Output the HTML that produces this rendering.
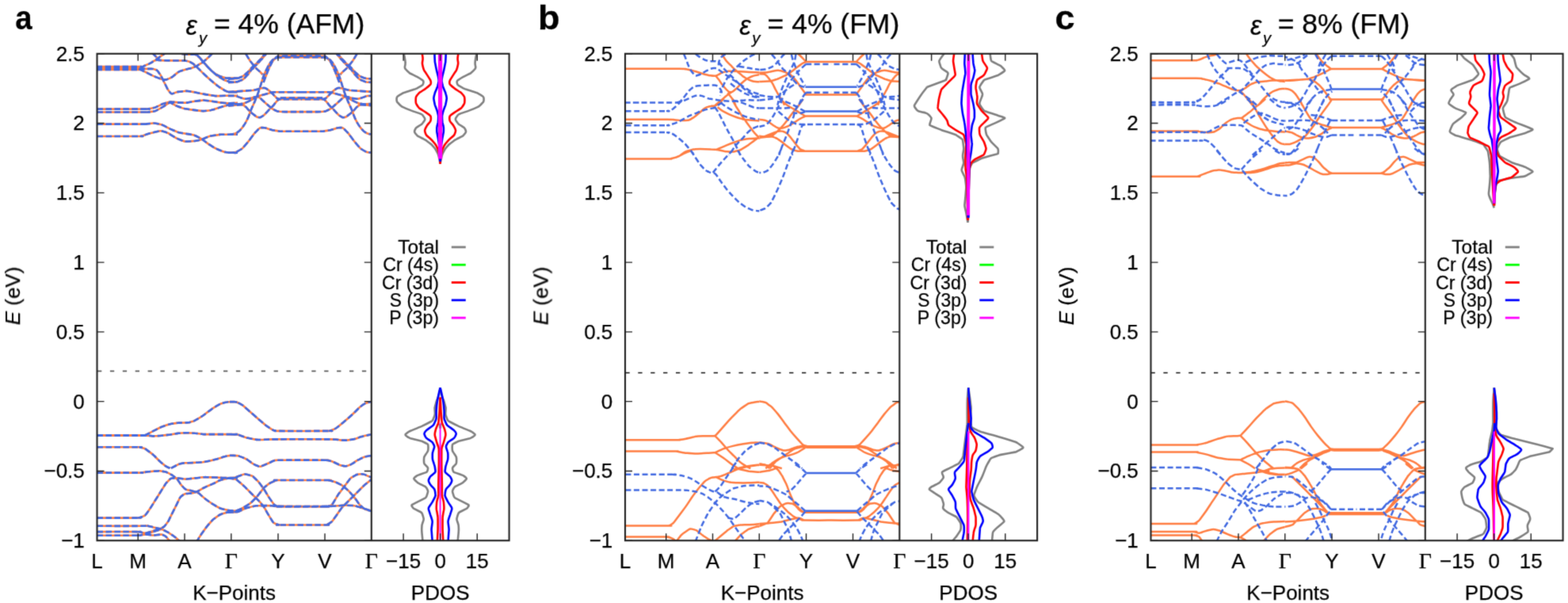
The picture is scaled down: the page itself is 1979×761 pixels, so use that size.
<!DOCTYPE html><html><head><meta charset="utf-8"><style>html,body{margin:0;padding:0;background:#fff;}svg{display:block;}#w{width:1979px;height:761px;}text{font-family:"Liberation Sans",Arial,sans-serif;stroke:#000;stroke-width:0.25px;}</style></head><body>
<div id="w"><svg width="1979" height="761" viewBox="0 0 1979 761">
<defs><filter id="bl" filterUnits="userSpaceOnUse" x="0" y="0" width="1979" height="761" color-interpolation-filters="sRGB"><feConvolveMatrix order="3" kernelMatrix="0.019 0.1 0.019 0.1 0.524 0.1 0.019 0.1 0.019" edgeMode="duplicate"/></filter></defs><rect width="100%" height="100%" fill="#fff"/><g filter="url(#bl)">
<clipPath id="clipa"><rect x="122.5" y="67.8" width="346.3" height="614.4000000000001"/></clipPath>
<g clip-path="url(#clipa)" fill="none" stroke-linecap="butt" stroke-linejoin="round"><defs><path id="pa" d="M121.8 84.1C131.3 84.1 169.4 84.1 178.9 84.1M121.8 86.0C131.3 86.0 169.4 86.0 178.9 86.0M121.8 88.0C131.3 88.0 169.4 88.0 178.9 88.0M177.0 85.8C178.1 85.2 181.6 83.4 183.5 82.5C185.3 81.7 187.0 81.0 188.1 80.6C189.1 80.1 189.3 80.0 189.9 79.7C190.5 79.4 190.8 79.2 191.6 78.7C192.4 78.2 193.9 77.2 194.7 76.7C195.5 76.3 195.8 76.1 196.4 75.9C197.0 75.8 197.2 75.8 198.3 75.8C199.4 75.8 200.5 76.0 202.8 76.1C205.1 76.2 207.3 76.3 212.0 76.4C216.7 76.4 227.6 76.5 231.2 76.5C234.7 76.6 232.5 76.6 233.1 76.6C233.7 76.7 234.2 76.7 234.8 76.8C235.5 76.9 236.4 77.1 237.0 77.2C237.7 77.3 238.1 77.4 238.7 77.7C239.2 77.9 239.7 78.1 240.3 78.4C241.0 78.8 241.9 79.3 242.5 79.7C243.2 80.1 243.6 80.4 244.1 80.8C244.7 81.2 244.6 81.1 245.7 82.1C246.7 83.0 248.6 84.7 250.6 86.7C252.7 88.7 255.2 91.4 258.0 94.0C260.8 96.6 264.4 99.9 267.2 102.3C270.0 104.7 273.3 107.2 274.8 108.4C276.4 109.6 275.9 109.2 276.4 109.6C277.0 110.0 277.2 110.1 278.1 110.7C279.0 111.3 281.1 112.6 282.1 113.2C283.0 113.8 283.2 113.9 283.7 114.2C284.2 114.4 284.6 114.6 285.1 114.8C285.7 115.1 286.4 115.4 287.0 115.6C287.5 115.8 287.9 115.9 288.5 116.0C289.1 116.1 288.4 116.1 290.4 116.1C292.3 116.2 298.4 116.3 300.0 116.3M175.2 86.7C176.7 86.7 181.7 86.8 184.4 86.9C187.1 86.9 190.1 86.8 191.6 86.9C193.1 86.9 192.9 86.9 193.4 87.0C194.0 87.1 194.4 87.2 195.0 87.4C195.5 87.5 196.3 87.8 196.8 88.0C197.3 88.3 197.7 88.4 198.1 88.8C198.6 89.2 198.8 89.4 199.4 90.1C199.9 90.9 201.1 92.5 201.6 93.3C202.2 94.1 202.4 94.4 202.7 95.0C203.1 95.6 202.9 95.2 203.7 96.7C204.5 98.3 206.2 101.7 207.4 104.2C208.6 106.6 210.3 110.0 211.1 111.6C211.9 113.1 211.7 112.7 212.1 113.3C212.5 113.8 212.7 114.2 213.3 114.9C213.8 115.6 214.7 116.8 215.3 117.3C215.9 117.9 216.2 118.2 216.7 118.3C217.3 118.4 217.7 118.3 218.4 118.1C219.2 117.9 220.4 117.2 221.2 116.9C222.0 116.6 222.4 116.4 223.1 116.3C223.7 116.1 223.4 116.1 225.0 115.9C226.7 115.7 231.3 115.1 233.0 115.0C234.7 114.8 234.3 114.9 235.0 114.9C235.7 114.9 235.4 114.8 237.0 115.0C238.5 115.2 240.7 115.5 244.2 116.1C247.7 116.8 253.7 118.1 258.0 118.9C262.3 119.7 267.5 120.5 269.8 120.8C272.1 121.2 271.1 121.0 271.8 121.1C272.5 121.1 271.5 121.2 273.8 121.1C276.1 121.1 281.2 120.8 285.6 120.7C290.0 120.7 297.6 120.7 300.0 120.7M175.2 87.1C176.7 87.8 181.3 89.8 184.4 91.3C187.5 92.7 190.8 94.6 193.6 95.9C196.4 97.1 199.4 98.2 200.9 98.8C202.5 99.4 202.2 99.3 202.8 99.5C203.4 99.7 204.0 99.8 204.7 100.0C205.5 100.1 206.6 100.4 207.3 100.5C208.1 100.6 208.6 100.7 209.2 100.6C209.8 100.6 210.1 100.5 211.1 100.1C212.0 99.8 213.9 98.9 214.8 98.5C215.7 98.1 216.0 97.9 216.5 97.6C217.1 97.3 216.9 97.5 218.2 96.5C219.4 95.5 222.9 92.6 224.2 91.6C225.5 90.6 225.3 90.8 225.9 90.5C226.5 90.2 226.2 90.3 227.7 89.8C229.2 89.3 232.9 88.2 235.0 87.6C237.1 87.0 239.2 86.6 240.4 86.2C241.6 85.9 241.7 85.9 242.3 85.7C243.0 85.5 243.4 85.3 244.2 85.0C245.0 84.7 246.2 84.1 247.0 83.8C247.7 83.4 248.2 83.2 248.8 82.9C249.3 82.6 249.5 82.5 250.5 81.9C251.4 81.4 253.5 80.1 254.5 79.5C255.4 78.9 255.6 78.7 256.1 78.3C256.6 77.9 256.4 78.1 257.7 77.1C258.9 76.0 261.6 73.7 263.5 72.0C265.4 70.2 268.1 67.4 269.0 66.4M191.8 66.4C192.7 67.4 196.5 71.2 197.7 72.4C198.9 73.6 198.6 73.2 198.9 73.5C199.2 73.9 199.3 73.9 199.7 74.2C200.0 74.5 200.7 75.0 201.0 75.2M196.4 75.6C197.4 74.9 200.6 72.6 202.8 71.0C205.0 69.5 208.5 67.2 209.7 66.4M229.5 68.1C230.5 68.2 234.4 68.5 235.8 68.7C237.1 68.8 237.1 68.8 237.8 68.8C238.4 68.8 238.7 68.8 239.8 68.7C240.8 68.7 243.0 68.6 244.0 68.6C245.1 68.5 245.3 68.6 245.9 68.7C246.4 68.8 246.9 69.0 247.4 69.2C248.0 69.5 248.7 69.9 249.3 70.3C249.8 70.6 250.2 70.8 250.6 71.2C251.1 71.6 251.0 71.5 251.9 72.6C252.9 73.6 254.4 75.4 256.2 77.5C257.9 79.5 260.7 82.8 262.6 84.8C264.5 86.9 266.5 88.8 267.6 89.9C268.7 90.9 268.6 90.8 269.1 91.2C269.6 91.6 269.8 91.7 270.7 92.3C271.7 92.9 273.7 94.2 274.7 94.8C275.7 95.4 275.8 95.5 276.4 95.8C277.1 96.0 277.1 96.1 278.3 96.5C279.5 96.8 282.5 97.7 283.7 98.1C284.9 98.4 285.0 98.4 285.6 98.5C286.3 98.6 285.2 98.6 287.6 98.6C290.0 98.7 298.0 98.6 300.0 98.6M246.0 66.4C247.3 67.8 250.9 72.0 253.4 74.7C255.8 77.5 258.5 80.5 260.8 83.0C263.1 85.5 265.1 87.5 267.2 89.4C269.2 91.4 271.8 93.5 273.0 94.6C274.3 95.6 274.1 95.4 274.6 95.8C275.1 96.2 275.0 96.1 276.3 96.9C277.5 97.7 280.8 99.6 282.0 100.4C283.3 101.1 283.2 101.0 283.8 101.3C284.4 101.5 284.6 101.6 285.7 101.9C286.7 102.2 289.0 102.9 290.1 103.2C291.2 103.4 291.4 103.5 292.1 103.5C292.7 103.6 292.7 103.6 294.0 103.6C295.4 103.5 299.0 103.3 300.0 103.2M122.6 137.6C132.8 137.6 173.2 137.6 183.7 137.6C194.2 137.6 185.0 137.6 185.7 137.5C186.3 137.4 186.2 137.5 187.7 137.2C189.1 137.0 192.8 136.3 194.2 136.0C195.7 135.7 195.5 135.7 196.2 135.5C196.8 135.3 196.8 135.3 198.0 134.7C199.2 134.1 202.4 132.5 203.6 131.9C204.9 131.3 204.8 131.3 205.4 131.1C206.1 130.9 206.1 130.8 207.3 130.5C208.5 130.1 211.5 129.3 212.7 128.9C213.9 128.6 214.0 128.6 214.6 128.6C215.3 128.5 214.8 128.4 216.6 128.6C218.3 128.7 222.3 129.3 225.1 129.4C227.9 129.6 231.9 129.6 233.6 129.7C235.4 129.7 235.0 129.7 235.6 129.6C236.3 129.6 235.8 129.7 237.6 129.3C239.3 129.0 243.3 128.2 246.1 127.7C249.0 127.3 252.9 126.9 254.7 126.7C256.4 126.5 256.0 126.5 256.6 126.5C257.3 126.5 256.9 126.5 258.6 126.7C260.4 126.9 264.0 127.3 267.2 127.7C270.3 128.2 274.5 129.0 277.7 129.4C280.8 129.9 284.4 130.0 286.2 130.2C287.9 130.3 287.5 130.3 288.2 130.3C288.8 130.3 288.2 130.4 290.2 130.3C292.1 130.2 298.4 129.8 300.0 129.7M122.6 141.5C132.8 141.5 173.2 141.5 183.7 141.5C194.2 141.5 185.0 141.5 185.7 141.5C186.4 141.4 186.3 141.5 187.7 141.3C189.1 141.1 192.8 140.7 194.2 140.5C195.6 140.3 195.5 140.2 196.1 140.0C196.8 139.8 196.4 140.1 197.9 139.2C199.5 138.4 202.9 136.5 205.4 135.0C207.9 133.4 211.4 131.0 212.9 130.1C214.5 129.2 214.0 129.6 214.6 129.6C215.2 129.6 215.3 129.5 216.3 130.1C217.4 130.6 219.7 132.1 220.8 132.6C221.8 133.2 221.9 133.3 222.5 133.6C223.1 133.8 223.2 133.9 224.4 134.3C225.6 134.8 228.6 135.8 229.8 136.3C231.0 136.7 231.1 136.7 231.7 136.8C232.3 137.0 231.5 136.9 233.7 137.2C235.8 137.6 241.3 138.4 244.8 138.9C248.3 139.4 252.7 139.8 254.7 140.0C256.6 140.2 256.0 140.1 256.6 140.1C257.3 140.1 257.2 140.1 258.6 140.0C260.1 139.8 263.8 139.3 265.2 139.2C266.6 139.0 266.5 139.0 267.1 138.8C267.8 138.7 267.3 138.8 269.1 138.3C270.8 137.8 274.8 136.5 277.7 135.6C280.5 134.7 284.5 133.5 286.3 132.9C288.0 132.4 287.5 132.6 288.2 132.4C288.8 132.3 288.2 132.3 290.2 132.1C292.1 131.9 298.4 131.2 300.0 131.0M122.6 156.6C132.4 156.6 171.0 156.7 181.1 156.6C191.1 156.6 182.4 156.6 183.1 156.6C183.7 156.6 183.4 156.6 185.1 156.4C186.7 156.2 191.3 155.7 192.9 155.5C194.5 155.4 194.2 155.5 194.9 155.5C195.5 155.5 195.6 155.5 196.8 155.7C198.1 156.0 200.9 156.6 202.1 156.9C203.3 157.2 203.4 157.2 204.0 157.4C204.7 157.6 204.1 157.3 205.9 158.2C207.6 159.1 211.7 161.2 214.6 162.6C217.5 163.9 221.5 165.6 223.3 166.4C225.0 167.1 224.5 166.8 225.1 167.0C225.8 167.2 225.3 167.2 227.1 167.5C228.8 167.8 233.0 168.4 235.6 168.9C238.2 169.3 241.3 169.8 242.8 170.1C244.4 170.4 244.1 170.4 244.8 170.6C245.4 170.8 245.4 170.7 246.6 171.3C247.9 171.9 251.0 173.5 252.2 174.1C253.5 174.8 253.4 174.8 254.0 175.1C254.5 175.5 254.3 175.3 255.6 176.2C256.9 177.2 259.4 179.2 261.9 180.9C264.4 182.7 269.0 185.4 270.7 186.5C272.5 187.5 271.9 187.1 272.5 187.4C273.0 187.7 272.6 187.6 274.3 188.2C275.9 188.9 280.7 190.8 282.4 191.4C284.0 192.0 283.6 191.8 284.3 192.0C284.9 192.1 284.5 192.1 286.2 192.2C288.0 192.4 292.5 192.7 294.7 192.8C297.0 192.9 299.1 192.8 300.0 192.8M122.6 172.0C131.5 172.0 166.6 172.0 175.8 172.0C185.0 172.0 177.1 172.0 177.8 171.9C178.4 171.7 177.9 171.9 179.7 171.4C181.5 170.8 184.8 169.5 188.3 168.5C191.8 167.5 198.4 165.9 200.8 165.4C203.2 164.9 202.1 165.2 202.8 165.2C203.4 165.2 203.5 165.2 204.7 165.5C205.9 165.9 208.9 166.8 210.1 167.2C211.3 167.6 211.3 167.6 211.9 167.9C212.5 168.2 212.2 168.0 213.7 168.9C215.1 169.8 219.3 172.4 220.8 173.3C222.3 174.2 221.9 174.0 222.5 174.3C223.1 174.6 222.9 174.5 224.3 175.1C225.8 175.7 229.7 177.3 231.1 177.8C232.6 178.4 232.4 178.3 233.0 178.4C233.7 178.5 233.4 178.5 235.0 178.5C236.6 178.5 241.2 178.2 242.8 178.1C244.5 178.1 244.2 178.1 244.8 178.0C245.5 177.9 245.6 177.9 246.8 177.7C248.0 177.5 250.9 177.0 252.1 176.7C253.2 176.5 253.3 176.4 254.0 176.2C254.6 176.0 254.4 176.2 255.8 175.5C257.3 174.9 261.2 173.2 262.7 172.6C264.1 171.9 263.9 172.1 264.6 171.9C265.2 171.7 264.7 171.8 266.5 171.5C268.4 171.2 273.8 170.3 275.7 170.1C277.5 169.8 277.0 169.9 277.7 169.9C278.3 169.8 277.5 169.8 279.7 169.8C281.9 169.8 287.4 169.8 290.8 169.8C294.2 169.8 298.5 169.8 300.0 169.8M122.6 549.4C132.4 549.4 171.0 549.4 181.1 549.4C191.1 549.3 182.4 549.3 183.0 549.2C183.6 549.0 183.1 549.3 184.8 548.5C186.6 547.6 190.7 545.4 193.6 543.9C196.5 542.4 200.5 540.4 202.3 539.5C204.1 538.6 203.5 538.9 204.1 538.7C204.7 538.4 204.6 538.5 206.0 538.0C207.4 537.5 211.3 536.2 212.7 535.7C214.1 535.2 214.0 535.3 214.6 535.2C215.3 535.0 215.2 535.0 216.6 534.8C218.0 534.6 221.7 534.1 223.1 533.9C224.6 533.7 224.5 533.7 225.1 533.7C225.8 533.6 225.3 533.6 227.1 533.6C229.0 533.5 234.4 533.5 236.3 533.4C238.1 533.3 237.6 533.3 238.2 533.2C238.9 533.1 239.1 533.0 240.1 532.7C241.1 532.4 243.2 531.7 244.2 531.4C245.2 531.0 245.5 530.9 246.1 530.6C246.7 530.3 246.1 530.7 247.8 529.7C249.6 528.6 253.4 526.4 256.6 524.2C259.9 521.9 263.9 518.5 267.2 516.3C270.4 514.0 274.2 511.8 276.0 510.8C277.7 509.7 277.1 510.1 277.7 509.9C278.3 509.6 278.2 509.6 279.6 509.2C281.0 508.8 284.8 507.9 286.2 507.6C287.7 507.2 287.5 507.3 288.2 507.2C288.8 507.1 289.2 507.1 290.2 507.1C291.2 507.1 293.1 507.1 294.1 507.1C295.0 507.1 295.3 507.1 295.9 507.1C296.4 507.2 296.6 507.2 297.2 507.3C297.9 507.4 299.5 507.7 300.0 507.7M122.6 549.8C132.7 549.8 171.6 549.7 183.1 549.8C194.6 549.9 189.8 550.2 191.6 550.3C193.3 550.4 192.9 550.4 193.6 550.4C194.2 550.4 193.8 550.4 195.6 550.3C197.3 550.2 200.9 550.1 204.1 549.8C207.3 549.5 211.4 548.9 214.6 548.5C217.8 548.0 221.4 547.4 223.1 547.1C224.9 546.8 224.5 546.9 225.1 546.8C225.8 546.7 225.4 546.8 227.1 546.7C228.9 546.6 232.5 546.2 235.6 546.2C238.8 546.3 243.0 546.5 246.1 546.8C249.3 547.0 252.9 547.6 254.7 547.8C256.4 548.0 256.0 548.0 256.6 548.0C257.3 548.1 255.1 548.1 258.6 548.1C262.1 548.1 270.8 548.1 277.7 548.1C284.6 548.1 296.3 548.1 300.0 548.1M122.6 564.2C131.3 564.2 165.5 564.2 174.5 564.2C183.5 564.3 175.8 564.3 176.5 564.4C177.1 564.5 177.6 564.6 178.4 564.8C179.2 565.0 180.4 565.4 181.2 565.6C181.9 565.9 182.4 566.1 183.0 566.4C183.6 566.7 183.2 566.3 184.7 567.4C186.2 568.5 190.5 571.8 192.0 572.9C193.5 574.0 193.0 573.7 193.5 574.1C194.0 574.6 193.7 574.2 195.0 575.5C196.3 576.8 199.3 580.0 201.5 582.0C203.6 583.9 206.5 586.2 207.8 587.3C209.1 588.3 208.8 588.1 209.4 588.4C209.9 588.7 210.0 588.8 210.9 589.3C211.8 589.7 214.0 590.6 214.6 590.9M215.9 590.9C217.2 590.2 221.8 587.7 223.4 586.9C224.9 586.1 224.5 586.3 225.2 586.0C225.8 585.8 226.3 585.7 227.1 585.4C227.8 585.2 229.0 585.0 229.7 584.8C230.5 584.6 231.0 584.5 231.7 584.4C232.4 584.4 231.5 584.4 233.7 584.3C235.9 584.2 241.1 584.1 244.8 583.9C248.5 583.8 253.8 583.3 256.0 583.2C258.2 583.0 257.3 583.0 257.9 582.9C258.6 582.8 257.7 583.1 259.9 582.6C262.1 582.1 267.0 581.1 271.1 580.0C275.2 578.9 281.3 576.9 284.2 576.1C287.2 575.2 287.7 575.3 288.8 575.1C289.9 574.9 290.2 574.9 290.8 574.9C291.5 574.8 291.3 574.8 292.8 574.8C294.3 574.9 298.8 575.1 300.0 575.1M290.0 507.1C291.0 507.1 294.6 507.0 295.9 507.1C297.2 507.1 297.2 507.2 297.8 507.3C298.5 507.5 298.6 507.5 299.7 508.0C300.7 508.4 303.0 509.6 304.0 510.1C305.0 510.7 305.1 510.8 305.7 511.1C306.2 511.5 305.5 510.8 307.3 512.3C309.0 513.9 313.0 517.4 316.3 520.2C319.5 523.1 323.8 526.8 326.8 529.4C329.8 532.0 332.9 534.7 334.5 536.0C336.0 537.3 335.5 536.8 336.0 537.2C336.6 537.6 336.4 537.6 337.7 538.4C338.9 539.2 342.2 541.4 343.5 542.1C344.8 542.9 344.6 542.8 345.3 543.0C345.9 543.2 345.9 543.2 347.2 543.4C348.5 543.5 341.9 543.8 353.1 543.9C364.2 544.0 403.6 543.9 414.1 543.9C424.6 543.8 415.5 543.8 416.1 543.7C416.7 543.5 417.0 543.5 418.0 543.1C419.0 542.7 421.2 541.8 422.2 541.4C423.2 540.9 423.4 540.8 423.9 540.5C424.5 540.1 423.8 540.7 425.6 539.3C427.3 537.9 431.3 534.8 434.5 532.0C437.8 529.3 442.0 525.7 445.0 522.8C448.1 520.0 451.3 516.6 452.8 515.1C454.4 513.5 453.8 514.1 454.3 513.7C454.8 513.3 455.1 513.1 455.9 512.5C456.7 511.9 458.3 510.7 459.2 510.2C460.0 509.6 460.3 509.5 460.9 509.2C461.5 508.9 462.0 508.7 462.7 508.5C463.5 508.2 464.7 507.9 465.5 507.7C466.2 507.4 466.7 507.3 467.4 507.2C468.0 507.1 468.3 507.1 469.3 507.0C470.4 506.9 473.2 506.8 473.9 506.8M290.0 548.1C291.4 548.1 296.8 548.3 298.5 548.4C300.3 548.5 299.8 548.5 300.5 548.6C301.1 548.8 300.9 548.7 302.4 549.2C303.8 549.7 307.7 551.2 309.1 551.7C310.6 552.2 310.4 552.1 311.0 552.3C311.7 552.5 311.1 552.4 313.0 552.8C314.8 553.2 320.3 554.3 322.2 554.6C324.1 555.0 323.5 554.9 324.2 554.9C324.8 555.0 324.8 555.0 326.2 555.0C327.5 555.1 328.9 555.1 332.0 555.0C335.2 554.9 331.2 554.5 345.2 554.4C359.2 554.3 402.1 554.2 416.1 554.4C430.1 554.6 426.1 555.2 429.3 555.4C432.4 555.6 433.8 555.6 435.2 555.6C436.5 555.7 436.5 555.6 437.2 555.6C437.8 555.6 437.7 555.6 439.1 555.4C440.6 555.2 444.3 554.6 445.7 554.4C447.1 554.2 447.0 554.2 447.6 554.0C448.3 553.9 448.1 553.9 449.6 553.5C451.0 553.0 454.8 551.6 456.3 551.1C457.7 550.6 457.6 550.7 458.2 550.5C458.8 550.3 458.9 550.3 460.1 550.0C461.3 549.8 464.2 549.1 465.4 548.9C466.6 548.6 466.7 548.6 467.4 548.5C468.0 548.5 468.3 548.4 469.3 548.3C470.4 548.3 473.2 548.1 473.9 548.1M290.0 574.7C291.4 574.8 296.8 575.0 298.5 575.1C300.3 575.2 299.8 575.2 300.5 575.3C301.1 575.4 300.9 575.3 302.4 575.9C303.8 576.4 307.7 578.0 309.2 578.6C310.6 579.2 310.4 579.1 311.0 579.4C311.5 579.8 311.4 579.6 312.6 580.5C313.9 581.4 317.3 583.9 318.6 584.8C319.9 585.6 319.7 585.5 320.3 585.8C320.9 586.1 321.1 586.2 322.1 586.7C323.1 587.1 325.3 588.1 326.3 588.4C327.3 588.8 327.5 588.8 328.1 588.8C328.7 588.8 328.4 589.0 329.9 588.4C331.5 587.8 334.8 586.4 337.3 585.3C339.8 584.2 343.1 582.5 344.7 581.8C346.2 581.1 345.9 581.3 346.5 581.1C347.2 581.0 347.0 580.9 348.5 580.9C350.0 580.8 345.4 580.7 355.7 580.7C366.0 580.6 400.8 580.6 410.2 580.7C419.6 580.7 411.5 580.7 412.2 580.8C412.8 580.9 413.1 580.9 414.1 581.1C415.1 581.4 417.2 581.9 418.1 582.1C419.1 582.4 419.4 582.5 420.0 582.7C420.7 583.0 420.6 582.9 421.9 583.5C423.1 584.1 426.2 585.7 427.5 586.3C428.7 586.9 428.7 586.9 429.3 587.1C429.9 587.3 430.5 587.4 431.2 587.6C432.0 587.8 433.1 588.0 433.9 588.1C434.6 588.3 435.2 588.3 435.8 588.3C436.5 588.3 437.0 588.2 437.8 588.0C438.5 587.8 439.7 587.4 440.5 587.1C441.3 586.9 441.8 586.7 442.4 586.4C443.0 586.2 442.8 586.3 444.1 585.5C445.4 584.7 448.7 582.5 449.9 581.7C451.2 580.9 451.1 581.0 451.6 580.7C452.2 580.4 452.4 580.3 453.4 579.8C454.4 579.2 456.7 578.1 457.7 577.6C458.7 577.1 458.9 577.1 459.5 576.8C460.2 576.6 460.5 576.5 461.5 576.3C462.4 576.1 464.4 575.7 465.4 575.5C466.4 575.3 466.7 575.3 467.4 575.2C468.0 575.1 468.3 575.1 469.3 575.0C470.4 574.9 473.2 574.8 473.9 574.7M122.6 596.6C131.5 596.6 166.6 596.6 175.8 596.6C185.0 596.6 177.1 596.5 177.8 596.5C178.5 596.5 178.0 596.5 179.8 596.3C181.5 596.1 185.0 595.6 188.3 595.2C191.6 594.9 197.3 594.5 199.5 594.4C201.7 594.2 200.8 594.3 201.5 594.3C202.1 594.3 202.4 594.4 203.4 594.5C204.4 594.7 206.4 595.0 207.4 595.2C208.3 595.4 208.7 595.4 209.3 595.7C209.9 595.9 210.1 595.9 211.1 596.4C212.2 596.9 214.4 598.0 215.4 598.6C216.4 599.1 216.6 599.2 217.2 599.5C217.7 599.9 217.9 600.0 218.8 600.7C219.6 601.4 221.4 602.8 222.2 603.5C223.1 604.1 223.2 604.3 223.7 604.8C224.1 605.3 224.2 605.4 224.9 606.4C225.6 607.4 227.2 609.9 227.9 610.9C228.6 612.0 228.7 612.0 229.1 612.5C229.5 613.0 229.8 613.4 230.5 614.0C231.1 614.7 232.2 615.8 232.9 616.4C233.6 617.0 233.9 617.3 234.4 617.6C235.0 617.9 235.0 617.9 236.3 618.2C237.6 618.5 240.2 618.9 242.2 619.4C244.2 619.9 246.9 620.8 248.2 621.2C249.5 621.6 249.4 621.7 250.0 622.0C250.5 622.3 250.0 621.8 251.6 623.1C253.1 624.4 256.7 627.7 259.3 629.7C261.8 631.7 265.3 634.0 266.8 635.1C268.4 636.2 267.9 635.8 268.5 636.2C269.1 636.6 269.0 636.5 270.2 637.2C271.4 638.0 274.7 639.8 275.9 640.5C277.2 641.2 277.1 641.1 277.7 641.4C278.3 641.6 278.2 641.6 279.6 642.0C281.0 642.4 284.8 643.3 286.2 643.6C287.7 644.0 287.5 643.9 288.2 644.0C288.8 644.1 288.2 644.1 290.2 644.2C292.1 644.4 298.4 644.7 300.0 644.8M122.6 653.6C131.1 653.6 164.4 653.6 173.2 653.6C181.9 653.6 174.5 653.5 175.2 653.4C175.8 653.3 176.1 653.2 177.1 652.9C178.1 652.6 180.2 651.8 181.2 651.4C182.2 651.0 182.4 650.8 182.9 650.5C183.4 650.1 183.1 650.6 184.2 649.1C185.4 647.6 187.6 644.5 189.6 641.5C191.6 638.5 194.0 634.5 196.2 631.0C198.4 627.5 200.8 623.7 202.8 620.5C204.8 617.3 207.2 613.4 208.3 611.7C209.4 609.9 209.0 610.6 209.4 610.0C209.8 609.5 209.9 609.4 210.8 608.5C211.6 607.7 213.6 605.6 214.5 604.8C215.4 604.0 215.5 604.0 216.1 603.7C216.6 603.5 217.0 603.5 217.9 603.4C218.9 603.3 220.8 603.4 221.8 603.4C222.8 603.4 223.1 603.4 223.8 603.5C224.5 603.5 224.4 603.5 225.8 603.6C227.2 603.8 230.9 604.3 232.3 604.5C233.7 604.6 233.6 604.6 234.3 604.6C235.0 604.6 234.3 604.7 236.3 604.5C238.3 604.3 242.6 603.8 246.1 603.4C249.6 603.0 255.1 602.5 257.3 602.3C259.5 602.1 258.6 602.2 259.3 602.1C259.9 602.1 258.2 602.1 261.3 602.2C264.3 602.3 273.1 602.5 277.7 602.7C282.3 602.9 286.6 603.2 288.8 603.3C291.0 603.4 290.1 603.3 290.8 603.3C291.5 603.3 291.3 603.4 292.8 603.3C294.3 603.2 298.8 602.8 300.0 602.7M122.6 663.8C132.0 663.8 168.9 663.9 179.1 663.8C189.3 663.8 182.6 663.6 183.7 663.6C184.8 663.5 185.0 663.5 185.7 663.6C186.3 663.7 186.3 663.6 187.6 663.9C188.9 664.2 191.2 664.8 193.6 665.4C196.0 666.0 200.4 666.9 202.1 667.3C203.9 667.7 203.4 667.7 204.0 667.9C204.7 668.1 204.9 668.2 205.9 668.7C206.9 669.2 209.2 670.3 210.2 670.8C211.2 671.3 211.4 671.4 211.9 671.8C212.5 672.1 212.6 672.1 213.6 672.8C214.7 673.5 217.2 675.2 218.2 675.9C219.2 676.6 219.3 676.6 219.8 677.0C220.3 677.4 219.8 677.0 221.4 678.3C222.9 679.6 227.8 683.8 229.1 684.9M122.6 671.1C131.1 671.1 164.4 671.0 173.2 671.1C181.9 671.1 174.5 671.1 175.2 671.2C175.8 671.3 176.1 671.3 177.1 671.5C178.1 671.8 180.1 672.3 181.1 672.5C182.1 672.7 182.4 672.8 183.1 672.8C183.7 672.8 183.5 672.9 185.0 672.5C186.5 672.1 189.7 671.2 192.3 670.4C194.8 669.6 198.0 668.5 200.1 667.8C202.2 667.0 203.8 666.4 204.9 665.9C205.9 665.4 206.0 665.3 206.6 664.9C207.1 664.6 207.3 664.4 208.0 663.6C208.7 662.8 210.1 661.0 210.7 660.1C211.4 659.3 211.5 659.1 211.9 658.5C212.2 658.0 212.0 658.5 212.9 656.8C213.8 655.0 215.6 651.3 217.2 648.1C218.8 644.9 220.9 640.8 222.5 637.6C224.1 634.3 225.9 630.6 226.8 628.8C227.7 627.1 227.5 627.7 227.9 627.2C228.3 626.7 228.7 626.3 229.3 625.9C229.9 625.4 230.8 624.7 231.4 624.3C232.0 623.9 232.5 623.6 233.1 623.4C233.7 623.1 233.8 623.1 235.0 623.0C236.2 622.8 239.0 622.7 240.2 622.6C241.4 622.5 241.5 622.5 242.2 622.3C242.8 622.2 243.3 622.1 244.1 621.9C244.9 621.7 246.1 621.3 246.8 621.0C247.6 620.8 248.1 620.6 248.7 620.4C249.3 620.1 249.2 620.2 250.5 619.5C251.7 618.8 255.0 616.9 256.2 616.2C257.5 615.5 257.4 615.6 258.0 615.3C258.6 615.0 258.0 615.2 259.8 614.4C261.5 613.6 265.8 611.9 268.5 610.6C271.2 609.4 274.3 607.7 275.9 606.9C277.4 606.2 277.1 606.4 277.7 606.1C278.3 605.9 278.2 605.9 279.6 605.5C281.0 605.2 284.8 604.2 286.2 603.9C287.7 603.5 287.5 603.6 288.2 603.5C288.8 603.4 288.2 603.4 290.2 603.3C292.1 603.2 298.4 602.8 300.0 602.7M122.6 675.7C131.1 675.7 164.4 675.7 173.2 675.7C181.9 675.6 174.5 675.6 175.2 675.6C175.8 675.5 176.0 675.5 177.2 675.4C178.4 675.2 181.2 674.8 182.4 674.6C183.6 674.5 183.7 674.5 184.4 674.5C185.0 674.5 185.2 674.5 186.4 674.6C187.6 674.8 190.4 675.2 191.6 675.4C192.8 675.5 192.9 675.5 193.6 675.5C194.2 675.5 194.1 675.6 195.6 675.4C197.0 675.3 200.7 674.7 202.1 674.6C203.5 674.5 203.4 674.5 204.0 674.6C204.6 674.7 205.0 674.9 205.7 675.1C206.3 675.4 207.2 675.8 207.8 676.2C208.4 676.5 208.8 676.8 209.3 677.2C209.7 677.5 209.5 677.2 210.6 678.5C211.7 679.8 215.0 683.8 215.9 684.9M183.1 674.3C184.8 673.8 190.1 672.2 193.6 671.1C197.1 670.0 202.3 668.3 204.1 667.8M247.4 684.9C248.5 683.1 251.8 677.6 254.0 674.3C256.2 671.1 258.4 668.0 260.6 665.1C262.8 662.3 265.8 659.0 267.2 657.5C268.5 656.0 268.1 656.5 268.6 656.0C269.0 655.6 268.8 655.7 270.1 654.8C271.3 653.9 274.8 651.4 276.0 650.5C277.3 649.7 277.1 649.8 277.7 649.5C278.3 649.2 278.6 649.1 279.6 648.7C280.6 648.4 282.7 647.7 283.7 647.4C284.7 647.1 284.9 647.0 285.6 646.9C286.2 646.7 285.1 646.8 287.5 646.6C289.9 646.4 297.9 645.9 300.0 645.7M287.4 603.4C288.6 603.3 293.0 603.0 294.6 602.9C296.1 602.7 295.9 602.7 296.5 602.6C297.2 602.4 296.8 602.6 298.4 602.0C300.1 601.4 304.9 599.5 306.5 598.9C308.2 598.3 307.8 598.5 308.4 598.4C309.0 598.4 308.9 598.3 310.3 598.6C311.8 598.9 315.6 599.9 317.0 600.3C318.4 600.7 318.2 600.7 318.8 601.0C319.3 601.3 319.2 601.1 320.3 602.2C321.4 603.2 324.3 606.1 325.4 607.2C326.4 608.3 326.3 608.2 326.7 608.7C327.2 609.2 326.8 608.8 328.0 610.3C329.1 611.8 331.4 614.8 333.4 617.8C335.4 620.9 337.9 625.3 339.9 628.4C341.9 631.4 344.2 634.4 345.3 635.9C346.4 637.4 346.1 636.9 346.6 637.3C347.1 637.7 347.5 637.9 348.1 638.1C348.7 638.4 349.5 638.7 350.2 638.9C350.8 639.1 351.3 639.3 351.9 639.4C352.5 639.5 344.0 639.5 353.8 639.5C363.5 639.6 400.5 639.6 410.2 639.5C419.9 639.5 411.5 639.5 412.2 639.4C412.8 639.3 413.3 639.2 414.1 639.0C414.9 638.7 416.1 638.4 416.8 638.1C417.6 637.9 418.0 637.7 418.5 637.3C419.0 636.9 418.6 637.7 419.8 635.8C421.0 634.0 424.5 628.0 425.6 626.1C426.8 624.2 426.3 625.0 426.7 624.4C427.1 623.9 426.5 624.6 427.8 622.8C429.2 621.1 432.3 616.9 434.5 613.9C436.8 610.9 439.9 606.7 441.2 605.0C442.5 603.3 442.1 604.0 442.5 603.5C443.0 603.1 443.1 603.0 444.1 602.4C445.1 601.8 447.5 600.4 448.6 599.8C449.6 599.2 449.7 599.2 450.4 599.0C451.0 598.8 451.3 598.7 452.3 598.6C453.3 598.5 455.2 598.3 456.2 598.3C457.2 598.3 457.5 598.3 458.1 598.4C458.8 598.5 458.7 598.4 460.0 598.9C461.3 599.4 464.0 600.6 466.1 601.4C468.2 602.3 471.5 603.6 472.6 604.1M287.4 603.4C288.8 603.6 294.2 604.2 295.9 604.5C297.6 604.7 297.2 604.7 297.8 605.0C298.3 605.2 297.6 604.5 299.4 606.0C301.2 607.5 305.1 610.8 308.4 613.9C311.6 617.0 315.9 621.4 318.9 624.4C322.0 627.5 325.2 630.7 326.7 632.2C328.2 633.7 327.6 633.2 328.1 633.7C328.5 634.1 328.7 634.3 329.4 635.2C330.0 636.0 331.5 637.8 332.1 638.6C332.8 639.5 332.9 639.7 333.3 640.2C333.7 640.8 333.5 640.4 334.4 641.9C335.2 643.4 337.0 646.7 338.6 649.4C340.2 652.1 343.0 656.5 344.1 658.2C345.3 659.9 344.9 659.2 345.4 659.7C345.9 660.1 346.3 660.3 347.0 660.6C347.8 661.0 349.1 661.5 349.9 661.8C350.7 662.1 351.1 662.2 351.8 662.3C352.4 662.5 344.0 662.5 353.8 662.5C363.5 662.6 400.5 662.6 410.2 662.5C419.9 662.5 411.5 662.4 412.1 662.3C412.7 662.1 413.1 661.9 413.9 661.5C414.7 661.0 416.3 660.1 417.0 659.6C417.8 659.1 418.1 658.9 418.6 658.4C419.1 658.0 418.8 658.5 419.9 657.0C421.0 655.4 423.5 651.9 425.3 649.4C427.1 646.9 429.6 643.3 430.7 641.8C431.8 640.3 431.5 640.7 432.0 640.2C432.4 639.7 431.8 640.3 433.3 638.8C434.8 637.2 438.3 633.8 441.1 631.0C443.9 628.2 447.5 624.6 450.3 621.8C453.1 619.0 456.5 615.5 458.1 614.0C459.6 612.5 459.0 613.1 459.5 612.6C460.0 612.2 458.9 613.1 461.1 611.3C463.2 609.6 470.7 603.6 472.6 602.1M287.4 645.7C288.8 645.6 294.1 645.1 295.9 645.0C297.6 644.8 297.2 644.8 297.8 644.6C298.5 644.5 298.7 644.4 299.7 644.0C300.7 643.6 302.9 642.7 303.9 642.3C304.9 641.8 305.1 641.7 305.7 641.4C306.3 641.1 306.0 641.3 307.5 640.4C308.9 639.5 313.1 636.9 314.6 636.0C316.0 635.1 315.7 635.3 316.2 634.8C316.7 634.4 316.6 634.6 317.7 633.5C318.8 632.5 321.7 629.5 322.7 628.5C323.8 627.4 323.7 627.5 324.1 627.0C324.6 626.5 324.1 627.2 325.4 625.5C326.7 623.8 330.8 618.5 332.1 616.8C333.5 615.1 333.0 615.8 333.4 615.3C333.9 614.8 334.1 614.7 334.9 614.0C335.7 613.3 337.5 611.9 338.4 611.2C339.2 610.6 339.4 610.4 340.0 610.1C340.6 609.7 340.6 609.7 341.8 609.2C343.0 608.6 346.1 607.3 347.3 606.8C348.5 606.3 348.5 606.4 349.2 606.2C349.8 606.1 340.5 606.1 351.1 606.0C361.7 606.0 402.2 606.0 412.8 606.0C423.4 606.0 414.1 606.1 414.8 606.2C415.5 606.3 415.5 606.2 416.7 606.6C418.0 606.9 420.9 607.7 422.1 608.1C423.3 608.5 423.4 608.5 424.0 608.7C424.6 609.0 424.8 609.1 425.8 609.5C426.8 610.0 429.1 611.2 430.1 611.7C431.1 612.2 431.3 612.3 431.8 612.7C432.4 613.1 432.4 613.0 433.4 613.9C434.5 614.7 437.2 617.0 438.2 617.9C439.3 618.8 439.3 618.8 439.7 619.2C440.2 619.7 439.8 619.2 441.1 620.7C442.4 622.2 445.7 625.8 447.7 628.4C449.7 630.9 452.0 634.4 453.1 635.9C454.2 637.4 453.9 637.0 454.3 637.5C454.8 637.9 455.0 638.1 455.8 638.8C456.6 639.5 458.4 640.9 459.2 641.6C460.1 642.2 460.3 642.3 460.9 642.6C461.5 642.9 460.8 642.8 462.7 643.3C464.7 643.9 471.0 645.6 472.6 646.1M287.4 646.8C289.2 646.7 296.3 646.3 298.5 646.2C300.7 646.1 299.8 646.1 300.5 645.9C301.1 645.7 301.1 645.8 302.3 645.2C303.5 644.6 306.7 643.0 307.9 642.4C309.2 641.8 309.1 641.8 309.7 641.6C310.4 641.4 309.8 641.5 311.6 641.0C313.5 640.5 319.0 639.1 320.9 638.7C322.8 638.3 322.2 638.4 322.9 638.3C323.5 638.3 321.6 638.2 324.8 638.2C328.1 638.2 338.1 638.1 342.6 638.2C347.0 638.3 339.7 638.8 351.8 638.9C363.8 639.0 401.4 639.1 414.8 638.9C428.3 638.7 429.2 637.9 432.5 637.7C435.8 637.5 433.9 637.6 434.5 637.6C435.2 637.6 434.7 637.6 436.5 637.7C438.4 637.7 443.8 638.0 445.7 638.1C447.5 638.2 447.0 638.2 447.6 638.3C448.3 638.5 447.8 638.3 449.6 638.8C451.3 639.3 454.3 640.3 458.2 641.5C462.0 642.7 470.2 645.3 472.6 646.1M288.0 169.8C288.5 169.8 290.0 169.7 291.0 169.6C292.0 169.5 293.1 169.3 293.8 169.2C294.5 169.2 294.6 169.1 295.0 169.0C295.3 169.0 295.6 168.9 296.1 168.7C296.5 168.6 297.0 168.4 297.4 168.2C297.9 168.0 298.1 167.9 298.5 167.7C298.9 167.5 299.1 167.3 299.6 167.1C300.0 166.8 300.5 166.4 300.9 166.1C301.4 165.8 301.6 165.6 302.0 165.3C302.4 165.0 302.6 164.7 303.1 164.2C303.5 163.8 304.0 163.1 304.4 162.7C304.9 162.2 305.1 161.9 305.5 161.4C305.9 161.0 306.1 160.6 306.6 160.0C307.0 159.4 307.5 158.6 307.9 158.0C308.4 157.4 308.6 157.0 309.0 156.4C309.3 155.9 309.4 155.7 309.9 154.8C310.4 153.8 311.2 152.4 312.0 150.8C312.8 149.2 313.5 147.5 314.4 145.2C315.3 142.9 316.5 139.4 317.6 136.8C318.7 134.2 320.0 131.7 320.9 129.6C321.8 127.5 322.3 126.5 323.1 124.4C323.9 122.3 325.0 119.6 325.9 117.0C326.8 114.4 327.7 111.7 328.6 108.8C329.5 105.9 330.5 102.4 331.4 99.6C332.3 96.8 333.1 94.7 334.2 92.2C335.3 89.7 336.8 86.8 337.8 84.8C338.8 82.8 339.9 81.2 340.5 80.1C341.1 79.1 341.2 79.0 341.5 78.6C341.9 78.1 342.2 77.7 342.6 77.3C343.0 76.8 343.6 76.2 344.1 75.8C344.5 75.4 344.9 75.1 345.3 74.8C345.7 74.5 346.1 74.3 346.6 74.1C347.1 73.8 347.9 73.5 348.4 73.2C349.0 73.0 349.4 72.9 350.0 72.7C350.5 72.6 350.1 72.6 351.8 72.5C353.5 72.5 355.1 72.3 360.0 72.3C364.9 72.3 377.5 72.3 381.0 72.3M472.8 169.8C472.3 169.8 470.8 169.7 469.8 169.6C468.8 169.5 467.7 169.3 467.0 169.2C466.3 169.2 466.2 169.1 465.8 169.0C465.5 169.0 465.2 168.9 464.7 168.7C464.3 168.6 463.8 168.4 463.3 168.2C462.9 168.0 462.6 167.9 462.3 167.7C461.9 167.5 461.7 167.3 461.2 167.1C460.8 166.8 460.3 166.4 459.8 166.1C459.4 165.8 459.1 165.6 458.8 165.3C458.4 165.0 458.2 164.7 457.7 164.2C457.3 163.8 456.8 163.1 456.3 162.7C455.9 162.2 455.6 161.9 455.3 161.4C454.9 161.0 454.7 160.6 454.2 160.0C453.8 159.4 453.3 158.6 452.8 158.0C452.4 157.4 452.2 157.0 451.8 156.4C451.5 155.9 451.4 155.7 450.9 154.8C450.4 153.8 449.5 152.4 448.8 150.8C448.0 149.2 447.3 147.5 446.4 145.2C445.5 142.9 444.3 139.4 443.2 136.8C442.1 134.2 440.8 131.7 439.9 129.6C439.0 127.5 438.5 126.5 437.7 124.4C436.9 122.3 435.8 119.6 434.9 117.0C434.0 114.4 433.1 111.7 432.2 108.8C431.3 105.9 430.3 102.4 429.4 99.6C428.5 96.8 427.7 94.7 426.6 92.2C425.5 89.7 424.0 86.8 423.0 84.8C422.0 82.8 420.9 81.2 420.3 80.1C419.7 79.1 419.6 79.0 419.3 78.6C418.9 78.1 418.6 77.7 418.2 77.3C417.8 76.8 417.2 76.2 416.7 75.8C416.3 75.4 415.9 75.1 415.5 74.8C415.1 74.5 414.7 74.3 414.2 74.1C413.7 73.8 412.9 73.5 412.4 73.2C411.8 73.0 411.4 72.9 410.8 72.7C410.3 72.6 410.7 72.6 409.0 72.5C407.3 72.5 405.7 72.3 400.8 72.3C395.9 72.3 383.3 72.3 379.8 72.3M332.5 104.0C332.9 103.0 334.0 100.2 334.8 98.0C335.6 95.8 336.6 93.3 337.5 91.0C338.4 88.7 339.6 85.9 340.5 84.0C341.4 82.1 342.1 80.8 342.6 79.8C343.1 78.8 343.2 78.7 343.5 78.2C343.8 77.7 343.9 77.6 344.4 77.0C344.9 76.3 345.7 75.3 346.5 74.5C347.3 73.7 348.3 72.6 348.9 72.0C349.6 71.5 349.7 71.4 350.2 71.2C350.7 71.1 350.4 71.0 352.0 70.9C353.6 70.8 355.2 70.7 360.0 70.6C364.8 70.5 377.5 70.6 381.0 70.6M428.3 104.0C427.9 103.0 426.8 100.2 426.0 98.0C425.2 95.8 424.2 93.3 423.3 91.0C422.3 88.7 421.2 85.9 420.3 84.0C419.4 82.1 418.7 80.8 418.2 79.8C417.7 78.8 417.6 78.7 417.3 78.2C417.0 77.7 416.9 77.6 416.4 77.0C415.9 76.3 415.1 75.3 414.3 74.5C413.5 73.7 412.5 72.6 411.8 72.0C411.2 71.5 411.1 71.4 410.6 71.2C410.1 71.1 410.4 71.0 408.8 70.9C407.2 70.8 405.6 70.7 400.8 70.6C396.0 70.5 383.3 70.6 379.8 70.6M310.2 67.8C310.8 68.8 313.0 72.6 313.8 73.9C314.6 75.2 314.5 75.0 314.9 75.6C315.2 76.1 315.3 76.2 316.0 77.2C316.8 78.2 318.5 80.4 319.4 81.6C320.3 82.8 321.0 83.7 321.6 84.3C322.1 85.0 322.2 85.1 322.6 85.5C323.0 85.9 323.1 86.0 323.8 86.7C324.5 87.3 325.5 88.2 326.8 89.4C328.1 90.6 330.6 93.2 331.4 94.0M450.6 67.8C450.0 68.8 447.8 72.6 447.0 73.9C446.2 75.2 446.3 75.0 445.9 75.6C445.6 76.1 445.5 76.2 444.8 77.2C444.0 78.2 442.3 80.4 441.4 81.6C440.5 82.8 439.8 83.7 439.2 84.3C438.7 85.0 438.6 85.1 438.2 85.5C437.8 85.9 437.7 86.0 437.0 86.7C436.3 87.3 435.3 88.2 434.0 89.4C432.7 90.6 430.2 93.2 429.4 94.0M288.0 99.6C289.5 99.5 295.3 99.3 297.2 99.2C299.1 99.1 298.5 99.1 299.2 98.9C299.8 98.8 300.1 98.7 301.1 98.4C302.0 98.1 303.8 97.4 304.7 97.0C305.6 96.6 305.9 96.5 306.5 96.2C307.1 95.8 307.3 95.7 308.1 95.0C308.9 94.3 310.7 92.8 311.5 92.1C312.3 91.4 312.5 91.2 312.9 90.7C313.4 90.3 313.6 90.1 314.3 89.3C315.0 88.5 316.5 86.7 317.2 85.9C317.9 85.1 318.1 84.9 318.6 84.5C319.0 84.0 319.4 83.7 320.0 83.1C320.7 82.6 321.8 81.6 322.5 81.1C323.1 80.5 323.5 80.2 324.0 79.8C324.4 79.3 324.4 79.3 325.4 78.3C326.3 77.3 328.1 75.6 329.6 73.8C331.1 72.0 333.7 68.8 334.5 67.8M472.8 99.6C471.3 99.5 465.5 99.3 463.6 99.2C461.7 99.1 462.3 99.1 461.6 98.9C461.0 98.8 460.7 98.7 459.7 98.4C458.8 98.1 457.0 97.4 456.1 97.0C455.2 96.6 454.9 96.5 454.3 96.2C453.7 95.8 453.5 95.7 452.7 95.0C451.9 94.3 450.1 92.8 449.3 92.1C448.5 91.4 448.3 91.2 447.9 90.7C447.4 90.3 447.2 90.1 446.5 89.3C445.8 88.5 444.3 86.7 443.6 85.9C442.9 85.1 442.7 84.9 442.2 84.5C441.8 84.0 441.4 83.7 440.8 83.1C440.1 82.6 439.0 81.6 438.3 81.1C437.7 80.5 437.3 80.2 436.8 79.8C436.4 79.3 436.4 79.3 435.4 78.3C434.5 77.3 432.7 75.6 431.2 73.8C429.7 72.0 427.1 68.8 426.3 67.8M318.5 86.0C319.2 85.5 321.5 83.5 322.5 82.8C323.4 82.0 323.5 81.9 324.0 81.5C324.4 81.0 324.4 81.0 325.4 80.0C326.3 79.0 327.8 77.5 329.6 75.5C331.4 73.5 334.9 69.1 336.0 67.8M442.3 86.0C441.6 85.5 439.3 83.5 438.3 82.8C437.4 82.0 437.3 81.9 436.8 81.5C436.4 81.0 436.4 81.0 435.4 80.0C434.5 79.0 433.0 77.5 431.2 75.5C429.4 73.5 425.9 69.1 424.8 67.8M288.0 104.0C289.4 104.0 294.6 103.8 296.3 103.8C298.0 103.7 297.6 103.7 298.3 103.5C298.9 103.4 299.1 103.4 300.2 103.0C301.2 102.6 303.7 101.7 304.7 101.2C305.8 100.8 305.9 100.7 306.5 100.3C307.0 100.0 307.2 99.9 308.0 99.1C308.9 98.3 310.8 96.3 311.6 95.4C312.4 94.6 312.5 94.5 312.9 94.0C313.4 93.4 313.6 93.2 314.2 92.4C314.7 91.6 315.9 90.0 316.4 89.2C317.0 88.5 317.2 88.2 317.5 87.9C317.9 87.5 318.0 87.4 318.4 87.1C318.9 86.7 320.1 86.0 320.4 85.8M472.8 104.0C471.4 104.0 466.2 103.8 464.5 103.8C462.8 103.7 463.2 103.7 462.5 103.5C461.9 103.4 461.7 103.4 460.6 103.0C459.6 102.6 457.1 101.7 456.1 101.2C455.0 100.8 454.9 100.7 454.3 100.3C453.8 100.0 453.6 99.9 452.8 99.1C451.9 98.3 450.0 96.3 449.2 95.4C448.4 94.6 448.3 94.5 447.9 94.0C447.4 93.4 447.2 93.2 446.6 92.4C446.1 91.6 444.9 90.0 444.4 89.2C443.8 88.5 443.6 88.2 443.3 87.9C442.9 87.5 442.8 87.4 442.4 87.1C441.9 86.7 440.7 86.0 440.4 85.8M288.0 116.1C291.3 115.9 302.5 115.2 307.7 114.8C312.9 114.4 316.7 114.1 318.9 114.0C321.1 113.8 320.2 113.8 320.9 113.7C321.5 113.6 321.8 113.5 322.8 113.2C323.8 113.0 325.8 112.3 326.8 112.1C327.7 111.8 328.0 111.7 328.6 111.6C329.2 111.5 329.7 111.4 330.3 111.3C330.9 111.2 331.8 111.0 332.4 111.0C333.0 111.0 333.5 111.0 334.0 111.1C334.5 111.2 335.0 111.4 335.6 111.7C336.2 112.0 337.0 112.5 337.6 112.9C338.2 113.3 338.7 113.5 339.2 113.9C339.7 114.3 339.6 114.2 340.6 115.2C341.6 116.2 343.9 118.4 345.2 119.7C346.5 121.0 347.7 122.2 348.4 122.9C349.2 123.6 349.3 123.7 349.7 124.0C350.2 124.3 350.5 124.4 351.0 124.6C351.4 124.7 352.0 124.8 352.5 124.9C353.0 125.0 353.4 125.1 353.9 125.1C354.4 125.2 351.2 125.2 355.7 125.2C360.2 125.2 376.8 125.2 381.0 125.2M472.8 116.1C469.5 115.9 458.3 115.2 453.1 114.8C447.9 114.4 444.1 114.1 441.9 114.0C439.7 113.8 440.6 113.8 439.9 113.7C439.3 113.6 439.0 113.5 438.0 113.2C437.0 113.0 435.0 112.3 434.0 112.1C433.1 111.8 432.8 111.7 432.2 111.6C431.6 111.5 431.1 111.4 430.5 111.3C429.9 111.2 429.0 111.0 428.4 111.0C427.8 111.0 427.3 111.0 426.8 111.1C426.3 111.2 425.8 111.4 425.2 111.7C424.6 112.0 423.8 112.5 423.2 112.9C422.6 113.3 422.1 113.5 421.6 113.9C421.1 114.3 421.2 114.2 420.2 115.2C419.2 116.2 416.9 118.4 415.6 119.7C414.3 121.0 413.1 122.2 412.4 122.9C411.6 123.6 411.5 123.7 411.1 124.0C410.6 124.3 410.3 124.4 409.8 124.6C409.4 124.7 408.8 124.8 408.3 124.9C407.8 125.0 407.4 125.1 406.9 125.1C406.4 125.2 409.6 125.2 405.1 125.2C400.6 125.2 384.0 125.2 379.8 125.2M353.7 123.6C358.2 123.6 376.4 123.6 381.0 123.6M407.1 123.6C402.5 123.6 384.3 123.6 379.8 123.6M288.0 121.0C289.3 121.0 294.3 121.0 295.9 121.0C297.5 121.0 297.2 121.1 297.9 121.2C298.5 121.3 299.0 121.5 299.7 121.8C300.5 122.1 301.8 122.6 302.6 122.9C303.3 123.2 303.8 123.4 304.3 123.6C304.9 123.8 305.4 123.9 306.0 124.1C306.6 124.3 307.5 124.5 308.1 124.6C308.7 124.7 309.2 124.8 309.8 124.8C310.4 124.8 310.7 124.8 311.7 124.7C312.6 124.5 314.6 124.2 315.6 124.0C316.6 123.9 316.9 123.8 317.6 123.6C318.2 123.5 318.4 123.4 319.5 123.1C320.6 122.8 322.2 122.2 324.1 121.7C326.0 121.2 328.2 120.7 330.7 120.0C333.2 119.3 337.2 118.2 339.2 117.7C341.2 117.2 341.6 117.0 342.4 116.8C343.2 116.6 343.4 116.6 343.9 116.5C344.5 116.4 344.6 116.4 345.7 116.3C346.7 116.3 344.1 116.2 350.0 116.2C355.9 116.2 375.8 116.2 381.0 116.2M472.8 121.0C471.5 121.0 466.5 121.0 464.9 121.0C463.3 121.0 463.6 121.1 462.9 121.2C462.3 121.3 461.8 121.5 461.1 121.8C460.3 122.1 459.0 122.6 458.2 122.9C457.5 123.2 457.0 123.4 456.5 123.6C455.9 123.8 455.4 123.9 454.8 124.1C454.2 124.3 453.3 124.5 452.7 124.6C452.1 124.7 451.6 124.8 451.0 124.8C450.4 124.8 450.1 124.8 449.1 124.7C448.2 124.5 446.2 124.2 445.2 124.0C444.2 123.9 443.9 123.8 443.2 123.6C442.6 123.5 442.4 123.4 441.3 123.1C440.2 122.8 438.6 122.2 436.7 121.7C434.8 121.2 432.6 120.7 430.1 120.0C427.6 119.3 423.6 118.2 421.6 117.7C419.6 117.2 419.2 117.0 418.4 116.8C417.6 116.6 417.4 116.6 416.9 116.5C416.3 116.4 416.2 116.4 415.1 116.3C414.1 116.3 416.7 116.2 410.8 116.2C404.9 116.2 385.0 116.2 379.8 116.2M288.0 130.9C289.9 131.0 296.9 131.3 299.1 131.4C301.3 131.5 300.4 131.4 301.1 131.4C301.8 131.4 302.3 131.3 303.1 131.2C303.9 131.1 305.0 131.0 305.7 130.9C306.5 130.7 307.0 130.6 307.7 130.5C308.3 130.3 308.4 130.2 309.5 129.8C310.6 129.3 312.9 128.3 314.3 127.6C315.7 126.9 317.1 126.2 317.9 125.8C318.8 125.3 319.0 125.2 319.5 124.9C319.9 124.7 320.3 124.4 320.9 124.0C321.4 123.6 322.2 123.0 322.7 122.7C323.2 122.4 323.6 122.1 324.0 122.0C324.4 121.9 324.7 122.0 325.1 122.1C325.5 122.2 326.0 122.4 326.4 122.6C326.8 122.8 327.1 122.9 327.5 123.2C327.9 123.5 327.8 123.4 328.9 124.3C330.0 125.3 332.0 127.2 334.0 128.9C336.0 130.6 339.1 133.5 340.6 134.8C342.1 136.1 342.3 136.2 342.8 136.7C343.4 137.1 343.5 137.2 344.0 137.5C344.5 137.8 344.8 138.0 345.6 138.4C346.4 138.8 347.8 139.5 348.6 139.8C349.4 140.2 349.8 140.3 350.4 140.5C351.1 140.7 350.8 140.7 352.4 140.8C354.0 140.9 355.5 141.0 360.3 141.1C365.1 141.2 377.6 141.1 381.0 141.1M472.8 130.9C470.9 131.0 463.9 131.3 461.7 131.4C459.5 131.5 460.4 131.4 459.7 131.4C459.0 131.4 458.5 131.3 457.7 131.2C456.9 131.1 455.8 131.0 455.1 130.9C454.3 130.7 453.8 130.6 453.1 130.5C452.5 130.3 452.4 130.2 451.3 129.8C450.2 129.3 447.9 128.3 446.5 127.6C445.1 126.9 443.7 126.2 442.9 125.8C442.0 125.3 441.8 125.2 441.3 124.9C440.9 124.7 440.5 124.4 439.9 124.0C439.4 123.6 438.6 123.0 438.1 122.7C437.6 122.4 437.2 122.1 436.8 122.0C436.4 121.9 436.1 122.0 435.7 122.1C435.3 122.2 434.8 122.4 434.4 122.6C434.0 122.8 433.7 122.9 433.3 123.2C432.9 123.5 433.0 123.4 431.9 124.3C430.8 125.3 428.8 127.2 426.8 128.9C424.8 130.6 421.7 133.5 420.2 134.8C418.7 136.1 418.5 136.2 418.0 136.7C417.4 137.1 417.3 137.2 416.8 137.5C416.3 137.8 416.0 138.0 415.2 138.4C414.4 138.8 413.0 139.5 412.2 139.8C411.4 140.2 411.0 140.3 410.4 140.5C409.7 140.7 410.0 140.7 408.4 140.8C406.8 140.9 405.3 141.0 400.5 141.1C395.7 141.2 383.2 141.1 379.8 141.1M288.0 133.5C289.1 133.4 291.9 133.1 294.6 132.9C297.3 132.7 302.5 132.4 304.4 132.3C306.3 132.2 305.7 132.3 306.2 132.5C306.8 132.6 307.2 132.9 307.8 133.2C308.3 133.5 309.1 134.1 309.6 134.5C310.1 134.9 310.5 135.2 311.0 135.6C311.4 136.0 311.7 136.4 312.2 137.0C312.7 137.6 313.3 138.4 313.8 139.0C314.3 139.6 314.6 140.0 315.0 140.4C315.5 140.8 315.6 140.9 316.4 141.6C317.1 142.2 318.4 143.1 319.5 144.0C320.6 144.9 322.3 146.2 323.2 146.8C324.1 147.4 324.2 147.5 324.7 147.7C325.2 147.9 325.5 148.0 326.0 148.1C326.4 148.2 327.1 148.2 327.5 148.2C328.0 148.2 328.3 148.2 328.8 148.0C329.3 147.8 329.7 147.6 330.3 147.2C330.9 146.8 331.8 146.2 332.4 145.8C333.0 145.3 333.4 145.0 333.9 144.6C334.4 144.2 334.4 144.2 335.3 143.2C336.2 142.2 337.8 140.3 339.2 138.8C340.6 137.3 342.8 135.3 343.8 134.3C344.8 133.3 344.7 133.4 345.2 132.9C345.6 132.4 345.8 132.2 346.4 131.3C347.1 130.5 348.5 128.7 349.2 127.9C349.8 127.1 350.0 126.9 350.4 126.6C350.7 126.3 350.9 126.2 351.5 125.9C352.1 125.6 353.6 125.2 354.0 125.0M472.8 133.5C471.7 133.4 468.9 133.1 466.2 132.9C463.5 132.7 458.3 132.4 456.4 132.3C454.5 132.2 455.1 132.3 454.6 132.5C454.0 132.6 453.6 132.9 453.0 133.2C452.5 133.5 451.7 134.1 451.2 134.5C450.7 134.9 450.3 135.2 449.8 135.6C449.4 136.0 449.1 136.4 448.6 137.0C448.1 137.6 447.5 138.4 447.0 139.0C446.5 139.6 446.2 140.0 445.8 140.4C445.3 140.8 445.2 140.9 444.4 141.6C443.7 142.2 442.4 143.1 441.3 144.0C440.2 144.9 438.5 146.2 437.6 146.8C436.7 147.4 436.6 147.5 436.1 147.7C435.6 147.9 435.3 148.0 434.8 148.1C434.4 148.2 433.7 148.2 433.3 148.2C432.8 148.2 432.5 148.2 432.0 148.0C431.5 147.8 431.1 147.6 430.5 147.2C429.9 146.8 429.0 146.2 428.4 145.8C427.8 145.3 427.4 145.0 426.9 144.6C426.4 144.2 426.4 144.2 425.5 143.2C424.6 142.2 423.0 140.3 421.6 138.8C420.2 137.3 418.0 135.3 417.0 134.3C416.0 133.3 416.1 133.4 415.6 132.9C415.2 132.4 415.0 132.2 414.4 131.3C413.7 130.5 412.3 128.7 411.6 127.9C411.0 127.1 410.8 126.9 410.4 126.6C410.1 126.3 409.9 126.2 409.3 125.9C408.7 125.6 407.2 125.2 406.8 125.0M288.0 192.8C289.3 192.7 294.3 192.4 295.9 192.2C297.5 192.1 297.2 192.1 297.8 191.9C298.5 191.7 298.6 191.7 299.6 191.1C300.7 190.5 303.1 189.1 304.1 188.5C305.1 187.9 305.2 187.8 305.7 187.4C306.2 187.0 305.8 187.5 307.1 186.0C308.4 184.5 311.5 181.1 313.7 178.3C315.9 175.5 319.0 171.1 320.3 169.4C321.6 167.7 321.1 168.4 321.6 167.8C322.0 167.3 322.1 167.3 322.9 166.4C323.8 165.5 325.8 163.4 326.7 162.6C327.6 161.8 327.6 161.8 328.1 161.5C328.6 161.3 329.1 161.2 329.7 161.1C330.3 161.1 331.2 161.1 331.8 161.1C332.4 161.1 332.9 161.1 333.5 161.2C334.1 161.3 334.1 161.2 335.3 161.6C336.5 162.0 339.5 162.9 340.7 163.3C341.9 163.7 342.0 163.7 342.6 163.8C343.3 164.0 343.1 164.0 344.6 164.3C346.0 164.5 349.7 165.2 351.1 165.4C352.6 165.7 352.4 165.7 353.1 165.7C353.8 165.8 350.5 165.8 355.1 165.8C359.7 165.8 376.7 165.8 381.0 165.8M472.8 192.8C471.5 192.7 466.5 192.4 464.9 192.2C463.3 192.1 463.6 192.1 463.0 191.9C462.3 191.7 462.2 191.7 461.2 191.1C460.1 190.5 457.7 189.1 456.7 188.5C455.7 187.9 455.6 187.8 455.1 187.4C454.6 187.0 455.0 187.5 453.7 186.0C452.4 184.5 449.3 181.1 447.1 178.3C444.9 175.5 441.8 171.1 440.5 169.4C439.2 167.7 439.7 168.4 439.2 167.8C438.8 167.3 438.7 167.3 437.9 166.4C437.0 165.5 435.0 163.4 434.1 162.6C433.2 161.8 433.2 161.8 432.7 161.5C432.2 161.3 431.7 161.2 431.1 161.1C430.5 161.1 429.6 161.1 429.0 161.1C428.4 161.1 427.9 161.1 427.3 161.2C426.7 161.3 426.7 161.2 425.5 161.6C424.3 162.0 421.3 162.9 420.1 163.3C418.9 163.7 418.8 163.7 418.2 163.8C417.5 164.0 417.7 164.0 416.2 164.3C414.8 164.5 411.1 165.2 409.7 165.4C408.2 165.7 408.4 165.7 407.7 165.7C407.0 165.8 410.3 165.8 405.7 165.8C401.1 165.8 384.1 165.8 379.8 165.8"/></defs><use href="#pa" stroke="#ff7d42" stroke-width="2.6"/><use href="#pa" stroke="#4169e1" stroke-width="2.6" stroke-dasharray="7.5 3.4"/></g>
<clipPath id="pca"><rect x="468.8" y="67.8" width="173.8" height="614.4000000000001"/></clipPath>
<g clip-path="url(#pca)" fill="none" stroke-width="2.6" stroke-linejoin="round">
<path d="M601.5 68.0C601.3 68.7 600.8 71.2 600.5 72.2C600.3 73.3 600.3 73.5 600.2 74.1C600.1 74.7 600.0 75.2 599.9 75.9C599.8 76.6 599.7 77.6 599.7 78.3C599.6 79.0 599.6 79.5 599.6 80.1C599.6 80.7 599.7 81.2 599.8 81.9C599.9 82.6 600.2 83.6 600.2 84.3C600.3 85.0 600.3 85.5 600.1 86.0C599.9 86.5 599.8 86.7 599.1 87.5C598.4 88.3 596.7 90.0 595.9 90.7C595.1 91.5 594.9 91.6 594.4 92.0C593.9 92.4 594.4 92.2 592.7 93.0C591.0 93.9 586.9 95.8 584.4 97.2C582.0 98.5 579.3 100.3 578.1 101.1C576.8 102.0 577.1 101.9 576.9 102.3C576.7 102.7 576.7 103.1 576.7 103.7C576.7 104.3 576.9 105.1 577.1 105.7C577.3 106.3 577.4 106.7 577.8 107.1C578.1 107.5 578.0 107.5 579.2 108.2C580.3 108.9 583.5 110.6 584.7 111.3C585.9 111.9 585.9 111.9 586.5 112.1C587.1 112.4 586.0 112.1 588.4 112.8C590.7 113.6 598.3 115.9 600.6 116.7C603.0 117.4 601.9 117.1 602.5 117.4C603.1 117.6 603.1 117.7 604.2 118.3C605.3 119.0 607.9 120.5 608.9 121.2C609.8 121.9 609.8 122.0 610.1 122.5C610.4 122.9 610.5 123.4 610.6 124.1C610.6 124.8 610.6 125.8 610.6 126.5C610.5 127.2 610.4 127.7 610.2 128.2C610.0 128.7 609.9 128.9 609.1 129.7C608.4 130.5 606.7 132.2 605.9 132.9C605.2 133.7 605.0 133.8 604.4 134.2C603.9 134.5 604.7 134.2 602.7 135.1C600.7 136.0 596.2 137.9 592.5 139.4C588.7 140.8 582.6 142.8 580.3 143.7C578.0 144.6 579.1 144.2 578.6 144.6C578.1 145.0 577.8 145.4 577.3 146.0C576.8 146.7 575.9 148.0 575.5 148.7C575.1 149.5 574.9 149.9 574.9 150.4C574.9 151.0 575.1 151.3 575.5 152.1C575.9 152.8 576.8 154.1 577.3 154.8C577.8 155.5 578.1 155.8 578.6 156.3C579.0 156.7 579.1 156.8 580.1 157.5C581.1 158.2 583.7 159.7 584.7 160.4C585.8 161.1 585.8 161.1 586.2 161.6C586.6 162.0 586.8 162.4 587.0 163.0C587.3 163.5 587.7 164.4 587.9 165.0C588.0 165.6 588.1 166.0 588.0 166.5C587.9 167.0 587.6 167.4 587.2 168.0C586.9 168.6 586.1 169.4 585.6 170.0C585.1 170.6 584.8 171.0 584.3 171.4C583.8 171.8 584.0 171.7 582.6 172.4C581.3 173.1 577.5 174.9 576.2 175.6C574.8 176.3 575.0 176.3 574.4 176.6C573.9 177.0 573.9 176.9 572.8 177.7C571.7 178.5 569.0 180.5 568.0 181.4C566.9 182.2 566.9 182.2 566.4 182.6C566.0 183.1 565.7 183.4 565.1 184.1C564.4 184.8 563.2 186.3 562.6 187.0C562.0 187.8 561.8 188.1 561.4 188.6C561.1 189.2 560.8 189.7 560.4 190.4C560.1 191.1 559.5 192.1 559.2 192.8C558.9 193.5 558.6 194.0 558.4 194.6C558.2 195.2 558.1 195.4 557.8 196.4C557.5 197.4 557.1 198.9 556.7 200.6C556.3 202.3 555.8 205.7 555.6 206.7" stroke="#808080"/>
<path d="M509.7 68.0C509.9 68.7 510.4 71.2 510.7 72.2C510.9 73.3 510.9 73.5 511.0 74.1C511.1 74.7 511.2 75.2 511.3 75.9C511.4 76.6 511.5 77.6 511.5 78.3C511.6 79.0 511.6 79.5 511.6 80.1C511.6 80.7 511.5 81.2 511.4 81.9C511.3 82.6 511.0 83.6 511.0 84.3C510.9 85.0 510.9 85.5 511.1 86.0C511.3 86.5 511.4 86.7 512.1 87.5C512.8 88.3 514.5 90.0 515.3 90.7C516.1 91.5 516.3 91.6 516.8 92.0C517.3 92.4 516.8 92.2 518.5 93.0C520.2 93.9 524.3 95.8 526.8 97.2C529.2 98.5 531.9 100.3 533.1 101.1C534.4 102.0 534.1 101.9 534.3 102.3C534.5 102.7 534.5 103.1 534.5 103.7C534.5 104.3 534.3 105.1 534.1 105.7C533.9 106.3 533.8 106.7 533.4 107.1C533.1 107.5 533.2 107.5 532.0 108.2C530.9 108.9 527.7 110.6 526.5 111.3C525.3 111.9 525.3 111.9 524.7 112.1C524.1 112.4 525.2 112.1 522.8 112.8C520.5 113.6 512.9 115.9 510.6 116.7C508.2 117.4 509.3 117.1 508.7 117.4C508.1 117.6 508.1 117.7 507.0 118.3C505.9 119.0 503.3 120.5 502.3 121.2C501.4 121.9 501.4 122.0 501.1 122.5C500.8 122.9 500.7 123.4 500.6 124.1C500.6 124.8 500.6 125.8 500.6 126.5C500.7 127.2 500.8 127.7 501.0 128.2C501.2 128.7 501.3 128.9 502.1 129.7C502.8 130.5 504.5 132.2 505.3 132.9C506.0 133.7 506.2 133.8 506.8 134.2C507.3 134.5 506.5 134.2 508.5 135.1C510.5 136.0 515.0 137.9 518.7 139.4C522.5 140.8 528.6 142.8 530.9 143.7C533.2 144.6 532.1 144.2 532.6 144.6C533.1 145.0 533.4 145.4 533.9 146.0C534.4 146.7 535.3 148.0 535.7 148.7C536.1 149.5 536.3 149.9 536.3 150.4C536.3 151.0 536.1 151.3 535.7 152.1C535.3 152.8 534.4 154.1 533.9 154.8C533.4 155.5 533.1 155.8 532.6 156.3C532.2 156.7 532.1 156.8 531.1 157.5C530.1 158.2 527.5 159.7 526.5 160.4C525.4 161.1 525.4 161.1 525.0 161.6C524.6 162.0 524.4 162.4 524.2 163.0C523.9 163.5 523.5 164.4 523.3 165.0C523.2 165.6 523.1 166.0 523.2 166.5C523.3 167.0 523.6 167.4 524.0 168.0C524.3 168.6 525.1 169.4 525.6 170.0C526.1 170.6 526.4 171.0 526.9 171.4C527.4 171.8 527.2 171.7 528.6 172.4C529.9 173.1 533.7 174.9 535.0 175.6C536.4 176.3 536.2 176.3 536.8 176.6C537.3 177.0 537.3 176.9 538.4 177.7C539.5 178.5 542.2 180.5 543.2 181.4C544.3 182.2 544.3 182.2 544.8 182.6C545.2 183.1 545.5 183.4 546.1 184.1C546.8 184.8 548.0 186.3 548.6 187.0C549.2 187.8 549.4 188.1 549.8 188.6C550.1 189.2 550.4 189.7 550.8 190.4C551.1 191.1 551.7 192.1 552.0 192.8C552.3 193.5 552.6 194.0 552.8 194.6C553.0 195.2 553.1 195.4 553.4 196.4C553.7 197.4 554.1 198.9 554.5 200.6C554.9 202.3 555.4 205.7 555.6 206.7" stroke="#808080"/>
<path d="M578.4 68.0C578.3 68.7 577.8 71.2 577.7 72.2C577.6 73.3 577.6 73.5 577.6 74.1C577.6 74.7 577.6 75.2 577.7 75.9C577.8 76.6 578.0 77.6 578.1 78.3C578.2 79.0 578.2 79.5 578.2 80.1C578.2 80.7 578.1 81.0 577.9 82.0C577.7 83.0 577.2 85.2 576.9 86.2C576.6 87.2 576.5 87.5 576.2 88.1C576.0 88.7 575.9 88.8 575.3 89.8C574.6 90.8 573.5 92.4 572.4 94.1C571.2 95.9 569.2 99.2 568.4 100.5C567.6 101.8 567.8 101.6 567.6 102.1C567.4 102.5 567.4 102.9 567.4 103.4C567.3 103.9 567.3 104.5 567.4 105.0C567.4 105.5 567.5 105.8 567.7 106.2C568.0 106.6 568.0 106.7 568.9 107.5C569.7 108.3 571.9 110.2 572.9 110.9C573.8 111.7 573.9 111.8 574.4 112.2C575.0 112.6 575.0 112.6 576.1 113.3C577.1 114.0 579.7 115.5 580.7 116.2C581.8 116.9 581.8 116.9 582.3 117.4C582.8 117.8 583.1 118.2 583.6 118.8C584.1 119.3 584.8 120.2 585.2 120.8C585.7 121.4 585.9 121.8 586.1 122.4C586.3 123.0 586.4 123.3 586.4 124.3C586.5 125.3 586.5 127.3 586.4 128.3C586.4 129.3 586.4 129.6 586.2 130.2C586.0 130.8 585.8 131.2 585.3 132.0C584.9 132.7 584.0 134.0 583.5 134.7C583.0 135.4 582.7 135.7 582.3 136.2C581.8 136.6 582.0 136.5 580.7 137.4C579.4 138.3 576.3 140.1 574.4 141.4C572.4 142.7 570.1 144.4 569.0 145.2C567.9 146.1 568.0 146.1 567.8 146.5C567.5 147.0 567.4 147.5 567.4 148.2C567.3 148.9 567.3 149.9 567.4 150.6C567.4 151.3 567.5 151.8 567.7 152.3C567.9 152.9 568.1 153.2 568.6 154.0C569.2 154.7 570.5 156.1 571.1 156.9C571.7 157.7 571.9 158.0 572.3 158.5C572.6 159.1 572.9 159.5 573.3 160.2C573.6 160.9 574.2 162.0 574.5 162.7C574.8 163.4 575.0 163.9 575.0 164.5C575.1 165.1 575.0 165.6 574.8 166.3C574.6 167.0 574.3 168.0 574.0 168.7C573.7 169.4 573.5 169.9 573.2 170.4C572.8 170.9 572.7 171.0 571.9 171.8C571.0 172.6 568.8 174.4 567.9 175.2C567.0 176.0 566.9 176.1 566.4 176.6C565.9 177.1 565.7 177.3 565.1 178.1C564.4 178.8 563.2 180.3 562.6 181.0C562.0 181.8 561.8 182.1 561.4 182.6C561.1 183.2 560.8 183.6 560.4 184.3C560.1 185.0 559.5 186.1 559.2 186.8C558.9 187.5 558.7 188.0 558.4 188.6C558.2 189.2 558.1 189.4 557.9 190.4C557.6 191.4 557.2 193.2 556.9 194.6C556.6 196.0 556.4 197.8 556.2 198.8C556.0 199.8 556.0 200.0 556.0 200.6C555.9 201.2 555.9 201.4 555.8 202.4C555.8 203.5 555.6 206.0 555.6 206.7" stroke="#ff0000"/>
<path d="M532.8 68.0C532.9 68.7 533.4 71.2 533.5 72.2C533.6 73.3 533.6 73.5 533.6 74.1C533.6 74.7 533.6 75.2 533.5 75.9C533.4 76.6 533.2 77.6 533.1 78.3C533.0 79.0 533.0 79.5 533.0 80.1C533.0 80.7 533.1 81.0 533.3 82.0C533.5 83.0 534.0 85.2 534.3 86.2C534.6 87.2 534.7 87.5 535.0 88.1C535.2 88.7 535.3 88.8 535.9 89.8C536.6 90.8 537.7 92.4 538.8 94.1C540.0 95.9 542.0 99.2 542.8 100.5C543.6 101.8 543.4 101.6 543.6 102.1C543.8 102.5 543.8 102.9 543.8 103.4C543.9 103.9 543.9 104.5 543.8 105.0C543.8 105.5 543.7 105.8 543.5 106.2C543.2 106.6 543.2 106.7 542.3 107.5C541.5 108.3 539.3 110.2 538.3 110.9C537.4 111.7 537.3 111.8 536.8 112.2C536.2 112.6 536.2 112.6 535.1 113.3C534.1 114.0 531.5 115.5 530.5 116.2C529.4 116.9 529.4 116.9 528.9 117.4C528.4 117.8 528.1 118.2 527.6 118.8C527.1 119.3 526.4 120.2 526.0 120.8C525.5 121.4 525.3 121.8 525.1 122.4C524.9 123.0 524.8 123.3 524.8 124.3C524.7 125.3 524.7 127.3 524.8 128.3C524.8 129.3 524.8 129.6 525.0 130.2C525.2 130.8 525.4 131.2 525.9 132.0C526.3 132.7 527.2 134.0 527.7 134.7C528.2 135.4 528.5 135.7 528.9 136.2C529.4 136.6 529.2 136.5 530.5 137.4C531.8 138.3 534.9 140.1 536.8 141.4C538.8 142.7 541.1 144.4 542.2 145.2C543.3 146.1 543.2 146.1 543.4 146.5C543.7 147.0 543.8 147.5 543.8 148.2C543.9 148.9 543.9 149.9 543.8 150.6C543.8 151.3 543.7 151.8 543.5 152.3C543.3 152.9 543.1 153.2 542.6 154.0C542.0 154.7 540.7 156.1 540.1 156.9C539.5 157.7 539.3 158.0 538.9 158.5C538.6 159.1 538.3 159.5 537.9 160.2C537.6 160.9 537.0 162.0 536.7 162.7C536.4 163.4 536.2 163.9 536.2 164.5C536.1 165.1 536.2 165.6 536.4 166.3C536.6 167.0 536.9 168.0 537.2 168.7C537.5 169.4 537.7 169.9 538.0 170.4C538.4 170.9 538.5 171.0 539.3 171.8C540.2 172.6 542.4 174.4 543.3 175.2C544.2 176.0 544.3 176.1 544.8 176.6C545.3 177.1 545.5 177.3 546.1 178.1C546.8 178.8 548.0 180.3 548.6 181.0C549.2 181.8 549.4 182.1 549.8 182.6C550.1 183.2 550.4 183.6 550.8 184.3C551.1 185.0 551.7 186.1 552.0 186.8C552.3 187.5 552.5 188.0 552.8 188.6C553.0 189.2 553.1 189.4 553.3 190.4C553.6 191.4 554.0 193.2 554.3 194.6C554.6 196.0 554.8 197.8 555.0 198.8C555.2 199.8 555.2 200.0 555.2 200.6C555.3 201.2 555.3 201.4 555.4 202.4C555.4 203.5 555.6 206.0 555.6 206.7" stroke="#ff0000"/>
<path d="M562.7 68.0C562.7 69.4 562.5 74.4 562.4 76.1C562.3 77.7 562.3 77.4 562.3 78.1C562.2 78.7 562.3 78.4 561.9 80.0C561.6 81.7 560.9 85.4 560.3 88.1C559.7 90.8 558.8 94.1 558.3 96.2C557.9 98.2 557.7 99.4 557.6 100.4C557.5 101.4 557.5 101.6 557.5 102.2C557.5 102.8 557.6 103.1 557.8 104.1C558.0 105.1 558.6 107.3 558.8 108.3C559.1 109.3 559.2 109.6 559.4 110.2C559.6 110.8 559.7 111.0 560.1 112.1C560.5 113.1 561.5 115.4 562.0 116.4C562.4 117.4 562.4 117.6 562.6 118.3C562.8 118.9 562.9 119.4 563.1 120.1C563.3 120.8 563.5 121.8 563.6 122.5C563.7 123.2 563.8 123.7 563.8 124.3C563.7 125.0 563.7 125.2 563.5 126.2C563.4 127.3 562.9 129.4 562.7 130.4C562.5 131.4 562.4 131.7 562.3 132.3C562.1 132.9 562.0 133.2 561.6 134.2C561.3 135.2 560.4 137.5 560.0 138.5C559.6 139.5 559.6 139.7 559.4 140.3C559.2 141.0 559.1 141.5 558.9 142.2C558.7 142.9 558.5 143.9 558.3 144.6C558.2 145.3 558.1 145.8 558.0 146.4C558.0 147.1 558.0 147.4 558.0 148.4C558.0 149.4 558.1 151.4 558.2 152.4C558.3 153.4 558.3 153.7 558.4 154.4C558.5 155.0 558.6 155.5 558.8 156.2C559.0 156.9 559.3 157.9 559.4 158.6C559.6 159.3 559.7 159.9 559.8 160.5C559.9 161.1 559.9 161.6 559.9 162.3C559.9 163.0 559.9 164.0 559.9 164.7C559.9 165.4 559.9 165.9 559.8 166.5C559.8 167.1 559.8 167.1 559.5 168.4C559.3 169.8 558.7 172.2 558.3 174.5C557.9 176.9 557.4 179.9 557.1 182.6C556.8 185.2 556.5 187.9 556.3 190.6C556.1 193.3 556.0 196.5 555.9 198.6C555.8 200.8 555.7 202.8 555.6 203.7" stroke="#0000ff"/>
<path d="M548.5 68.0C548.5 69.4 548.7 74.4 548.8 76.1C548.9 77.7 548.9 77.4 548.9 78.1C549.0 78.7 548.9 78.4 549.3 80.0C549.6 81.7 550.3 85.4 550.9 88.1C551.5 90.8 552.4 94.1 552.9 96.2C553.3 98.2 553.5 99.4 553.6 100.4C553.7 101.4 553.7 101.6 553.7 102.2C553.7 102.8 553.6 103.1 553.4 104.1C553.2 105.1 552.6 107.3 552.4 108.3C552.1 109.3 552.0 109.6 551.8 110.2C551.6 110.8 551.5 111.0 551.1 112.1C550.7 113.1 549.7 115.4 549.2 116.4C548.8 117.4 548.8 117.6 548.6 118.3C548.4 118.9 548.3 119.4 548.1 120.1C547.9 120.8 547.7 121.8 547.6 122.5C547.5 123.2 547.4 123.7 547.4 124.3C547.5 125.0 547.5 125.2 547.7 126.2C547.8 127.3 548.3 129.4 548.5 130.4C548.7 131.4 548.8 131.7 548.9 132.3C549.1 132.9 549.2 133.2 549.6 134.2C549.9 135.2 550.8 137.5 551.2 138.5C551.6 139.5 551.6 139.7 551.8 140.3C552.0 141.0 552.1 141.5 552.3 142.2C552.5 142.9 552.7 143.9 552.9 144.6C553.0 145.3 553.1 145.8 553.2 146.4C553.2 147.1 553.2 147.4 553.2 148.4C553.2 149.4 553.1 151.4 553.0 152.4C552.9 153.4 552.9 153.7 552.8 154.4C552.7 155.0 552.6 155.5 552.4 156.2C552.2 156.9 551.9 157.9 551.8 158.6C551.6 159.3 551.5 159.9 551.4 160.5C551.3 161.1 551.3 161.6 551.3 162.3C551.3 163.0 551.3 164.0 551.3 164.7C551.3 165.4 551.3 165.9 551.4 166.5C551.4 167.1 551.4 167.1 551.7 168.4C551.9 169.8 552.5 172.2 552.9 174.5C553.3 176.9 553.8 179.9 554.1 182.6C554.4 185.2 554.7 187.9 554.9 190.6C555.1 193.3 555.2 196.5 555.3 198.6C555.4 200.8 555.5 202.8 555.6 203.7" stroke="#0000ff"/>
<path d="M555.6 68.0C555.6 87.1 555.6 160.5 555.6 182.6C555.6 204.7 555.6 197.6 555.6 200.6" stroke="#ff00ff" stroke-width="5.2"/>
<path d="M555.6 489.4C555.8 490.7 556.6 495.3 556.9 496.9C557.2 498.4 557.2 498.2 557.4 498.8C557.6 499.5 557.6 499.7 558.0 500.7C558.4 501.7 559.4 504.0 559.8 505.1C560.2 506.1 560.3 506.3 560.5 506.9C560.7 507.6 560.8 507.8 561.0 508.9C561.3 509.9 561.9 512.0 562.2 513.1C562.4 514.1 562.5 514.4 562.5 515.0C562.6 515.7 562.6 516.0 562.5 517.0C562.5 518.0 562.3 520.1 562.3 521.1C562.2 522.1 562.3 522.4 562.4 523.0C562.5 523.7 562.5 523.9 562.9 524.9C563.3 526.0 564.2 528.3 564.6 529.3C565.1 530.3 565.2 530.4 565.6 530.9C566.1 531.4 565.0 530.9 567.2 532.0C569.4 533.2 574.5 535.9 578.8 537.9C583.2 539.8 590.5 542.7 593.1 543.8C595.8 545.0 594.3 544.4 594.9 544.7C595.5 545.0 595.9 545.3 596.6 545.8C597.2 546.3 598.3 547.0 598.8 547.4C599.3 547.9 599.6 548.2 599.6 548.6C599.6 549.0 599.3 549.4 598.8 549.8C598.3 550.3 597.2 551.0 596.6 551.5C595.9 551.9 595.5 552.2 594.9 552.5C594.3 552.8 595.4 552.5 593.0 553.2C590.7 553.8 583.1 555.6 580.8 556.2C578.4 556.8 579.5 556.6 578.9 556.8C578.2 557.0 578.1 557.1 577.0 557.6C576.0 558.1 573.5 559.3 572.5 559.9C571.6 560.4 571.5 560.5 571.2 561.0C570.9 561.5 570.8 561.8 570.8 562.8C570.7 563.7 570.7 565.8 570.8 566.8C570.8 567.8 570.8 568.1 571.0 568.7C571.2 569.4 571.2 569.4 571.9 570.5C572.5 571.6 574.4 574.2 575.0 575.2C575.7 576.3 575.7 576.4 575.9 577.0C576.0 577.6 576.1 577.9 576.1 578.9C576.2 579.9 576.2 582.0 576.1 583.0C576.1 584.0 576.0 584.3 575.8 584.8C575.5 585.4 575.3 585.7 574.7 586.4C574.1 587.1 572.8 588.3 572.2 588.9C571.6 589.6 571.4 589.9 571.2 590.4C571.0 590.9 571.1 591.4 571.2 592.0C571.2 592.6 571.5 593.5 571.7 594.1C571.9 594.7 572.1 595.1 572.5 595.5C572.9 595.9 572.4 595.8 574.0 596.4C575.6 597.0 580.6 598.6 582.3 599.2C584.0 599.7 583.6 599.6 584.1 599.9C584.7 600.2 585.2 600.5 585.8 601.0C586.5 601.4 587.5 602.1 588.0 602.6C588.5 603.1 588.8 603.4 588.8 603.9C588.9 604.3 588.7 604.6 588.2 605.2C587.6 605.9 586.3 607.2 585.6 607.8C584.9 608.4 584.7 608.7 584.1 609.1C583.6 609.5 583.9 609.3 582.4 610.1C580.9 610.9 576.7 612.9 575.2 613.7C573.8 614.5 574.1 614.4 573.7 614.8C573.3 615.2 573.0 615.6 572.6 616.2C572.3 616.8 571.8 617.7 571.6 618.4C571.3 619.0 571.1 619.5 571.1 620.0C571.1 620.6 571.1 620.9 571.4 621.9C571.7 622.9 572.4 625.2 572.8 626.2C573.2 627.1 573.3 627.3 573.7 627.8C574.1 628.3 573.5 628.0 575.2 628.9C577.0 629.9 581.7 632.2 584.2 633.4C586.8 634.7 589.3 635.9 590.5 636.6C591.7 637.3 591.5 637.2 591.6 637.5C591.8 637.9 591.7 638.2 591.5 638.7C591.3 639.1 590.8 639.8 590.4 640.3C590.0 640.8 589.8 641.1 589.4 641.4C588.9 641.8 589.3 641.6 587.8 642.4C586.4 643.2 582.1 645.2 580.6 646.0C579.2 646.8 579.5 646.7 579.1 647.1C578.7 647.6 578.6 647.8 578.2 648.8C577.8 649.8 577.1 652.0 576.8 653.1C576.5 654.1 576.5 654.3 576.5 655.0C576.5 655.6 576.5 655.8 576.8 656.9C577.1 657.9 577.9 660.1 578.2 661.1C578.5 662.2 578.6 662.4 578.7 663.1C578.8 663.7 578.8 663.7 578.8 665.0C578.9 666.4 579.1 667.9 578.8 671.1C578.6 674.4 577.7 682.3 577.5 684.6" stroke="#808080"/>
<path d="M555.6 489.4C555.4 490.7 554.6 495.3 554.3 496.9C554.0 498.4 554.0 498.2 553.8 498.8C553.6 499.5 553.6 499.7 553.2 500.7C552.8 501.7 551.8 504.0 551.4 505.1C551.0 506.1 550.9 506.3 550.7 506.9C550.5 507.6 550.4 507.8 550.2 508.9C549.9 509.9 549.3 512.0 549.0 513.1C548.8 514.1 548.7 514.4 548.7 515.0C548.6 515.7 548.6 516.0 548.7 517.0C548.7 518.0 548.9 520.1 548.9 521.1C549.0 522.1 548.9 522.4 548.8 523.0C548.7 523.7 548.7 523.9 548.3 524.9C547.9 526.0 547.0 528.3 546.6 529.3C546.1 530.3 546.0 530.4 545.6 530.9C545.1 531.4 546.2 530.9 544.0 532.0C541.8 533.2 536.7 535.9 532.4 537.9C528.0 539.8 520.7 542.7 518.1 543.8C515.4 545.0 516.9 544.4 516.3 544.7C515.7 545.0 515.3 545.3 514.6 545.8C514.0 546.3 512.9 547.0 512.4 547.4C511.9 547.9 511.6 548.2 511.6 548.6C511.6 549.0 511.9 549.4 512.4 549.8C512.9 550.3 514.0 551.0 514.6 551.5C515.3 551.9 515.7 552.2 516.3 552.5C516.9 552.8 515.8 552.5 518.2 553.2C520.5 553.8 528.1 555.6 530.4 556.2C532.8 556.8 531.7 556.6 532.3 556.8C533.0 557.0 533.1 557.1 534.2 557.6C535.2 558.1 537.7 559.3 538.7 559.9C539.6 560.4 539.7 560.5 540.0 561.0C540.3 561.5 540.4 561.8 540.4 562.8C540.5 563.7 540.5 565.8 540.4 566.8C540.4 567.8 540.4 568.1 540.2 568.7C540.0 569.4 540.0 569.4 539.3 570.5C538.7 571.6 536.8 574.2 536.2 575.2C535.5 576.3 535.5 576.4 535.3 577.0C535.2 577.6 535.1 577.9 535.1 578.9C535.0 579.9 535.0 582.0 535.1 583.0C535.1 584.0 535.2 584.3 535.4 584.8C535.7 585.4 535.9 585.7 536.5 586.4C537.1 587.1 538.4 588.3 539.0 588.9C539.6 589.6 539.8 589.9 540.0 590.4C540.2 590.9 540.1 591.4 540.0 592.0C540.0 592.6 539.7 593.5 539.5 594.1C539.3 594.7 539.1 595.1 538.7 595.5C538.3 595.9 538.8 595.8 537.2 596.4C535.6 597.0 530.6 598.6 528.9 599.2C527.2 599.7 527.6 599.6 527.1 599.9C526.5 600.2 526.0 600.5 525.4 601.0C524.7 601.4 523.7 602.1 523.2 602.6C522.7 603.1 522.4 603.4 522.4 603.9C522.3 604.3 522.5 604.6 523.0 605.2C523.6 605.9 524.9 607.2 525.6 607.8C526.3 608.4 526.5 608.7 527.1 609.1C527.6 609.5 527.3 609.3 528.8 610.1C530.3 610.9 534.5 612.9 536.0 613.7C537.4 614.5 537.1 614.4 537.5 614.8C537.9 615.2 538.2 615.6 538.6 616.2C538.9 616.8 539.4 617.7 539.6 618.4C539.9 619.0 540.1 619.5 540.1 620.0C540.1 620.6 540.1 620.9 539.8 621.9C539.5 622.9 538.8 625.2 538.4 626.2C538.0 627.1 537.9 627.3 537.5 627.8C537.1 628.3 537.7 628.0 536.0 628.9C534.2 629.9 529.5 632.2 527.0 633.4C524.4 634.7 521.9 635.9 520.7 636.6C519.5 637.3 519.7 637.2 519.6 637.5C519.4 637.9 519.5 638.2 519.7 638.7C519.9 639.1 520.4 639.8 520.8 640.3C521.2 640.8 521.4 641.1 521.8 641.4C522.3 641.8 521.9 641.6 523.4 642.4C524.8 643.2 529.1 645.2 530.6 646.0C532.0 646.8 531.7 646.7 532.1 647.1C532.5 647.6 532.6 647.8 533.0 648.8C533.4 649.8 534.1 652.0 534.4 653.1C534.7 654.1 534.7 654.3 534.7 655.0C534.7 655.6 534.7 655.8 534.4 656.9C534.1 657.9 533.3 660.1 533.0 661.1C532.7 662.2 532.6 662.4 532.5 663.1C532.4 663.7 532.4 663.7 532.4 665.0C532.3 666.4 532.1 667.9 532.4 671.1C532.6 674.4 533.5 682.3 533.7 684.6" stroke="#808080"/>
<path d="M555.6 489.4C555.9 490.5 556.7 493.2 557.3 496.2C557.9 499.1 558.9 503.3 559.4 506.9C560.0 510.5 560.3 514.4 560.5 517.7C560.7 520.9 560.5 524.7 560.5 526.5C560.6 528.2 560.6 527.8 560.7 528.4C560.9 529.1 560.9 529.2 561.3 530.3C561.7 531.3 562.7 533.7 563.2 534.7C563.7 535.7 563.8 535.9 564.2 536.4C564.6 536.9 564.4 536.7 565.7 537.7C566.9 538.6 570.6 541.2 571.8 542.1C573.1 543.0 572.8 542.9 573.2 543.3C573.6 543.7 573.9 544.0 574.3 544.5C574.6 544.9 575.1 545.6 575.3 546.1C575.6 546.6 575.7 546.9 575.7 547.4C575.7 547.9 575.6 548.3 575.3 548.9C575.1 549.5 574.6 550.5 574.3 551.1C573.9 551.7 573.6 552.1 573.2 552.6C572.8 553.0 572.8 553.1 571.8 553.8C570.7 554.5 568.1 556.2 567.0 557.0C566.0 557.7 566.0 557.7 565.6 558.2C565.2 558.6 564.9 559.1 564.6 559.7C564.2 560.3 563.7 561.2 563.5 561.8C563.2 562.5 563.1 562.9 563.0 563.5C563.0 564.1 563.0 564.3 563.3 565.3C563.6 566.4 564.4 568.6 564.7 569.6C565.1 570.7 565.1 570.9 565.2 571.5C565.3 572.2 565.3 572.5 565.4 573.5C565.4 574.5 565.4 576.6 565.4 577.6C565.3 578.6 565.3 578.9 565.2 579.6C565.1 580.2 565.1 580.5 564.7 581.5C564.4 582.5 563.6 584.7 563.3 585.8C563.0 586.8 562.9 587.0 562.8 587.7C562.6 588.3 562.5 588.6 562.3 589.6C562.2 590.7 561.8 592.8 561.7 593.8C561.6 594.8 561.6 595.0 561.8 595.6C562.0 596.1 562.1 596.3 562.9 597.0C563.7 597.7 565.7 599.2 566.5 599.9C567.3 600.6 567.5 600.7 567.9 601.2C568.3 601.7 568.5 602.1 568.9 602.7C569.2 603.4 569.7 604.3 569.9 604.9C570.2 605.5 570.3 606.0 570.3 606.5C570.3 607.1 570.2 607.5 569.9 608.1C569.7 608.8 569.2 609.7 568.9 610.3C568.5 610.9 568.3 611.3 567.9 611.8C567.5 612.4 567.3 612.6 566.6 613.3C566.0 614.0 564.7 615.2 564.1 615.9C563.5 616.6 563.2 616.9 562.9 617.4C562.7 618.0 562.6 618.3 562.3 619.3C562.1 620.2 561.8 622.4 561.7 623.4C561.5 624.4 561.5 624.7 561.6 625.3C561.7 625.9 561.8 626.1 562.2 627.1C562.7 628.2 563.9 630.6 564.5 631.6C565.0 632.7 565.1 632.8 565.4 633.4C565.8 634.0 565.8 634.0 566.5 635.1C567.2 636.2 569.0 638.8 569.6 639.8C570.3 640.9 570.2 641.0 570.3 641.6C570.4 642.2 570.5 642.1 570.1 643.4C569.7 644.7 568.7 647.5 568.1 649.6C567.4 651.6 566.4 654.4 566.0 655.8C565.6 657.1 565.7 657.0 565.6 657.7C565.5 658.3 565.5 658.2 565.6 659.6C565.8 661.1 566.3 665.0 566.5 666.4C566.6 667.9 566.6 667.8 566.6 668.4C566.6 669.1 566.8 667.7 566.5 670.4C566.3 673.1 565.6 682.2 565.4 684.6" stroke="#0000ff"/>
<path d="M555.6 489.4C555.3 490.5 554.5 493.2 553.9 496.2C553.3 499.1 552.3 503.3 551.8 506.9C551.2 510.5 550.9 514.4 550.7 517.7C550.5 520.9 550.7 524.7 550.7 526.5C550.6 528.2 550.6 527.8 550.5 528.4C550.3 529.1 550.3 529.2 549.9 530.3C549.5 531.3 548.5 533.7 548.0 534.7C547.5 535.7 547.4 535.9 547.0 536.4C546.6 536.9 546.8 536.7 545.5 537.7C544.3 538.6 540.6 541.2 539.4 542.1C538.1 543.0 538.4 542.9 538.0 543.3C537.6 543.7 537.3 544.0 536.9 544.5C536.6 544.9 536.1 545.6 535.9 546.1C535.6 546.6 535.5 546.9 535.5 547.4C535.5 547.9 535.6 548.3 535.9 548.9C536.1 549.5 536.6 550.5 536.9 551.1C537.3 551.7 537.6 552.1 538.0 552.6C538.4 553.0 538.4 553.1 539.4 553.8C540.5 554.5 543.1 556.2 544.2 557.0C545.2 557.7 545.2 557.7 545.6 558.2C546.0 558.6 546.3 559.1 546.6 559.7C547.0 560.3 547.5 561.2 547.7 561.8C548.0 562.5 548.1 562.9 548.2 563.5C548.2 564.1 548.2 564.3 547.9 565.3C547.6 566.4 546.8 568.6 546.5 569.6C546.1 570.7 546.1 570.9 546.0 571.5C545.9 572.2 545.9 572.5 545.8 573.5C545.8 574.5 545.8 576.6 545.8 577.6C545.9 578.6 545.9 578.9 546.0 579.6C546.1 580.2 546.1 580.5 546.5 581.5C546.8 582.5 547.6 584.7 547.9 585.8C548.2 586.8 548.3 587.0 548.4 587.7C548.6 588.3 548.7 588.6 548.9 589.6C549.0 590.7 549.4 592.8 549.5 593.8C549.6 594.8 549.6 595.0 549.4 595.6C549.2 596.1 549.1 596.3 548.3 597.0C547.5 597.7 545.5 599.2 544.7 599.9C543.9 600.6 543.7 600.7 543.3 601.2C542.9 601.7 542.7 602.1 542.3 602.7C542.0 603.4 541.5 604.3 541.3 604.9C541.0 605.5 540.9 606.0 540.9 606.5C540.9 607.1 541.0 607.5 541.3 608.1C541.5 608.8 542.0 609.7 542.3 610.3C542.7 610.9 542.9 611.3 543.3 611.8C543.7 612.4 543.9 612.6 544.6 613.3C545.2 614.0 546.5 615.2 547.1 615.9C547.7 616.6 548.0 616.9 548.3 617.4C548.5 618.0 548.6 618.3 548.9 619.3C549.1 620.2 549.4 622.4 549.5 623.4C549.7 624.4 549.7 624.7 549.6 625.3C549.5 625.9 549.4 626.1 549.0 627.1C548.5 628.2 547.3 630.6 546.7 631.6C546.2 632.7 546.1 632.8 545.8 633.4C545.4 634.0 545.4 634.0 544.7 635.1C544.0 636.2 542.2 638.8 541.6 639.8C540.9 640.9 541.0 641.0 540.9 641.6C540.8 642.2 540.7 642.1 541.1 643.4C541.5 644.7 542.5 647.5 543.1 649.6C543.8 651.6 544.8 654.4 545.2 655.8C545.6 657.1 545.5 657.0 545.6 657.7C545.7 658.3 545.7 658.2 545.6 659.6C545.4 661.1 544.9 665.0 544.7 666.4C544.6 667.9 544.6 667.8 544.6 668.4C544.6 669.1 544.4 667.7 544.7 670.4C544.9 673.1 545.6 682.2 545.8 684.6" stroke="#0000ff"/>
<path d="M555.6 501.5C555.7 503.3 556.0 508.7 556.2 512.3C556.4 515.9 556.5 519.8 556.8 523.1C557.0 526.3 557.4 530.1 557.6 531.8C557.8 533.6 557.8 533.2 558.0 533.8C558.1 534.4 558.2 534.6 558.6 535.7C559.1 536.7 560.1 539.0 560.5 540.1C561.0 541.1 561.0 541.3 561.2 541.9C561.4 542.6 561.5 543.1 561.7 543.9C561.9 544.7 562.2 545.9 562.3 546.7C562.4 547.5 562.5 548.0 562.4 548.6C562.4 549.3 562.5 549.0 562.1 550.6C561.7 552.1 560.7 555.8 560.0 558.1C559.3 560.3 558.3 562.9 557.9 564.2C557.5 565.6 557.6 565.5 557.5 566.2C557.3 566.8 557.3 564.6 557.3 568.1C557.3 571.7 557.2 580.8 557.3 587.7C557.4 594.5 557.7 603.3 557.8 609.2C557.9 615.2 557.8 620.7 557.8 623.4C557.9 626.0 557.9 624.7 558.0 625.3C558.0 626.0 558.1 626.3 558.3 627.3C558.6 628.3 559.2 630.5 559.5 631.5C559.7 632.5 559.8 632.8 559.9 633.4C560.0 634.1 560.0 634.4 560.1 635.4C560.2 636.4 560.3 638.5 560.4 639.5C560.4 640.5 560.4 640.8 560.4 641.5C560.4 642.2 560.4 642.0 560.2 643.5C559.9 644.9 559.2 648.8 559.0 650.3C558.7 651.8 558.8 651.6 558.7 652.3C558.7 652.9 558.7 651.6 558.6 654.3C558.6 657.0 558.5 663.4 558.6 668.4C558.8 673.5 559.3 681.9 559.4 684.6" stroke="#ff0000"/>
<path d="M555.6 501.5C555.5 503.3 555.2 508.7 555.0 512.3C554.8 515.9 554.7 519.8 554.4 523.1C554.2 526.3 553.8 530.1 553.6 531.8C553.4 533.6 553.4 533.2 553.2 533.8C553.1 534.4 553.0 534.6 552.6 535.7C552.1 536.7 551.1 539.0 550.7 540.1C550.2 541.1 550.2 541.3 550.0 541.9C549.8 542.6 549.7 543.1 549.5 543.9C549.3 544.7 549.0 545.9 548.9 546.7C548.8 547.5 548.7 548.0 548.8 548.6C548.8 549.3 548.7 549.0 549.1 550.6C549.5 552.1 550.5 555.8 551.2 558.1C551.9 560.3 552.9 562.9 553.3 564.2C553.7 565.6 553.6 565.5 553.7 566.2C553.9 566.8 553.9 564.6 553.9 568.1C553.9 571.7 554.0 580.8 553.9 587.7C553.8 594.5 553.5 603.3 553.4 609.2C553.3 615.2 553.4 620.7 553.4 623.4C553.3 626.0 553.3 624.7 553.2 625.3C553.2 626.0 553.1 626.3 552.9 627.3C552.6 628.3 552.0 630.5 551.7 631.5C551.5 632.5 551.4 632.8 551.3 633.4C551.2 634.1 551.2 634.4 551.1 635.4C551.0 636.4 550.9 638.5 550.8 639.5C550.8 640.5 550.8 640.8 550.8 641.5C550.8 642.2 550.8 642.0 551.0 643.5C551.3 644.9 552.0 648.8 552.2 650.3C552.5 651.8 552.4 651.6 552.5 652.3C552.5 652.9 552.5 651.6 552.6 654.3C552.6 657.0 552.7 663.4 552.6 668.4C552.4 673.5 551.9 681.9 551.8 684.6" stroke="#ff0000"/>
<path d="M555.8 535.2C555.8 536.1 555.8 539.7 555.8 540.6" stroke="#00ff00"/>
<path d="M555.4 535.2C555.4 536.1 555.4 539.7 555.4 540.6" stroke="#00ff00"/>
<path d="M555.6 533.8C555.6 559.0 555.6 659.5 555.6 684.6" stroke="#ff00ff" stroke-width="2"/>
</g>
<line x1="122.5" y1="468.4" x2="468.8" y2="468.4" stroke="#5a5a5a" stroke-width="1.9" stroke-dasharray="5.3 10.6" stroke-dashoffset="-0.5"/>
<rect x="122.5" y="67.8" width="520.1" height="614.4000000000001" fill="none" stroke="#222" stroke-width="2.1"/>
<line x1="468.8" y1="67.8" x2="468.8" y2="682.2" stroke="#222" stroke-width="2.1"/>
<path d="M122.5 682.20h9M468.8 682.20h-9M122.5 594.43h9M468.8 594.43h-9M122.5 506.66h9M468.8 506.66h-9M122.5 418.89h9M468.8 418.89h-9M122.5 331.11h9M468.8 331.11h-9M122.5 243.34h9M468.8 243.34h-9M122.5 155.57h9M468.8 155.57h-9M122.5 67.80h9M468.8 67.80h-9M174.20 682.2v-9M174.20 67.8v9M233.00 682.2v-9M233.00 67.8v9M291.80 682.2v-9M291.80 67.8v9M351.00 682.2v-9M351.00 67.8v9M410.00 682.2v-9M410.00 67.8v9M509.13 682.2v-9M509.13 67.8v9M555.70 682.2v-9M555.70 67.8v9M602.28 682.2v-9M602.28 67.8v9" stroke="#222" stroke-width="1.4" fill="none"/>
<text x="106.8" y="691.0" font-size="26" text-anchor="end">−1</text>
<text x="106.8" y="603.2" font-size="26" text-anchor="end">−0.5</text>
<text x="106.8" y="515.5" font-size="26" text-anchor="end">0</text>
<text x="106.8" y="427.7" font-size="26" text-anchor="end">0.5</text>
<text x="106.8" y="339.9" font-size="26" text-anchor="end">1</text>
<text x="106.8" y="252.1" font-size="26" text-anchor="end">1.5</text>
<text x="106.8" y="164.4" font-size="26" text-anchor="end">2</text>
<text x="106.8" y="76.6" font-size="26" text-anchor="end">2.5</text>
<text x="122.5" y="717" font-size="26" text-anchor="middle">L</text>
<text x="174.2" y="717" font-size="26" text-anchor="middle">M</text>
<text x="233.0" y="717" font-size="26" text-anchor="middle">A</text>
<text x="291.8" y="717" font-size="28" text-anchor="middle" style="font-family:'Liberation Serif',serif">Γ</text>
<text x="351.0" y="717" font-size="26" text-anchor="middle">Y</text>
<text x="410.0" y="717" font-size="26" text-anchor="middle">V</text>
<text x="468.8" y="717" font-size="28" text-anchor="middle" style="font-family:'Liberation Serif',serif">Γ</text>
<text x="509.1" y="717" font-size="26" text-anchor="middle">−15</text>
<text x="555.7" y="717" font-size="26" text-anchor="middle">0</text>
<text x="602.3" y="717" font-size="26" text-anchor="middle">15</text>
<text x="295.6" y="757" font-size="26" text-anchor="middle">K−Points</text>
<text x="555.7" y="757" font-size="26" text-anchor="middle">PDOS</text>
<text transform="translate(25.0,373.5) rotate(-90)" font-size="26" text-anchor="middle"><tspan font-style="italic">E</tspan> (eV)</text>
<text transform="translate(19.2,36.6) scale(0.9,1)" font-size="42.5" font-weight="bold">a</text>
<text transform="translate(234.4,43.7) scale(0.93,1)" font-size="35" font-style="italic">ε</text>
<text x="251.0" y="55.2" font-size="20.3" font-style="italic">y</text>
<text x="269.9" y="42.2" font-size="35.5">= 4% (AFM)</text>
<text transform="translate(554.0,320.1) scale(1.02,1)" font-size="24" text-anchor="end">Total</text>
<line x1="569.8" y1="311.9" x2="587.8" y2="311.9" stroke="#808080" stroke-width="2.8"/>
<text transform="translate(554.0,342.4) scale(0.966,1)" font-size="24" text-anchor="end">Cr (4s)</text>
<line x1="569.8" y1="334.2" x2="587.8" y2="334.2" stroke="#00ff00" stroke-width="2.8"/>
<text transform="translate(554.0,364.7) scale(0.964,1)" font-size="24" text-anchor="end">Cr (3d)</text>
<line x1="569.8" y1="356.5" x2="587.8" y2="356.5" stroke="#ff0000" stroke-width="2.8"/>
<text transform="translate(554.0,387.0) scale(0.951,1)" font-size="24" text-anchor="end">S (3p)</text>
<line x1="569.8" y1="378.8" x2="587.8" y2="378.8" stroke="#0000ff" stroke-width="2.8"/>
<text transform="translate(554.0,409.3) scale(0.966,1)" font-size="24" text-anchor="end">P (3p)</text>
<line x1="569.8" y1="401.1" x2="587.8" y2="401.1" stroke="#ff00ff" stroke-width="2.8"/>
<clipPath id="clipb"><rect x="789.0" y="67.8" width="346.3" height="614.4000000000001"/></clipPath>
<g clip-path="url(#clipb)" fill="none" stroke-linecap="butt" stroke-linejoin="round"></g><clipPath id="cb1"><rect x="789.0" y="67.8" width="169.3" height="614.4000000000001"/></clipPath><g clip-path="url(#cb1)" fill="none" stroke-linejoin="round"><path d="M788.8 86.8C795.7 86.8 823.3 86.8 830.2 86.8M788.6 86.8C800.1 86.8 844.9 86.8 857.6 86.8C870.3 86.9 863.3 87.1 864.8 87.2C866.3 87.3 866.1 87.3 866.8 87.4C867.4 87.5 867.2 87.4 868.7 87.8C870.3 88.2 873.3 88.8 876.0 89.6C878.7 90.4 882.5 91.5 885.2 92.4C887.9 93.2 890.9 94.1 892.5 94.5C894.0 95.0 893.8 94.9 894.4 95.0C895.1 95.2 895.2 95.2 896.4 95.3C897.6 95.5 900.4 95.8 901.6 95.8C902.8 95.9 902.9 95.9 903.4 95.8C904.0 95.7 904.2 95.6 905.0 95.2C905.8 94.8 907.1 93.9 908.2 93.3C909.3 92.7 910.6 92.0 911.4 91.7C912.2 91.3 912.4 91.2 912.9 91.1C913.5 90.9 913.9 90.8 914.8 90.6C915.6 90.4 917.3 90.1 918.2 90.0C919.1 89.8 919.5 89.8 920.2 89.7C920.8 89.7 920.3 89.6 922.2 89.7C924.0 89.7 927.4 89.8 931.2 90.1C935.0 90.3 940.2 90.7 945.0 91.0C949.8 91.2 957.5 91.4 960.0 91.4M903.6 96.0C904.2 96.8 906.2 99.2 907.3 100.6C908.3 102.0 909.2 103.6 909.9 104.5C910.5 105.4 910.6 105.6 911.0 106.1C911.4 106.7 911.5 106.8 912.2 107.7C913.0 108.6 914.5 110.5 915.6 111.7C916.6 112.9 918.0 114.2 918.8 114.9C919.5 115.6 919.7 115.7 920.1 115.9C920.5 116.2 920.8 116.2 921.3 116.3C921.7 116.3 922.3 116.3 922.7 116.3C923.2 116.2 923.5 116.2 923.9 116.0C924.4 115.7 924.5 115.7 925.4 115.0C926.3 114.3 927.6 113.3 929.4 111.7C931.1 110.1 933.9 107.0 935.8 105.2C937.7 103.5 939.6 101.9 940.7 101.0C941.8 100.1 941.8 100.2 942.3 99.8C942.9 99.5 943.1 99.3 944.0 98.8C944.9 98.3 946.9 97.4 947.8 96.9C948.7 96.5 949.0 96.4 949.6 96.2C950.3 95.9 949.8 96.0 951.5 95.6C953.3 95.2 958.6 94.1 960.0 93.7M911.0 68.4C911.7 69.5 914.4 73.7 915.4 75.1C916.3 76.4 916.1 76.1 916.6 76.7C917.0 77.2 917.0 77.2 917.9 78.1C918.8 79.1 920.4 80.6 922.0 82.2C923.6 83.8 925.7 86.1 927.5 87.8C929.4 89.4 931.5 91.0 933.0 92.4C934.6 93.7 936.1 94.9 937.0 95.7C937.9 96.4 938.1 96.5 938.6 96.9C939.2 97.3 939.5 97.5 940.3 98.0C941.1 98.4 942.5 99.2 943.3 99.6C944.0 100.1 944.4 100.3 945.0 100.6C945.6 100.8 946.1 101.0 946.9 101.3C947.6 101.6 948.8 102.0 949.6 102.3C950.3 102.5 950.8 102.7 951.5 102.8C952.1 102.9 952.0 102.9 953.4 103.0C954.9 103.1 958.9 103.3 960.0 103.4M902.7 132.8C903.6 132.1 906.2 129.9 908.2 128.2C910.2 126.6 912.9 124.2 914.6 122.7C916.4 121.2 917.7 120.1 918.6 119.4C919.5 118.7 919.6 118.6 920.0 118.3C920.4 118.1 920.5 118.0 921.0 117.7C921.5 117.4 922.6 116.9 922.9 116.7M918.3 117.2C918.9 118.0 921.0 120.5 922.0 121.8C923.0 123.1 924.0 124.2 924.6 125.0C925.2 125.8 925.3 126.0 925.6 126.5C925.9 127.0 926.0 127.2 926.5 128.2C926.9 129.3 928.1 132.1 928.4 132.8M789.8 150.8C798.5 150.8 831.9 150.7 842.2 150.8C852.5 150.8 848.7 151.0 851.4 151.2C854.1 151.4 857.1 151.8 858.6 151.9C860.1 152.1 859.9 152.0 860.6 152.1C861.3 152.1 861.4 152.1 862.6 152.0C863.8 152.0 866.6 151.9 867.8 151.8C869.0 151.7 869.1 151.6 869.7 151.4C870.3 151.2 870.5 151.2 871.5 150.6C872.4 150.1 874.5 148.7 875.5 148.1C876.4 147.5 876.6 147.4 877.1 147.0C877.6 146.6 877.6 146.7 878.7 145.8C879.8 144.9 882.0 143.0 883.6 141.6C885.2 140.2 887.4 138.2 888.5 137.3C889.6 136.5 889.6 136.5 890.1 136.2C890.7 135.9 891.1 135.8 891.9 135.4C892.8 135.1 894.6 134.6 895.5 134.3C896.4 134.1 896.7 134.0 897.3 133.9C897.8 133.8 898.2 133.8 898.8 133.7C899.3 133.7 900.1 133.8 900.6 133.7C901.2 133.7 901.5 133.7 902.0 133.6C902.5 133.5 902.8 133.3 903.4 133.0C903.9 132.8 904.7 132.4 905.2 132.1C905.8 131.8 906.1 131.6 906.6 131.3C907.1 130.9 907.2 130.8 908.0 130.1C908.7 129.3 910.2 127.8 911.2 126.8C912.2 125.8 913.5 124.5 914.0 124.1M905.7 135.1C906.3 135.7 908.7 137.7 909.7 138.4C910.6 139.2 910.7 139.3 911.3 139.6C911.8 140.0 911.5 139.8 913.0 140.6C914.5 141.4 917.6 143.1 920.4 144.3C923.2 145.6 926.8 147.0 929.6 148.0C932.3 149.0 935.3 149.7 936.9 150.2C938.4 150.6 938.2 150.5 938.8 150.7C939.5 150.8 938.5 150.7 940.8 151.0C943.1 151.2 948.2 151.9 952.6 152.1C957.0 152.4 964.6 152.5 967.0 152.6M924.1 125.0C924.7 126.2 926.4 129.9 927.8 132.4C929.1 134.8 930.8 137.3 932.4 139.7C933.9 142.2 935.4 144.8 937.0 147.1C938.5 149.4 939.9 151.2 941.6 153.5C943.2 155.8 945.4 158.7 947.1 160.9C948.7 163.1 950.5 165.4 951.4 166.6C952.3 167.9 952.2 167.7 952.6 168.2C953.1 168.7 953.4 169.1 954.0 169.6C954.5 170.2 955.3 171.0 955.8 171.5C956.4 171.9 956.8 172.3 957.3 172.5C957.9 172.8 957.6 172.8 959.2 172.9C960.8 173.1 965.7 173.2 967.0 173.3M858.8 195.8C859.6 195.3 862.5 193.1 863.6 192.4C864.7 191.7 864.7 191.7 865.3 191.4C865.9 191.1 865.9 191.1 867.1 190.7C868.3 190.3 871.3 189.4 872.5 189.1C873.7 188.7 873.8 188.7 874.4 188.6C875.1 188.5 874.9 188.5 876.4 188.4C877.9 188.3 880.1 188.0 883.6 188.0C887.1 188.0 894.2 188.3 897.4 188.5C900.6 188.6 901.5 188.7 902.8 188.8C904.0 188.9 904.1 188.9 904.7 189.0C905.4 189.1 905.2 189.0 906.7 189.3C908.2 189.6 912.3 190.5 913.8 190.8C915.4 191.1 915.1 191.1 915.8 191.2C916.5 191.2 916.6 191.3 917.8 191.3C919.0 191.4 921.8 191.6 923.0 191.6C924.2 191.6 924.3 191.6 925.0 191.6C925.6 191.5 925.7 191.5 926.9 191.2C928.1 190.9 931.1 190.2 932.3 189.9C933.5 189.6 933.5 189.5 934.1 189.3C934.7 189.0 934.7 189.1 935.9 188.4C937.2 187.6 940.4 185.7 941.7 184.9C942.9 184.2 942.8 184.2 943.4 183.8C943.9 183.5 943.8 183.6 945.0 182.7C946.2 181.8 948.7 179.8 950.8 178.4C952.8 176.9 956.1 174.5 957.2 173.8M904.8 188.5C906.6 187.7 912.4 185.3 915.8 183.9C919.2 182.5 922.2 181.2 925.0 180.2C927.7 179.2 930.8 178.2 932.3 177.6C933.8 177.1 933.6 177.2 934.2 177.0C934.9 176.9 935.0 176.8 936.2 176.6C937.4 176.3 940.2 175.8 941.4 175.5C942.6 175.3 942.7 175.3 943.4 175.2C944.1 175.1 943.9 175.1 945.4 175.0C946.9 174.9 949.0 174.9 952.6 174.7C956.2 174.5 964.6 173.9 967.0 173.8M789.2 200.6C798.2 200.6 833.8 200.6 843.1 200.6C852.4 200.6 844.4 200.6 845.0 200.5C845.7 200.4 845.8 200.4 847.0 200.1C848.2 199.9 850.9 199.2 852.1 198.9C853.2 198.6 853.3 198.5 854.0 198.3C854.6 198.0 854.3 198.2 855.8 197.5C857.3 196.8 860.2 195.2 862.9 193.9C865.6 192.7 870.4 190.7 871.9 190.0M789.6 555.3C800.2 555.3 842.4 555.3 853.3 555.3C864.3 555.3 854.7 555.3 855.3 555.2C856.0 555.2 855.5 555.3 857.3 555.0C859.1 554.8 862.5 554.4 865.8 553.7C869.1 553.1 874.8 551.6 877.0 551.1C879.2 550.7 878.3 550.9 879.0 550.8C879.6 550.7 878.8 550.7 881.0 550.6C883.2 550.5 888.8 550.3 892.1 550.2C895.4 550.1 898.9 550.2 900.6 550.2C902.3 550.1 901.9 550.1 902.5 549.8C903.0 549.6 902.4 550.3 904.0 548.7C905.5 547.0 908.8 543.4 911.8 539.9C914.9 536.5 918.8 531.8 922.3 528.1C925.8 524.4 930.8 519.7 932.7 517.7C934.7 515.7 933.7 516.8 934.2 516.3C934.7 515.9 934.3 516.2 935.8 515.1C937.3 514.1 941.5 511.2 943.0 510.2C944.5 509.2 944.1 509.5 944.7 509.2C945.3 509.0 945.0 509.0 946.6 508.7C948.3 508.3 952.9 507.5 954.5 507.2C956.2 506.9 955.8 507.0 956.5 506.9C957.1 506.9 957.7 506.9 958.5 506.9C959.2 506.9 960.4 507.0 961.1 507.0C961.8 507.0 962.3 507.1 962.9 507.2C963.4 507.2 963.6 507.3 964.2 507.5C964.9 507.7 966.5 508.2 967.0 508.4M789.6 569.5C799.8 569.5 840.2 569.5 850.7 569.5C861.2 569.5 852.0 569.5 852.7 569.6C853.3 569.6 852.8 569.5 854.7 569.8C856.5 570.1 862.0 571.1 863.9 571.4C865.7 571.7 865.2 571.6 865.8 571.7C866.5 571.7 866.0 571.7 867.8 571.8C869.7 572.0 875.1 572.3 877.0 572.4C878.8 572.5 878.3 572.5 879.0 572.5C879.6 572.5 878.8 572.5 881.0 572.4C883.2 572.3 888.8 571.9 892.1 571.7C895.4 571.5 898.9 571.4 900.6 571.3C902.4 571.2 901.9 571.2 902.6 571.0C903.2 570.8 903.0 571.0 904.4 570.3C905.9 569.7 909.9 567.7 911.3 567.1C912.8 566.4 912.5 566.5 913.2 566.3C913.8 566.1 913.1 566.2 915.1 565.7C917.0 565.1 921.1 563.8 925.0 562.9C928.8 562.0 934.0 561.0 938.1 560.3C942.1 559.6 947.1 559.1 949.3 558.8C951.4 558.6 950.6 558.7 951.2 558.7C951.9 558.6 950.6 558.6 953.2 558.6C955.9 558.7 964.7 558.9 967.0 559.0M902.6 550.2C903.9 551.5 907.9 555.4 910.5 558.3C913.1 561.2 915.8 564.7 918.4 567.5C921.0 570.4 923.9 573.0 926.3 575.4C928.7 577.8 931.4 580.6 932.7 581.9C934.1 583.2 933.7 582.8 934.2 583.2C934.7 583.6 934.8 583.7 935.8 584.4C936.8 585.1 939.3 586.8 940.4 587.4C941.4 588.1 941.5 588.1 942.0 588.5C942.6 588.8 942.7 588.9 943.6 589.3C944.5 589.8 946.7 590.9 947.3 591.2M902.6 571.2C904.4 572.3 909.6 575.6 913.1 578.0C916.6 580.5 920.6 583.7 923.6 585.9C926.7 588.1 930.2 590.3 931.5 591.2M789.6 663.6C798.5 663.6 833.6 663.6 842.8 663.6C852.0 663.5 844.1 663.5 844.7 663.3C845.3 663.1 845.8 662.9 846.4 662.5C847.0 662.1 847.9 661.4 848.5 661.0C849.1 660.5 849.5 660.2 850.0 659.8C850.4 659.3 849.9 660.0 851.3 658.3C852.6 656.6 855.5 652.6 857.9 649.4C860.4 646.1 863.2 642.6 865.8 638.9C868.5 635.1 871.1 630.8 873.7 627.0C876.3 623.3 879.2 619.6 881.6 616.5C884.0 613.5 886.9 610.4 888.2 608.9C889.5 607.3 889.1 607.9 889.6 607.5C890.1 607.0 890.2 606.9 891.2 606.3C892.2 605.7 894.6 604.3 895.6 603.7C896.7 603.2 896.8 603.1 897.4 602.9C898.0 602.7 898.3 602.7 899.3 602.5C900.4 602.4 902.4 602.3 903.9 602.1C905.5 601.9 907.5 601.4 908.5 601.2C909.6 600.9 909.8 600.9 910.5 600.7C911.1 600.5 911.0 600.5 912.4 600.0C913.7 599.5 916.1 598.4 918.4 597.5C920.7 596.5 924.0 595.2 926.3 594.2C928.6 593.2 931.0 592.2 932.3 591.7C933.6 591.1 933.5 591.2 934.2 591.0C934.8 590.8 934.4 590.9 936.1 590.5C937.9 590.1 941.4 589.2 944.7 588.7C948.0 588.1 953.6 587.4 955.8 587.1C958.0 586.8 957.1 587.0 957.8 586.9C958.5 586.8 958.3 586.8 959.8 586.8C961.3 586.7 965.8 586.6 967.0 586.6M903.9 602.1C905.0 602.6 908.7 604.5 910.0 605.1C911.3 605.8 911.2 605.7 911.9 605.9C912.5 606.2 912.5 606.2 913.7 606.6C914.9 606.9 917.9 607.8 919.1 608.1C920.3 608.4 920.4 608.4 921.0 608.5C921.7 608.7 921.3 608.6 923.0 608.8C924.8 608.9 927.9 609.2 931.5 609.3C935.1 609.4 940.6 609.4 944.7 609.3C948.7 609.2 953.6 608.8 955.8 608.7C958.0 608.7 957.1 608.7 957.8 608.7C958.5 608.8 958.3 608.7 959.8 608.9C961.3 609.1 965.8 609.8 967.0 610.0M789.6 677.6C798.1 677.6 831.4 677.6 840.2 677.6C848.9 677.6 841.5 677.7 842.1 677.7C842.7 677.8 843.1 677.9 843.8 678.0C844.4 678.2 845.2 678.4 845.9 678.5C846.5 678.7 846.9 678.9 847.4 679.1C848.0 679.3 848.4 679.6 849.0 679.9C849.6 680.3 850.5 680.9 851.1 681.2C851.7 681.6 852.1 681.9 852.5 682.2C852.9 682.5 853.0 682.6 853.5 683.0C854.0 683.5 855.0 684.5 855.3 684.9M852.7 684.2C853.8 682.8 858.0 677.5 859.3 675.9C860.7 674.3 860.2 674.9 860.7 674.5C861.2 674.0 860.8 674.2 862.2 673.2C863.7 672.2 868.0 669.2 869.4 668.3C870.9 667.3 870.6 667.6 871.2 667.5C871.8 667.4 872.1 667.4 873.0 667.6C874.0 667.8 876.1 668.3 877.0 668.6C878.0 668.9 878.3 669.0 878.9 669.3C879.5 669.6 879.4 669.5 880.5 670.4C881.6 671.2 884.3 673.5 885.3 674.4C886.4 675.3 886.4 675.2 886.9 675.6C887.4 676.0 887.5 676.1 888.5 676.8C889.6 677.5 892.0 679.1 893.1 679.8C894.1 680.5 894.2 680.5 894.7 680.8C895.3 681.1 895.4 681.2 896.3 681.5C897.2 681.9 899.4 682.7 900.0 682.9M901.3 683.5C902.8 682.2 907.9 677.9 910.5 675.7C913.1 673.5 915.5 671.5 916.9 670.4C918.2 669.3 917.9 669.5 918.4 669.1C919.0 668.7 919.0 668.7 920.1 668.0C921.1 667.3 923.6 665.6 924.6 664.9C925.7 664.3 925.7 664.3 926.3 664.0C927.0 663.8 927.3 663.7 928.2 663.5C929.2 663.3 931.2 663.0 932.2 662.8C933.2 662.7 933.5 662.6 934.2 662.6C934.8 662.5 933.3 662.6 936.2 662.4C939.0 662.3 946.1 662.2 951.2 661.9C956.4 661.5 964.4 660.8 967.0 660.5M926.9 683.5C928.1 682.3 932.7 677.3 934.1 675.8C935.5 674.3 935.0 674.9 935.5 674.4C936.0 674.0 935.8 674.1 937.1 673.2C938.3 672.3 941.8 669.8 943.0 668.9C944.3 668.1 944.1 668.2 944.7 667.9C945.3 667.6 945.2 667.6 946.6 667.2C948.0 666.7 951.8 665.5 953.3 665.1C954.7 664.7 954.5 664.7 955.2 664.6C955.9 664.5 955.2 664.5 957.2 664.4C959.1 664.2 965.4 663.9 967.0 663.8M925.4 592.5C927.6 591.9 936.2 589.7 938.8 589.1C941.3 588.5 940.1 588.8 940.7 588.7C941.4 588.5 940.1 588.7 942.7 588.4C945.3 588.1 953.6 587.1 956.2 586.8C958.8 586.5 957.5 586.7 958.2 586.7C958.9 586.7 957.5 586.6 960.2 586.8C962.9 587.0 971.9 587.7 974.6 587.9C977.3 588.2 975.9 588.1 976.6 588.2C977.2 588.3 976.8 588.2 978.5 588.7C980.2 589.2 985.4 590.8 986.8 591.2M930.5 591.2C932.7 591.8 941.4 593.9 944.0 594.5C946.5 595.1 945.3 594.8 945.9 594.9C946.6 595.0 946.2 595.0 947.9 595.1C949.6 595.3 954.5 595.6 956.2 595.7C957.9 595.8 957.5 595.7 958.2 595.7C958.9 595.7 958.3 595.8 960.2 595.5C962.1 595.2 967.6 594.4 969.5 594.1C971.4 593.8 970.8 593.9 971.5 593.7C972.1 593.5 971.7 593.7 973.4 593.1C975.1 592.5 980.3 590.5 981.7 590.0" stroke="#ff7d42" stroke-width="2.5"/><path d="M788.8 129.6C793.1 129.6 810.3 129.6 814.6 129.6M863.1 68.3C863.6 69.4 865.1 72.9 865.9 74.9C866.7 76.9 867.5 79.1 867.9 80.4C868.4 81.6 868.4 81.6 868.7 82.2C869.0 82.8 869.1 83.1 869.5 84.0C870.0 85.0 870.9 86.9 871.4 87.8C871.9 88.7 872.1 89.0 872.4 89.5C872.8 90.1 872.9 90.3 873.6 91.1C874.3 91.9 875.8 93.8 876.5 94.5C877.3 95.2 877.5 95.3 878.0 95.5C878.5 95.6 878.8 95.6 879.7 95.3C880.6 95.1 882.4 94.3 883.3 94.0C884.2 93.6 884.6 93.5 885.2 93.2C885.7 92.9 885.9 92.8 886.9 92.2C887.8 91.6 889.9 90.3 890.9 89.7C891.8 89.2 892.0 89.1 892.6 88.8C893.2 88.5 893.7 88.3 894.4 87.9C895.2 87.6 896.4 87.1 897.1 86.8C897.9 86.6 898.4 86.4 898.9 86.3C899.5 86.2 900.0 86.1 900.7 86.1C901.3 86.1 902.2 86.1 902.9 86.1C903.5 86.1 903.9 86.2 904.4 86.3C904.8 86.4 905.0 86.5 905.6 86.9C906.3 87.3 907.0 87.8 908.2 88.7C909.4 89.6 911.1 91.1 912.8 92.4C914.5 93.6 916.5 94.8 918.3 96.0C920.2 97.3 922.0 98.5 923.8 99.7C925.7 100.9 927.5 102.2 929.4 103.4C931.2 104.6 933.0 105.9 934.9 107.1C936.7 108.3 938.8 109.7 940.4 110.8C942.0 111.8 943.3 112.7 944.3 113.3C945.2 113.9 945.4 114.0 946.0 114.4C946.5 114.7 947.0 114.9 947.8 115.2C948.5 115.6 949.7 116.1 950.5 116.4C951.3 116.7 951.7 116.9 952.4 117.1C953.0 117.4 953.0 117.4 954.3 117.8C955.5 118.2 959.0 119.2 960.0 119.5M877.8 68.3C878.8 68.9 881.7 71.0 883.4 72.1C885.1 73.2 887.0 74.2 888.1 74.8C889.1 75.4 889.2 75.4 889.8 75.7C890.5 75.9 891.0 76.0 891.7 76.2C892.5 76.4 893.6 76.6 894.3 76.8C895.1 76.9 895.6 77.0 896.3 77.1C896.9 77.1 897.3 77.2 898.2 77.2C899.1 77.2 900.7 77.2 901.6 77.2C902.5 77.2 902.9 77.2 903.4 77.3C903.9 77.4 904.2 77.4 904.7 77.6C905.2 77.7 905.8 78.0 906.2 78.1C906.6 78.3 906.9 78.5 907.2 78.7C907.5 79.0 907.6 79.1 908.1 79.7C908.6 80.2 909.4 81.4 910.0 82.2C910.7 83.1 911.5 84.2 912.0 84.8C912.5 85.4 912.6 85.6 912.9 86.0C913.3 86.4 913.4 86.5 914.2 87.3C914.9 88.1 915.9 89.1 917.4 90.5C918.9 92.0 921.2 94.4 922.9 96.0C924.6 97.7 926.0 99.1 927.5 100.6C929.0 102.2 930.4 103.6 932.1 105.2C933.8 106.9 936.1 109.3 937.6 110.8C939.2 112.2 940.7 113.3 941.6 114.1C942.5 114.8 942.7 114.9 943.2 115.3C943.8 115.7 943.8 115.7 944.9 116.4C946.0 117.0 948.2 118.3 949.6 119.0C951.0 119.8 952.5 120.5 953.5 121.0C954.4 121.4 954.5 121.5 955.1 121.7C955.6 121.8 955.8 121.9 956.6 122.1C957.4 122.2 959.4 122.6 960.0 122.7M915.6 68.3C914.9 68.7 912.6 70.3 911.7 71.0C910.8 71.6 910.7 71.8 910.2 72.2C909.8 72.7 909.6 73.2 909.2 73.8C908.9 74.4 908.4 75.3 908.1 76.0C907.8 76.6 907.6 77.1 907.4 77.6C907.3 78.2 907.2 78.4 907.1 79.3C907.0 80.2 906.9 82.5 906.8 83.2M952.4 68.3C951.4 68.7 948.0 70.5 946.8 71.2C945.5 71.8 945.6 71.8 945.0 72.2C944.5 72.5 944.6 72.4 943.4 73.3C942.2 74.2 939.7 76.0 937.6 77.6C935.6 79.3 933.2 81.3 931.2 83.2C929.2 85.0 927.3 86.9 925.7 88.7C924.1 90.4 922.4 92.5 921.5 93.6C920.5 94.7 920.6 94.6 920.2 95.2C919.8 95.7 919.9 95.6 919.1 96.8C918.3 98.0 916.6 100.6 915.6 102.5C914.5 104.4 913.4 106.8 912.8 108.0C912.2 109.3 912.2 109.2 911.9 109.9C911.7 110.5 911.6 110.5 911.2 111.7C910.7 112.9 909.5 116.3 909.1 117.2M960.0 88.2C958.3 88.0 952.9 87.4 949.6 86.8C946.3 86.3 943.5 85.5 940.4 85.0C937.3 84.5 932.7 83.8 931.2 83.6M788.6 129.6C799.5 129.6 842.6 129.6 853.8 129.6C864.9 129.6 855.0 129.6 855.5 129.4C856.1 129.3 856.4 129.2 856.9 128.9C857.3 128.7 857.9 128.3 858.3 128.0C858.8 127.7 859.1 127.5 859.5 127.1C859.9 126.7 860.0 126.7 860.7 125.8C861.5 124.9 862.8 123.4 864.0 121.8C865.3 120.2 867.4 117.3 868.4 116.0C869.3 114.8 869.2 115.0 869.6 114.5C870.1 114.0 870.3 113.9 871.1 113.1C871.9 112.4 873.6 110.9 874.5 110.2C875.3 109.6 875.5 109.4 876.1 109.2C876.7 108.9 876.5 108.9 878.0 108.7C879.5 108.5 882.5 108.2 885.2 108.0C887.9 107.8 891.7 107.6 894.4 107.5C897.1 107.5 900.1 107.5 901.6 107.5C903.1 107.6 902.9 107.6 903.4 107.7C903.9 107.8 904.2 108.0 904.7 108.2C905.2 108.5 905.8 108.9 906.2 109.1C906.6 109.4 906.9 109.6 907.2 109.9C907.5 110.2 907.8 110.5 908.1 110.9C908.4 111.4 908.9 112.0 909.2 112.4C909.5 112.8 909.7 113.1 909.9 113.5C910.1 113.9 910.2 114.2 910.3 114.6C910.4 115.1 910.6 115.7 910.7 116.1C910.8 116.5 910.8 116.8 910.7 117.2C910.7 117.6 910.7 117.7 910.4 118.3C910.1 118.9 909.3 120.4 909.1 120.9M853.0 129.6C854.1 129.4 858.0 128.5 859.3 128.2C860.7 127.9 860.6 127.9 861.2 127.7C861.9 127.5 861.9 127.5 863.1 127.0C864.3 126.5 866.8 125.4 868.6 124.6C870.5 123.8 872.9 122.7 874.2 122.1C875.4 121.6 875.4 121.6 876.0 121.4C876.5 121.2 877.0 121.1 877.7 120.9C878.3 120.7 879.2 120.5 879.9 120.4C880.5 120.2 881.0 120.2 881.5 120.2C882.1 120.2 882.5 120.2 883.2 120.4C883.8 120.5 884.7 120.7 885.4 120.9C886.0 121.1 886.5 121.2 887.1 121.4C887.7 121.6 888.0 121.8 888.9 122.1C889.8 122.5 891.6 123.4 892.6 123.8C893.5 124.1 893.8 124.2 894.4 124.4C895.1 124.6 895.2 124.6 896.4 124.8C897.6 125.0 900.1 125.2 901.8 125.5C903.4 125.7 904.5 126.1 906.4 126.4C908.2 126.7 910.2 127.1 912.8 127.3C915.4 127.5 918.9 127.8 922.0 127.8C925.1 127.8 928.1 127.5 931.2 127.3C934.3 127.1 937.3 126.6 940.4 126.4C943.5 126.2 946.3 126.4 949.6 126.4C952.9 126.4 958.3 126.4 960.0 126.4M922.0 105.2C922.7 105.8 925.1 107.8 926.0 108.6C926.9 109.3 927.0 109.4 927.5 109.8C928.1 110.2 928.3 110.3 929.2 110.9C930.1 111.6 931.4 112.5 933.0 113.5C934.6 114.5 937.5 116.3 938.7 117.1C939.9 117.8 939.8 117.7 940.4 118.0C941.0 118.3 941.0 118.3 942.3 118.8C943.5 119.3 946.1 120.3 947.8 120.9C949.4 121.4 951.2 121.9 952.3 122.2C953.3 122.5 953.5 122.5 954.1 122.6C954.8 122.7 955.0 122.8 955.9 122.9C956.9 122.9 959.3 123.1 960.0 123.2M789.8 140.2C798.2 140.2 831.5 140.2 840.2 140.2C848.9 140.2 841.5 140.1 842.1 140.1C842.7 140.0 843.2 139.9 843.9 139.8C844.5 139.6 845.4 139.4 846.1 139.2C846.7 139.0 847.2 138.9 847.7 138.6C848.2 138.3 848.3 138.2 849.3 137.5C850.2 136.8 851.8 135.5 853.2 134.2C854.7 132.9 856.6 130.8 857.8 129.6C859.1 128.4 860.1 127.3 860.6 126.8M789.8 158.3C798.2 158.3 831.5 158.3 840.2 158.3C848.9 158.3 841.5 158.3 842.2 158.2C842.8 158.1 842.9 158.1 844.1 157.8C845.4 157.5 847.7 156.9 849.6 156.3C851.4 155.7 853.8 154.7 855.0 154.2C856.3 153.7 856.3 153.7 856.9 153.4C857.5 153.2 857.6 153.1 858.7 152.5C859.7 151.9 861.8 150.7 863.4 149.8C864.9 148.9 867.0 147.8 868.1 147.2C869.1 146.6 869.2 146.5 869.8 146.2C870.4 145.9 870.4 145.9 871.7 145.5C872.9 145.0 875.3 144.1 877.2 143.4C879.0 142.7 881.5 141.5 882.7 141.0C883.9 140.5 883.9 140.5 884.5 140.2C885.2 140.0 885.1 140.0 886.4 139.6C887.8 139.2 890.5 138.4 892.8 137.9C895.1 137.3 898.5 136.8 900.0 136.4C901.5 136.1 901.3 136.1 901.9 135.9C902.4 135.6 902.8 135.3 903.4 134.9C903.9 134.5 904.7 133.9 905.2 133.5C905.7 133.1 906.1 132.8 906.5 132.5C906.9 132.2 907.3 132.0 907.7 131.7C908.1 131.4 908.7 131.0 909.2 130.7C909.6 130.5 909.9 130.3 910.3 130.1C910.6 129.9 910.8 129.9 911.4 129.6C912.0 129.4 913.5 128.8 914.0 128.7M789.8 167.1C798.2 167.1 831.5 167.1 840.2 167.1C848.9 167.2 841.5 167.2 842.2 167.3C842.8 167.4 843.2 167.4 844.1 167.7C845.0 167.9 846.7 168.4 847.6 168.6C848.5 168.9 848.9 169.0 849.5 169.3C850.1 169.6 849.9 169.5 851.2 170.4C852.4 171.3 855.0 173.1 856.9 174.7C858.9 176.3 861.6 178.7 862.8 179.8C864.0 180.9 863.8 180.7 864.2 181.2C864.7 181.6 864.7 181.6 865.6 182.6C866.5 183.7 868.5 186.1 869.8 187.6C871.1 189.0 872.4 190.6 873.1 191.5C873.9 192.5 873.9 192.6 874.3 193.0C874.6 193.5 874.7 193.7 875.2 194.5C875.7 195.2 876.8 197.1 877.2 197.7M902.0 135.1C902.6 135.9 904.7 138.9 905.4 139.9C906.2 141.0 906.2 141.0 906.5 141.6C906.9 142.2 906.7 141.8 907.5 143.3C908.3 144.9 909.8 148.0 911.2 150.8C912.6 153.5 914.3 157.0 915.8 160.0C917.3 162.9 918.9 165.5 920.4 168.2C921.9 171.0 923.6 173.9 925.0 176.5C926.4 179.1 927.4 181.4 928.7 183.9C929.9 186.3 931.4 189.2 932.4 191.2C933.3 193.2 933.9 195.1 934.2 195.8M909.4 129.6C910.4 130.4 913.2 132.5 915.8 134.2C918.4 135.9 921.9 138.0 925.0 139.7C928.1 141.4 931.4 143.1 934.2 144.3C937.0 145.6 940.0 146.7 941.5 147.3C943.1 147.9 942.8 147.7 943.4 147.9C944.0 148.1 944.1 148.2 945.3 148.5C946.5 148.8 949.4 149.5 950.7 149.8C951.9 150.1 952.0 150.1 952.6 150.2C953.3 150.3 952.2 150.3 954.6 150.4C957.0 150.5 965.0 150.7 967.0 150.8M925.0 126.8C926.2 127.1 930.7 128.0 932.2 128.3C933.8 128.6 933.5 128.6 934.2 128.8C934.8 129.0 934.5 128.8 936.1 129.4C937.6 130.0 940.9 131.4 943.4 132.4C945.8 133.3 949.2 134.7 950.7 135.3C952.3 135.9 952.0 135.7 952.6 135.9C953.3 136.0 952.2 136.0 954.6 136.2C957.0 136.3 965.0 136.8 967.0 137.0M967.0 156.3C965.7 156.6 960.8 158.0 959.1 158.5C957.5 159.0 957.8 158.9 957.2 159.1C956.6 159.3 956.4 159.4 955.4 159.9C954.3 160.3 951.8 161.4 950.7 161.9C949.7 162.4 949.5 162.5 949.0 162.8C948.4 163.2 948.1 163.5 947.4 164.0C946.7 164.5 945.6 165.5 944.9 166.0C944.3 166.6 943.9 166.9 943.5 167.4C943.0 167.8 943.0 167.8 942.1 168.8C941.2 169.9 939.5 172.0 937.9 173.8C936.3 175.5 934.0 177.5 932.4 179.3C930.7 181.0 929.0 183.1 928.1 184.2C927.2 185.3 927.3 185.2 926.9 185.8C926.5 186.3 926.4 186.5 925.7 187.4C925.1 188.3 924.2 189.8 923.2 191.2C922.1 192.6 920.1 195.1 919.5 195.8M871.9 190.0C872.6 191.1 874.6 194.2 876.3 196.7C878.0 199.2 880.8 203.4 881.9 205.1C883.0 206.8 882.7 206.2 883.1 206.7C883.5 207.2 883.4 207.2 884.3 208.3C885.2 209.3 887.5 212.0 888.4 213.0C889.3 214.1 889.3 214.0 889.8 214.4C890.4 214.8 890.7 215.0 891.5 215.5C892.3 215.9 893.8 216.6 894.6 217.0C895.4 217.4 895.8 217.6 896.4 217.7C897.0 217.9 897.4 218.0 898.1 218.1C898.8 218.2 899.7 218.2 900.3 218.3C901.0 218.4 901.4 218.5 901.8 218.7C902.3 218.9 902.6 219.2 903.0 219.6C903.4 220.1 904.0 220.7 904.4 221.2C904.7 221.7 905.0 222.0 905.4 222.5C905.7 223.0 905.7 222.9 906.5 224.0C907.2 225.1 908.1 226.8 909.8 229.1C911.5 231.4 914.1 235.0 916.5 238.0C918.9 241.0 922.0 244.4 924.3 246.9C926.7 249.5 929.4 252.1 930.7 253.3C932.1 254.6 931.7 254.3 932.2 254.7C932.7 255.1 932.5 255.0 933.8 256.0C935.0 256.9 938.3 259.4 939.5 260.3C940.7 261.2 940.6 261.0 941.1 261.4C941.7 261.7 941.7 261.7 942.9 262.3C944.1 262.8 947.0 264.1 948.2 264.6C949.4 265.1 949.4 265.1 950.1 265.2C950.7 265.4 950.9 265.4 952.0 265.6C953.2 265.8 955.8 266.1 957.0 266.2C958.1 266.3 958.3 266.3 958.9 266.3C959.6 266.2 959.5 266.3 960.9 265.9C962.2 265.6 966.0 264.5 967.0 264.3M899.8 217.9C901.4 215.9 906.3 209.7 909.8 205.6C913.4 201.5 918.6 196.0 921.0 193.3C923.4 190.7 923.8 190.6 924.3 190.0M931.0 190.0C932.2 191.7 935.5 197.0 937.7 200.0C940.0 203.1 943.0 206.9 944.3 208.5C945.6 210.2 945.2 209.5 945.6 210.0C946.1 210.5 945.9 210.4 947.2 211.3C948.4 212.2 951.6 214.7 952.9 215.6C954.1 216.5 954.0 216.3 954.6 216.6C955.2 216.9 955.6 217.1 956.4 217.3C957.2 217.5 958.5 217.8 959.2 218.0C960.0 218.2 960.5 218.2 961.1 218.3C961.7 218.3 962.0 218.3 962.9 218.1C963.9 218.0 966.3 217.5 967.0 217.4M923.6 591.2C924.8 589.5 929.1 583.0 930.4 581.0C931.7 579.0 931.2 579.9 931.6 579.4C932.0 578.9 931.5 579.3 932.8 577.8C934.1 576.3 938.1 571.8 939.4 570.3C940.7 568.9 940.3 569.4 940.8 568.9C941.3 568.5 940.9 568.7 942.4 567.7C943.8 566.7 948.1 563.7 949.6 562.7C951.1 561.7 950.7 562.0 951.3 561.7C951.9 561.4 951.9 561.4 953.1 561.0C954.3 560.6 957.3 559.6 958.5 559.2C959.8 558.8 959.8 558.9 960.5 558.8C961.1 558.7 961.3 558.7 962.4 558.7C963.5 558.7 966.2 558.9 967.0 559.0M789.6 598.8C799.4 598.8 838.0 598.8 848.1 598.8C858.1 598.8 849.4 598.8 850.1 598.9C850.7 598.9 850.6 598.9 852.1 599.0C853.5 599.2 857.2 599.7 858.6 599.9C860.0 600.1 859.9 600.1 860.6 600.2C861.2 600.3 861.0 600.3 862.5 600.7C863.9 601.1 867.8 602.3 869.2 602.8C870.6 603.3 870.4 603.2 871.0 603.5C871.6 603.8 871.5 603.7 872.8 604.4C874.1 605.2 876.6 606.5 879.0 608.0C881.3 609.5 883.9 611.4 886.9 613.2C889.8 615.1 895.0 617.8 896.9 618.8C898.9 619.9 898.1 619.4 898.7 619.7C899.4 619.9 899.9 620.0 900.6 620.2C901.4 620.4 902.5 620.6 903.3 620.7C904.0 620.9 904.6 621.1 905.2 621.3C905.7 621.6 906.0 621.7 906.8 622.4C907.7 623.0 909.4 624.5 910.3 625.1C911.1 625.8 911.3 625.9 911.9 626.2C912.5 626.5 913.0 626.7 913.7 627.0C914.5 627.2 915.7 627.6 916.5 627.8C917.3 628.0 917.8 628.1 918.4 628.3C919.0 628.5 918.6 628.4 920.4 628.7C922.1 629.1 925.5 629.5 928.9 630.3C932.3 631.1 937.3 632.8 940.7 633.6C944.1 634.4 947.5 634.9 949.3 635.2C951.0 635.5 950.6 635.4 951.2 635.5C951.9 635.6 950.6 635.5 953.2 635.7C955.9 635.8 964.7 636.1 967.0 636.2M789.6 618.5C800.6 618.5 842.5 618.4 855.3 618.5C868.1 618.6 864.3 618.8 866.5 618.8C868.7 618.9 867.8 618.9 868.5 619.0C869.1 619.0 869.0 619.0 870.4 619.2C871.9 619.4 875.6 620.0 877.0 620.2C878.4 620.4 878.3 620.4 879.0 620.6C879.6 620.7 879.9 620.8 880.9 621.1C881.9 621.4 884.0 622.1 885.0 622.5C885.9 622.8 886.2 622.9 886.8 623.2C887.4 623.5 887.5 623.5 888.5 624.2C889.6 624.9 892.0 626.6 893.1 627.2C894.1 627.9 894.2 628.0 894.7 628.4C895.2 628.8 895.0 628.6 896.3 629.6C897.6 630.7 900.3 632.7 902.6 634.9C905.0 637.1 907.9 640.0 910.5 642.8C913.1 645.7 916.0 648.9 918.4 652.0C920.8 655.1 922.8 658.1 925.0 661.2C927.1 664.3 929.3 667.3 931.5 670.4C933.7 673.5 936.5 677.2 938.1 679.6C939.7 682.0 940.8 684.0 941.4 684.9M877.7 683.5C879.0 680.3 883.1 669.4 885.5 663.8C888.0 658.2 891.2 652.5 892.5 649.9C893.9 647.2 893.1 648.7 893.5 648.1C893.8 647.5 893.4 648.1 894.5 646.4C895.7 644.7 899.1 639.6 900.2 637.9C901.3 636.2 901.0 636.8 901.4 636.3C901.7 635.7 901.7 635.8 902.6 634.7C903.5 633.6 905.7 630.9 906.6 629.9C907.5 628.9 907.5 628.9 908.0 628.4C908.4 628.0 908.6 627.8 909.5 627.2C910.3 626.5 910.8 626.0 913.1 624.4C915.4 622.8 921.3 618.9 923.3 617.6C925.3 616.4 924.4 617.0 925.0 616.7C925.6 616.4 925.0 616.5 926.9 616.0C928.8 615.6 934.3 614.2 936.2 613.7C938.0 613.3 937.5 613.4 938.1 613.3C938.8 613.2 937.9 613.3 940.1 613.1C942.3 613.0 946.8 612.7 951.2 612.6C955.7 612.5 964.4 612.6 967.0 612.6M902.6 620.5C903.5 619.6 906.7 616.4 907.8 615.3C908.9 614.2 908.7 614.4 909.1 613.8C909.5 613.3 909.4 613.5 910.3 612.2C911.2 610.9 912.9 608.4 914.4 606.0C916.0 603.7 918.0 600.8 919.7 598.1C921.5 595.5 923.4 592.7 925.0 590.3C926.5 587.8 928.2 584.8 928.9 583.7M918.4 653.3C919.4 653.6 923.0 654.6 924.3 654.8C925.6 655.1 925.6 655.0 926.2 654.8C926.7 654.7 926.4 655.1 927.7 653.9C929.1 652.8 932.0 650.1 934.2 648.1C936.3 646.0 939.3 642.9 940.6 641.6C941.9 640.3 941.6 640.7 942.1 640.2C942.6 639.8 942.6 639.8 943.6 639.0C944.7 638.2 947.3 636.2 948.3 635.5C949.4 634.7 949.4 634.7 950.0 634.4C950.6 634.2 950.9 634.1 951.9 633.8C952.8 633.5 954.9 633.0 955.9 632.8C956.9 632.6 957.2 632.5 957.8 632.4C958.5 632.3 958.3 632.3 959.8 632.2C961.3 632.0 965.8 631.7 967.0 631.6" stroke="#4169e1" stroke-width="2.5" stroke-dasharray="7 3.5"/></g><clipPath id="cb2"><rect x="958.3" y="67.8" width="90.7" height="614.4000000000001"/></clipPath><g clip-path="url(#cb2)" fill="none" stroke-linejoin="round"><path d="M953.8 91.9C955.8 91.8 963.3 91.6 965.6 91.5C967.9 91.4 966.9 91.4 967.6 91.4C968.2 91.3 968.0 91.3 969.6 91.0C971.1 90.7 975.2 89.9 976.7 89.5C978.2 89.2 977.9 89.3 978.5 89.2C979.1 89.1 979.5 89.1 980.0 89.0C980.6 88.9 981.3 88.8 981.9 88.8C982.4 88.8 982.8 88.8 983.4 88.9C983.9 88.9 984.4 89.0 985.2 89.2C985.9 89.4 987.0 89.7 987.8 90.0C988.5 90.2 989.0 90.4 989.7 90.6C990.3 90.8 990.7 91.0 991.5 91.3C992.3 91.6 993.5 92.1 994.3 92.5C995.0 92.8 995.5 93.0 996.0 93.4C996.5 93.7 996.9 94.0 997.5 94.4C998.1 94.8 998.8 95.4 999.3 95.9C999.9 96.3 1000.2 96.6 1000.7 97.1C1001.1 97.5 1001.2 97.6 1002.0 98.5C1002.8 99.4 1004.0 100.7 1005.3 102.5C1006.6 104.2 1008.4 106.8 1009.9 108.9C1011.5 111.1 1013.4 113.8 1014.5 115.4C1015.7 116.9 1016.2 117.6 1016.8 118.3C1017.4 118.9 1017.5 119.0 1018.0 119.2C1018.5 119.4 1013.6 119.4 1019.7 119.5C1025.9 119.5 1049.1 119.5 1055.0 119.5M949.2 102.0C950.4 102.1 954.9 102.6 956.4 102.7C957.9 102.9 957.7 102.8 958.4 102.9C959.1 102.9 958.4 102.9 960.4 102.9C962.4 102.8 968.2 102.6 970.2 102.5C972.2 102.5 971.5 102.5 972.2 102.4C972.8 102.2 972.9 102.2 974.1 101.9C975.3 101.6 978.3 100.7 979.5 100.3C980.7 99.9 980.8 99.9 981.4 99.7C982.0 99.4 981.8 99.5 983.2 98.9C984.6 98.3 988.3 96.6 989.7 95.9C991.1 95.3 990.9 95.4 991.5 95.1C992.1 94.7 992.3 94.6 993.2 94.1C994.2 93.5 996.2 92.2 997.2 91.6C998.1 91.0 998.3 90.9 998.8 90.5C999.4 90.1 999.1 90.4 1000.5 89.3C1001.8 88.2 1005.2 85.5 1007.2 84.1C1009.1 82.6 1010.9 81.4 1012.0 80.6C1013.0 79.9 1013.0 79.9 1013.5 79.7C1013.9 79.4 1014.2 79.3 1014.7 79.1C1015.2 78.9 1015.7 78.7 1016.2 78.5C1016.6 78.4 1017.0 78.3 1017.5 78.2C1018.0 78.1 1013.0 78.1 1019.3 78.1C1025.5 78.1 1049.0 78.1 1055.0 78.1M958.4 93.3C959.3 93.3 962.6 93.5 963.8 93.6C965.0 93.7 965.0 93.8 965.6 94.1C966.2 94.3 966.5 94.7 967.1 95.2C967.7 95.8 968.5 96.7 969.0 97.3C969.5 97.9 969.9 98.3 970.3 98.8C970.7 99.4 970.9 99.6 971.5 100.4C972.1 101.2 973.2 102.8 973.8 103.6C974.4 104.4 974.5 104.7 974.9 105.3C975.2 105.8 975.2 105.8 975.9 107.0C976.5 108.2 977.4 110.3 978.6 112.6C979.9 114.9 981.7 118.3 983.2 120.9C984.8 123.5 986.7 126.2 987.8 128.2C989.0 130.2 989.8 132.1 990.1 132.8M1017.3 78.1C1016.7 77.4 1014.8 75.3 1013.6 74.0C1012.4 72.7 1010.9 71.2 1009.9 70.3C1008.9 69.3 1008.0 68.6 1007.6 68.3M958.4 150.8C959.3 150.9 962.6 151.2 963.8 151.4C965.0 151.6 965.1 151.7 965.7 151.9C966.3 152.1 966.7 152.3 967.5 152.7C968.3 153.1 969.7 153.9 970.5 154.4C971.2 154.8 971.6 155.0 972.2 155.4C972.7 155.8 973.0 156.0 973.8 156.5C974.6 157.1 976.2 158.2 977.0 158.8C977.8 159.3 978.1 159.5 978.5 159.8C979.0 160.1 979.3 160.3 979.7 160.5C980.2 160.8 980.8 161.1 981.2 161.2C981.7 161.4 982.0 161.6 982.5 161.7C982.9 161.8 983.4 161.8 984.0 161.8C984.6 161.8 985.5 161.8 986.2 161.8C986.8 161.8 987.3 161.7 987.9 161.6C988.5 161.5 988.8 161.4 989.7 161.1C990.6 160.8 992.4 160.1 993.3 159.7C994.2 159.4 994.6 159.2 995.2 158.9C995.7 158.7 995.7 158.7 996.9 158.0C998.1 157.2 1000.4 155.8 1002.6 154.4C1004.7 153.1 1007.9 151.0 1009.9 149.8C1011.9 148.7 1013.5 148.0 1014.6 147.5C1015.7 147.0 1015.8 147.0 1016.4 146.8C1017.0 146.7 1011.9 146.7 1018.4 146.6C1024.8 146.6 1048.9 146.6 1055.0 146.6M987.8 127.8C988.3 128.2 989.8 129.7 990.4 130.3C991.1 130.9 991.2 131.1 991.7 131.4C992.1 131.8 992.6 132.1 993.2 132.5C993.8 133.0 994.7 133.6 995.4 134.0C996.0 134.4 996.5 134.7 997.0 135.1C997.6 135.4 998.0 135.6 998.7 135.9C999.3 136.3 1000.3 136.7 1000.9 137.1C1001.5 137.4 1002.0 137.6 1002.6 137.9C1003.1 138.3 1003.3 138.4 1004.2 139.0C1005.1 139.6 1006.5 140.6 1008.1 141.6C1009.6 142.5 1012.2 143.9 1013.6 144.8C1015.0 145.6 1015.9 146.3 1016.4 146.6M953.8 168.2C954.3 168.7 956.2 170.2 957.0 170.8C957.8 171.4 958.0 171.5 958.6 171.7C959.1 171.9 959.2 172.0 960.4 172.1C961.6 172.3 964.4 172.5 965.6 172.6C966.8 172.7 966.9 172.7 967.6 172.7C968.2 172.6 968.6 172.6 969.5 172.4C970.4 172.2 972.1 171.7 973.0 171.5C973.9 171.2 974.3 171.1 974.9 170.8C975.4 170.5 975.6 170.5 976.5 169.7C977.4 169.0 978.9 167.9 980.5 166.4C982.1 164.9 984.2 162.9 986.0 160.9C987.8 158.9 989.7 156.7 991.5 154.4C993.4 152.1 995.2 149.5 997.0 147.1C998.9 144.6 1000.9 141.8 1002.6 139.7C1004.2 137.7 1005.9 135.9 1006.8 134.8C1007.7 133.7 1007.6 133.8 1008.0 133.2C1008.4 132.7 1008.3 133.0 1009.2 131.6C1010.1 130.2 1012.9 126.1 1013.6 125.0M958.4 173.8C959.9 173.6 965.2 173.0 967.6 172.8C970.0 172.6 971.8 172.5 973.0 172.5C974.2 172.5 974.3 172.5 974.9 172.6C975.5 172.7 976.0 172.8 976.6 173.1C977.3 173.3 978.2 173.7 978.8 174.0C979.5 174.3 979.9 174.5 980.5 174.8C981.0 175.1 981.5 175.4 982.1 175.8C982.8 176.2 983.7 176.8 984.3 177.3C985.0 177.7 985.4 178.0 986.0 178.4C986.5 178.8 986.6 178.9 987.5 179.6C988.5 180.4 989.9 181.7 991.5 183.0C993.1 184.2 996.0 186.4 997.3 187.3C998.5 188.2 998.4 188.0 999.0 188.3C999.5 188.6 999.9 188.8 1000.8 189.1C1001.7 189.4 1003.4 189.9 1004.3 190.2C1005.2 190.4 1005.6 190.5 1006.3 190.6C1006.9 190.7 1006.6 190.8 1008.2 190.8C1009.9 190.8 1008.6 190.8 1016.4 190.8C1024.1 190.8 1048.6 190.8 1055.0 190.8M953.8 177.4C954.3 177.1 956.2 175.7 957.0 175.2C957.8 174.7 958.0 174.6 958.5 174.3C959.1 174.0 959.1 174.0 960.3 173.6C961.5 173.2 963.3 172.8 965.8 171.9C968.2 171.0 972.5 169.2 975.0 168.2C977.4 167.3 979.2 166.6 980.4 166.2C981.7 165.7 981.7 165.8 982.3 165.7C982.9 165.5 983.3 165.5 984.0 165.5C984.6 165.4 985.5 165.4 986.2 165.5C986.8 165.5 987.3 165.5 987.8 165.7C988.4 165.8 988.9 166.0 989.5 166.3C990.1 166.6 991.1 167.1 991.7 167.4C992.3 167.8 992.8 168.0 993.3 168.4C993.8 168.8 993.7 168.7 994.7 169.8C995.6 170.8 997.3 172.6 998.9 174.7C1000.5 176.7 1002.8 180.0 1004.4 182.0C1006.0 184.1 1007.7 185.9 1008.6 187.0C1009.6 188.0 1009.5 187.9 1010.1 188.3C1010.6 188.6 1010.8 188.7 1011.8 189.2C1012.8 189.6 1015.6 190.5 1016.4 190.8M940.0 513.7C941.0 513.0 944.9 510.4 946.2 509.5C947.5 508.7 947.4 508.8 948.0 508.6C948.6 508.3 948.4 508.3 949.9 508.0C951.3 507.7 955.0 507.0 956.4 506.8C957.9 506.6 957.7 506.6 958.4 506.6C959.1 506.6 959.4 506.6 960.4 506.8C961.4 506.9 963.3 507.2 964.3 507.4C965.3 507.6 965.6 507.7 966.2 508.0C966.8 508.2 966.8 508.2 967.9 508.9C968.9 509.7 971.5 511.7 972.6 512.5C973.6 513.3 973.6 513.3 974.1 513.7C974.6 514.2 974.1 513.7 975.5 515.2C976.8 516.7 979.6 519.8 982.1 522.9C984.5 525.9 987.3 529.9 989.9 533.4C992.6 536.9 995.2 540.6 997.8 543.9C1000.5 547.2 1003.3 550.4 1005.7 553.1C1008.1 555.8 1010.9 558.8 1012.2 560.2C1013.6 561.5 1013.2 561.1 1013.7 561.4C1014.1 561.7 1014.6 561.9 1015.2 562.1C1015.8 562.4 1016.6 562.6 1017.3 562.8C1017.9 563.0 1018.4 563.1 1019.0 563.2C1019.6 563.3 1015.4 563.3 1020.9 563.3C1026.3 563.4 1046.6 563.3 1051.7 563.3M1013.6 563.6C1014.2 563.7 1016.4 564.2 1017.3 564.4C1018.2 564.6 1018.4 564.6 1019.0 564.7C1019.6 564.8 1015.4 564.8 1020.9 564.8C1026.3 564.8 1046.6 564.8 1051.7 564.8M940.0 560.3C941.0 560.1 944.6 559.5 945.9 559.3C947.2 559.1 947.2 559.1 947.9 559.0C948.6 559.0 948.5 559.0 949.9 558.9C951.3 558.8 955.0 558.5 956.4 558.5C957.8 558.4 957.7 558.4 958.4 558.4C959.1 558.5 959.0 558.4 960.4 558.6C961.8 558.8 965.5 559.2 966.9 559.4C968.3 559.6 968.2 559.6 968.9 559.8C969.5 560.0 969.2 559.8 970.7 560.5C972.2 561.2 976.2 563.3 977.6 564.0C979.1 564.7 978.8 564.6 979.4 564.9C980.1 565.1 979.9 565.1 981.3 565.6C982.7 566.2 986.6 567.7 988.1 568.2C989.5 568.6 989.3 568.5 990.0 568.6C990.6 568.6 991.1 568.6 991.9 568.5C992.7 568.4 993.8 568.1 994.6 567.9C995.3 567.8 995.8 567.6 996.5 567.5C997.1 567.3 997.6 567.1 998.4 566.8C999.2 566.5 1000.4 566.0 1001.2 565.7C1002.0 565.4 1002.5 565.2 1003.1 565.0C1003.7 564.8 1004.0 564.7 1005.0 564.4C1006.0 564.2 1008.1 563.6 1009.0 563.4C1010.0 563.2 1010.3 563.2 1010.9 563.1C1011.5 563.0 1011.7 563.0 1012.5 563.1C1013.4 563.1 1015.6 563.3 1016.2 563.3M966.3 591.2C967.3 590.3 971.3 587.0 972.6 585.9C974.0 584.8 973.7 585.1 974.2 584.7C974.7 584.3 974.8 584.2 975.8 583.5C976.9 582.8 979.3 581.2 980.4 580.5C981.4 579.8 981.5 579.8 982.1 579.5C982.7 579.1 982.9 579.0 983.9 578.6C984.9 578.2 987.1 577.3 988.1 576.9C989.1 576.4 989.3 576.4 990.0 576.2C990.6 575.9 990.6 575.9 991.9 575.6C993.2 575.3 995.8 574.7 997.8 574.1C999.8 573.5 1002.5 572.6 1003.8 572.1C1005.1 571.7 1005.1 571.7 1005.7 571.4C1006.3 571.1 1006.3 571.1 1007.4 570.5C1008.5 569.8 1010.8 568.5 1012.3 567.5C1013.7 566.6 1015.6 565.3 1016.2 564.9M940.0 585.9C941.3 585.8 945.2 585.4 947.9 585.3C950.6 585.2 954.6 585.3 956.4 585.3C958.2 585.3 957.7 585.3 958.4 585.4C959.1 585.4 959.4 585.5 960.4 585.6C961.4 585.8 963.3 586.1 964.3 586.3C965.3 586.5 965.6 586.6 966.2 586.8C966.7 587.1 966.9 587.2 967.8 587.9C968.7 588.6 970.9 590.6 971.5 591.2M971.5 591.2C972.6 589.9 976.8 585.0 978.1 583.5C979.5 582.0 979.0 582.5 979.5 582.1C980.0 581.7 979.8 581.8 981.1 580.9C982.4 580.0 985.0 578.3 987.3 576.7C989.7 575.2 992.8 573.0 995.2 571.5C997.5 569.9 1000.1 568.2 1001.4 567.3C1002.7 566.5 1002.6 566.6 1003.2 566.4C1003.8 566.1 1003.3 566.2 1005.0 565.7C1006.8 565.3 1012.2 564.0 1013.6 563.6M940.0 585.0C940.0 585.0 940.0 585.0 940.0 585.0M976.8 588.9C977.4 589.4 979.6 591.0 980.5 591.7C981.3 592.4 981.5 592.5 981.9 593.0C982.4 593.5 982.5 593.5 983.2 594.5C983.9 595.6 985.5 598.1 986.2 599.1C986.9 600.1 986.9 600.2 987.3 600.8C987.6 601.4 987.5 601.1 988.2 602.6C988.9 604.0 991.0 608.0 991.7 609.5C992.4 611.0 992.3 610.7 992.5 611.3C992.8 611.9 992.6 611.4 993.3 613.2C993.9 614.9 995.4 619.1 996.5 621.8C997.6 624.5 999.0 627.6 999.7 629.2C1000.3 630.7 1000.2 630.4 1000.5 631.0C1000.8 631.6 1000.7 631.5 1001.4 632.7C1002.1 634.0 1004.0 637.2 1004.7 638.5C1005.4 639.7 1005.4 639.6 1005.8 640.1C1006.2 640.6 1006.5 641.0 1007.1 641.6C1007.7 642.3 1008.9 643.4 1009.6 644.0C1010.2 644.6 1010.5 644.9 1011.0 645.2C1011.5 645.5 1011.9 645.7 1012.5 645.8C1013.2 646.0 1014.0 646.2 1014.6 646.4C1015.3 646.5 1015.7 646.6 1016.3 646.7C1016.9 646.7 1012.3 646.8 1018.2 646.8C1024.1 646.8 1046.1 646.8 1051.7 646.8M940.0 609.3C941.9 609.2 949.0 608.9 951.1 608.8C953.3 608.7 952.5 608.7 953.1 608.7C953.8 608.7 953.7 608.7 955.1 608.8C956.6 608.9 960.3 609.1 961.7 609.2C963.1 609.3 963.0 609.3 963.6 609.5C964.1 609.7 964.6 610.0 965.2 610.3C965.9 610.6 966.7 611.2 967.3 611.6C967.9 612.0 968.4 612.3 968.8 612.7C969.3 613.2 969.3 613.1 970.2 614.2C971.1 615.2 972.6 617.0 974.2 619.2C975.7 621.3 977.7 624.4 979.4 627.1C981.2 629.7 983.1 632.8 984.7 634.9C986.2 637.1 987.8 638.9 988.7 640.0C989.6 641.0 989.5 641.0 990.0 641.5C990.4 642.0 990.7 642.3 991.4 642.9C992.0 643.6 993.1 644.7 993.8 645.4C994.4 646.0 994.7 646.3 995.2 646.7C995.7 647.2 995.9 647.3 996.8 648.0C997.6 648.7 999.4 650.1 1000.2 650.8C1001.1 651.4 1001.3 651.6 1001.8 651.9C1002.4 652.2 1002.5 652.3 1003.6 652.8C1004.7 653.2 1006.9 654.1 1008.3 654.7C1009.7 655.2 1011.1 655.7 1012.0 656.0C1012.9 656.3 1013.1 656.4 1013.7 656.5C1014.3 656.6 1009.3 656.6 1015.6 656.6C1021.9 656.7 1045.7 656.6 1051.7 656.6M940.0 661.2C944.4 661.1 958.9 661.0 966.3 660.6C973.6 660.2 980.7 659.1 984.0 658.8C987.3 658.5 985.3 658.6 986.0 658.5C986.6 658.4 985.7 658.6 987.9 658.1C990.1 657.6 996.1 656.0 999.1 655.3C1002.2 654.6 1004.9 654.0 1006.4 653.8C1007.9 653.5 1007.7 653.6 1008.3 653.7C1008.9 653.7 1009.0 653.7 1010.1 654.2C1011.2 654.7 1014.1 656.2 1014.9 656.6M940.0 671.7C941.0 671.0 944.9 668.4 946.2 667.6C947.5 666.7 947.4 666.9 948.0 666.6C948.6 666.4 948.2 666.4 949.8 666.0C951.5 665.6 956.1 664.5 957.8 664.1C959.4 663.7 959.1 663.7 959.7 663.5C960.3 663.3 960.3 663.3 961.6 662.8C962.8 662.4 965.9 661.2 967.1 660.7C968.2 660.1 968.2 660.1 968.7 659.7C969.2 659.3 968.9 659.9 970.0 658.2C971.2 656.6 974.6 651.4 975.7 649.7C976.8 648.1 976.4 648.7 976.8 648.1C977.2 647.6 977.0 647.9 978.1 646.6C979.2 645.3 982.3 641.7 983.4 640.4C984.5 639.1 984.3 639.4 984.8 639.0C985.3 638.6 985.5 638.5 986.5 638.0C987.5 637.5 989.8 636.3 990.8 635.8C991.8 635.4 992.0 635.3 992.6 635.2C993.3 635.1 993.6 635.1 994.6 635.1C995.5 635.1 997.5 635.3 998.5 635.4C999.4 635.6 999.8 635.6 1000.4 635.8C1001.0 636.1 1001.3 636.2 1002.1 636.7C1002.9 637.3 1004.6 638.5 1005.4 639.1C1006.2 639.6 1006.5 639.8 1007.0 640.3C1007.5 640.7 1007.8 641.0 1008.4 641.6C1009.1 642.2 1010.2 643.4 1010.9 644.0C1011.5 644.6 1011.8 644.9 1012.2 645.2C1012.7 645.5 1012.8 645.6 1013.5 645.8C1014.1 646.1 1015.8 646.6 1016.2 646.8M925.4 592.5C927.6 591.9 936.2 589.7 938.8 589.1C941.3 588.5 940.1 588.8 940.7 588.7C941.4 588.5 940.1 588.7 942.7 588.4C945.3 588.1 953.6 587.1 956.2 586.8C958.8 586.5 957.5 586.7 958.2 586.7C958.9 586.7 957.5 586.6 960.2 586.8C962.9 587.0 971.9 587.7 974.6 587.9C977.3 588.2 975.9 588.1 976.6 588.2C977.2 588.3 976.8 588.2 978.5 588.7C980.2 589.2 985.4 590.8 986.8 591.2M930.5 591.2C932.7 591.8 941.4 593.9 944.0 594.5C946.5 595.1 945.3 594.8 945.9 594.9C946.6 595.0 946.2 595.0 947.9 595.1C949.6 595.3 954.5 595.6 956.2 595.7C957.9 595.8 957.5 595.7 958.2 595.7C958.9 595.7 958.3 595.8 960.2 595.5C962.1 595.2 967.6 594.4 969.5 594.1C971.4 593.8 970.8 593.9 971.5 593.7C972.1 593.5 971.7 593.7 973.4 593.1C975.1 592.5 980.3 590.5 981.7 590.0" stroke="#ff7d42" stroke-width="2.5"/><path d="M949.2 85.9C950.4 86.2 954.9 87.4 956.5 87.7C958.0 88.1 957.8 88.0 958.4 88.0C959.1 88.1 959.2 88.1 960.4 88.0C961.6 87.9 964.4 87.6 965.6 87.5C966.8 87.4 966.9 87.3 967.6 87.1C968.2 87.0 968.5 86.9 969.4 86.5C970.4 86.1 972.2 85.3 973.1 84.9C974.0 84.5 974.3 84.3 974.9 84.0C975.4 83.6 975.8 83.3 976.5 82.8C977.2 82.3 978.3 81.3 978.9 80.8C979.6 80.2 979.9 79.9 980.4 79.5C980.8 79.0 981.0 78.9 981.6 78.1C982.2 77.3 983.3 76.0 984.2 74.9C985.0 73.8 986.1 72.4 986.7 71.7C987.3 70.9 987.4 70.8 987.7 70.5C988.0 70.1 988.1 70.0 988.5 69.7C988.9 69.3 989.9 68.5 990.1 68.3M974.0 68.6C974.8 69.5 977.1 72.0 978.6 74.0C980.2 75.9 981.9 78.5 983.2 80.4C984.6 82.3 985.9 84.2 986.7 85.2C987.5 86.3 987.5 86.3 987.9 86.8C988.4 87.2 988.7 87.6 989.4 88.1C990.0 88.7 991.2 89.6 991.8 90.2C992.5 90.7 992.8 91.0 993.3 91.5C993.8 92.0 993.9 92.1 994.6 93.0C995.4 93.9 996.6 95.4 998.0 97.0C999.3 98.5 1001.3 101.0 1002.6 102.5C1003.9 103.9 1005.0 105.0 1005.8 105.7C1006.6 106.4 1006.7 106.6 1007.2 106.9C1007.7 107.3 1008.2 107.5 1008.8 107.8C1009.4 108.1 1010.4 108.4 1011.0 108.7C1011.7 108.9 1012.1 109.1 1012.6 109.2C1013.1 109.4 1013.3 109.4 1014.1 109.5C1014.8 109.6 1016.7 109.8 1017.3 109.8M998.9 68.9C999.2 70.0 1000.0 73.4 1000.7 75.8C1001.5 78.2 1002.7 81.0 1003.5 83.2C1004.3 85.3 1005.1 87.4 1005.5 88.6C1006.0 89.9 1006.0 89.9 1006.3 90.5C1006.6 91.1 1006.5 91.1 1007.1 92.3C1007.7 93.5 1009.0 96.2 1009.9 97.9C1010.8 99.6 1012.0 101.5 1012.6 102.6C1013.2 103.6 1013.3 103.7 1013.6 104.2C1013.9 104.6 1014.0 104.8 1014.4 105.4C1014.9 106.1 1016.0 107.6 1016.4 108.0M1004.4 68.6C1004.3 69.4 1003.9 72.0 1003.8 73.0C1003.6 74.0 1003.5 74.2 1003.4 74.8C1003.3 75.4 1003.1 75.9 1002.9 76.5C1002.7 77.2 1002.4 78.1 1002.2 78.7C1002.0 79.4 1001.8 79.8 1001.6 80.4C1001.3 81.0 1001.3 81.1 1000.8 82.1C1000.4 83.0 999.7 84.4 998.9 85.9C998.1 87.5 997.0 89.6 996.1 91.4C995.2 93.3 994.3 95.0 993.4 97.0C992.4 99.0 991.5 101.3 990.6 103.4C989.7 105.5 988.6 107.9 987.8 109.8C987.0 111.8 986.2 114.1 985.8 115.3C985.3 116.6 985.3 116.6 985.1 117.2C984.9 117.9 984.9 117.9 984.6 119.1C984.3 120.4 983.8 122.3 983.2 124.6C982.7 126.8 981.7 131.5 981.4 132.8M1017.3 80.9C1016.4 81.7 1013.4 84.4 1011.8 85.9C1010.2 87.4 1008.6 89.1 1007.7 90.0C1006.7 90.9 1006.7 91.0 1006.3 91.4C1005.9 91.9 1005.8 92.1 1005.1 92.8C1004.5 93.6 1003.6 94.7 1002.6 96.0C1001.5 97.3 999.9 99.2 998.9 100.6C997.8 102.0 996.9 103.6 996.3 104.5C995.7 105.4 995.6 105.6 995.3 106.2C994.9 106.7 994.8 106.9 994.4 107.8C993.9 108.7 993.2 110.0 992.4 111.7C991.7 113.4 990.5 116.1 989.7 118.1C988.9 120.1 988.1 122.4 987.6 123.6C987.2 124.8 987.2 124.9 987.0 125.5C986.8 126.1 986.7 126.2 986.4 127.4C986.1 128.6 985.3 131.9 985.1 132.8M1017.3 80.9C1023.6 80.9 1048.7 80.9 1055.0 80.9M1017.3 116.7C1023.6 116.7 1048.7 116.7 1055.0 116.7M1017.3 116.7C1016.7 117.6 1014.5 120.4 1013.6 121.8C1012.7 123.2 1012.1 124.2 1011.7 125.0C1011.2 125.8 1011.1 126.0 1010.8 126.5C1010.6 127.0 1010.5 127.2 1010.0 128.2C1009.6 129.3 1008.4 132.1 1008.1 132.8M958.4 120.0C959.6 120.2 964.1 121.1 965.6 121.4C967.2 121.7 966.9 121.6 967.6 121.7C968.3 121.8 968.4 121.8 969.6 121.9C970.8 122.0 973.6 122.1 974.8 122.2C976.0 122.2 976.1 122.2 976.6 122.2C977.1 122.2 977.3 122.2 977.9 122.1C978.6 122.1 980.0 121.9 980.5 121.8M958.4 126.4C959.9 126.2 965.2 125.7 967.6 125.5C970.0 125.2 971.8 125.0 973.0 124.8C974.2 124.6 974.3 124.6 974.9 124.4C975.6 124.3 975.9 124.2 976.8 123.9C977.8 123.5 979.5 122.9 980.4 122.5C981.3 122.1 981.7 122.0 982.2 121.7C982.8 121.3 982.9 121.3 983.9 120.5C984.8 119.8 986.5 118.3 987.8 117.2C989.2 116.1 990.9 114.6 991.8 113.9C992.7 113.1 992.9 113.0 993.4 112.6C993.9 112.2 994.1 112.1 995.0 111.5C995.9 110.9 997.5 109.8 998.9 108.9C1000.3 108.0 1002.7 106.6 1003.5 106.2M1016.4 157.0C1015.9 157.1 1014.4 157.6 1013.8 157.8C1013.2 158.0 1013.1 158.1 1012.8 158.3C1012.5 158.6 1012.4 158.8 1012.1 159.2C1011.9 159.6 1011.6 160.2 1011.4 160.7C1011.2 161.1 1011.0 161.5 1010.8 161.9C1010.7 162.4 1010.6 162.6 1010.3 163.5C1010.0 164.4 1009.5 165.6 1009.0 167.3C1008.5 169.0 1007.9 171.3 1007.2 173.8C1006.4 176.2 1005.3 179.4 1004.4 182.0C1003.5 184.6 1002.4 187.1 1001.6 189.4C1000.9 191.7 1000.1 194.8 999.8 195.8M1016.4 140.6C1015.7 140.3 1013.9 139.4 1012.7 138.8C1011.5 138.2 1010.4 137.7 1009.0 137.0C1007.6 136.2 1006.1 135.1 1004.4 134.2C1002.7 133.3 1000.9 132.4 998.9 131.4C996.9 130.5 994.3 129.5 992.4 128.7C990.6 127.9 988.9 127.2 987.8 126.7C986.8 126.3 986.7 126.2 986.3 126.0C985.8 125.8 985.7 125.7 985.2 125.4C984.7 125.1 983.6 124.3 983.2 124.1M1016.4 140.8C1015.8 141.0 1013.9 141.8 1013.1 142.1C1012.4 142.4 1012.2 142.4 1011.7 142.5C1011.2 142.7 1010.7 142.7 1010.1 142.7C1009.5 142.8 1008.5 142.8 1007.9 142.9C1007.2 142.9 1006.8 142.9 1006.2 142.9C1005.7 142.9 1005.5 142.9 1004.6 142.8C1003.7 142.7 1001.4 142.5 1000.7 142.5M982.3 140.6C983.4 141.6 986.9 144.5 988.8 146.2C990.7 147.8 992.6 149.5 993.7 150.4C994.8 151.3 994.7 151.2 995.3 151.6C995.8 151.9 995.8 151.9 997.0 152.6C998.2 153.2 1001.4 154.8 1002.6 155.4C1003.9 156.0 1003.8 155.9 1004.4 156.1C1005.1 156.3 1004.4 156.2 1006.4 156.4C1008.4 156.6 1008.3 156.9 1016.4 157.0C1024.5 157.1 1048.6 157.0 1055.0 157.0M958.4 136.5C959.9 136.5 964.5 136.5 967.6 136.5C970.7 136.5 973.7 136.5 976.8 136.5C979.9 136.5 983.5 136.5 986.0 136.5C988.5 136.5 989.7 136.6 991.5 136.5C993.4 136.4 996.1 136.1 997.0 136.0M958.4 160.0C959.3 159.7 962.6 158.9 963.8 158.6C965.0 158.3 965.1 158.2 965.6 158.0C966.2 157.7 966.6 157.4 967.1 157.0C967.7 156.6 968.5 156.0 969.0 155.5C969.5 155.1 969.9 154.8 970.3 154.3C970.7 153.9 970.9 153.6 971.5 152.8C972.1 152.0 973.2 150.4 973.8 149.6C974.4 148.8 974.6 148.5 974.9 148.0C975.3 147.4 975.3 147.3 976.0 146.3C976.6 145.2 977.9 142.9 978.6 141.6C979.4 140.2 980.1 139.1 980.6 138.3C981.0 137.6 981.1 137.4 981.4 136.8C981.7 136.3 981.7 136.2 982.2 135.1C982.6 134.1 983.5 132.2 984.2 130.5C984.8 128.8 985.7 125.9 986.0 125.0M1013.6 125.0C1013.0 125.8 1011.0 128.3 1009.9 129.6C1008.9 130.9 1007.9 132.0 1007.3 132.8C1006.7 133.6 1006.6 133.8 1006.3 134.3C1006.0 134.8 1005.7 135.2 1005.4 135.9C1005.1 136.5 1004.6 137.4 1004.3 138.1C1004.0 138.7 1003.8 139.2 1003.6 139.8C1003.3 140.4 1003.2 140.8 1003.0 141.7C1002.8 142.6 1002.4 144.2 1002.1 145.1C1001.9 146.0 1001.8 146.4 1001.6 147.1C1001.4 147.7 1001.4 147.7 1000.9 149.0C1000.5 150.2 999.7 152.3 998.9 154.4C998.1 156.6 997.0 159.3 996.1 161.8C995.2 164.3 994.4 166.4 993.4 169.2C992.3 171.9 990.9 175.3 989.7 178.4C988.5 181.4 987.1 184.6 986.0 187.6C984.9 190.5 983.7 194.5 983.2 195.8M940.0 200.4C941.0 201.9 944.8 207.6 946.0 209.4C947.2 211.1 946.8 210.4 947.2 210.9C947.6 211.4 947.7 211.5 948.6 212.3C949.5 213.1 951.7 214.9 952.7 215.7C953.6 216.4 953.7 216.4 954.3 216.7C954.9 217.0 955.3 217.1 956.2 217.3C957.0 217.5 958.5 217.8 959.3 218.0C960.2 218.1 960.6 218.1 961.3 218.1C961.9 218.0 962.3 217.9 963.2 217.7C964.0 217.4 965.7 216.8 966.5 216.4C967.4 216.1 967.7 215.9 968.2 215.5C968.8 215.2 968.7 215.3 969.7 214.2C970.7 213.1 973.2 210.1 974.2 209.0C975.1 207.9 975.0 208.0 975.4 207.4C975.8 206.9 975.7 207.1 976.5 205.8C977.4 204.5 979.5 201.0 980.3 199.7C981.1 198.4 981.0 198.6 981.3 198.0C981.7 197.4 981.2 198.4 982.2 196.2C983.2 194.0 986.5 186.9 987.3 185.0M940.0 258.3C941.3 259.1 946.1 261.8 947.7 262.7C949.3 263.5 948.9 263.3 949.5 263.5C950.1 263.7 950.2 263.8 951.4 264.1C952.7 264.4 955.7 265.0 957.0 265.2C958.2 265.5 958.3 265.4 958.9 265.4C959.5 265.3 959.9 265.2 960.8 265.0C961.7 264.7 963.3 264.1 964.1 263.7C965.0 263.4 965.4 263.2 965.9 262.9C966.5 262.5 966.5 262.6 967.4 261.6C968.4 260.7 970.8 258.3 971.7 257.4C972.6 256.4 972.6 256.4 973.0 255.9C973.4 255.3 973.0 256.1 974.0 254.2C975.0 252.2 977.2 248.0 979.0 244.1C980.9 240.3 983.2 235.3 984.9 231.1C986.7 227.0 988.1 223.4 989.7 219.3C991.3 215.2 992.8 210.4 994.4 206.3C996.0 202.1 997.8 198.0 999.1 194.5C1000.5 190.9 1002.1 186.6 1002.7 185.0M940.0 568.9C941.1 568.0 945.0 564.6 946.3 563.6C947.7 562.5 947.4 562.8 948.0 562.4C948.5 562.1 948.4 562.2 949.8 561.6C951.2 561.1 955.1 559.7 956.5 559.3C958.0 558.8 957.8 558.9 958.4 558.8C959.1 558.8 959.0 558.7 960.4 558.9C961.8 559.1 965.5 559.7 966.9 560.0C968.4 560.2 968.2 560.3 968.9 560.5C969.5 560.7 969.2 560.5 970.7 561.3C972.1 562.1 976.2 564.4 977.7 565.2C979.1 566.1 978.8 565.9 979.4 566.3C979.9 566.6 979.3 566.1 981.0 567.4C982.8 568.7 986.9 571.9 989.9 574.1C993.0 576.3 996.3 578.7 999.1 580.7C1001.9 582.7 1005.2 585.0 1006.7 586.1C1008.2 587.2 1007.8 586.9 1008.2 587.3C1008.7 587.6 1008.8 587.8 1009.5 588.4C1010.2 589.1 1011.8 590.7 1012.3 591.2M1017.5 597.1C1017.1 596.6 1015.5 594.8 1014.8 594.1C1014.1 593.4 1014.0 593.3 1013.5 592.9C1013.0 592.5 1012.6 592.2 1012.0 591.7C1011.4 591.2 1010.5 590.6 1009.9 590.1C1009.3 589.7 1008.9 589.3 1008.3 589.0C1007.8 588.6 1007.7 588.6 1006.6 587.9C1005.5 587.3 1002.6 585.5 1001.8 585.0M1017.5 597.1C1016.4 598.4 1013.2 602.1 1011.0 604.7C1008.8 607.3 1006.4 610.4 1004.4 612.6C1002.4 614.8 1000.3 616.7 999.2 617.8C998.1 618.8 998.3 618.6 997.8 618.9C997.3 619.2 997.1 619.3 996.2 619.6C995.4 619.8 993.2 620.3 992.6 620.5M1016.2 644.8C1015.1 643.8 1012.1 641.0 1009.7 638.9C1007.2 636.8 1004.4 634.5 1001.8 632.3C999.2 630.1 995.6 627.0 994.1 625.7C992.5 624.4 993.1 624.9 992.5 624.5C992.0 624.2 992.3 624.3 990.8 623.5C989.3 622.7 986.1 621.1 983.4 619.8C980.6 618.6 976.7 616.9 974.2 615.9C971.6 614.9 969.5 614.3 968.2 613.9C966.9 613.5 966.9 613.5 966.3 613.4C965.6 613.4 966.5 613.3 964.3 613.4C962.1 613.4 957.2 613.6 953.1 613.9C949.1 614.2 942.2 615.0 940.0 615.2M1016.2 645.5C1015.6 646.3 1013.1 649.4 1012.2 650.5C1011.3 651.6 1011.4 651.5 1010.9 652.0C1010.5 652.5 1010.6 652.3 1009.6 653.4C1008.5 654.5 1006.6 656.4 1004.4 658.6C1002.2 660.8 998.9 664.1 996.5 666.5C994.1 668.9 991.3 671.6 990.0 673.0C988.7 674.3 989.1 673.9 988.7 674.4C988.3 674.9 988.6 674.5 987.5 676.0C986.4 677.5 983.0 682.3 982.1 683.6M940.0 642.8C941.1 641.7 945.1 637.6 946.5 636.4C947.8 635.1 947.5 635.5 948.0 635.1C948.6 634.8 948.4 634.8 949.8 634.3C951.2 633.9 955.1 632.7 956.5 632.3C957.9 631.8 957.8 631.9 958.4 631.9C959.1 631.9 958.9 631.8 960.4 632.0C961.8 632.3 965.5 633.0 966.9 633.3C968.4 633.6 968.2 633.6 968.8 633.8C969.5 634.0 968.8 633.6 970.6 634.7C972.4 635.8 976.5 638.2 979.4 640.2C982.4 642.2 986.6 645.6 988.3 646.9C990.1 648.2 989.4 647.7 989.9 648.1C990.4 648.6 990.3 648.4 991.4 649.5C992.4 650.6 995.3 653.5 996.4 654.6C997.5 655.6 997.3 655.5 997.8 656.0C998.2 656.5 997.9 656.1 999.0 657.6C1000.1 659.0 1003.4 663.4 1004.5 664.9C1005.6 666.4 1005.3 666.0 1005.6 666.5C1006.0 667.1 1005.7 666.5 1006.6 668.3C1007.5 670.0 1009.8 674.4 1011.0 677.0C1012.1 679.5 1013.2 682.5 1013.6 683.6M968.9 633.6C970.2 634.7 974.4 638.0 976.8 640.2C979.2 642.4 982.0 645.3 983.3 646.7C984.6 648.0 984.2 647.6 984.6 648.2C984.9 648.7 984.7 648.1 985.6 649.9C986.5 651.6 988.5 655.7 989.9 658.6C991.4 661.5 993.4 665.6 994.3 667.3C995.2 669.1 994.9 668.5 995.1 669.1C995.3 669.8 995.1 668.6 995.7 671.0C996.4 673.4 998.6 681.5 999.1 683.6" stroke="#4169e1" stroke-width="2.5" stroke-dasharray="7 3.5"/><path d="M1016.4 109.8C1022.8 109.8 1048.6 109.8 1055.0 109.8M1016.4 140.6C1022.8 140.6 1048.6 140.6 1055.0 140.6M1017.5 597.1C1023.2 597.1 1046.0 597.1 1051.7 597.1M1016.2 644.8C1022.1 644.8 1045.8 644.8 1051.7 644.8" stroke="#4169e1" stroke-width="2.5"/></g><clipPath id="cb3"><rect x="1049.0" y="67.8" width="86.3" height="614.4000000000001"/></clipPath><g clip-path="url(#cb3)" fill="none" stroke-linejoin="round"><path d="M1144.2 91.9C1142.2 91.8 1134.7 91.6 1132.4 91.5C1130.1 91.4 1131.1 91.4 1130.4 91.4C1129.8 91.3 1130.0 91.3 1128.4 91.0C1126.9 90.7 1122.8 89.9 1121.3 89.5C1119.8 89.2 1120.1 89.3 1119.5 89.2C1118.9 89.1 1118.5 89.1 1118.0 89.0C1117.4 88.9 1116.7 88.8 1116.1 88.8C1115.6 88.8 1115.2 88.8 1114.6 88.9C1114.1 88.9 1113.6 89.0 1112.8 89.2C1112.1 89.4 1111.0 89.7 1110.2 90.0C1109.5 90.2 1109.0 90.4 1108.3 90.6C1107.7 90.8 1107.3 91.0 1106.5 91.3C1105.7 91.6 1104.5 92.1 1103.7 92.5C1103.0 92.8 1102.5 93.0 1102.0 93.4C1101.5 93.7 1101.1 94.0 1100.5 94.4C1099.9 94.8 1099.2 95.4 1098.7 95.9C1098.1 96.3 1097.8 96.6 1097.3 97.1C1096.9 97.5 1096.8 97.6 1096.0 98.5C1095.2 99.4 1094.0 100.7 1092.7 102.5C1091.4 104.2 1089.6 106.8 1088.1 108.9C1086.5 111.1 1084.6 113.8 1083.5 115.4C1082.3 116.9 1081.8 117.6 1081.2 118.3C1080.6 118.9 1080.5 119.0 1080.0 119.2C1079.5 119.4 1084.4 119.4 1078.3 119.5C1072.1 119.5 1048.9 119.5 1043.0 119.5M1148.8 102.0C1147.6 102.1 1143.1 102.6 1141.6 102.7C1140.1 102.9 1140.3 102.8 1139.6 102.9C1138.9 102.9 1139.6 102.9 1137.6 102.9C1135.6 102.8 1129.8 102.6 1127.8 102.5C1125.8 102.5 1126.5 102.5 1125.8 102.4C1125.2 102.2 1125.1 102.2 1123.9 101.9C1122.7 101.6 1119.7 100.7 1118.5 100.3C1117.3 99.9 1117.2 99.9 1116.6 99.7C1116.0 99.4 1116.2 99.5 1114.8 98.9C1113.4 98.3 1109.7 96.6 1108.3 95.9C1106.9 95.3 1107.1 95.4 1106.5 95.1C1105.9 94.7 1105.7 94.6 1104.8 94.1C1103.8 93.5 1101.8 92.2 1100.8 91.6C1099.9 91.0 1099.7 90.9 1099.2 90.5C1098.6 90.1 1098.9 90.4 1097.5 89.3C1096.2 88.2 1092.8 85.5 1090.8 84.1C1088.9 82.6 1087.1 81.4 1086.0 80.6C1085.0 79.9 1085.0 79.9 1084.5 79.7C1084.1 79.4 1083.8 79.3 1083.3 79.1C1082.8 78.9 1082.3 78.7 1081.8 78.5C1081.4 78.4 1081.0 78.3 1080.5 78.2C1080.0 78.1 1085.0 78.1 1078.7 78.1C1072.5 78.1 1049.0 78.1 1043.0 78.1M1139.6 93.3C1138.7 93.3 1135.4 93.5 1134.2 93.6C1133.0 93.7 1133.0 93.8 1132.4 94.1C1131.8 94.3 1131.5 94.7 1130.9 95.2C1130.3 95.8 1129.5 96.7 1129.0 97.3C1128.5 97.9 1128.1 98.3 1127.7 98.8C1127.3 99.4 1127.1 99.6 1126.5 100.4C1125.9 101.2 1124.8 102.8 1124.2 103.6C1123.6 104.4 1123.5 104.7 1123.1 105.3C1122.8 105.8 1122.8 105.8 1122.1 107.0C1121.5 108.2 1120.6 110.3 1119.4 112.6C1118.1 114.9 1116.3 118.3 1114.8 120.9C1113.2 123.5 1111.3 126.2 1110.2 128.2C1109.0 130.2 1108.2 132.1 1107.9 132.8M1080.7 78.1C1081.3 77.4 1083.2 75.3 1084.4 74.0C1085.6 72.7 1087.1 71.2 1088.1 70.3C1089.1 69.3 1090.0 68.6 1090.4 68.3M1139.6 150.8C1138.7 150.9 1135.4 151.2 1134.2 151.4C1133.0 151.6 1132.9 151.7 1132.3 151.9C1131.7 152.1 1131.3 152.3 1130.5 152.7C1129.7 153.1 1128.3 153.9 1127.5 154.4C1126.8 154.8 1126.4 155.0 1125.8 155.4C1125.3 155.8 1125.0 156.0 1124.2 156.5C1123.4 157.1 1121.8 158.2 1121.0 158.8C1120.2 159.3 1119.9 159.5 1119.5 159.8C1119.0 160.1 1118.7 160.3 1118.3 160.5C1117.8 160.8 1117.2 161.1 1116.8 161.2C1116.3 161.4 1116.0 161.6 1115.5 161.7C1115.1 161.8 1114.6 161.8 1114.0 161.8C1113.4 161.8 1112.5 161.8 1111.8 161.8C1111.2 161.8 1110.7 161.7 1110.1 161.6C1109.5 161.5 1109.2 161.4 1108.3 161.1C1107.4 160.8 1105.6 160.1 1104.7 159.7C1103.8 159.4 1103.4 159.2 1102.8 158.9C1102.3 158.7 1102.3 158.7 1101.1 158.0C1099.9 157.2 1097.6 155.8 1095.4 154.4C1093.3 153.1 1090.1 151.0 1088.1 149.8C1086.1 148.7 1084.5 148.0 1083.4 147.5C1082.3 147.0 1082.2 147.0 1081.6 146.8C1081.0 146.7 1086.1 146.7 1079.6 146.6C1073.2 146.6 1049.1 146.6 1043.0 146.6M1110.2 127.8C1109.7 128.2 1108.2 129.7 1107.6 130.3C1106.9 130.9 1106.8 131.1 1106.3 131.4C1105.9 131.8 1105.4 132.1 1104.8 132.5C1104.2 133.0 1103.3 133.6 1102.6 134.0C1102.0 134.4 1101.5 134.7 1101.0 135.1C1100.4 135.4 1100.0 135.6 1099.3 135.9C1098.7 136.3 1097.7 136.7 1097.1 137.1C1096.5 137.4 1096.0 137.6 1095.4 137.9C1094.9 138.3 1094.7 138.4 1093.8 139.0C1092.9 139.6 1091.5 140.6 1089.9 141.6C1088.4 142.5 1085.8 143.9 1084.4 144.8C1083.0 145.6 1082.1 146.3 1081.6 146.6M1144.2 168.2C1143.7 168.7 1141.8 170.2 1141.0 170.8C1140.2 171.4 1140.0 171.5 1139.4 171.7C1138.9 171.9 1138.8 172.0 1137.6 172.1C1136.4 172.3 1133.6 172.5 1132.4 172.6C1131.2 172.7 1131.1 172.7 1130.4 172.7C1129.8 172.6 1129.4 172.6 1128.5 172.4C1127.6 172.2 1125.9 171.7 1125.0 171.5C1124.1 171.2 1123.7 171.1 1123.1 170.8C1122.6 170.5 1122.4 170.5 1121.5 169.7C1120.6 169.0 1119.1 167.9 1117.5 166.4C1115.9 164.9 1113.8 162.9 1112.0 160.9C1110.2 158.9 1108.3 156.7 1106.5 154.4C1104.6 152.1 1102.8 149.5 1101.0 147.1C1099.1 144.6 1097.1 141.8 1095.4 139.7C1093.8 137.7 1092.1 135.9 1091.2 134.8C1090.3 133.7 1090.4 133.8 1090.0 133.2C1089.6 132.7 1089.7 133.0 1088.8 131.6C1087.9 130.2 1085.1 126.1 1084.4 125.0M1139.6 173.8C1138.1 173.6 1132.8 173.0 1130.4 172.8C1128.0 172.6 1126.2 172.5 1125.0 172.5C1123.8 172.5 1123.7 172.5 1123.1 172.6C1122.5 172.7 1122.0 172.8 1121.4 173.1C1120.7 173.3 1119.8 173.7 1119.2 174.0C1118.5 174.3 1118.1 174.5 1117.5 174.8C1117.0 175.1 1116.5 175.4 1115.9 175.8C1115.2 176.2 1114.3 176.8 1113.7 177.3C1113.0 177.7 1112.6 178.0 1112.0 178.4C1111.5 178.8 1111.4 178.9 1110.5 179.6C1109.5 180.4 1108.1 181.7 1106.5 183.0C1104.9 184.2 1102.0 186.4 1100.7 187.3C1099.5 188.2 1099.6 188.0 1099.0 188.3C1098.5 188.6 1098.1 188.8 1097.2 189.1C1096.3 189.4 1094.6 189.9 1093.7 190.2C1092.8 190.4 1092.4 190.5 1091.7 190.6C1091.1 190.7 1091.4 190.8 1089.8 190.8C1088.1 190.8 1089.4 190.8 1081.6 190.8C1073.9 190.8 1049.4 190.8 1043.0 190.8M1144.2 177.4C1143.7 177.1 1141.8 175.7 1141.0 175.2C1140.2 174.7 1140.0 174.6 1139.5 174.3C1138.9 174.0 1138.9 174.0 1137.7 173.6C1136.5 173.2 1134.7 172.8 1132.2 171.9C1129.8 171.0 1125.5 169.2 1123.0 168.2C1120.6 167.3 1118.8 166.6 1117.6 166.2C1116.3 165.7 1116.3 165.8 1115.7 165.7C1115.1 165.5 1114.7 165.5 1114.0 165.5C1113.4 165.4 1112.5 165.4 1111.8 165.5C1111.2 165.5 1110.7 165.5 1110.2 165.7C1109.6 165.8 1109.1 166.0 1108.5 166.3C1107.9 166.6 1106.9 167.1 1106.3 167.4C1105.7 167.8 1105.2 168.0 1104.7 168.4C1104.2 168.8 1104.3 168.7 1103.3 169.8C1102.4 170.8 1100.7 172.6 1099.1 174.7C1097.5 176.7 1095.2 180.0 1093.6 182.0C1092.0 184.1 1090.3 185.9 1089.4 187.0C1088.4 188.0 1088.5 187.9 1087.9 188.3C1087.4 188.6 1087.2 188.7 1086.2 189.2C1085.2 189.6 1082.4 190.5 1081.6 190.8M1158.0 513.7C1157.0 513.0 1153.1 510.4 1151.8 509.5C1150.5 508.7 1150.6 508.8 1150.0 508.6C1149.4 508.3 1149.6 508.3 1148.1 508.0C1146.7 507.7 1143.0 507.0 1141.6 506.8C1140.1 506.6 1140.3 506.6 1139.6 506.6C1138.9 506.6 1138.6 506.6 1137.6 506.8C1136.6 506.9 1134.7 507.2 1133.7 507.4C1132.7 507.6 1132.4 507.7 1131.8 508.0C1131.2 508.2 1131.2 508.2 1130.1 508.9C1129.1 509.7 1126.5 511.7 1125.4 512.5C1124.4 513.3 1124.4 513.3 1123.9 513.7C1123.4 514.2 1123.9 513.7 1122.5 515.2C1121.2 516.7 1118.4 519.8 1115.9 522.9C1113.5 525.9 1110.7 529.9 1108.1 533.4C1105.4 536.9 1102.8 540.6 1100.2 543.9C1097.5 547.2 1094.7 550.4 1092.3 553.1C1089.9 555.8 1087.1 558.8 1085.8 560.2C1084.4 561.5 1084.8 561.1 1084.3 561.4C1083.9 561.7 1083.4 561.9 1082.8 562.1C1082.2 562.4 1081.4 562.6 1080.7 562.8C1080.1 563.0 1079.6 563.1 1079.0 563.2C1078.4 563.3 1082.6 563.3 1077.1 563.3C1071.7 563.4 1051.4 563.3 1046.3 563.3M1084.4 563.6C1083.8 563.7 1081.6 564.2 1080.7 564.4C1079.8 564.6 1079.6 564.6 1079.0 564.7C1078.4 564.8 1082.6 564.8 1077.1 564.8C1071.7 564.8 1051.4 564.8 1046.3 564.8M1158.0 560.3C1157.0 560.1 1153.4 559.5 1152.1 559.3C1150.8 559.1 1150.8 559.1 1150.1 559.0C1149.4 559.0 1149.5 559.0 1148.1 558.9C1146.7 558.8 1143.0 558.5 1141.6 558.5C1140.2 558.4 1140.3 558.4 1139.6 558.4C1138.9 558.5 1139.0 558.4 1137.6 558.6C1136.2 558.8 1132.5 559.2 1131.1 559.4C1129.7 559.6 1129.8 559.6 1129.1 559.8C1128.5 560.0 1128.8 559.8 1127.3 560.5C1125.8 561.2 1121.8 563.3 1120.4 564.0C1118.9 564.7 1119.2 564.6 1118.6 564.9C1117.9 565.1 1118.1 565.1 1116.7 565.6C1115.3 566.2 1111.4 567.7 1109.9 568.2C1108.5 568.6 1108.7 568.5 1108.0 568.6C1107.4 568.6 1106.9 568.6 1106.1 568.5C1105.3 568.4 1104.2 568.1 1103.4 567.9C1102.7 567.8 1102.2 567.6 1101.5 567.5C1100.9 567.3 1100.4 567.1 1099.6 566.8C1098.8 566.5 1097.6 566.0 1096.8 565.7C1096.0 565.4 1095.5 565.2 1094.9 565.0C1094.3 564.8 1094.0 564.7 1093.0 564.4C1092.0 564.2 1089.9 563.6 1089.0 563.4C1088.0 563.2 1087.7 563.2 1087.1 563.1C1086.5 563.0 1086.3 563.0 1085.5 563.1C1084.6 563.1 1082.4 563.3 1081.8 563.3M1131.7 591.2C1130.7 590.3 1126.7 587.0 1125.4 585.9C1124.0 584.8 1124.3 585.1 1123.8 584.7C1123.3 584.3 1123.2 584.2 1122.2 583.5C1121.1 582.8 1118.7 581.2 1117.6 580.5C1116.6 579.8 1116.5 579.8 1115.9 579.5C1115.3 579.1 1115.1 579.0 1114.1 578.6C1113.1 578.2 1110.9 577.3 1109.9 576.9C1108.9 576.4 1108.7 576.4 1108.0 576.2C1107.4 575.9 1107.4 575.9 1106.1 575.6C1104.8 575.3 1102.2 574.7 1100.2 574.1C1098.2 573.5 1095.5 572.6 1094.2 572.1C1092.9 571.7 1092.9 571.7 1092.3 571.4C1091.7 571.1 1091.7 571.1 1090.6 570.5C1089.5 569.8 1087.2 568.5 1085.7 567.5C1084.3 566.6 1082.4 565.3 1081.8 564.9M1158.0 585.9C1156.7 585.8 1152.8 585.4 1150.1 585.3C1147.4 585.2 1143.4 585.3 1141.6 585.3C1139.8 585.3 1140.3 585.3 1139.6 585.4C1138.9 585.4 1138.6 585.5 1137.6 585.6C1136.6 585.8 1134.7 586.1 1133.7 586.3C1132.7 586.5 1132.4 586.6 1131.8 586.8C1131.3 587.1 1131.1 587.2 1130.2 587.9C1129.3 588.6 1127.1 590.6 1126.5 591.2M1126.5 591.2C1125.4 589.9 1121.2 585.0 1119.9 583.5C1118.5 582.0 1119.0 582.5 1118.5 582.1C1118.0 581.7 1118.2 581.8 1116.9 580.9C1115.6 580.0 1113.0 578.3 1110.7 576.7C1108.3 575.2 1105.2 573.0 1102.8 571.5C1100.5 569.9 1097.9 568.2 1096.6 567.3C1095.3 566.5 1095.4 566.6 1094.8 566.4C1094.2 566.1 1094.7 566.2 1093.0 565.7C1091.2 565.3 1085.8 564.0 1084.4 563.6M1158.0 585.0C1158.0 585.0 1158.0 585.0 1158.0 585.0M1121.2 588.9C1120.6 589.4 1118.4 591.0 1117.5 591.7C1116.7 592.4 1116.5 592.5 1116.1 593.0C1115.6 593.5 1115.5 593.5 1114.8 594.5C1114.1 595.6 1112.5 598.1 1111.8 599.1C1111.1 600.1 1111.1 600.2 1110.7 600.8C1110.4 601.4 1110.5 601.1 1109.8 602.6C1109.1 604.0 1107.0 608.0 1106.3 609.5C1105.6 611.0 1105.7 610.7 1105.5 611.3C1105.2 611.9 1105.4 611.4 1104.7 613.2C1104.1 614.9 1102.6 619.1 1101.5 621.8C1100.4 624.5 1099.0 627.6 1098.3 629.2C1097.7 630.7 1097.8 630.4 1097.5 631.0C1097.2 631.6 1097.3 631.5 1096.6 632.7C1095.9 634.0 1094.0 637.2 1093.3 638.5C1092.6 639.7 1092.6 639.6 1092.2 640.1C1091.8 640.6 1091.5 641.0 1090.9 641.6C1090.3 642.3 1089.1 643.4 1088.4 644.0C1087.8 644.6 1087.5 644.9 1087.0 645.2C1086.5 645.5 1086.1 645.7 1085.5 645.8C1084.8 646.0 1084.0 646.2 1083.4 646.4C1082.7 646.5 1082.3 646.6 1081.7 646.7C1081.1 646.7 1085.7 646.8 1079.8 646.8C1073.9 646.8 1051.9 646.8 1046.3 646.8M1158.0 609.3C1156.1 609.2 1149.0 608.9 1146.9 608.8C1144.7 608.7 1145.5 608.7 1144.9 608.7C1144.2 608.7 1144.3 608.7 1142.9 608.8C1141.4 608.9 1137.7 609.1 1136.3 609.2C1134.9 609.3 1135.0 609.3 1134.4 609.5C1133.9 609.7 1133.4 610.0 1132.8 610.3C1132.1 610.6 1131.3 611.2 1130.7 611.6C1130.1 612.0 1129.6 612.3 1129.2 612.7C1128.7 613.2 1128.7 613.1 1127.8 614.2C1126.9 615.2 1125.4 617.0 1123.8 619.2C1122.3 621.3 1120.3 624.4 1118.6 627.1C1116.8 629.7 1114.9 632.8 1113.3 634.9C1111.8 637.1 1110.2 638.9 1109.3 640.0C1108.4 641.0 1108.5 641.0 1108.0 641.5C1107.6 642.0 1107.3 642.3 1106.6 642.9C1106.0 643.6 1104.9 644.7 1104.2 645.4C1103.6 646.0 1103.3 646.3 1102.8 646.7C1102.3 647.2 1102.1 647.3 1101.2 648.0C1100.4 648.7 1098.6 650.1 1097.8 650.8C1096.9 651.4 1096.7 651.6 1096.2 651.9C1095.6 652.2 1095.5 652.3 1094.4 652.8C1093.3 653.2 1091.1 654.1 1089.7 654.7C1088.3 655.2 1086.9 655.7 1086.0 656.0C1085.1 656.3 1084.9 656.4 1084.3 656.5C1083.7 656.6 1088.7 656.6 1082.4 656.6C1076.1 656.7 1052.3 656.6 1046.3 656.6M1158.0 661.2C1153.6 661.1 1139.1 661.0 1131.7 660.6C1124.4 660.2 1117.3 659.1 1114.0 658.8C1110.7 658.5 1112.7 658.6 1112.0 658.5C1111.4 658.4 1112.3 658.6 1110.1 658.1C1107.9 657.6 1101.9 656.0 1098.9 655.3C1095.8 654.6 1093.1 654.0 1091.6 653.8C1090.1 653.5 1090.3 653.6 1089.7 653.7C1089.1 653.7 1089.0 653.7 1087.9 654.2C1086.8 654.7 1083.9 656.2 1083.1 656.6M1158.0 671.7C1157.0 671.0 1153.1 668.4 1151.8 667.6C1150.5 666.7 1150.6 666.9 1150.0 666.6C1149.4 666.4 1149.8 666.4 1148.2 666.0C1146.5 665.6 1141.9 664.5 1140.2 664.1C1138.6 663.7 1138.9 663.7 1138.3 663.5C1137.7 663.3 1137.7 663.3 1136.4 662.8C1135.2 662.4 1132.1 661.2 1130.9 660.7C1129.8 660.1 1129.8 660.1 1129.3 659.7C1128.8 659.3 1129.1 659.9 1128.0 658.2C1126.8 656.6 1123.4 651.4 1122.3 649.7C1121.2 648.1 1121.6 648.7 1121.2 648.1C1120.8 647.6 1121.0 647.9 1119.9 646.6C1118.8 645.3 1115.7 641.7 1114.6 640.4C1113.5 639.1 1113.7 639.4 1113.2 639.0C1112.7 638.6 1112.5 638.5 1111.5 638.0C1110.5 637.5 1108.2 636.3 1107.2 635.8C1106.2 635.4 1106.0 635.3 1105.4 635.2C1104.7 635.1 1104.4 635.1 1103.4 635.1C1102.5 635.1 1100.5 635.3 1099.5 635.4C1098.6 635.6 1098.2 635.6 1097.6 635.8C1097.0 636.1 1096.7 636.2 1095.9 636.7C1095.1 637.3 1093.4 638.5 1092.6 639.1C1091.8 639.6 1091.5 639.8 1091.0 640.3C1090.5 640.7 1090.2 641.0 1089.6 641.6C1088.9 642.2 1087.8 643.4 1087.1 644.0C1086.5 644.6 1086.2 644.9 1085.8 645.2C1085.3 645.5 1085.2 645.6 1084.5 645.8C1083.9 646.1 1082.2 646.6 1081.8 646.8M1172.6 592.5C1170.4 591.9 1161.8 589.7 1159.2 589.1C1156.7 588.5 1157.9 588.8 1157.3 588.7C1156.6 588.5 1157.9 588.7 1155.3 588.4C1152.7 588.1 1144.4 587.1 1141.8 586.8C1139.2 586.5 1140.5 586.7 1139.8 586.7C1139.1 586.7 1140.5 586.6 1137.8 586.8C1135.1 587.0 1126.1 587.7 1123.4 587.9C1120.7 588.2 1122.1 588.1 1121.4 588.2C1120.8 588.3 1121.2 588.2 1119.5 588.7C1117.8 589.2 1112.6 590.8 1111.2 591.2M1167.5 591.2C1165.3 591.8 1156.6 593.9 1154.0 594.5C1151.5 595.1 1152.7 594.8 1152.1 594.9C1151.4 595.0 1151.8 595.0 1150.1 595.1C1148.4 595.3 1143.5 595.6 1141.8 595.7C1140.1 595.8 1140.5 595.7 1139.8 595.7C1139.1 595.7 1139.7 595.8 1137.8 595.5C1135.9 595.2 1130.4 594.4 1128.5 594.1C1126.6 593.8 1127.2 593.9 1126.5 593.7C1125.9 593.5 1126.3 593.7 1124.6 593.1C1122.9 592.5 1117.7 590.5 1116.3 590.0" stroke="#ff7d42" stroke-width="2.5"/><path d="M1148.8 85.9C1147.6 86.2 1143.1 87.4 1141.5 87.7C1140.0 88.1 1140.2 88.0 1139.6 88.0C1138.9 88.1 1138.8 88.1 1137.6 88.0C1136.4 87.9 1133.6 87.6 1132.4 87.5C1131.2 87.4 1131.1 87.3 1130.4 87.1C1129.8 87.0 1129.5 86.9 1128.6 86.5C1127.6 86.1 1125.8 85.3 1124.9 84.9C1124.0 84.5 1123.7 84.3 1123.1 84.0C1122.6 83.6 1122.2 83.3 1121.5 82.8C1120.8 82.3 1119.7 81.3 1119.1 80.8C1118.4 80.2 1118.1 79.9 1117.6 79.5C1117.2 79.0 1117.0 78.9 1116.4 78.1C1115.8 77.3 1114.7 76.0 1113.8 74.9C1113.0 73.8 1111.9 72.4 1111.3 71.7C1110.7 70.9 1110.6 70.8 1110.3 70.5C1110.0 70.1 1109.9 70.0 1109.5 69.7C1109.1 69.3 1108.1 68.5 1107.9 68.3M1124.0 68.6C1123.2 69.5 1120.9 72.0 1119.4 74.0C1117.8 75.9 1116.1 78.5 1114.8 80.4C1113.4 82.3 1112.1 84.2 1111.3 85.2C1110.5 86.3 1110.5 86.3 1110.1 86.8C1109.6 87.2 1109.3 87.6 1108.6 88.1C1108.0 88.7 1106.8 89.6 1106.2 90.2C1105.5 90.7 1105.2 91.0 1104.7 91.5C1104.2 92.0 1104.1 92.1 1103.4 93.0C1102.6 93.9 1101.4 95.4 1100.0 97.0C1098.7 98.5 1096.7 101.0 1095.4 102.5C1094.1 103.9 1093.0 105.0 1092.2 105.7C1091.4 106.4 1091.3 106.6 1090.8 106.9C1090.3 107.3 1089.8 107.5 1089.2 107.8C1088.6 108.1 1087.6 108.4 1087.0 108.7C1086.3 108.9 1085.9 109.1 1085.4 109.2C1084.9 109.4 1084.7 109.4 1083.9 109.5C1083.2 109.6 1081.3 109.8 1080.7 109.8M1099.1 68.9C1098.8 70.0 1098.0 73.4 1097.3 75.8C1096.5 78.2 1095.3 81.0 1094.5 83.2C1093.7 85.3 1092.9 87.4 1092.5 88.6C1092.0 89.9 1092.0 89.9 1091.7 90.5C1091.4 91.1 1091.5 91.1 1090.9 92.3C1090.3 93.5 1089.0 96.2 1088.1 97.9C1087.2 99.6 1086.0 101.5 1085.4 102.6C1084.8 103.6 1084.7 103.7 1084.4 104.2C1084.1 104.6 1084.0 104.8 1083.6 105.4C1083.1 106.1 1082.0 107.6 1081.6 108.0M1093.6 68.6C1093.7 69.4 1094.1 72.0 1094.2 73.0C1094.4 74.0 1094.5 74.2 1094.6 74.8C1094.7 75.4 1094.9 75.9 1095.1 76.5C1095.3 77.2 1095.6 78.1 1095.8 78.7C1096.0 79.4 1096.2 79.8 1096.4 80.4C1096.7 81.0 1096.7 81.1 1097.2 82.1C1097.6 83.0 1098.3 84.4 1099.1 85.9C1099.9 87.5 1101.0 89.6 1101.9 91.4C1102.8 93.3 1103.7 95.0 1104.6 97.0C1105.6 99.0 1106.5 101.3 1107.4 103.4C1108.3 105.5 1109.4 107.9 1110.2 109.8C1111.0 111.8 1111.8 114.1 1112.2 115.3C1112.7 116.6 1112.7 116.6 1112.9 117.2C1113.1 117.9 1113.1 117.9 1113.4 119.1C1113.7 120.4 1114.2 122.3 1114.8 124.6C1115.3 126.8 1116.3 131.5 1116.6 132.8M1080.7 80.9C1081.6 81.7 1084.6 84.4 1086.2 85.9C1087.8 87.4 1089.4 89.1 1090.3 90.0C1091.3 90.9 1091.3 91.0 1091.7 91.4C1092.1 91.9 1092.2 92.1 1092.9 92.8C1093.5 93.6 1094.4 94.7 1095.4 96.0C1096.5 97.3 1098.1 99.2 1099.1 100.6C1100.2 102.0 1101.1 103.6 1101.7 104.5C1102.3 105.4 1102.4 105.6 1102.7 106.2C1103.1 106.7 1103.2 106.9 1103.6 107.8C1104.1 108.7 1104.8 110.0 1105.6 111.7C1106.3 113.4 1107.5 116.1 1108.3 118.1C1109.1 120.1 1109.9 122.4 1110.4 123.6C1110.8 124.8 1110.8 124.9 1111.0 125.5C1111.2 126.1 1111.3 126.2 1111.6 127.4C1111.9 128.6 1112.7 131.9 1112.9 132.8M1080.7 80.9C1074.4 80.9 1049.3 80.9 1043.0 80.9M1080.7 116.7C1074.4 116.7 1049.3 116.7 1043.0 116.7M1080.7 116.7C1081.3 117.6 1083.5 120.4 1084.4 121.8C1085.3 123.2 1085.9 124.2 1086.3 125.0C1086.8 125.8 1086.9 126.0 1087.2 126.5C1087.4 127.0 1087.5 127.2 1088.0 128.2C1088.4 129.3 1089.6 132.1 1089.9 132.8M1139.6 120.0C1138.4 120.2 1133.9 121.1 1132.4 121.4C1130.8 121.7 1131.1 121.6 1130.4 121.7C1129.7 121.8 1129.6 121.8 1128.4 121.9C1127.2 122.0 1124.4 122.1 1123.2 122.2C1122.0 122.2 1121.9 122.2 1121.4 122.2C1120.9 122.2 1120.7 122.2 1120.1 122.1C1119.4 122.1 1118.0 121.9 1117.5 121.8M1139.6 126.4C1138.1 126.2 1132.8 125.7 1130.4 125.5C1128.0 125.2 1126.2 125.0 1125.0 124.8C1123.8 124.6 1123.7 124.6 1123.1 124.4C1122.4 124.3 1122.1 124.2 1121.2 123.9C1120.2 123.5 1118.5 122.9 1117.6 122.5C1116.7 122.1 1116.3 122.0 1115.8 121.7C1115.2 121.3 1115.1 121.3 1114.1 120.5C1113.2 119.8 1111.5 118.3 1110.2 117.2C1108.8 116.1 1107.1 114.6 1106.2 113.9C1105.3 113.1 1105.1 113.0 1104.6 112.6C1104.1 112.2 1103.9 112.1 1103.0 111.5C1102.1 110.9 1100.5 109.8 1099.1 108.9C1097.7 108.0 1095.3 106.6 1094.5 106.2M1081.6 157.0C1082.1 157.1 1083.6 157.6 1084.2 157.8C1084.8 158.0 1084.9 158.1 1085.2 158.3C1085.5 158.6 1085.6 158.8 1085.9 159.2C1086.1 159.6 1086.4 160.2 1086.6 160.7C1086.8 161.1 1087.0 161.5 1087.2 161.9C1087.3 162.4 1087.4 162.6 1087.7 163.5C1088.0 164.4 1088.5 165.6 1089.0 167.3C1089.5 169.0 1090.1 171.3 1090.8 173.8C1091.6 176.2 1092.7 179.4 1093.6 182.0C1094.5 184.6 1095.6 187.1 1096.4 189.4C1097.1 191.7 1097.9 194.8 1098.2 195.8M1081.6 140.6C1082.3 140.3 1084.1 139.4 1085.3 138.8C1086.5 138.2 1087.6 137.7 1089.0 137.0C1090.4 136.2 1091.9 135.1 1093.6 134.2C1095.3 133.3 1097.1 132.4 1099.1 131.4C1101.1 130.5 1103.7 129.5 1105.6 128.7C1107.4 127.9 1109.1 127.2 1110.2 126.7C1111.2 126.3 1111.3 126.2 1111.7 126.0C1112.2 125.8 1112.3 125.7 1112.8 125.4C1113.3 125.1 1114.4 124.3 1114.8 124.1M1081.6 140.8C1082.2 141.0 1084.1 141.8 1084.9 142.1C1085.6 142.4 1085.8 142.4 1086.3 142.5C1086.8 142.7 1087.3 142.7 1087.9 142.7C1088.5 142.8 1089.5 142.8 1090.1 142.9C1090.8 142.9 1091.2 142.9 1091.8 142.9C1092.3 142.9 1092.5 142.9 1093.4 142.8C1094.3 142.7 1096.6 142.5 1097.3 142.5M1115.7 140.6C1114.6 141.6 1111.1 144.5 1109.2 146.2C1107.3 147.8 1105.4 149.5 1104.3 150.4C1103.2 151.3 1103.3 151.2 1102.7 151.6C1102.2 151.9 1102.2 151.9 1101.0 152.6C1099.8 153.2 1096.6 154.8 1095.4 155.4C1094.1 156.0 1094.2 155.9 1093.6 156.1C1092.9 156.3 1093.6 156.2 1091.6 156.4C1089.6 156.6 1089.7 156.9 1081.6 157.0C1073.5 157.1 1049.4 157.0 1043.0 157.0M1139.6 136.5C1138.1 136.5 1133.5 136.5 1130.4 136.5C1127.3 136.5 1124.3 136.5 1121.2 136.5C1118.1 136.5 1114.5 136.5 1112.0 136.5C1109.5 136.5 1108.3 136.6 1106.5 136.5C1104.6 136.4 1101.9 136.1 1101.0 136.0M1139.6 160.0C1138.7 159.7 1135.4 158.9 1134.2 158.6C1133.0 158.3 1132.9 158.2 1132.4 158.0C1131.8 157.7 1131.4 157.4 1130.9 157.0C1130.3 156.6 1129.5 156.0 1129.0 155.5C1128.5 155.1 1128.1 154.8 1127.7 154.3C1127.3 153.9 1127.1 153.6 1126.5 152.8C1125.9 152.0 1124.8 150.4 1124.2 149.6C1123.6 148.8 1123.4 148.5 1123.1 148.0C1122.7 147.4 1122.7 147.3 1122.0 146.3C1121.4 145.2 1120.1 142.9 1119.4 141.6C1118.6 140.2 1117.9 139.1 1117.4 138.3C1117.0 137.6 1116.9 137.4 1116.6 136.8C1116.3 136.3 1116.3 136.2 1115.8 135.1C1115.4 134.1 1114.5 132.2 1113.8 130.5C1113.2 128.8 1112.3 125.9 1112.0 125.0M1084.4 125.0C1085.0 125.8 1087.0 128.3 1088.1 129.6C1089.1 130.9 1090.1 132.0 1090.7 132.8C1091.3 133.6 1091.4 133.8 1091.7 134.3C1092.0 134.8 1092.3 135.2 1092.6 135.9C1092.9 136.5 1093.4 137.4 1093.7 138.1C1094.0 138.7 1094.2 139.2 1094.4 139.8C1094.7 140.4 1094.8 140.8 1095.0 141.7C1095.2 142.6 1095.6 144.2 1095.9 145.1C1096.1 146.0 1096.2 146.4 1096.4 147.1C1096.6 147.7 1096.6 147.7 1097.1 149.0C1097.5 150.2 1098.3 152.3 1099.1 154.4C1099.9 156.6 1101.0 159.3 1101.9 161.8C1102.8 164.3 1103.6 166.4 1104.6 169.2C1105.7 171.9 1107.1 175.3 1108.3 178.4C1109.5 181.4 1110.9 184.6 1112.0 187.6C1113.1 190.5 1114.3 194.5 1114.8 195.8M1158.0 200.4C1157.0 201.9 1153.2 207.6 1152.0 209.4C1150.8 211.1 1151.2 210.4 1150.8 210.9C1150.4 211.4 1150.3 211.5 1149.4 212.3C1148.5 213.1 1146.3 214.9 1145.3 215.7C1144.4 216.4 1144.3 216.4 1143.7 216.7C1143.1 217.0 1142.7 217.1 1141.8 217.3C1141.0 217.5 1139.5 217.8 1138.7 218.0C1137.8 218.1 1137.4 218.1 1136.7 218.1C1136.1 218.0 1135.7 217.9 1134.8 217.7C1134.0 217.4 1132.3 216.8 1131.5 216.4C1130.6 216.1 1130.3 215.9 1129.8 215.5C1129.2 215.2 1129.3 215.3 1128.3 214.2C1127.3 213.1 1124.8 210.1 1123.8 209.0C1122.9 207.9 1123.0 208.0 1122.6 207.4C1122.2 206.9 1122.3 207.1 1121.5 205.8C1120.6 204.5 1118.5 201.0 1117.7 199.7C1116.9 198.4 1117.0 198.6 1116.7 198.0C1116.3 197.4 1116.8 198.4 1115.8 196.2C1114.8 194.0 1111.5 186.9 1110.7 185.0M1158.0 258.3C1156.7 259.1 1151.9 261.8 1150.3 262.7C1148.7 263.5 1149.1 263.3 1148.5 263.5C1147.9 263.7 1147.8 263.8 1146.6 264.1C1145.3 264.4 1142.3 265.0 1141.0 265.2C1139.8 265.5 1139.7 265.4 1139.1 265.4C1138.5 265.3 1138.1 265.2 1137.2 265.0C1136.3 264.7 1134.7 264.1 1133.9 263.7C1133.0 263.4 1132.6 263.2 1132.1 262.9C1131.5 262.5 1131.5 262.6 1130.6 261.6C1129.6 260.7 1127.2 258.3 1126.3 257.4C1125.4 256.4 1125.4 256.4 1125.0 255.9C1124.6 255.3 1125.0 256.1 1124.0 254.2C1123.0 252.2 1120.8 248.0 1119.0 244.1C1117.1 240.3 1114.8 235.3 1113.1 231.1C1111.3 227.0 1109.9 223.4 1108.3 219.3C1106.7 215.2 1105.2 210.4 1103.6 206.3C1102.0 202.1 1100.2 198.0 1098.9 194.5C1097.5 190.9 1095.9 186.6 1095.3 185.0M1158.0 568.9C1156.9 568.0 1153.0 564.6 1151.7 563.6C1150.3 562.5 1150.6 562.8 1150.0 562.4C1149.5 562.1 1149.6 562.2 1148.2 561.6C1146.8 561.1 1142.9 559.7 1141.5 559.3C1140.0 558.8 1140.2 558.9 1139.6 558.8C1138.9 558.8 1139.0 558.7 1137.6 558.9C1136.2 559.1 1132.5 559.7 1131.1 560.0C1129.6 560.2 1129.8 560.3 1129.1 560.5C1128.5 560.7 1128.8 560.5 1127.3 561.3C1125.9 562.1 1121.8 564.4 1120.3 565.2C1118.9 566.1 1119.2 565.9 1118.6 566.3C1118.1 566.6 1118.7 566.1 1117.0 567.4C1115.2 568.7 1111.1 571.9 1108.1 574.1C1105.0 576.3 1101.7 578.7 1098.9 580.7C1096.1 582.7 1092.8 585.0 1091.3 586.1C1089.8 587.2 1090.2 586.9 1089.8 587.3C1089.3 587.6 1089.2 587.8 1088.5 588.4C1087.8 589.1 1086.2 590.7 1085.7 591.2M1080.5 597.1C1080.9 596.6 1082.5 594.8 1083.2 594.1C1083.9 593.4 1084.0 593.3 1084.5 592.9C1085.0 592.5 1085.4 592.2 1086.0 591.7C1086.6 591.2 1087.5 590.6 1088.1 590.1C1088.7 589.7 1089.1 589.3 1089.7 589.0C1090.2 588.6 1090.3 588.6 1091.4 587.9C1092.5 587.3 1095.4 585.5 1096.2 585.0M1080.5 597.1C1081.6 598.4 1084.8 602.1 1087.0 604.7C1089.2 607.3 1091.6 610.4 1093.6 612.6C1095.6 614.8 1097.7 616.7 1098.8 617.8C1099.9 618.8 1099.7 618.6 1100.2 618.9C1100.7 619.2 1100.9 619.3 1101.8 619.6C1102.6 619.8 1104.8 620.3 1105.4 620.5M1081.8 644.8C1082.9 643.8 1085.9 641.0 1088.3 638.9C1090.8 636.8 1093.6 634.5 1096.2 632.3C1098.8 630.1 1102.4 627.0 1103.9 625.7C1105.5 624.4 1104.9 624.9 1105.5 624.5C1106.0 624.2 1105.7 624.3 1107.2 623.5C1108.7 622.7 1111.9 621.1 1114.6 619.8C1117.4 618.6 1121.3 616.9 1123.8 615.9C1126.4 614.9 1128.5 614.3 1129.8 613.9C1131.1 613.5 1131.1 613.5 1131.7 613.4C1132.4 613.4 1131.5 613.3 1133.7 613.4C1135.9 613.4 1140.8 613.6 1144.9 613.9C1148.9 614.2 1155.8 615.0 1158.0 615.2M1081.8 645.5C1082.4 646.3 1084.9 649.4 1085.8 650.5C1086.7 651.6 1086.6 651.5 1087.1 652.0C1087.5 652.5 1087.4 652.3 1088.4 653.4C1089.5 654.5 1091.4 656.4 1093.6 658.6C1095.8 660.8 1099.1 664.1 1101.5 666.5C1103.9 668.9 1106.7 671.6 1108.0 673.0C1109.3 674.3 1108.9 673.9 1109.3 674.4C1109.7 674.9 1109.4 674.5 1110.5 676.0C1111.6 677.5 1115.0 682.3 1115.9 683.6M1158.0 642.8C1156.9 641.7 1152.9 637.6 1151.5 636.4C1150.2 635.1 1150.5 635.5 1150.0 635.1C1149.4 634.8 1149.6 634.8 1148.2 634.3C1146.8 633.9 1142.9 632.7 1141.5 632.3C1140.1 631.8 1140.2 631.9 1139.6 631.9C1138.9 631.9 1139.1 631.8 1137.6 632.0C1136.2 632.3 1132.5 633.0 1131.1 633.3C1129.6 633.6 1129.8 633.6 1129.2 633.8C1128.5 634.0 1129.2 633.6 1127.4 634.7C1125.6 635.8 1121.5 638.2 1118.6 640.2C1115.6 642.2 1111.4 645.6 1109.7 646.9C1107.9 648.2 1108.6 647.7 1108.1 648.1C1107.6 648.6 1107.7 648.4 1106.6 649.5C1105.6 650.6 1102.7 653.5 1101.6 654.6C1100.5 655.6 1100.7 655.5 1100.2 656.0C1099.8 656.5 1100.1 656.1 1099.0 657.6C1097.9 659.0 1094.6 663.4 1093.5 664.9C1092.4 666.4 1092.7 666.0 1092.4 666.5C1092.0 667.1 1092.3 666.5 1091.4 668.3C1090.5 670.0 1088.2 674.4 1087.0 677.0C1085.9 679.5 1084.8 682.5 1084.4 683.6M1129.1 633.6C1127.8 634.7 1123.6 638.0 1121.2 640.2C1118.8 642.4 1116.0 645.3 1114.7 646.7C1113.4 648.0 1113.8 647.6 1113.4 648.2C1113.1 648.7 1113.3 648.1 1112.4 649.9C1111.5 651.6 1109.5 655.7 1108.1 658.6C1106.6 661.5 1104.6 665.6 1103.7 667.3C1102.8 669.1 1103.1 668.5 1102.9 669.1C1102.7 669.8 1102.9 668.6 1102.3 671.0C1101.6 673.4 1099.4 681.5 1098.9 683.6" stroke="#4169e1" stroke-width="2.5" stroke-dasharray="7 3.5"/><path d="M1081.6 109.8C1075.2 109.8 1049.4 109.8 1043.0 109.8M1081.6 140.6C1075.2 140.6 1049.4 140.6 1043.0 140.6M1080.5 597.1C1074.8 597.1 1052.0 597.1 1046.3 597.1M1081.8 644.8C1075.9 644.8 1052.2 644.8 1046.3 644.8" stroke="#4169e1" stroke-width="2.5"/></g>
<clipPath id="pcb"><rect x="1135.3" y="67.8" width="173.8" height="614.4000000000001"/></clipPath>
<g clip-path="url(#pcb)" fill="none" stroke-width="2.6" stroke-linejoin="round">
<path d="M1192.4 66.5C1191.4 68.0 1187.3 73.6 1186.1 75.4C1184.9 77.1 1185.5 76.5 1185.4 77.0C1185.3 77.6 1185.3 77.7 1185.6 78.9C1185.9 80.0 1186.9 82.9 1187.3 84.1C1187.7 85.2 1187.8 85.3 1188.2 85.8C1188.6 86.3 1188.4 86.2 1189.6 87.1C1190.8 87.9 1194.1 90.0 1195.3 90.9C1196.4 91.7 1196.2 91.7 1196.4 92.2C1196.5 92.7 1196.6 92.7 1196.3 93.9C1196.0 95.0 1195.0 97.9 1194.6 99.1C1194.1 100.2 1194.0 100.2 1193.6 100.7C1193.2 101.1 1195.7 100.2 1192.1 101.7C1188.4 103.1 1175.5 107.8 1171.8 109.2C1168.2 110.7 1170.6 109.8 1170.1 110.2C1169.6 110.5 1170.3 109.6 1168.8 111.5C1167.2 113.5 1163.3 118.5 1161.0 121.9C1158.6 125.4 1155.7 130.2 1154.5 132.2C1153.4 134.2 1154.0 133.3 1154.0 133.9C1154.1 134.4 1154.2 134.8 1154.7 135.5C1155.1 136.2 1156.2 137.6 1156.8 138.3C1157.4 139.0 1157.6 139.3 1158.2 139.6C1158.7 140.0 1158.3 139.9 1159.9 140.4C1161.6 140.9 1166.4 142.0 1168.0 142.4C1169.7 142.9 1169.3 142.8 1169.8 143.1C1170.4 143.4 1170.6 143.6 1171.4 144.3C1172.2 145.0 1173.9 146.7 1174.5 147.5C1175.2 148.3 1175.3 148.5 1175.4 149.0C1175.6 149.6 1175.6 149.6 1175.3 150.8C1175.0 152.0 1173.9 154.8 1173.6 156.0C1173.3 157.1 1173.4 157.2 1173.6 157.6C1173.8 158.0 1172.4 157.6 1174.8 158.6C1177.2 159.7 1183.1 162.1 1187.9 163.9C1192.8 165.6 1201.0 168.2 1204.0 169.2C1207.0 170.3 1205.3 169.7 1205.9 170.0C1206.5 170.3 1206.4 170.2 1207.6 171.0C1208.8 171.8 1212.1 173.9 1213.2 174.7C1214.4 175.6 1214.2 175.6 1214.6 176.1C1214.9 176.6 1214.9 176.2 1215.2 177.8C1215.4 179.5 1216.0 184.2 1216.2 185.9C1216.3 187.5 1216.3 187.2 1216.3 187.8C1216.2 188.5 1216.2 188.6 1216.1 189.8C1215.9 191.0 1215.4 193.7 1215.2 194.9C1215.1 196.0 1215.1 196.2 1215.1 196.8C1215.1 197.5 1215.1 197.6 1215.2 198.8C1215.4 200.0 1215.9 202.7 1216.1 203.8C1216.2 205.0 1216.2 205.2 1216.2 205.8C1216.1 206.4 1216.1 206.5 1215.8 207.7C1215.4 208.9 1214.4 211.7 1214.0 212.9C1213.7 214.1 1213.7 214.2 1213.8 214.8C1213.8 215.4 1213.8 215.4 1214.3 216.6C1214.8 217.8 1216.4 220.8 1217.0 222.0C1217.6 223.2 1217.6 223.2 1217.7 223.8C1217.9 224.5 1217.9 224.1 1218.2 225.8C1218.4 227.4 1219.0 232.1 1219.2 233.8C1219.3 235.5 1219.3 235.1 1219.3 235.8C1219.3 236.4 1219.4 235.8 1219.3 237.8C1219.1 239.8 1218.8 244.4 1218.5 247.8C1218.2 251.1 1217.7 255.8 1217.5 257.8C1217.3 259.8 1217.4 259.1 1217.5 259.7C1217.5 260.4 1217.4 260.2 1217.8 261.7C1218.1 263.2 1218.8 265.6 1219.4 268.7C1220.0 271.9 1221.1 278.7 1221.5 280.7" stroke="#808080"/>
<path d="M1249.4 66.5C1249.6 67.9 1250.3 73.3 1250.6 75.0C1250.9 76.7 1250.9 76.2 1251.2 76.7C1251.6 77.2 1251.0 77.0 1252.7 77.9C1254.3 78.8 1259.4 81.2 1261.1 82.1C1262.7 83.0 1262.2 82.7 1262.8 83.1C1263.3 83.5 1263.5 83.6 1264.3 84.4C1265.0 85.1 1266.8 86.8 1267.4 87.6C1268.1 88.3 1268.1 88.5 1268.1 88.9C1268.0 89.3 1268.3 89.2 1267.2 90.1C1266.1 90.9 1262.7 93.1 1261.5 93.8C1260.3 94.6 1260.4 94.5 1259.8 94.8C1259.2 95.1 1260.6 94.7 1258.0 95.6C1255.3 96.5 1246.4 99.4 1243.8 100.3C1241.1 101.3 1242.6 100.8 1242.1 101.2C1241.6 101.6 1241.6 101.4 1240.8 102.6C1239.9 103.8 1237.7 107.0 1237.0 108.3C1236.3 109.5 1236.4 109.4 1236.4 110.0C1236.3 110.5 1236.3 110.5 1236.8 111.7C1237.3 112.9 1238.9 115.9 1239.5 117.1C1240.0 118.3 1239.9 118.3 1240.0 118.9C1240.0 119.6 1240.2 119.1 1239.7 120.8C1239.1 122.5 1237.1 127.4 1236.6 129.0C1236.0 130.7 1236.3 130.3 1236.3 130.9C1236.4 131.5 1236.3 131.3 1237.0 132.6C1237.7 133.8 1239.9 137.1 1240.8 138.2C1241.6 139.4 1241.6 139.3 1242.1 139.6C1242.6 140.0 1240.8 139.5 1243.8 140.5C1246.7 141.6 1256.0 144.6 1259.9 145.9C1263.7 147.2 1265.6 147.7 1266.9 148.3C1268.3 148.8 1267.9 148.7 1267.9 149.0C1267.9 149.2 1268.9 148.8 1267.1 149.8C1265.2 150.8 1260.5 153.2 1256.9 154.9C1253.2 156.6 1247.4 159.0 1245.2 160.1C1243.0 161.1 1244.2 160.7 1243.9 161.2C1243.7 161.6 1243.6 161.7 1243.7 162.8C1243.8 164.0 1244.3 166.7 1244.5 167.9C1244.8 169.0 1244.8 169.2 1245.1 169.8C1245.3 170.4 1245.2 170.3 1246.0 171.5C1246.8 172.8 1248.9 176.0 1249.8 177.2C1250.6 178.4 1250.5 178.3 1250.9 178.8C1251.4 179.3 1251.0 179.0 1252.3 180.3C1253.5 181.5 1257.2 185.2 1258.4 186.4C1259.6 187.7 1259.3 187.4 1259.5 187.9C1259.7 188.5 1259.8 189.0 1259.9 189.6C1259.9 190.3 1259.9 191.4 1259.9 192.0C1259.8 192.7 1259.7 193.1 1259.4 193.5C1259.0 193.9 1261.0 193.4 1257.9 194.4C1254.8 195.3 1244.0 198.4 1240.8 199.3C1237.6 200.2 1239.5 199.7 1238.9 199.9C1238.3 200.2 1238.8 199.9 1237.1 200.7C1235.4 201.6 1230.3 204.0 1228.7 204.9C1227.0 205.8 1227.6 205.6 1227.1 206.0C1226.7 206.5 1226.4 206.9 1226.0 207.6C1225.6 208.3 1225.1 209.3 1224.8 210.0C1224.5 210.7 1224.3 211.2 1224.1 211.9C1223.9 212.5 1223.9 211.8 1223.8 213.8C1223.7 215.8 1223.5 219.1 1223.3 223.8C1223.1 228.5 1222.8 236.3 1222.7 241.8C1222.5 247.3 1222.5 251.8 1222.4 256.8C1222.3 261.8 1222.2 267.7 1222.1 271.7C1221.9 275.7 1221.6 279.2 1221.5 280.7" stroke="#808080"/>
<path d="M1204.4 66.5C1204.2 67.9 1203.4 73.3 1203.2 75.0C1203.0 76.7 1203.1 76.3 1203.1 77.0C1203.1 77.6 1203.0 77.5 1203.3 79.0C1203.5 80.5 1204.0 83.6 1204.4 86.0C1204.8 88.3 1205.4 91.5 1205.6 93.0C1205.8 94.5 1205.7 94.3 1205.5 94.8C1205.3 95.4 1205.9 94.9 1204.5 96.4C1203.1 97.9 1199.5 101.4 1196.9 103.9C1194.4 106.5 1190.8 110.0 1189.4 111.5C1187.9 113.0 1188.5 112.5 1188.2 113.1C1187.9 113.6 1187.9 113.2 1187.5 114.9C1187.0 116.5 1185.8 121.3 1185.4 123.0C1185.0 124.7 1185.1 124.3 1185.0 124.9C1184.9 125.6 1184.9 125.2 1184.7 126.9C1184.5 128.6 1183.8 133.3 1183.7 134.9C1183.5 136.6 1183.7 136.2 1183.8 136.8C1184.0 137.4 1183.5 136.9 1184.7 138.4C1185.9 140.0 1189.4 143.9 1190.9 145.9C1192.5 147.9 1193.5 149.3 1194.2 150.3C1194.9 151.3 1195.0 151.4 1195.2 151.9C1195.5 152.5 1195.7 153.0 1195.9 153.7C1196.1 154.4 1196.3 155.4 1196.5 156.1C1196.7 156.8 1196.9 157.2 1197.2 157.7C1197.6 158.2 1197.1 158.0 1198.6 159.0C1200.0 160.0 1203.2 162.2 1205.9 163.9C1208.6 165.5 1213.0 167.8 1214.7 168.9C1216.4 169.9 1215.7 169.6 1216.1 170.1C1216.5 170.6 1216.4 170.2 1216.9 171.8C1217.4 173.4 1218.5 178.2 1218.9 179.9C1219.3 181.6 1219.2 181.2 1219.2 181.9C1219.3 182.5 1219.4 181.4 1219.3 183.8C1219.2 186.3 1218.6 192.5 1218.5 196.8C1218.4 201.2 1218.5 207.3 1218.5 209.8C1218.5 212.3 1218.5 211.1 1218.6 211.8C1218.6 212.5 1218.5 211.3 1218.7 213.8C1219.0 216.3 1219.9 219.6 1220.3 226.8C1220.7 234.0 1220.7 248.3 1220.9 256.8C1221.1 265.2 1221.4 274.2 1221.5 277.7" stroke="#ff0000"/>
<path d="M1238.9 66.5C1239.1 67.9 1239.8 73.3 1240.1 75.0C1240.4 76.7 1240.3 76.3 1240.6 76.9C1240.8 77.5 1240.7 77.4 1241.5 78.6C1242.3 79.9 1244.5 83.1 1245.3 84.3C1246.0 85.5 1245.8 85.4 1245.9 86.0C1245.9 86.6 1246.0 86.6 1245.5 87.8C1245.0 89.0 1243.4 92.0 1242.8 93.2C1242.1 94.3 1242.1 94.3 1241.7 94.8C1241.3 95.3 1241.4 95.2 1240.2 96.1C1239.0 96.9 1235.7 99.0 1234.5 99.8C1233.4 100.7 1233.5 100.7 1233.2 101.2C1232.9 101.7 1232.8 101.8 1232.6 102.9C1232.3 104.1 1231.9 106.8 1231.7 108.0C1231.5 109.1 1231.6 109.3 1231.6 109.9C1231.6 110.6 1231.5 110.2 1231.7 111.9C1232.0 113.6 1232.9 118.3 1233.1 120.0C1233.4 121.6 1233.3 121.3 1233.4 121.9C1233.4 122.6 1233.4 122.8 1233.4 123.9C1233.3 125.1 1233.0 127.8 1233.0 128.9C1233.0 130.1 1233.0 130.2 1233.2 130.8C1233.4 131.4 1233.2 131.3 1234.0 132.6C1234.8 133.8 1236.9 137.0 1237.8 138.2C1238.6 139.4 1238.5 139.3 1239.0 139.8C1239.4 140.4 1239.0 140.0 1240.3 141.3C1241.5 142.6 1245.3 146.2 1246.5 147.5C1247.6 148.7 1247.2 148.4 1247.2 148.9C1247.2 149.4 1247.3 149.3 1246.5 150.3C1245.6 151.3 1243.4 153.4 1241.9 154.9C1240.3 156.4 1238.2 158.4 1237.3 159.5C1236.4 160.5 1236.5 160.5 1236.3 161.0C1236.1 161.6 1236.0 161.7 1236.0 162.9C1236.0 164.0 1236.2 166.7 1236.3 167.9C1236.5 169.0 1236.5 169.2 1236.7 169.8C1236.9 170.4 1236.8 170.4 1237.5 171.6C1238.2 172.8 1240.1 175.9 1240.8 177.1C1241.6 178.4 1241.5 178.3 1241.8 178.9C1242.1 179.5 1242.1 179.6 1242.5 180.8C1242.9 181.9 1243.9 184.8 1244.2 185.9C1244.6 187.1 1244.5 187.2 1244.5 187.8C1244.5 188.5 1244.4 188.8 1244.1 189.7C1243.8 190.6 1243.0 192.6 1242.6 193.5C1242.2 194.4 1242.0 194.6 1241.6 195.1C1241.2 195.6 1241.7 195.3 1240.1 196.2C1238.4 197.1 1233.4 199.6 1231.7 200.4C1230.0 201.3 1230.5 201.1 1230.0 201.4C1229.5 201.8 1229.1 202.2 1228.5 202.7C1228.0 203.2 1227.2 203.9 1226.7 204.5C1226.3 205.0 1225.9 205.4 1225.6 205.9C1225.3 206.5 1225.2 206.9 1224.9 207.6C1224.7 208.3 1224.5 209.3 1224.3 210.0C1224.2 210.7 1224.1 211.2 1224.0 211.9C1223.9 212.5 1223.9 211.3 1223.8 213.8C1223.6 216.3 1223.2 219.6 1223.0 226.8C1222.8 234.0 1222.6 248.3 1222.4 256.8C1222.2 265.2 1221.9 274.2 1221.8 277.7" stroke="#ff0000"/>
<path d="M1217.9 66.5C1217.8 68.4 1217.5 75.7 1217.4 78.0C1217.3 80.2 1217.4 79.3 1217.4 80.0C1217.4 80.6 1217.3 80.3 1217.5 82.0C1217.7 83.6 1218.2 88.3 1218.3 90.0C1218.4 91.6 1218.4 91.3 1218.4 92.0C1218.3 92.6 1218.5 91.9 1218.2 93.9C1217.8 95.9 1217.0 100.6 1216.4 103.9C1215.8 107.3 1215.0 112.0 1214.7 114.0C1214.3 116.0 1214.4 115.3 1214.4 115.9C1214.3 116.6 1214.3 115.8 1214.2 117.9C1214.0 120.1 1213.6 126.8 1213.5 128.9C1213.4 131.1 1213.5 130.2 1213.5 130.9C1213.5 131.6 1213.4 130.9 1213.7 132.9C1213.9 134.9 1214.3 139.2 1214.9 142.9C1215.5 146.6 1216.7 150.9 1217.3 154.9C1218.0 158.9 1218.3 162.4 1218.8 166.9C1219.3 171.4 1220.0 176.9 1220.3 181.9C1220.6 186.8 1220.7 191.8 1220.9 196.8C1221.1 201.8 1221.3 198.8 1221.5 211.8C1221.6 224.8 1221.7 264.2 1221.8 274.7" stroke="#0000ff"/>
<path d="M1227.5 66.5C1227.6 68.4 1228.1 75.7 1228.3 78.0C1228.4 80.2 1228.4 79.3 1228.5 80.0C1228.6 80.6 1228.6 80.7 1228.8 81.9C1229.1 83.1 1229.8 85.8 1230.0 87.0C1230.3 88.2 1230.3 88.3 1230.3 89.0C1230.3 89.6 1230.3 89.4 1230.0 90.9C1229.7 92.4 1229.1 95.6 1228.4 98.0C1227.7 100.3 1226.5 103.5 1226.0 105.0C1225.6 106.5 1225.7 106.3 1225.6 107.0C1225.4 107.6 1225.4 107.3 1225.4 108.9C1225.4 110.6 1225.4 115.3 1225.4 116.9C1225.4 118.6 1225.4 118.3 1225.5 118.9C1225.6 119.6 1225.4 118.9 1225.9 120.9C1226.4 122.9 1227.8 128.1 1228.4 130.9C1229.0 133.8 1229.3 136.4 1229.6 137.9C1229.8 139.4 1229.8 139.2 1229.8 139.9C1229.9 140.6 1229.9 140.7 1229.9 141.9C1229.9 143.1 1229.9 145.7 1229.9 146.9C1229.9 148.1 1229.8 148.2 1229.7 148.9C1229.6 149.5 1229.6 149.6 1229.3 150.8C1228.9 152.0 1227.9 154.8 1227.5 156.0C1227.1 157.2 1227.1 157.3 1227.0 157.9C1226.8 158.5 1226.9 158.2 1226.6 159.9C1226.4 161.5 1225.8 166.2 1225.6 167.9C1225.5 169.5 1225.5 169.2 1225.5 169.9C1225.5 170.5 1225.5 170.2 1225.6 171.8C1225.8 173.5 1226.5 178.2 1226.6 179.9C1226.8 181.5 1226.8 181.2 1226.8 181.9C1226.8 182.5 1226.9 181.8 1226.6 183.8C1226.4 185.8 1225.9 190.7 1225.4 193.8C1224.9 197.0 1224.2 199.8 1223.9 202.8C1223.5 205.8 1223.5 205.3 1223.3 211.8C1223.1 218.3 1222.8 231.3 1222.7 241.8C1222.5 252.3 1222.4 269.2 1222.4 274.7" stroke="#0000ff"/>
<path d="M1222.4 66.5C1222.4 80.7 1222.3 127.7 1222.2 151.9C1222.2 176.1 1222.3 191.8 1222.2 211.8C1222.2 231.8 1222.1 261.8 1222.1 271.7" stroke="#ff00ff" stroke-width="4"/>
<path d="M1222.2 489.4C1222.5 491.4 1223.5 497.6 1224.0 501.5C1224.6 505.5 1225.2 510.8 1225.4 513.0C1225.7 515.3 1225.5 514.4 1225.6 515.0C1225.6 515.7 1225.6 515.1 1225.5 517.0C1225.4 518.9 1225.1 524.6 1225.0 526.5C1224.9 528.4 1224.9 527.8 1224.9 528.5C1225.0 529.1 1224.9 529.0 1225.1 530.5C1225.3 531.9 1225.7 535.9 1225.9 537.3C1226.2 538.7 1226.2 538.5 1226.6 539.0C1226.9 539.5 1226.6 539.4 1228.0 540.2C1229.4 540.9 1233.7 543.0 1235.2 543.8C1236.7 544.5 1236.4 544.3 1237.0 544.6C1237.6 544.8 1234.9 544.0 1238.9 545.2C1242.9 546.3 1254.2 549.3 1261.2 551.4C1268.2 553.4 1277.3 556.4 1280.9 557.5C1284.4 558.7 1282.1 558.0 1282.7 558.3C1283.3 558.5 1283.1 558.4 1284.4 559.3C1285.7 560.2 1289.4 562.8 1290.6 563.7C1291.7 564.6 1291.4 564.4 1291.3 564.8C1291.3 565.2 1291.6 565.1 1290.5 565.8C1289.3 566.6 1285.8 568.5 1284.5 569.2C1283.2 569.9 1283.3 569.9 1282.7 570.1C1282.1 570.3 1284.0 570.0 1280.8 570.6C1277.5 571.2 1266.4 573.3 1263.2 573.9C1259.9 574.5 1261.9 574.2 1261.2 574.4C1260.6 574.5 1260.8 574.4 1259.3 575.0C1257.9 575.5 1253.8 577.0 1252.3 577.6C1250.9 578.2 1251.1 578.2 1250.7 578.6C1250.2 579.0 1250.2 578.8 1249.4 580.1C1248.7 581.3 1246.8 584.7 1246.0 586.0C1245.3 587.3 1245.4 587.2 1245.1 587.8C1244.8 588.4 1245.2 587.4 1244.3 589.6C1243.4 591.8 1241.4 597.3 1239.7 601.2C1237.9 605.1 1234.9 610.6 1233.8 612.9C1232.7 615.1 1233.2 614.1 1233.0 614.7C1232.7 615.3 1232.8 615.1 1232.2 616.6C1231.7 618.0 1230.1 622.1 1229.6 623.6C1229.1 625.1 1229.3 624.8 1229.3 625.4C1229.4 626.0 1229.4 626.0 1230.0 627.1C1230.6 628.2 1232.4 630.8 1233.2 631.9C1233.9 632.9 1234.0 632.9 1234.4 633.4C1234.9 633.8 1233.8 633.2 1236.0 634.6C1238.2 635.9 1243.8 639.3 1247.7 641.6C1251.7 644.0 1257.3 647.3 1259.5 648.7C1261.7 650.0 1260.6 649.4 1261.1 649.8C1261.6 650.3 1261.6 650.2 1262.5 651.2C1263.4 652.3 1265.9 655.2 1266.7 656.2C1267.5 657.3 1267.3 657.2 1267.2 657.7C1267.2 658.2 1267.9 657.7 1266.4 659.1C1265.0 660.4 1260.5 664.1 1258.5 665.9C1256.5 667.7 1255.4 668.9 1254.5 669.8C1253.7 670.8 1253.7 670.8 1253.4 671.4C1253.2 672.0 1253.2 671.0 1252.9 673.2C1252.7 675.5 1252.0 682.8 1251.8 684.7" stroke="#808080"/>
<path d="M1222.2 489.4C1221.9 492.3 1221.0 499.9 1220.8 506.9C1220.6 514.0 1220.8 527.4 1220.8 531.9C1220.8 536.4 1220.8 533.2 1220.7 533.9C1220.7 534.5 1220.8 534.1 1220.6 535.9C1220.3 537.7 1219.9 541.4 1219.5 544.6C1219.1 547.9 1218.6 551.8 1218.1 555.4C1217.7 559.0 1217.2 562.9 1216.8 566.2C1216.4 569.5 1215.9 573.2 1215.7 575.0C1215.4 576.8 1215.4 576.3 1215.2 576.9C1215.0 577.5 1215.0 577.6 1214.3 578.6C1213.6 579.7 1211.9 582.3 1211.1 583.4C1210.4 584.4 1210.3 584.4 1209.9 584.9C1209.4 585.3 1210.0 585.0 1208.2 585.9C1206.5 586.9 1202.3 588.9 1199.3 590.4C1196.3 591.9 1192.0 594.0 1190.3 594.9C1188.6 595.9 1189.3 595.6 1189.1 596.1C1188.9 596.5 1189.0 596.9 1189.2 597.7C1189.4 598.5 1190.2 599.9 1190.4 600.7C1190.7 601.5 1190.8 601.9 1190.7 602.5C1190.6 603.1 1190.5 603.2 1189.9 604.1C1189.3 605.0 1187.8 606.9 1187.0 607.7C1186.3 608.6 1186.2 608.7 1185.7 609.1C1185.2 609.5 1185.5 609.4 1184.0 610.2C1182.5 611.0 1178.3 613.0 1176.8 613.8C1175.3 614.5 1175.7 614.4 1175.3 614.7C1174.8 614.9 1174.6 615.2 1174.2 615.5C1173.9 615.8 1173.3 616.2 1173.1 616.6C1172.9 616.9 1172.8 617.1 1172.9 617.4C1173.1 617.8 1172.7 617.6 1174.0 618.5C1175.2 619.4 1178.3 621.3 1180.4 622.8C1182.5 624.2 1185.5 626.1 1186.8 627.0C1188.1 628.0 1187.8 627.8 1188.2 628.3C1188.6 628.8 1188.7 629.0 1189.1 630.0C1189.5 631.0 1190.2 633.3 1190.5 634.3C1190.8 635.4 1190.9 635.6 1190.9 636.2C1191.0 636.7 1190.9 637.2 1190.8 637.8C1190.7 638.5 1190.3 639.4 1190.2 640.0C1190.2 640.6 1190.1 641.0 1190.3 641.5C1190.5 642.0 1190.6 642.2 1191.4 642.9C1192.2 643.6 1194.1 645.1 1195.0 645.8C1195.9 646.4 1196.1 646.6 1196.6 646.9C1197.2 647.3 1196.9 647.1 1198.4 647.9C1199.8 648.7 1204.1 650.7 1205.6 651.5C1207.0 652.3 1206.7 652.2 1207.2 652.6C1207.7 653.0 1207.7 653.0 1208.4 654.1C1209.2 655.1 1211.0 657.7 1211.6 658.8C1212.3 659.9 1212.3 659.9 1212.4 660.6C1212.6 661.2 1212.7 661.5 1212.7 662.5C1212.8 663.5 1212.8 665.6 1212.7 666.6C1212.7 667.6 1212.6 667.9 1212.4 668.5C1212.3 669.1 1212.3 669.1 1211.6 670.2C1211.0 671.3 1209.2 673.9 1208.4 675.0C1207.7 676.0 1207.7 676.1 1207.3 676.6C1206.9 677.1 1207.2 676.8 1206.1 678.2C1204.9 679.5 1201.5 683.6 1200.6 684.7" stroke="#808080"/>
<path d="M1222.2 501.5C1222.2 506.6 1222.6 526.5 1222.7 531.9C1222.8 537.3 1222.7 533.2 1222.8 533.9C1222.9 534.5 1222.8 534.4 1223.1 535.8C1223.4 537.3 1224.1 541.2 1224.5 542.7C1224.8 544.1 1224.8 544.0 1225.0 544.6C1225.3 545.2 1225.3 545.2 1226.0 546.3C1226.6 547.4 1228.4 550.0 1229.1 551.1C1229.8 552.1 1229.8 552.2 1230.1 552.8C1230.4 553.4 1230.5 553.6 1230.9 554.6C1231.2 555.6 1232.0 557.9 1232.3 558.9C1232.6 559.9 1232.6 560.2 1232.7 560.8C1232.7 561.5 1232.7 561.8 1232.6 562.8C1232.5 563.8 1232.1 565.9 1231.9 566.9C1231.7 567.9 1231.6 568.2 1231.4 568.8C1231.1 569.4 1230.8 569.8 1230.4 570.5C1229.9 571.1 1229.2 572.0 1228.7 572.7C1228.3 573.3 1228.0 573.8 1227.8 574.4C1227.5 575.0 1227.4 575.2 1227.2 576.2C1227.0 577.3 1226.7 579.4 1226.5 580.4C1226.4 581.4 1226.3 581.7 1226.3 582.4C1226.2 583.0 1226.2 582.6 1226.1 584.4C1226.0 586.1 1226.0 589.4 1225.7 593.1C1225.3 596.8 1224.4 602.4 1224.0 606.6C1223.7 610.8 1223.7 615.8 1223.6 618.1C1223.5 620.3 1223.6 619.4 1223.6 620.1C1223.6 620.7 1223.6 620.6 1223.7 622.1C1223.9 623.5 1224.4 627.4 1224.6 628.9C1224.8 630.3 1224.8 630.2 1225.0 630.8C1225.1 631.5 1225.0 631.2 1225.6 632.7C1226.1 634.2 1227.6 638.3 1228.2 639.7C1228.7 641.2 1228.6 641.0 1228.8 641.6C1229.0 642.3 1229.0 642.1 1229.4 643.6C1229.8 645.0 1230.7 649.0 1231.1 650.5C1231.4 651.9 1231.4 651.7 1231.5 652.4C1231.5 653.1 1231.6 652.9 1231.6 654.4C1231.6 655.9 1231.6 659.7 1231.6 661.2C1231.6 662.6 1231.5 662.5 1231.4 663.1C1231.3 663.8 1231.3 664.0 1231.0 665.1C1230.6 666.1 1229.8 668.3 1229.5 669.3C1229.2 670.4 1229.1 670.6 1229.0 671.3C1228.9 671.9 1228.9 671.0 1228.7 673.2C1228.4 675.5 1227.7 682.8 1227.5 684.7" stroke="#ff0000"/>
<path d="M1222.2 544.6C1221.9 547.3 1221.1 553.6 1220.8 560.8C1220.5 568.0 1220.5 579.1 1220.3 587.7C1220.1 596.4 1219.6 608.2 1219.5 612.7C1219.4 617.2 1219.5 614.0 1219.5 614.7C1219.5 615.3 1219.4 614.0 1219.6 616.7C1219.8 619.4 1220.5 624.9 1220.8 630.8C1221.1 636.8 1221.3 643.4 1221.3 652.4C1221.3 661.4 1220.9 679.3 1220.8 684.7" stroke="#ff0000"/>
<path d="M1222.2 489.4C1222.4 492.3 1223.0 500.8 1223.5 506.9C1224.1 513.1 1225.1 522.9 1225.5 526.5C1225.8 530.1 1225.6 527.8 1225.6 528.5C1225.6 529.2 1225.6 529.0 1225.5 530.5C1225.4 531.9 1225.1 535.8 1225.0 537.3C1224.9 538.7 1225.0 538.6 1225.2 539.2C1225.4 539.8 1225.6 540.2 1226.0 540.9C1226.5 541.5 1227.2 542.4 1227.7 543.0C1228.2 543.7 1228.5 544.1 1229.0 544.5C1229.5 544.9 1228.4 544.3 1230.6 545.7C1232.8 547.0 1239.1 550.6 1242.4 552.7C1245.6 554.8 1248.6 557.2 1250.2 558.3C1251.7 559.4 1251.1 559.1 1251.5 559.6C1251.8 560.0 1252.0 560.5 1252.2 561.1C1252.4 561.7 1252.7 562.6 1252.7 563.2C1252.8 563.8 1252.8 564.3 1252.6 564.8C1252.4 565.2 1252.3 565.4 1251.6 566.1C1250.8 566.8 1248.8 568.3 1248.0 569.0C1247.1 569.7 1246.9 569.8 1246.4 570.2C1245.8 570.5 1245.9 570.5 1244.7 571.2C1243.4 572.0 1240.0 573.9 1238.7 574.6C1237.5 575.4 1237.6 575.4 1237.1 575.8C1236.7 576.3 1236.5 576.5 1235.9 577.3C1235.4 578.1 1234.4 579.8 1234.0 580.6C1233.5 581.5 1233.3 581.8 1233.1 582.4C1232.9 583.0 1232.9 582.6 1232.7 584.3C1232.4 586.1 1232.2 589.4 1231.6 593.1C1231.0 596.8 1229.7 602.4 1228.9 606.6C1228.1 610.8 1227.0 615.9 1226.6 618.1C1226.2 620.3 1226.4 619.4 1226.4 620.1C1226.4 620.7 1226.3 620.5 1226.7 622.0C1227.0 623.5 1228.0 627.4 1228.4 628.9C1228.8 630.4 1228.8 630.2 1229.0 630.8C1229.2 631.4 1228.9 630.8 1229.8 632.6C1230.7 634.4 1232.8 638.6 1234.3 641.6C1235.8 644.6 1237.9 648.8 1238.8 650.6C1239.6 652.4 1239.3 651.8 1239.5 652.3C1239.8 652.9 1239.9 653.4 1240.1 654.0C1240.2 654.6 1240.5 655.5 1240.6 656.2C1240.7 656.8 1240.8 657.3 1240.7 657.8C1240.6 658.4 1240.6 658.5 1240.1 659.6C1239.6 660.6 1238.4 663.0 1237.9 664.1C1237.4 665.1 1237.3 665.3 1237.2 665.9C1237.0 666.5 1237.1 664.7 1236.8 667.9C1236.6 671.0 1235.8 681.9 1235.6 684.7" stroke="#0000ff"/>
<path d="M1222.2 533.9C1221.9 535.7 1221.3 541.1 1220.8 544.6C1220.4 548.2 1219.9 551.4 1219.5 555.4C1219.0 559.5 1218.5 564.7 1218.1 568.9C1217.7 573.0 1217.2 578.1 1217.0 580.4C1216.7 582.6 1216.7 581.7 1216.5 582.2C1216.3 582.8 1216.6 582.5 1215.5 583.9C1214.4 585.3 1211.6 588.7 1210.0 590.4C1208.5 592.2 1206.9 593.5 1206.1 594.4C1205.2 595.3 1205.3 595.4 1205.1 596.0C1204.9 596.5 1204.9 596.8 1205.0 597.8C1205.1 598.8 1205.5 600.9 1205.7 601.9C1205.8 602.9 1205.8 603.2 1205.7 603.9C1205.6 604.5 1205.6 604.6 1205.1 605.7C1204.6 606.8 1203.4 609.2 1202.8 610.2C1202.3 611.2 1202.2 611.4 1201.8 611.9C1201.4 612.4 1201.2 612.7 1200.5 613.4C1199.9 614.1 1198.5 615.3 1198.0 616.0C1197.4 616.6 1197.2 616.9 1197.2 617.4C1197.1 617.9 1197.1 618.0 1197.7 619.0C1198.3 620.1 1200.1 622.7 1200.8 623.8C1201.5 624.9 1201.6 624.9 1201.9 625.5C1202.2 626.1 1202.3 626.2 1202.8 627.2C1203.4 628.3 1204.6 630.7 1205.1 631.7C1205.6 632.8 1205.6 633.0 1205.8 633.6C1205.9 634.2 1206.0 634.5 1206.0 635.5C1206.0 636.5 1206.0 638.6 1206.0 639.6C1206.0 640.6 1206.1 640.9 1206.2 641.6C1206.4 642.2 1206.0 641.6 1206.9 643.4C1207.7 645.2 1209.9 649.4 1211.4 652.4C1212.9 655.4 1215.0 659.6 1215.9 661.4C1216.7 663.2 1216.4 662.6 1216.5 663.2C1216.7 663.8 1216.7 664.2 1216.8 665.2C1216.8 666.2 1216.8 668.2 1216.8 669.2C1216.8 670.3 1216.7 670.6 1216.7 671.2C1216.6 671.9 1216.8 671.0 1216.4 673.2C1215.9 675.5 1214.5 682.8 1214.1 684.7" stroke="#0000ff"/>
<path d="M1222.2 544.6C1222.2 556.3 1222.2 591.3 1222.2 614.7C1222.2 638.0 1222.2 673.0 1222.2 684.7" stroke="#ff00ff" stroke-width="2.4"/>
</g>
<line x1="789.0" y1="470.5" x2="1135.3" y2="470.5" stroke="#111" stroke-width="1.6" stroke-dasharray="5.3 10.6" stroke-dashoffset="-0.4"/>
<rect x="789.0" y="67.8" width="520.1" height="614.4000000000001" fill="none" stroke="#222" stroke-width="2.1"/>
<line x1="1135.3" y1="67.8" x2="1135.3" y2="682.2" stroke="#222" stroke-width="2.1"/>
<path d="M789.0 682.20h9M1135.3 682.20h-9M789.0 594.43h9M1135.3 594.43h-9M789.0 506.66h9M1135.3 506.66h-9M789.0 418.89h9M1135.3 418.89h-9M789.0 331.11h9M1135.3 331.11h-9M789.0 243.34h9M1135.3 243.34h-9M789.0 155.57h9M1135.3 155.57h-9M789.0 67.80h9M1135.3 67.80h-9M840.70 682.2v-9M840.70 67.8v9M899.50 682.2v-9M899.50 67.8v9M958.30 682.2v-9M958.30 67.8v9M1017.50 682.2v-9M1017.50 67.8v9M1076.50 682.2v-9M1076.50 67.8v9M1175.62 682.2v-9M1175.62 67.8v9M1222.20 682.2v-9M1222.20 67.8v9M1268.78 682.2v-9M1268.78 67.8v9" stroke="#222" stroke-width="1.4" fill="none"/>
<text x="773.3" y="691.0" font-size="26" text-anchor="end">−1</text>
<text x="773.3" y="603.2" font-size="26" text-anchor="end">−0.5</text>
<text x="773.3" y="515.5" font-size="26" text-anchor="end">0</text>
<text x="773.3" y="427.7" font-size="26" text-anchor="end">0.5</text>
<text x="773.3" y="339.9" font-size="26" text-anchor="end">1</text>
<text x="773.3" y="252.1" font-size="26" text-anchor="end">1.5</text>
<text x="773.3" y="164.4" font-size="26" text-anchor="end">2</text>
<text x="773.3" y="76.6" font-size="26" text-anchor="end">2.5</text>
<text x="789.0" y="717" font-size="26" text-anchor="middle">L</text>
<text x="840.7" y="717" font-size="26" text-anchor="middle">M</text>
<text x="899.5" y="717" font-size="26" text-anchor="middle">A</text>
<text x="958.3" y="717" font-size="28" text-anchor="middle" style="font-family:'Liberation Serif',serif">Γ</text>
<text x="1017.5" y="717" font-size="26" text-anchor="middle">Y</text>
<text x="1076.5" y="717" font-size="26" text-anchor="middle">V</text>
<text x="1135.3" y="717" font-size="28" text-anchor="middle" style="font-family:'Liberation Serif',serif">Γ</text>
<text x="1175.6" y="717" font-size="26" text-anchor="middle">−15</text>
<text x="1222.2" y="717" font-size="26" text-anchor="middle">0</text>
<text x="1268.8" y="717" font-size="26" text-anchor="middle">15</text>
<text x="962.1" y="757" font-size="26" text-anchor="middle">K−Points</text>
<text x="1222.2" y="757" font-size="26" text-anchor="middle">PDOS</text>
<text transform="translate(691.5,373.5) rotate(-90)" font-size="26" text-anchor="middle"><tspan font-style="italic">E</tspan> (eV)</text>
<text transform="translate(679.0,36.6) scale(1.05,1)" font-size="43" font-weight="bold">b</text>
<text transform="translate(933.3,43.7) scale(0.93,1)" font-size="35" font-style="italic">ε</text>
<text x="949.3" y="55.2" font-size="20.3" font-style="italic">y</text>
<text x="968.6" y="42.2" font-size="35.5">= 4% (FM)</text>
<text transform="translate(1220.5,320.1) scale(1.02,1)" font-size="24" text-anchor="end">Total</text>
<line x1="1236.3" y1="311.9" x2="1254.3" y2="311.9" stroke="#808080" stroke-width="2.8"/>
<text transform="translate(1220.5,342.4) scale(0.966,1)" font-size="24" text-anchor="end">Cr (4s)</text>
<line x1="1236.3" y1="334.2" x2="1254.3" y2="334.2" stroke="#00ff00" stroke-width="2.8"/>
<text transform="translate(1220.5,364.7) scale(0.964,1)" font-size="24" text-anchor="end">Cr (3d)</text>
<line x1="1236.3" y1="356.5" x2="1254.3" y2="356.5" stroke="#ff0000" stroke-width="2.8"/>
<text transform="translate(1220.5,387.0) scale(0.951,1)" font-size="24" text-anchor="end">S (3p)</text>
<line x1="1236.3" y1="378.8" x2="1254.3" y2="378.8" stroke="#0000ff" stroke-width="2.8"/>
<text transform="translate(1220.5,409.3) scale(0.966,1)" font-size="24" text-anchor="end">P (3p)</text>
<line x1="1236.3" y1="401.1" x2="1254.3" y2="401.1" stroke="#ff00ff" stroke-width="2.8"/>
<clipPath id="clipc"><rect x="1452.5" y="67.8" width="346.3" height="614.4000000000001"/></clipPath>
<g clip-path="url(#clipc)" fill="none" stroke-linecap="butt" stroke-linejoin="round"></g><clipPath id="cc1"><rect x="1452.5" y="67.8" width="169.3" height="614.4000000000001"/></clipPath><g clip-path="url(#cc1)" fill="none" stroke-linejoin="round"><path d="M1451.8 76.3C1460.7 76.3 1495.4 76.3 1505.2 76.3C1515.0 76.2 1509.3 76.0 1510.6 75.9C1511.8 75.8 1511.9 75.8 1512.5 75.6C1513.2 75.5 1513.3 75.4 1514.4 75.0C1515.5 74.6 1517.5 73.6 1519.0 73.0C1520.5 72.4 1522.5 71.8 1523.6 71.4C1524.6 71.0 1524.8 71.0 1525.5 70.8C1526.1 70.6 1526.5 70.6 1527.4 70.4C1528.3 70.2 1530.0 69.9 1530.8 69.7C1531.7 69.6 1532.1 69.5 1532.6 69.4C1533.1 69.2 1533.3 69.2 1533.9 69.0C1534.5 68.8 1536.0 68.2 1536.5 68.1M1451.8 98.8C1461.5 98.8 1498.9 98.7 1509.8 98.8C1520.7 98.9 1515.5 99.4 1517.0 99.5C1518.5 99.7 1518.3 99.7 1519.0 99.8C1519.6 99.9 1519.4 99.8 1520.9 100.2C1522.5 100.6 1525.5 101.2 1528.2 102.0C1530.9 102.9 1534.3 104.1 1537.4 105.2C1540.5 106.4 1543.8 107.8 1546.6 108.9C1549.4 110.1 1552.4 111.6 1554.0 112.2C1555.5 112.9 1555.2 112.7 1555.8 112.9C1556.5 113.1 1556.9 113.2 1557.8 113.4C1558.7 113.6 1560.3 113.9 1561.2 114.1C1562.1 114.2 1562.5 114.3 1563.0 114.3C1563.6 114.3 1564.0 114.2 1564.5 114.2C1565.1 114.1 1565.8 113.9 1566.4 113.8C1566.9 113.7 1567.3 113.6 1567.8 113.4C1568.2 113.2 1568.4 113.1 1569.1 112.7C1569.9 112.3 1571.0 111.7 1572.4 110.8C1573.7 109.9 1576.1 108.1 1577.2 107.3C1578.3 106.6 1578.3 106.6 1578.9 106.3C1579.4 106.0 1579.8 105.8 1580.7 105.5C1581.6 105.1 1583.4 104.4 1584.3 104.1C1585.2 103.8 1585.5 103.7 1586.2 103.5C1586.8 103.4 1586.3 103.4 1588.1 103.2C1590.0 103.1 1594.2 102.8 1597.2 102.5C1600.2 102.2 1600.9 101.7 1606.4 101.6C1611.9 101.4 1626.1 101.6 1630.0 101.6M1573.3 68.3C1574.2 69.5 1576.9 73.4 1578.8 75.8C1580.7 78.2 1583.6 81.2 1584.8 82.6C1586.1 84.0 1585.7 83.6 1586.2 84.0C1586.7 84.5 1586.4 84.3 1587.7 85.4C1588.9 86.5 1591.4 88.8 1593.5 90.5C1595.6 92.2 1598.8 94.7 1600.2 95.7C1601.6 96.8 1601.3 96.5 1601.8 96.9C1602.4 97.3 1602.8 97.5 1603.5 98.0C1604.3 98.4 1605.7 99.2 1606.5 99.6C1607.3 100.1 1607.7 100.3 1608.3 100.5C1608.9 100.8 1609.3 100.9 1610.2 101.1C1611.1 101.4 1612.7 101.8 1613.7 102.0C1614.6 102.2 1615.0 102.3 1615.6 102.4C1616.3 102.5 1615.2 102.4 1617.6 102.6C1620.0 102.8 1628.0 103.3 1630.0 103.4M1565.0 114.4C1565.8 115.2 1568.1 117.4 1569.6 119.0C1571.1 120.7 1572.9 123.0 1574.2 124.6C1575.5 126.1 1576.8 127.7 1577.5 128.5C1578.3 129.4 1578.3 129.5 1578.6 129.9C1578.9 130.3 1579.0 130.4 1579.3 130.9C1579.7 131.4 1580.4 132.5 1580.6 132.8M1588.0 132.8C1588.9 131.8 1591.9 128.2 1593.5 126.4C1595.1 124.6 1596.7 123.2 1597.6 122.3C1598.5 121.4 1598.6 121.4 1599.1 120.9C1599.6 120.5 1599.7 120.4 1600.6 119.7C1601.6 118.9 1603.8 117.3 1604.8 116.6C1605.8 115.9 1605.9 115.8 1606.5 115.5C1607.0 115.2 1607.1 115.1 1608.3 114.7C1609.5 114.2 1612.5 113.2 1613.7 112.8C1614.9 112.4 1615.0 112.4 1615.6 112.3C1616.3 112.2 1616.4 112.2 1617.6 112.1C1618.8 112.1 1621.6 112.1 1622.8 112.1C1624.0 112.2 1624.1 112.2 1624.7 112.2C1625.3 112.3 1625.5 112.3 1626.4 112.6C1627.3 112.8 1629.4 113.4 1630.0 113.5M1451.8 165.5C1461.2 165.5 1498.1 165.5 1507.8 165.5C1517.5 165.5 1509.1 165.5 1509.8 165.6C1510.5 165.6 1510.2 165.6 1511.8 165.8C1513.3 166.0 1516.9 166.6 1519.0 166.9C1521.1 167.1 1523.1 167.1 1524.4 167.2C1525.6 167.3 1525.7 167.2 1526.3 167.2C1527.0 167.2 1527.5 167.1 1528.3 167.0C1529.0 167.0 1530.1 166.8 1530.9 166.7C1531.6 166.5 1532.1 166.4 1532.7 166.2C1533.3 166.0 1533.5 165.9 1534.5 165.3C1535.4 164.8 1537.5 163.5 1538.5 162.9C1539.4 162.3 1539.6 162.1 1540.1 161.7C1540.6 161.3 1540.7 161.2 1541.6 160.4C1542.4 159.6 1544.3 157.6 1545.2 156.8C1546.0 156.0 1546.1 155.9 1546.7 155.4C1547.2 155.0 1547.4 154.9 1548.3 154.3C1549.2 153.7 1551.3 152.4 1552.3 151.8C1553.2 151.3 1553.4 151.2 1554.0 150.9C1554.6 150.6 1555.1 150.5 1555.9 150.3C1556.6 150.0 1557.7 149.8 1558.5 149.6C1559.2 149.4 1559.8 149.3 1560.4 149.2C1561.0 149.1 1561.6 149.1 1562.3 149.1C1563.1 149.1 1564.2 149.1 1564.9 149.1C1565.6 149.1 1566.1 149.1 1566.6 149.0C1567.0 148.9 1567.2 148.8 1567.7 148.5C1568.2 148.2 1568.0 148.2 1569.6 147.1C1571.1 145.9 1574.7 143.4 1577.0 141.6C1579.3 139.7 1581.4 137.7 1583.4 136.0C1585.4 134.4 1587.9 132.6 1589.2 131.7C1590.4 130.8 1590.2 130.9 1590.7 130.5C1591.2 130.1 1591.1 130.1 1592.2 129.2C1593.3 128.2 1596.4 125.3 1597.2 124.5M1566.8 149.1C1567.7 149.8 1570.7 152.3 1571.7 153.2C1572.8 154.0 1572.8 154.0 1573.3 154.4C1573.9 154.8 1574.0 154.9 1575.0 155.5C1575.9 156.1 1578.0 157.4 1578.9 158.0C1579.9 158.6 1580.1 158.7 1580.7 159.0C1581.3 159.3 1581.3 159.3 1582.5 159.8C1583.7 160.3 1586.7 161.5 1588.0 162.0C1589.2 162.5 1589.2 162.4 1589.9 162.6C1590.5 162.8 1590.3 162.8 1591.8 163.1C1593.3 163.4 1595.8 164.1 1599.0 164.6C1602.2 165.0 1607.5 165.6 1611.0 165.9C1614.5 166.2 1617.0 166.2 1620.2 166.4C1623.4 166.6 1628.4 166.8 1630.0 166.9M1576.0 125.0C1576.6 125.7 1578.6 128.1 1579.4 129.0C1580.1 129.9 1580.2 130.0 1580.6 130.6C1580.9 131.1 1580.8 130.9 1581.6 132.3C1582.4 133.6 1583.9 136.3 1585.2 138.8C1586.6 141.3 1588.1 144.2 1589.8 147.1C1591.5 150.0 1593.5 153.4 1595.4 156.3C1597.2 159.2 1599.0 162.0 1600.9 164.6C1602.7 167.2 1604.8 169.9 1606.4 171.9C1608.0 174.0 1609.7 175.8 1610.6 176.8C1611.5 177.9 1611.5 177.8 1612.0 178.2C1612.5 178.6 1612.9 178.9 1613.6 179.3C1614.2 179.7 1615.1 180.3 1615.8 180.6C1616.4 181.0 1616.9 181.2 1617.5 181.4C1618.1 181.6 1618.5 181.7 1619.4 181.8C1620.3 182.0 1621.9 182.2 1622.8 182.2C1623.7 182.3 1624.1 182.4 1624.7 182.4C1625.3 182.4 1625.5 182.4 1626.4 182.4C1627.3 182.3 1629.4 182.1 1630.0 182.0M1451.8 222.7C1461.5 222.7 1499.7 222.7 1509.6 222.7C1519.6 222.6 1511.0 222.6 1511.6 222.5C1512.2 222.4 1512.1 222.4 1513.5 221.9C1514.9 221.4 1517.3 220.4 1519.9 219.4C1522.5 218.5 1527.2 216.7 1529.1 216.0C1530.9 215.3 1530.3 215.6 1531.0 215.4C1531.6 215.3 1531.9 215.2 1532.9 215.1C1534.0 214.9 1536.2 214.7 1537.2 214.6C1538.3 214.5 1538.6 214.5 1539.2 214.5C1539.9 214.5 1539.8 214.5 1541.2 214.7C1542.6 214.9 1545.4 215.3 1547.5 215.8C1549.6 216.2 1552.5 216.9 1553.8 217.2C1555.2 217.5 1555.1 217.4 1555.8 217.5C1556.5 217.6 1556.6 217.6 1557.8 217.7C1559.0 217.8 1561.8 217.9 1563.0 218.0C1564.2 218.0 1564.3 218.0 1565.0 218.0C1565.6 218.0 1565.9 218.0 1566.9 217.9C1568.0 217.9 1569.5 217.8 1571.4 217.6C1573.4 217.4 1576.0 217.1 1578.8 216.7C1581.6 216.2 1584.9 215.6 1588.0 214.8C1591.1 214.1 1594.1 213.0 1597.2 212.1C1600.3 211.2 1603.6 210.2 1606.4 209.3C1609.1 208.4 1612.2 207.3 1613.7 206.8C1615.2 206.2 1615.0 206.4 1615.6 206.2C1616.3 206.1 1616.1 206.1 1617.6 205.9C1619.1 205.7 1622.7 205.3 1624.8 205.2C1626.9 205.1 1629.2 205.2 1630.0 205.2M1569.6 218.1C1570.8 218.1 1575.3 218.1 1576.8 218.1C1578.3 218.0 1578.1 218.0 1578.8 218.0C1579.5 217.9 1579.6 217.9 1580.8 217.8C1582.0 217.6 1584.8 217.2 1586.0 217.0C1587.2 216.8 1587.3 216.8 1588.0 216.6C1588.6 216.5 1588.4 216.6 1589.9 216.1C1591.4 215.7 1594.8 214.7 1597.2 213.9C1599.6 213.1 1603.0 211.9 1604.5 211.4C1606.0 210.8 1605.8 210.9 1606.4 210.8C1607.1 210.6 1607.2 210.6 1608.4 210.3C1609.6 210.1 1612.4 209.5 1613.6 209.3C1614.8 209.0 1614.9 209.0 1615.6 209.0C1616.3 208.9 1616.1 208.9 1617.6 208.9C1619.1 208.8 1622.7 208.8 1624.8 208.9C1626.9 208.9 1629.2 209.2 1630.0 209.3M1452.6 561.6C1461.7 561.6 1497.7 561.6 1507.1 561.6C1516.5 561.6 1508.5 561.6 1509.1 561.5C1509.8 561.4 1509.2 561.6 1511.1 561.2C1513.0 560.9 1518.4 559.8 1520.3 559.4C1522.2 559.0 1521.6 559.1 1522.2 558.9C1522.9 558.7 1522.0 559.1 1524.2 558.3C1526.3 557.6 1531.7 555.6 1535.4 554.4C1539.1 553.2 1544.4 551.8 1546.6 551.2C1548.8 550.6 1547.9 550.9 1548.6 550.8C1549.2 550.7 1548.0 550.7 1550.5 550.6C1553.0 550.4 1561.1 550.1 1563.6 549.9C1566.1 549.7 1564.9 549.7 1565.5 549.4C1566.0 549.2 1565.4 549.9 1567.0 548.3C1568.5 546.7 1571.8 543.3 1574.8 539.9C1577.9 536.6 1581.8 531.8 1585.3 528.1C1588.8 524.4 1593.8 519.7 1595.7 517.7C1597.7 515.7 1596.7 516.8 1597.2 516.3C1597.7 515.9 1597.3 516.2 1598.8 515.1C1600.3 514.1 1604.5 511.2 1606.0 510.2C1607.5 509.2 1607.1 509.5 1607.7 509.2C1608.3 509.0 1608.0 509.0 1609.6 508.7C1611.3 508.3 1615.9 507.5 1617.5 507.2C1619.2 506.9 1618.8 507.0 1619.5 506.9C1620.1 506.9 1620.7 506.9 1621.5 506.9C1622.2 506.9 1623.4 507.0 1624.1 507.0C1624.8 507.0 1625.3 507.1 1625.9 507.2C1626.4 507.2 1626.6 507.3 1627.2 507.5C1627.9 507.7 1629.5 508.2 1630.0 508.4M1452.6 570.4C1461.7 570.4 1497.7 570.4 1507.1 570.4C1516.5 570.4 1508.5 570.4 1509.1 570.5C1509.8 570.6 1508.9 570.4 1511.1 570.9C1513.3 571.3 1518.5 572.4 1522.3 573.4C1526.0 574.4 1531.3 576.2 1533.5 576.8C1535.7 577.4 1534.8 577.2 1535.4 577.3C1536.1 577.5 1535.5 577.4 1537.4 577.7C1539.2 578.0 1544.7 579.0 1546.6 579.3C1548.4 579.6 1547.9 579.5 1548.5 579.5C1549.2 579.6 1548.0 579.6 1550.5 579.7C1553.1 579.8 1561.1 580.2 1563.6 580.3C1566.1 580.4 1564.9 580.3 1565.6 580.2C1566.2 580.0 1565.7 580.3 1567.4 579.5C1569.2 578.7 1573.0 576.7 1576.1 575.4C1579.2 574.1 1584.1 572.3 1586.1 571.5C1588.1 570.8 1587.3 571.1 1588.0 570.9C1588.6 570.7 1588.1 570.8 1589.9 570.4C1591.8 570.0 1597.3 568.9 1599.1 568.6C1601.0 568.2 1600.4 568.3 1601.1 568.2C1601.8 568.2 1601.2 568.2 1603.1 568.0C1604.9 567.9 1610.4 567.5 1612.2 567.4C1614.1 567.3 1613.6 567.3 1614.2 567.3C1614.9 567.3 1613.6 567.2 1616.2 567.3C1618.9 567.4 1627.7 567.7 1630.0 567.8M1565.6 549.8C1567.2 551.4 1571.8 556.2 1574.8 559.6C1577.9 563.0 1580.7 566.6 1584.0 570.1C1587.3 573.7 1591.5 577.8 1594.5 580.7C1597.6 583.5 1600.7 585.9 1602.2 587.2C1603.7 588.5 1603.2 588.1 1603.6 588.4C1604.1 588.8 1604.2 588.9 1604.9 589.3C1605.6 589.8 1607.2 590.9 1607.7 591.2M1565.6 580.4C1567.1 581.2 1572.6 584.1 1574.4 585.0C1576.1 585.9 1575.5 585.6 1576.1 586.0C1576.7 586.3 1576.5 586.2 1577.8 587.0C1579.1 587.9 1583.0 590.5 1584.0 591.2M1452.6 660.9C1461.5 660.9 1496.6 661.0 1505.8 660.9C1515.0 660.9 1507.1 660.9 1507.7 660.7C1508.3 660.5 1508.8 660.2 1509.4 659.8C1510.0 659.5 1510.9 658.8 1511.5 658.4C1512.1 657.9 1512.5 657.6 1513.0 657.1C1513.4 656.7 1512.9 657.4 1514.3 655.7C1515.6 653.9 1518.5 650.2 1520.9 646.8C1523.4 643.3 1526.2 638.9 1528.8 634.9C1531.5 631.0 1534.3 626.8 1536.7 623.1C1539.2 619.4 1542.2 614.9 1543.5 612.9C1544.8 611.0 1544.2 611.8 1544.6 611.3C1545.0 610.8 1544.8 611.0 1545.9 609.8C1547.0 608.5 1550.1 604.9 1551.2 603.6C1552.3 602.3 1552.1 602.6 1552.6 602.2C1553.1 601.8 1553.5 601.6 1554.3 601.2C1555.0 600.8 1556.5 600.1 1557.3 599.7C1558.1 599.3 1558.5 599.2 1559.1 599.0C1559.7 598.8 1559.5 598.8 1561.0 598.7C1562.6 598.5 1564.9 598.4 1568.2 598.1C1571.6 597.8 1577.0 597.4 1581.4 596.8C1585.8 596.3 1591.0 595.3 1594.5 594.9C1598.0 594.4 1601.1 594.1 1602.4 593.9M1589.3 592.9C1590.9 593.4 1597.2 595.5 1599.2 596.2C1601.2 596.8 1600.5 596.6 1601.1 596.7C1601.8 596.9 1601.2 596.8 1603.1 597.1C1604.9 597.4 1610.4 598.2 1612.3 598.5C1614.1 598.8 1613.6 598.7 1614.2 598.7C1614.9 598.8 1613.6 598.8 1616.2 598.8C1618.9 598.8 1627.7 598.8 1630.0 598.8M1452.6 671.1C1461.5 671.1 1496.6 671.0 1505.8 671.1C1515.0 671.1 1507.1 671.1 1507.7 671.2C1508.3 671.3 1508.8 671.4 1509.4 671.7C1510.0 671.9 1510.9 672.3 1511.5 672.4C1512.1 672.6 1512.6 672.7 1513.1 672.7C1513.7 672.7 1513.7 672.8 1515.0 672.4C1516.3 672.0 1518.5 671.1 1520.9 670.4C1523.4 669.7 1527.8 668.7 1529.5 668.3C1531.3 667.9 1530.8 668.0 1531.5 668.0C1532.1 668.0 1532.4 668.1 1533.4 668.3C1534.4 668.5 1536.4 669.0 1537.4 669.3C1538.4 669.5 1538.7 669.6 1539.3 669.8C1539.9 670.0 1539.4 669.8 1541.2 670.5C1542.9 671.3 1547.2 673.3 1549.9 674.3C1552.5 675.4 1555.6 676.4 1557.2 677.0C1558.7 677.5 1558.4 677.4 1559.1 677.5C1559.7 677.7 1560.3 677.7 1561.0 677.8C1561.8 677.9 1562.9 678.0 1563.7 678.1C1564.4 678.2 1564.9 678.3 1565.5 678.4C1566.1 678.6 1566.6 678.8 1567.2 679.1C1567.8 679.4 1568.7 679.8 1569.3 680.1C1569.9 680.4 1570.3 680.7 1570.7 680.9C1571.2 681.2 1571.3 681.3 1571.9 681.7C1572.4 682.1 1573.8 683.2 1574.2 683.5M1452.6 675.4C1461.5 675.4 1496.6 675.4 1505.8 675.4C1515.0 675.4 1507.1 675.4 1507.7 675.5C1508.3 675.6 1508.8 675.7 1509.4 675.9C1510.0 676.0 1510.9 676.3 1511.5 676.5C1512.1 676.7 1512.5 676.9 1513.0 677.3C1513.4 677.6 1513.4 677.6 1514.2 678.6C1515.0 679.7 1517.1 682.7 1517.7 683.5M1565.0 678.5C1566.4 677.4 1571.0 673.7 1573.5 671.7C1576.0 669.7 1578.5 667.5 1579.9 666.4C1581.2 665.4 1580.9 665.6 1581.5 665.3C1582.0 664.9 1581.8 665.0 1583.2 664.3C1584.7 663.7 1588.6 662.0 1590.1 661.4C1591.5 660.7 1591.3 660.9 1591.9 660.7C1592.6 660.5 1591.3 660.7 1593.9 660.3C1596.5 659.9 1601.6 659.0 1607.7 658.6C1613.7 658.2 1626.3 658.0 1630.0 657.9M1593.9 683.5C1595.1 682.3 1599.6 677.3 1601.1 675.8C1602.5 674.3 1602.0 674.9 1602.5 674.4C1603.0 674.0 1602.8 674.1 1604.0 673.2C1605.3 672.3 1608.7 669.8 1610.0 668.9C1611.3 668.1 1611.1 668.2 1611.7 667.9C1612.3 667.6 1612.3 667.6 1613.5 667.2C1614.7 666.9 1617.7 666.0 1618.9 665.7C1620.1 665.4 1620.2 665.4 1620.8 665.2C1621.5 665.1 1621.3 665.1 1622.8 664.9C1624.3 664.6 1628.8 664.0 1630.0 663.8M1594.5 594.9C1595.4 594.5 1598.9 593.1 1600.2 592.6C1601.4 592.1 1601.4 592.1 1602.0 591.9C1602.7 591.8 1602.2 591.8 1604.0 591.6C1605.8 591.4 1609.1 590.9 1612.6 590.7C1616.1 590.5 1622.0 590.5 1625.2 590.5C1628.4 590.5 1630.2 590.8 1631.6 590.9C1633.0 591.0 1632.9 591.0 1633.6 591.1C1634.2 591.2 1634.4 591.2 1635.5 591.5C1636.5 591.7 1639.2 592.4 1639.9 592.6M1586.3 591.5C1587.4 592.1 1591.5 594.1 1592.9 594.8C1594.3 595.5 1594.1 595.4 1594.7 595.6C1595.4 595.9 1595.7 596.0 1596.6 596.3C1597.5 596.5 1599.2 597.0 1600.1 597.2C1601.0 597.5 1601.4 597.6 1602.0 597.7C1602.7 597.9 1602.6 597.9 1604.0 598.0C1605.4 598.2 1609.2 598.7 1610.6 598.9C1612.1 599.0 1611.9 599.0 1612.6 599.0C1613.3 599.1 1613.2 599.1 1614.6 599.1C1616.0 599.1 1619.7 599.1 1621.1 599.1C1622.5 599.1 1622.4 599.1 1623.1 599.0C1623.7 598.9 1624.3 598.7 1625.0 598.6C1625.7 598.4 1626.8 598.1 1627.5 597.8C1628.2 597.6 1628.8 597.5 1629.4 597.2C1630.0 597.0 1630.2 597.0 1631.2 596.5C1632.3 596.1 1634.3 595.4 1635.7 594.7C1637.1 594.0 1639.2 593.0 1639.9 592.6" stroke="#ff7d42" stroke-width="2.5"/><path d="M1523.6 68.3C1524.2 69.7 1526.2 74.4 1527.3 76.7C1528.4 79.1 1529.4 81.1 1530.1 82.3C1530.7 83.5 1530.7 83.5 1531.0 84.0C1531.4 84.6 1531.6 84.9 1532.1 85.7C1532.7 86.5 1533.8 88.1 1534.4 88.9C1535.0 89.7 1535.2 90.0 1535.6 90.5C1536.0 91.0 1536.1 91.0 1537.0 91.9C1537.9 92.9 1539.5 94.4 1541.1 96.0C1542.7 97.6 1544.8 99.7 1546.6 101.6C1548.4 103.4 1550.4 105.5 1552.1 107.1C1553.9 108.7 1556.0 110.4 1557.0 111.3C1558.1 112.2 1558.1 112.1 1558.6 112.5C1559.2 112.9 1559.5 113.1 1560.3 113.6C1561.1 114.1 1562.5 114.8 1563.3 115.3C1564.0 115.7 1564.4 116.0 1565.0 116.3C1565.5 116.7 1565.5 116.7 1566.6 117.4C1567.7 118.2 1569.4 119.4 1571.4 120.9C1573.5 122.4 1576.3 124.4 1578.8 126.4C1581.2 128.4 1584.9 131.8 1586.2 132.8M1548.4 85.9C1549.7 85.9 1553.3 85.9 1555.8 85.9C1558.2 85.9 1561.3 86.0 1563.2 86.1C1565.0 86.2 1566.1 86.2 1567.0 86.3C1567.9 86.4 1568.1 86.4 1568.7 86.6C1569.2 86.8 1569.7 87.0 1570.3 87.3C1571.0 87.7 1571.9 88.2 1572.5 88.6C1573.2 89.0 1573.6 89.3 1574.1 89.7C1574.6 90.1 1574.5 90.0 1575.6 91.0C1576.7 92.1 1579.0 94.4 1580.6 96.0C1582.2 97.6 1584.1 99.5 1585.2 100.6C1586.3 101.7 1586.7 102.1 1587.2 102.6C1587.6 103.1 1587.7 103.2 1588.1 103.6C1588.4 104.0 1588.4 104.0 1589.2 105.0C1589.9 106.1 1591.3 108.1 1592.6 109.8C1593.9 111.6 1595.9 113.8 1597.2 115.4C1598.5 116.9 1599.7 118.4 1600.5 119.3C1601.3 120.2 1601.4 120.3 1601.9 120.8C1602.4 121.2 1602.6 121.5 1603.4 122.0C1604.2 122.6 1605.8 123.8 1606.6 124.3C1607.4 124.9 1607.7 125.1 1608.3 125.4C1608.9 125.7 1609.2 125.8 1610.1 126.2C1611.0 126.5 1612.8 127.2 1613.7 127.5C1614.6 127.9 1615.0 128.0 1615.6 128.1C1616.3 128.2 1615.2 128.2 1617.6 128.4C1620.0 128.5 1628.0 129.0 1630.0 129.2M1535.6 68.3C1536.4 69.3 1539.6 73.0 1540.7 74.3C1541.8 75.5 1541.6 75.3 1542.1 75.7C1542.5 76.2 1542.9 76.5 1543.5 77.1C1544.2 77.6 1545.3 78.6 1546.0 79.1C1546.6 79.6 1547.0 79.8 1547.5 79.9C1548.1 80.0 1548.3 80.0 1549.2 79.7C1550.1 79.4 1551.5 78.7 1553.0 78.1C1554.6 77.5 1557.3 76.8 1558.5 76.4C1559.7 76.0 1559.7 76.0 1560.2 75.9C1560.7 75.8 1561.0 75.8 1561.5 75.8C1562.0 75.8 1562.5 75.8 1563.0 75.8C1563.4 75.8 1563.7 75.9 1564.1 76.0C1564.6 76.1 1564.9 76.3 1565.5 76.6C1566.0 76.9 1566.8 77.4 1567.3 77.7C1567.8 78.1 1568.2 78.3 1568.5 78.6C1568.9 79.0 1569.0 79.1 1569.5 79.7C1570.0 80.3 1570.2 80.6 1571.4 82.2C1572.7 83.9 1575.4 87.6 1577.0 89.6C1578.5 91.6 1580.0 93.4 1580.6 94.2M1630.0 71.2C1627.6 71.1 1620.0 70.9 1615.6 70.7C1611.2 70.6 1606.1 70.4 1603.8 70.3C1601.5 70.3 1602.5 70.3 1601.8 70.4C1601.1 70.4 1601.8 70.3 1599.8 70.5C1597.8 70.8 1591.9 71.6 1590.0 71.9C1588.0 72.1 1588.7 72.1 1588.0 72.2C1587.4 72.4 1587.7 72.3 1586.1 72.9C1584.6 73.5 1581.1 74.8 1578.8 75.8C1576.5 76.7 1574.0 77.8 1572.4 78.6C1570.7 79.3 1569.3 80.1 1568.7 80.4M1630.0 81.3C1627.6 81.2 1619.2 81.1 1615.6 80.9C1612.0 80.7 1609.9 80.3 1608.4 80.1C1606.9 80.0 1607.1 80.1 1606.4 80.1C1605.8 80.2 1605.7 80.2 1604.5 80.4C1603.2 80.7 1600.3 81.4 1599.1 81.8C1597.9 82.1 1597.9 82.1 1597.3 82.4C1596.7 82.7 1596.6 82.7 1595.6 83.4C1594.6 84.1 1592.4 85.8 1591.4 86.6C1590.5 87.3 1590.4 87.4 1589.9 87.8C1589.4 88.3 1589.5 88.2 1588.5 89.3C1587.6 90.3 1585.6 92.6 1584.3 94.2C1583.0 95.8 1581.7 97.5 1580.6 98.8C1579.6 100.1 1578.7 101.3 1578.1 102.0C1577.4 102.8 1577.3 102.9 1576.9 103.4C1576.5 103.9 1576.3 104.0 1575.6 104.8C1574.8 105.5 1573.4 106.8 1572.4 108.0C1571.3 109.2 1569.8 111.1 1569.0 112.0C1568.2 112.9 1568.1 113.0 1567.6 113.4C1567.1 113.8 1567.2 113.8 1566.0 114.4C1564.8 115.1 1562.9 115.8 1560.4 117.2C1557.9 118.6 1554.3 120.9 1551.2 122.7C1548.1 124.6 1544.6 126.6 1542.0 128.2C1539.4 129.9 1536.6 132.1 1535.6 132.8M1451.8 129.6C1460.4 129.6 1494.3 129.6 1503.2 129.6C1512.1 129.6 1504.5 129.6 1505.2 129.5C1505.8 129.4 1506.2 129.3 1507.1 129.0C1508.0 128.8 1509.8 128.2 1510.6 127.9C1511.5 127.6 1511.9 127.5 1512.5 127.1C1513.0 126.8 1513.2 126.7 1514.1 126.0C1514.9 125.3 1516.7 123.8 1517.5 123.1C1518.3 122.4 1518.5 122.2 1518.9 121.7C1519.4 121.3 1519.2 121.5 1520.3 120.3C1521.4 119.1 1523.4 116.9 1525.4 114.4C1527.5 111.9 1530.7 107.8 1532.8 105.2C1534.9 102.6 1536.3 100.9 1538.3 98.8C1540.3 96.7 1542.9 94.2 1544.8 92.4C1546.6 90.5 1548.3 88.8 1549.4 87.8C1550.4 86.7 1550.9 86.2 1551.2 85.9M1451.8 129.1C1460.4 129.1 1494.3 129.2 1503.2 129.1C1512.1 129.1 1504.5 129.1 1505.2 129.0C1505.8 128.9 1506.2 128.8 1507.1 128.5C1508.0 128.3 1509.7 127.7 1510.6 127.4C1511.6 127.1 1511.9 127.0 1512.5 126.8C1513.2 126.6 1513.3 126.5 1514.4 126.1C1515.5 125.6 1518.2 124.4 1519.0 124.1M1451.8 132.4C1460.4 132.4 1494.3 132.3 1503.2 132.4C1512.1 132.4 1504.5 132.4 1505.2 132.4C1505.9 132.5 1505.6 132.4 1507.2 132.7C1508.7 132.9 1511.7 133.5 1514.4 133.7C1517.1 134.0 1520.9 134.2 1523.6 134.2C1526.3 134.2 1529.3 133.9 1530.8 133.8C1532.3 133.7 1532.1 133.7 1532.8 133.6C1533.4 133.5 1533.8 133.4 1534.7 133.1C1535.6 132.9 1537.3 132.3 1538.2 132.0C1539.1 131.7 1539.5 131.6 1540.1 131.3C1540.7 131.1 1541.1 130.9 1541.9 130.4C1542.7 130.0 1544.1 129.2 1544.9 128.8C1545.6 128.3 1546.0 128.1 1546.5 127.7C1547.0 127.4 1547.2 127.3 1548.0 126.7C1548.8 126.0 1550.7 124.5 1551.2 124.1M1451.8 166.9C1462.3 166.9 1503.1 166.8 1514.4 166.9C1525.7 166.9 1518.5 167.1 1519.8 167.2C1521.0 167.2 1521.1 167.2 1521.7 167.1C1522.3 167.1 1522.8 167.0 1523.4 166.8C1524.1 166.6 1525.0 166.3 1525.6 166.0C1526.3 165.8 1526.7 165.6 1527.3 165.4C1527.8 165.1 1528.0 165.0 1529.0 164.4C1529.9 163.8 1532.0 162.5 1532.9 161.9C1533.9 161.4 1534.1 161.3 1534.7 161.0C1535.3 160.7 1535.6 160.5 1536.5 160.2C1537.4 159.8 1539.2 159.1 1540.1 158.8C1541.0 158.5 1541.4 158.4 1542.0 158.3C1542.7 158.1 1542.5 158.1 1544.0 158.0C1545.5 157.9 1548.5 157.7 1551.2 157.7C1553.9 157.6 1558.1 157.9 1560.4 157.9C1562.7 158.0 1563.9 158.0 1564.9 158.1C1565.9 158.1 1566.1 158.1 1566.6 158.2C1567.0 158.3 1567.3 158.5 1567.7 158.7C1568.0 158.9 1568.4 159.2 1568.8 159.4C1569.1 159.7 1569.4 159.8 1569.7 160.2C1570.1 160.5 1570.5 160.8 1571.0 161.3C1571.5 161.8 1572.3 162.7 1572.8 163.2C1573.4 163.7 1573.8 164.1 1574.3 164.5C1574.8 164.9 1574.8 164.9 1575.8 165.7C1576.9 166.5 1578.6 167.8 1580.6 169.2C1582.7 170.5 1585.5 172.2 1588.0 173.8C1590.4 175.3 1593.1 176.8 1595.4 178.4C1597.7 179.9 1599.9 181.6 1601.8 183.0C1603.7 184.3 1605.5 185.6 1606.6 186.4C1607.7 187.2 1607.7 187.1 1608.3 187.5C1608.8 187.8 1609.1 188.0 1610.0 188.5C1610.9 188.9 1612.9 189.9 1613.8 190.3C1614.7 190.8 1615.0 190.9 1615.6 191.2C1616.2 191.4 1616.8 191.6 1617.5 191.8C1618.3 192.0 1619.4 192.3 1620.1 192.5C1620.9 192.7 1621.4 192.9 1622.1 193.0C1622.7 193.1 1622.7 193.1 1624.0 193.2C1625.4 193.3 1629.0 193.5 1630.0 193.5M1451.8 177.4C1461.9 177.4 1502.0 177.4 1512.4 177.4C1522.8 177.4 1513.7 177.4 1514.4 177.4C1515.0 177.3 1515.6 177.3 1516.3 177.2C1517.1 177.1 1518.2 176.9 1518.9 176.8C1519.6 176.7 1520.2 176.7 1520.8 176.8C1521.4 176.9 1521.8 177.1 1522.5 177.3C1523.1 177.6 1524.1 178.1 1524.7 178.4C1525.3 178.8 1525.8 179.1 1526.3 179.4C1526.8 179.8 1526.7 179.6 1527.8 180.7C1528.9 181.7 1531.0 183.8 1532.8 185.7C1534.6 187.6 1536.9 190.5 1538.3 192.2C1539.7 193.8 1540.6 195.2 1541.1 195.8M1569.6 155.4C1570.8 154.4 1574.8 151.3 1577.0 149.8C1579.1 148.3 1581.4 147.1 1582.6 146.3C1583.9 145.5 1583.8 145.6 1584.4 145.3C1585.0 145.0 1585.3 144.9 1586.2 144.5C1587.1 144.2 1588.9 143.5 1589.8 143.2C1590.7 142.9 1591.1 142.8 1591.7 142.8C1592.3 142.8 1592.6 142.9 1593.5 143.2C1594.5 143.5 1596.3 144.2 1597.2 144.5C1598.1 144.9 1598.4 145.0 1599.0 145.3C1599.6 145.6 1599.9 145.7 1600.8 146.1C1601.8 146.6 1603.7 147.6 1604.6 148.0C1605.5 148.5 1605.8 148.6 1606.4 148.9C1607.0 149.1 1607.4 149.3 1608.3 149.6C1609.2 150.0 1611.0 150.7 1611.9 151.0C1612.8 151.3 1613.1 151.4 1613.8 151.6C1614.4 151.7 1614.9 151.8 1615.7 152.0C1616.4 152.1 1617.5 152.2 1618.3 152.3C1619.0 152.4 1619.6 152.5 1620.2 152.5C1620.9 152.6 1620.6 152.6 1622.2 152.6C1623.8 152.6 1628.7 152.6 1630.0 152.6M1574.2 125.0C1574.7 125.5 1576.7 127.4 1577.4 128.2C1578.2 129.0 1578.3 129.2 1578.7 129.7C1579.2 130.2 1579.2 130.2 1580.0 131.2C1580.7 132.3 1582.1 134.3 1583.4 136.0C1584.7 137.8 1586.5 140.0 1588.0 141.6C1589.4 143.2 1591.2 144.8 1592.1 145.7C1593.0 146.6 1593.1 146.6 1593.6 147.0C1594.1 147.4 1594.3 147.5 1595.2 148.1C1596.1 148.7 1598.2 150.0 1599.2 150.6C1600.1 151.2 1600.3 151.3 1600.9 151.6C1601.5 151.9 1601.8 152.0 1602.7 152.4C1603.7 152.7 1605.4 153.4 1606.4 153.7C1607.3 154.1 1607.6 154.2 1608.3 154.4C1608.9 154.6 1609.0 154.6 1610.2 154.9C1611.4 155.2 1613.9 155.9 1615.6 156.3C1617.3 156.7 1619.4 157.0 1620.2 157.2M1580.6 195.8C1581.9 194.8 1585.5 191.5 1588.0 189.4C1590.4 187.3 1592.9 185.1 1595.4 183.0C1597.8 180.8 1600.3 178.7 1602.7 176.5C1605.2 174.4 1607.9 172.0 1610.1 170.1C1612.3 168.2 1614.7 166.0 1615.9 165.0C1617.2 163.9 1616.9 164.1 1617.5 163.8C1618.0 163.4 1618.5 163.2 1619.1 162.8C1619.7 162.5 1620.6 162.0 1621.3 161.7C1622.0 161.4 1622.4 161.2 1623.0 161.1C1623.6 161.0 1623.8 161.0 1624.9 161.0C1626.1 161.0 1629.2 161.3 1630.0 161.3M1602.7 125.0C1603.6 125.8 1606.6 128.3 1608.2 129.6C1609.8 130.9 1611.3 132.2 1612.2 132.9C1613.2 133.7 1613.3 133.7 1613.9 134.0C1614.4 134.3 1614.9 134.5 1615.7 134.7C1616.4 135.0 1617.5 135.3 1618.3 135.5C1619.0 135.7 1619.6 135.8 1620.2 135.9C1620.9 136.0 1620.6 136.0 1622.2 136.0C1623.8 136.1 1628.7 136.0 1630.0 136.0M1535.6 190.0C1536.6 191.2 1539.9 195.0 1542.0 197.4C1544.1 199.7 1546.8 202.8 1548.0 204.1C1549.3 205.5 1548.9 205.1 1549.4 205.6C1549.9 206.0 1549.8 206.0 1550.9 206.9C1552.0 207.7 1554.9 210.0 1556.1 210.9C1557.2 211.7 1557.1 211.6 1557.7 211.9C1558.3 212.2 1558.4 212.2 1559.6 212.6C1560.8 212.9 1563.8 213.6 1565.0 213.9C1566.2 214.3 1566.4 214.4 1566.9 214.6C1567.4 214.8 1567.5 214.8 1567.9 215.1C1568.2 215.4 1568.0 215.2 1569.1 216.3C1570.1 217.5 1572.1 220.0 1574.2 222.2C1576.3 224.4 1579.0 227.2 1581.6 229.6C1584.1 231.9 1587.7 235.1 1589.3 236.5C1590.8 237.9 1590.3 237.4 1590.8 237.8C1591.4 238.1 1590.9 237.9 1592.5 238.8C1594.0 239.8 1598.5 242.4 1600.1 243.3C1601.6 244.1 1601.2 243.9 1601.9 244.1C1602.5 244.4 1602.1 244.3 1603.8 244.7C1605.4 245.0 1610.1 245.9 1611.8 246.2C1613.5 246.5 1613.1 246.4 1613.8 246.5C1614.4 246.6 1613.9 246.6 1615.8 246.7C1617.6 246.7 1622.4 247.0 1624.8 247.0C1627.2 247.1 1629.2 246.9 1630.0 246.9M1566.8 213.9C1567.9 212.7 1571.0 209.0 1573.3 206.6C1575.6 204.1 1578.2 201.5 1580.6 199.2C1583.1 196.9 1586.2 194.4 1588.0 192.8C1589.8 191.1 1591.1 190.1 1591.7 189.5M1609.2 190.0C1609.9 190.4 1612.8 192.1 1613.9 192.7C1614.9 193.3 1615.0 193.3 1615.7 193.5C1616.3 193.8 1616.7 193.9 1617.6 194.0C1618.4 194.2 1620.1 194.5 1621.0 194.7C1621.9 194.8 1622.3 194.9 1623.0 194.9C1623.6 194.9 1623.8 194.9 1624.9 194.8C1626.1 194.7 1629.2 194.3 1630.0 194.1M1585.3 591.2C1586.9 589.2 1591.7 583.0 1594.5 579.3C1597.4 575.7 1601.0 571.1 1602.5 569.1C1604.0 567.1 1603.3 568.1 1603.8 567.6C1604.3 567.1 1604.0 567.3 1605.2 566.2C1606.5 565.1 1610.1 562.0 1611.4 560.9C1612.7 559.9 1612.4 560.1 1613.0 559.8C1613.6 559.5 1613.4 559.5 1614.8 559.0C1616.2 558.6 1620.1 557.4 1621.5 556.9C1623.0 556.5 1622.8 556.6 1623.4 556.5C1624.1 556.5 1624.3 556.5 1625.4 556.5C1626.5 556.6 1629.2 556.9 1630.0 557.0M1452.6 590.0C1461.7 590.0 1497.7 590.0 1507.1 590.0C1516.5 590.0 1508.5 590.0 1509.1 590.1C1509.8 590.1 1509.2 590.0 1511.1 590.3C1513.0 590.6 1518.4 591.6 1520.3 591.9C1522.1 592.2 1521.6 592.2 1522.2 592.3C1522.9 592.5 1522.4 592.3 1524.1 593.0C1525.8 593.8 1530.6 595.9 1532.3 596.7C1533.9 597.4 1533.5 597.2 1534.0 597.6C1534.6 597.9 1534.1 597.5 1535.6 598.7C1537.1 599.9 1541.6 603.5 1543.0 604.8C1544.5 606.0 1544.1 605.6 1544.6 606.1C1545.1 606.5 1544.3 605.7 1546.0 607.4C1547.8 609.2 1552.3 613.9 1555.1 616.5C1557.9 619.1 1561.2 621.8 1562.8 623.1C1564.3 624.4 1563.8 624.0 1564.4 624.3C1564.9 624.7 1564.9 624.8 1566.0 625.4C1567.1 626.1 1569.0 627.2 1570.9 628.4C1572.7 629.5 1575.8 631.6 1577.1 632.5C1578.4 633.4 1578.2 633.2 1578.8 633.5C1579.4 633.8 1579.7 633.9 1580.7 634.2C1581.6 634.6 1583.7 635.3 1584.7 635.6C1585.7 635.9 1586.0 636.0 1586.7 636.2C1587.3 636.3 1586.9 636.3 1588.6 636.6C1590.4 636.9 1594.3 637.8 1597.2 638.2C1600.0 638.7 1603.9 639.1 1605.7 639.3C1607.4 639.5 1607.0 639.4 1607.7 639.5C1608.3 639.5 1605.9 639.5 1609.7 639.5C1613.4 639.5 1626.6 639.5 1630.0 639.5M1452.6 616.3C1461.7 616.3 1497.7 616.3 1507.1 616.3C1516.5 616.3 1508.5 616.3 1509.1 616.3C1509.8 616.4 1509.3 616.3 1511.1 616.5C1513.0 616.7 1518.4 617.4 1520.3 617.6C1522.1 617.8 1521.6 617.8 1522.2 617.9C1522.9 618.1 1522.0 617.8 1524.2 618.4C1526.4 619.1 1531.3 620.5 1535.4 621.8C1539.5 623.1 1544.6 625.0 1548.5 626.4C1552.5 627.8 1556.1 629.3 1559.1 630.3C1562.0 631.3 1564.8 631.9 1566.3 632.4C1567.8 632.9 1567.6 632.8 1568.2 633.1C1568.8 633.4 1568.5 633.2 1569.8 634.2C1571.2 635.1 1573.8 637.2 1576.1 638.9C1578.4 640.6 1582.2 643.2 1583.7 644.3C1585.2 645.3 1584.8 644.9 1585.4 645.1C1586.0 645.2 1586.5 645.1 1587.3 645.0C1588.0 645.0 1589.2 644.7 1589.9 644.5C1590.7 644.3 1591.2 644.2 1591.8 643.9C1592.4 643.6 1592.1 643.9 1593.4 642.8C1594.8 641.8 1597.6 639.5 1599.8 637.6C1601.9 635.6 1604.9 632.4 1606.3 631.1C1607.6 629.8 1607.2 630.2 1607.7 629.8C1608.3 629.3 1607.9 629.5 1609.4 628.6C1610.8 627.7 1615.0 625.0 1616.5 624.2C1618.0 623.3 1617.6 623.5 1618.3 623.4C1618.9 623.2 1618.2 623.1 1620.2 623.1C1622.1 623.1 1628.4 623.1 1630.0 623.1M1535.4 683.5C1536.3 681.6 1540.0 674.4 1541.1 672.2C1542.2 670.0 1541.7 671.0 1542.0 670.4C1542.4 669.9 1541.8 670.7 1543.1 668.7C1544.4 666.8 1547.6 662.2 1549.9 658.6C1552.1 655.0 1555.4 649.3 1556.7 647.2C1558.0 645.0 1557.4 646.0 1557.8 645.5C1558.2 644.9 1557.6 645.6 1558.9 643.8C1560.2 642.1 1563.4 637.7 1565.6 634.9C1567.8 632.1 1569.8 629.7 1572.2 627.0C1574.6 624.4 1577.5 621.6 1580.1 619.2C1582.7 616.8 1586.2 613.9 1587.8 612.6C1589.3 611.3 1588.8 611.7 1589.3 611.3C1589.9 610.9 1589.5 611.1 1591.0 610.2C1592.4 609.3 1596.6 606.7 1598.1 605.8C1599.6 604.9 1599.2 605.1 1599.8 604.9C1600.5 604.6 1600.3 604.6 1601.7 604.2C1603.1 603.8 1606.9 602.9 1608.4 602.6C1609.8 602.2 1609.7 602.3 1610.3 602.2C1611.0 602.1 1609.0 602.1 1612.3 602.0C1615.6 601.9 1627.1 601.5 1630.0 601.4M1568.2 624.4C1569.3 622.9 1572.6 618.5 1574.8 615.2C1577.0 611.9 1579.6 607.9 1581.4 604.7C1583.2 601.5 1584.9 597.7 1585.7 596.0C1586.6 594.2 1586.3 594.8 1586.6 594.2C1586.9 593.6 1586.7 594.1 1587.3 592.3C1588.0 590.6 1590.0 585.1 1590.6 583.7M1570.9 633.6C1572.0 635.4 1575.3 640.4 1577.4 644.1C1579.6 647.8 1582.0 652.4 1584.0 655.9C1586.0 659.5 1587.5 662.1 1589.3 665.1C1591.0 668.2 1592.9 671.3 1594.5 674.3C1596.2 677.4 1598.4 682.0 1599.1 683.5M1574.8 631.0C1577.0 630.1 1583.9 627.2 1588.0 625.7C1592.0 624.3 1597.0 623.0 1599.2 622.4C1601.4 621.7 1600.5 622.0 1601.1 621.9C1601.8 621.8 1600.9 621.8 1603.1 621.6C1605.3 621.4 1609.8 620.7 1614.2 620.5C1618.7 620.3 1627.4 620.5 1630.0 620.5" stroke="#4169e1" stroke-width="2.5" stroke-dasharray="7 3.5"/></g><clipPath id="cc2"><rect x="1621.8" y="67.8" width="90.2" height="614.4000000000001"/></clipPath><g clip-path="url(#cc2)" fill="none" stroke-linejoin="round"><path d="M1679.5 86.8C1678.8 86.2 1676.3 84.3 1674.9 83.2C1673.5 82.0 1671.8 80.6 1670.9 79.8C1670.0 79.1 1669.9 79.0 1669.5 78.5C1669.0 78.0 1668.7 77.7 1668.1 77.0C1667.6 76.4 1666.6 75.2 1666.1 74.6C1665.5 73.9 1665.3 73.6 1664.9 73.1C1664.5 72.6 1664.4 72.4 1663.8 71.6C1663.3 70.8 1662.0 68.8 1661.6 68.3M1605.0 98.8C1605.9 99.0 1609.2 99.9 1610.4 100.2C1611.6 100.4 1611.7 100.5 1612.4 100.6C1613.0 100.7 1613.2 100.7 1614.3 100.8C1615.5 101.0 1618.4 101.3 1619.6 101.4C1620.8 101.5 1620.9 101.5 1621.6 101.5C1622.2 101.5 1621.7 101.5 1623.6 101.5C1625.4 101.4 1629.6 101.2 1632.6 101.1C1635.6 101.0 1639.1 100.8 1641.8 100.6C1644.5 100.4 1647.5 100.1 1649.0 99.9C1650.5 99.7 1650.3 99.8 1651.0 99.6C1651.6 99.5 1652.0 99.4 1652.9 99.1C1653.8 98.9 1655.5 98.3 1656.4 98.0C1657.4 97.7 1657.7 97.6 1658.3 97.4C1659.0 97.1 1659.0 97.1 1660.2 96.6C1661.4 96.1 1663.6 95.2 1665.7 94.2C1667.9 93.2 1671.1 91.6 1673.1 90.5C1675.1 89.5 1676.7 88.5 1677.8 88.0C1678.8 87.4 1679.0 87.4 1679.6 87.3C1680.2 87.1 1675.5 87.1 1681.5 87.0C1687.5 87.0 1709.7 87.0 1715.4 87.0M1605.0 101.6C1606.5 101.6 1611.1 101.5 1614.2 101.6C1617.3 101.6 1620.3 101.8 1623.4 101.7C1626.5 101.7 1629.5 101.6 1632.6 101.4C1635.7 101.2 1639.1 100.9 1641.8 100.6C1644.5 100.4 1647.5 100.2 1649.0 100.1C1650.5 100.0 1650.3 100.0 1650.8 100.0C1651.3 100.0 1651.6 100.1 1652.1 100.1C1652.6 100.2 1653.1 100.3 1653.6 100.4C1654.0 100.5 1654.4 100.6 1654.8 100.8C1655.3 101.0 1655.7 101.2 1656.3 101.5C1657.0 101.8 1657.9 102.2 1658.5 102.6C1659.2 102.9 1659.6 103.2 1660.2 103.5C1660.7 103.9 1661.1 104.1 1661.7 104.7C1662.4 105.2 1663.5 106.2 1664.2 106.7C1664.8 107.3 1665.2 107.6 1665.7 108.1C1666.1 108.5 1666.1 108.5 1667.0 109.5C1667.9 110.6 1669.8 112.5 1671.2 114.4C1672.7 116.3 1674.6 119.3 1675.8 120.9C1677.0 122.5 1677.8 123.4 1678.4 124.1C1679.1 124.8 1679.2 124.9 1679.7 125.1C1680.3 125.4 1675.6 125.4 1681.5 125.5C1687.5 125.5 1709.7 125.5 1715.4 125.5M1605.0 119.0C1605.7 118.5 1608.0 116.5 1609.0 115.7C1609.9 115.0 1610.0 114.9 1610.6 114.6C1611.2 114.3 1611.5 114.2 1612.4 113.8C1613.3 113.5 1615.1 113.0 1616.0 112.7C1616.9 112.5 1617.3 112.4 1617.9 112.3C1618.6 112.2 1619.0 112.2 1619.9 112.1C1620.8 112.1 1622.4 112.1 1623.2 112.1C1624.1 112.2 1624.5 112.2 1625.2 112.3C1625.8 112.4 1626.2 112.6 1626.9 112.8C1627.6 113.1 1628.5 113.5 1629.1 113.7C1629.7 114.0 1630.2 114.3 1630.7 114.6C1631.2 115.0 1631.6 115.3 1632.1 115.8C1632.7 116.3 1633.5 117.1 1634.0 117.7C1634.5 118.2 1634.9 118.6 1635.3 119.1C1635.7 119.6 1635.8 119.8 1636.5 120.7C1637.1 121.6 1638.1 123.1 1639.0 124.6C1639.9 126.0 1641.0 127.8 1641.8 129.2C1642.6 130.5 1643.3 132.2 1643.6 132.8M1680.4 126.4C1679.5 127.7 1676.8 131.7 1674.9 134.2C1673.1 136.7 1671.2 139.0 1669.4 141.6C1667.6 144.2 1665.7 147.1 1663.9 149.8C1662.0 152.6 1660.2 155.5 1658.4 158.1C1656.5 160.7 1654.5 163.4 1652.8 165.5C1651.2 167.5 1649.5 169.4 1648.6 170.4C1647.7 171.4 1647.8 171.3 1647.4 171.7C1647.0 172.0 1646.8 172.1 1646.2 172.5C1645.6 172.8 1644.1 173.5 1643.6 173.8M1680.4 160.9C1686.3 160.9 1709.6 160.9 1715.4 160.9M1680.4 160.9C1679.4 160.6 1676.1 159.7 1674.0 159.0C1671.9 158.4 1669.5 157.8 1667.6 157.2C1665.6 156.5 1663.3 155.6 1662.1 155.1C1660.9 154.7 1660.8 154.6 1660.3 154.3C1659.7 154.0 1659.2 153.7 1658.5 153.3C1657.9 152.9 1657.0 152.3 1656.3 151.9C1655.7 151.4 1655.3 151.1 1654.8 150.6C1654.4 150.2 1654.2 150.0 1653.6 149.1C1652.9 148.2 1652.0 147.0 1651.0 145.2C1650.0 143.5 1648.5 140.9 1647.3 138.8C1646.1 136.7 1644.9 134.7 1643.6 132.4C1642.4 130.1 1640.6 126.2 1640.0 125.0M1680.4 161.3C1679.7 161.7 1676.9 163.1 1675.8 163.7C1674.7 164.2 1674.6 164.3 1674.0 164.6C1673.5 165.0 1673.2 165.2 1672.4 165.7C1671.6 166.3 1670.0 167.4 1669.2 168.0C1668.4 168.6 1668.1 168.7 1667.5 169.1C1666.9 169.4 1666.7 169.6 1665.8 170.1C1664.8 170.5 1662.9 171.5 1662.0 171.9C1661.1 172.4 1660.8 172.5 1660.2 172.7C1659.5 172.9 1659.4 173.0 1658.2 173.2C1657.0 173.5 1654.2 174.1 1653.0 174.3C1651.8 174.5 1651.6 174.5 1651.0 174.5C1650.3 174.5 1649.9 174.5 1649.0 174.4C1648.1 174.3 1646.5 174.1 1645.6 174.0C1644.7 173.9 1644.3 173.8 1643.7 173.6C1643.0 173.5 1642.6 173.3 1641.8 173.0C1641.0 172.7 1639.8 172.1 1639.0 171.8C1638.3 171.4 1637.8 171.2 1637.2 170.9C1636.6 170.7 1636.3 170.4 1635.5 170.0C1634.7 169.6 1633.3 168.7 1632.5 168.3C1631.7 167.9 1631.3 167.7 1630.7 167.5C1630.1 167.2 1629.7 167.1 1628.8 166.9C1627.9 166.8 1626.3 166.5 1625.4 166.3C1624.5 166.1 1624.1 166.1 1623.4 166.0C1622.7 165.9 1622.9 165.9 1621.4 165.8C1619.9 165.8 1616.9 165.7 1614.2 165.5C1611.5 165.3 1606.5 164.7 1605.0 164.6M1605.0 168.2C1605.4 168.9 1606.9 171.2 1607.6 172.1C1608.2 173.0 1608.3 173.2 1608.8 173.7C1609.2 174.2 1609.4 174.5 1610.1 175.2C1610.8 175.9 1612.1 177.2 1612.8 177.9C1613.5 178.5 1613.8 178.8 1614.3 179.1C1614.8 179.5 1615.3 179.7 1616.0 180.1C1616.8 180.4 1618.0 181.0 1618.8 181.2C1619.6 181.5 1620.0 181.7 1620.7 181.8C1621.3 182.0 1621.8 182.0 1622.6 182.0C1623.5 182.1 1625.1 182.1 1626.0 182.0C1626.9 182.0 1627.3 182.0 1628.0 181.9C1628.6 181.7 1629.0 181.6 1629.9 181.3C1630.8 181.0 1632.6 180.3 1633.5 180.0C1634.4 179.6 1634.7 179.5 1635.3 179.2C1635.9 178.9 1636.0 178.9 1637.1 178.3C1638.2 177.7 1640.4 176.4 1641.8 175.6C1643.2 174.8 1644.9 174.1 1645.5 173.8M1605.0 210.8C1606.4 210.1 1611.9 207.6 1613.7 206.9C1615.5 206.1 1614.9 206.4 1615.6 206.2C1616.2 206.0 1615.8 206.0 1617.5 205.8C1619.3 205.6 1623.2 205.1 1626.0 205.0C1628.9 204.8 1632.8 205.0 1634.5 205.0C1636.3 204.9 1635.9 204.9 1636.5 204.8C1637.1 204.6 1636.9 204.8 1638.3 204.1C1639.7 203.4 1642.9 201.7 1645.0 200.8C1647.0 199.8 1649.3 198.9 1650.5 198.4C1651.7 197.9 1651.7 198.0 1652.3 197.9C1653.0 197.8 1653.5 197.9 1654.2 197.9C1655.0 198.0 1656.0 198.2 1656.7 198.4C1657.5 198.5 1658.0 198.7 1658.5 198.9C1659.1 199.2 1659.2 199.3 1660.0 200.1C1660.9 200.9 1662.4 202.3 1663.9 203.9C1665.4 205.5 1667.8 208.6 1668.9 209.8C1670.0 211.0 1669.8 210.8 1670.3 211.2C1670.7 211.7 1671.0 211.9 1671.7 212.6C1672.5 213.2 1674.2 214.6 1675.0 215.3C1675.8 215.9 1676.0 216.1 1676.4 216.4C1676.9 216.7 1677.3 216.9 1677.8 217.2C1678.3 217.5 1678.9 217.8 1679.5 218.0C1680.0 218.2 1680.4 218.4 1680.9 218.5C1681.4 218.6 1677.0 218.6 1682.7 218.7C1688.5 218.7 1710.0 218.7 1715.4 218.7M1605.0 210.2C1606.4 210.0 1611.8 208.9 1613.6 208.5C1615.3 208.2 1614.9 208.3 1615.5 208.3C1616.2 208.2 1616.1 208.2 1617.5 208.2C1618.9 208.3 1622.6 208.5 1624.0 208.6C1625.5 208.6 1625.4 208.6 1626.0 208.5C1626.7 208.5 1626.5 208.5 1628.0 208.2C1629.4 207.8 1633.2 206.8 1634.6 206.5C1636.0 206.2 1635.9 206.3 1636.6 206.2C1637.2 206.2 1637.4 206.2 1638.5 206.4C1639.6 206.6 1641.9 207.0 1643.0 207.2C1644.1 207.5 1644.3 207.5 1644.9 207.7C1645.5 208.0 1645.5 207.9 1646.8 208.5C1648.0 209.1 1650.2 210.1 1652.3 211.3C1654.5 212.5 1657.4 214.2 1659.7 215.5C1662.0 216.8 1664.9 218.1 1666.3 218.8C1667.7 219.5 1667.5 219.3 1668.1 219.5C1668.7 219.7 1669.3 219.8 1670.0 219.9C1670.7 220.0 1671.8 220.0 1672.5 220.1C1673.3 220.1 1673.8 220.1 1674.4 220.1C1675.0 220.0 1675.2 220.0 1676.3 219.8C1677.4 219.5 1680.0 218.8 1680.7 218.7M1605.0 512.3C1606.0 511.8 1609.8 509.9 1611.1 509.3C1612.4 508.7 1612.3 508.7 1612.9 508.5C1613.6 508.3 1613.6 508.3 1614.8 508.0C1616.0 507.7 1618.9 507.1 1620.1 506.8C1621.3 506.6 1621.4 506.6 1622.1 506.6C1622.7 506.6 1622.8 506.6 1624.0 506.8C1625.2 507.1 1628.1 507.7 1629.3 508.0C1630.5 508.3 1630.6 508.3 1631.1 508.6C1631.7 509.0 1631.6 508.8 1632.7 509.8C1633.8 510.9 1636.7 513.8 1637.8 514.9C1638.8 516.0 1638.7 515.8 1639.1 516.3C1639.6 516.8 1639.0 516.1 1640.4 517.9C1641.7 519.6 1644.6 523.3 1647.1 526.8C1649.5 530.3 1652.3 534.9 1654.9 538.6C1657.6 542.4 1660.2 545.9 1662.8 549.1C1665.5 552.4 1668.3 555.7 1670.7 558.3C1673.1 561.0 1675.9 563.5 1677.2 564.8C1678.5 566.1 1678.1 565.7 1678.6 565.9C1679.1 566.2 1679.6 566.3 1680.2 566.5C1680.8 566.6 1681.6 566.7 1682.3 566.8C1682.9 566.9 1683.4 566.9 1684.0 567.0C1684.6 567.0 1680.4 567.0 1685.9 567.0C1691.3 567.0 1711.6 567.0 1716.7 567.0M1678.6 567.8C1679.2 567.9 1681.4 568.2 1682.3 568.3C1683.2 568.4 1683.4 568.4 1684.0 568.4C1684.6 568.4 1680.4 568.5 1685.9 568.5C1691.3 568.5 1711.6 568.5 1716.7 568.5M1605.0 568.9C1606.4 568.7 1611.8 568.0 1613.5 567.8C1615.3 567.6 1614.9 567.6 1615.5 567.6C1616.2 567.6 1616.1 567.6 1617.5 567.5C1618.9 567.5 1622.6 567.5 1624.0 567.5C1625.4 567.6 1625.4 567.6 1626.0 567.7C1626.7 567.7 1626.2 567.6 1628.0 568.0C1629.7 568.4 1633.8 569.4 1636.5 570.2C1639.3 571.0 1642.1 572.0 1644.4 572.8C1646.7 573.6 1649.1 574.4 1650.4 574.8C1651.7 575.2 1651.7 575.1 1652.3 575.2C1653.0 575.2 1653.3 575.2 1654.3 575.1C1655.3 575.0 1657.2 574.6 1658.2 574.4C1659.2 574.3 1659.5 574.2 1660.2 574.0C1660.8 573.8 1660.7 573.9 1662.0 573.3C1663.4 572.8 1666.1 571.6 1668.1 570.8C1670.1 570.1 1672.8 569.2 1674.1 568.8C1675.4 568.4 1675.3 568.4 1675.9 568.3C1676.5 568.2 1676.7 568.1 1677.5 568.0C1678.4 567.9 1680.6 567.6 1681.2 567.5M1628.7 591.2C1629.7 590.3 1633.7 587.0 1635.0 585.9C1636.3 584.8 1636.1 585.1 1636.6 584.7C1637.2 584.4 1637.3 584.3 1638.3 583.7C1639.3 583.2 1641.6 582.1 1642.6 581.6C1643.7 581.1 1643.8 581.0 1644.5 580.8C1645.1 580.6 1645.1 580.5 1646.4 580.2C1647.7 579.9 1650.3 579.2 1652.3 578.7C1654.3 578.2 1656.9 577.6 1658.3 577.2C1659.6 576.9 1659.5 576.9 1660.2 576.6C1660.8 576.4 1660.7 576.5 1662.0 575.8C1663.3 575.2 1665.8 574.0 1668.1 572.8C1670.4 571.6 1674.7 569.5 1676.0 568.9M1640.5 591.2C1641.3 590.3 1644.5 587.1 1645.6 586.0C1646.7 585.0 1646.6 585.1 1647.1 584.7C1647.6 584.3 1647.7 584.2 1648.7 583.5C1649.7 582.8 1652.2 581.2 1653.3 580.5C1654.3 579.8 1654.4 579.8 1655.0 579.4C1655.5 579.1 1655.4 579.1 1656.7 578.5C1658.0 577.8 1660.8 576.4 1662.8 575.4C1664.9 574.4 1667.6 573.0 1668.9 572.4C1670.2 571.7 1670.1 571.8 1670.7 571.5C1671.3 571.3 1671.3 571.3 1672.6 570.8C1673.9 570.3 1677.6 569.0 1678.6 568.6M1676.0 647.3C1682.8 647.3 1709.9 647.3 1716.7 647.3M1676.0 648.9C1682.8 648.9 1709.9 648.9 1716.7 648.9M1605.0 590.3C1607.2 590.1 1614.1 589.6 1618.1 589.6C1622.2 589.6 1627.1 590.0 1629.3 590.2C1631.5 590.3 1630.6 590.3 1631.3 590.4C1631.9 590.5 1632.2 590.5 1633.2 590.7C1634.2 591.0 1636.3 591.5 1637.2 591.7C1638.2 592.0 1638.5 592.1 1639.0 592.5C1639.6 592.8 1639.4 592.6 1640.5 593.7C1641.6 594.8 1644.6 598.1 1645.7 599.3C1646.8 600.5 1646.6 600.3 1647.0 600.8C1647.4 601.4 1647.0 600.7 1648.1 602.5C1649.2 604.2 1652.0 608.6 1653.6 611.3C1655.3 614.0 1657.0 617.2 1657.9 618.7C1658.8 620.3 1658.5 619.9 1658.8 620.5C1659.1 621.1 1659.1 621.1 1659.7 622.3C1660.2 623.5 1661.5 626.6 1662.0 627.8C1662.6 629.1 1662.6 629.1 1662.9 629.6C1663.2 630.2 1663.1 630.0 1663.9 631.3C1664.8 632.7 1666.5 635.4 1668.1 637.6C1669.7 639.7 1671.9 642.4 1673.3 644.1C1674.8 645.9 1676.1 647.4 1676.6 648.1M1641.8 591.6C1642.6 590.9 1645.8 588.4 1646.8 587.6C1647.9 586.7 1647.8 586.8 1648.1 586.5C1648.4 586.2 1648.5 586.1 1648.8 585.7C1649.0 585.4 1649.5 584.6 1649.7 584.3M1630.0 600.8C1631.1 601.9 1634.1 604.9 1636.5 607.3C1639.0 609.8 1641.6 612.4 1644.4 615.2C1647.3 618.1 1650.8 621.6 1653.6 624.4C1656.5 627.3 1659.1 629.9 1661.5 632.3C1663.9 634.7 1665.9 636.7 1668.1 638.9C1670.3 641.1 1673.6 644.4 1674.7 645.5M1605.0 658.6C1607.2 658.6 1613.8 658.7 1618.1 658.6C1622.5 658.5 1626.9 658.3 1631.3 657.9C1635.7 657.6 1640.0 657.2 1644.4 656.6C1648.8 656.1 1654.0 655.3 1657.6 654.7C1661.2 654.1 1664.4 653.4 1666.1 653.1C1667.9 652.7 1667.4 652.8 1668.0 652.6C1668.6 652.5 1668.8 652.4 1669.7 652.1C1670.6 651.8 1672.7 650.9 1673.3 650.7M1605.0 671.7C1606.0 671.0 1609.9 668.4 1611.2 667.6C1612.5 666.7 1612.4 666.9 1613.0 666.7C1613.6 666.4 1613.1 666.5 1614.9 666.1C1616.6 665.8 1621.0 665.0 1623.4 664.5C1625.8 664.0 1628.1 663.4 1629.3 663.0C1630.6 662.7 1630.6 662.6 1631.2 662.3C1631.7 662.0 1631.4 662.4 1632.7 661.1C1634.0 659.9 1637.0 656.8 1639.2 654.7C1641.3 652.5 1644.3 649.5 1645.6 648.2C1647.0 646.9 1646.6 647.3 1647.1 646.9C1647.7 646.5 1647.8 646.4 1648.8 645.8C1649.8 645.1 1652.2 643.7 1653.2 643.2C1654.3 642.6 1654.4 642.6 1655.0 642.4C1655.6 642.2 1656.0 642.1 1656.9 642.0C1657.9 641.9 1659.9 641.7 1660.8 641.7C1661.8 641.6 1662.2 641.6 1662.8 641.7C1663.5 641.8 1664.0 641.9 1664.7 642.1C1665.5 642.3 1666.7 642.7 1667.5 642.9C1668.2 643.2 1668.7 643.3 1669.3 643.6C1669.9 643.8 1670.1 643.9 1671.0 644.5C1671.9 645.0 1674.0 646.4 1674.7 646.8M1594.5 594.9C1595.4 594.5 1598.9 593.1 1600.2 592.6C1601.4 592.1 1601.4 592.1 1602.0 591.9C1602.7 591.8 1602.2 591.8 1604.0 591.6C1605.8 591.4 1609.1 590.9 1612.6 590.7C1616.1 590.5 1622.0 590.5 1625.2 590.5C1628.4 590.5 1630.2 590.8 1631.6 590.9C1633.0 591.0 1632.9 591.0 1633.6 591.1C1634.2 591.2 1634.4 591.2 1635.5 591.5C1636.5 591.7 1639.2 592.4 1639.9 592.6M1586.3 591.5C1587.4 592.1 1591.5 594.1 1592.9 594.8C1594.3 595.5 1594.1 595.4 1594.7 595.6C1595.4 595.9 1595.7 596.0 1596.6 596.3C1597.5 596.5 1599.2 597.0 1600.1 597.2C1601.0 597.5 1601.4 597.6 1602.0 597.7C1602.7 597.9 1602.6 597.9 1604.0 598.0C1605.4 598.2 1609.2 598.7 1610.6 598.9C1612.1 599.0 1611.9 599.0 1612.6 599.0C1613.3 599.1 1613.2 599.1 1614.6 599.1C1616.0 599.1 1619.7 599.1 1621.1 599.1C1622.5 599.1 1622.4 599.1 1623.1 599.0C1623.7 598.9 1624.3 598.7 1625.0 598.6C1625.7 598.4 1626.8 598.1 1627.5 597.8C1628.2 597.6 1628.8 597.5 1629.4 597.2C1630.0 597.0 1630.2 597.0 1631.2 596.5C1632.3 596.1 1634.3 595.4 1635.7 594.7C1637.1 594.0 1639.2 593.0 1639.9 592.6" stroke="#ff7d42" stroke-width="2.5"/><path d="M1680.4 70.7C1686.3 70.7 1709.6 70.7 1715.4 70.7M1680.4 70.7C1679.8 71.4 1677.3 73.6 1676.4 74.4C1675.5 75.3 1675.4 75.4 1675.0 75.9C1674.5 76.4 1674.4 76.4 1673.7 77.4C1673.0 78.3 1671.3 80.6 1670.6 81.6C1669.9 82.5 1669.8 82.6 1669.4 83.2C1669.1 83.7 1668.9 84.1 1668.4 84.9C1667.9 85.7 1667.2 87.1 1666.7 87.9C1666.3 88.6 1666.0 89.0 1665.7 89.5C1665.3 90.0 1665.0 90.4 1664.6 91.0C1664.2 91.5 1663.6 92.3 1663.1 92.8C1662.7 93.4 1662.4 93.8 1662.1 94.3C1661.8 94.8 1661.6 95.3 1661.2 96.0C1660.9 96.8 1660.4 98.1 1660.1 98.8C1659.7 99.5 1659.5 99.9 1659.3 100.4C1659.0 100.8 1658.8 101.1 1658.4 101.5C1658.1 101.8 1657.7 102.2 1657.3 102.6C1657.0 102.9 1656.8 103.2 1656.4 103.5C1656.1 103.9 1655.8 104.3 1655.4 104.8C1655.0 105.3 1654.4 106.1 1653.9 106.6C1653.5 107.2 1653.2 107.6 1652.9 108.1C1652.5 108.6 1652.5 108.7 1651.8 109.7C1651.2 110.8 1650.2 112.6 1649.2 114.4C1648.1 116.3 1646.5 119.2 1645.5 120.9C1644.4 122.6 1643.5 123.8 1642.9 124.7C1642.3 125.7 1642.2 125.9 1641.9 126.4C1641.6 127.0 1641.5 127.2 1641.0 128.2C1640.5 129.3 1639.4 132.1 1639.0 132.8M1673.1 68.6C1672.5 69.7 1670.4 73.2 1669.4 74.9C1668.4 76.6 1667.4 77.8 1666.8 78.7C1666.2 79.7 1666.1 79.8 1665.9 80.4C1665.6 81.0 1665.4 81.4 1665.2 82.1C1664.9 82.7 1664.6 83.6 1664.4 84.3C1664.2 84.9 1664.1 85.3 1664.1 85.8C1664.0 86.2 1664.0 86.4 1664.2 87.0C1664.3 87.7 1664.7 89.2 1664.8 89.6M1660.2 68.6C1660.8 69.7 1662.8 73.2 1663.9 74.9C1664.9 76.6 1665.9 77.8 1666.5 78.7C1667.1 79.7 1667.2 79.9 1667.5 80.4C1667.8 81.0 1667.7 80.7 1668.3 82.3C1668.9 83.8 1670.1 86.8 1671.2 89.6C1672.3 92.4 1673.7 95.9 1674.9 98.8C1676.1 101.7 1677.7 104.8 1678.6 107.1C1679.5 109.4 1680.1 111.7 1680.4 112.6M1640.0 83.2C1640.6 84.1 1642.4 87.0 1643.6 88.7C1644.9 90.4 1646.3 92.0 1647.3 93.3C1648.4 94.6 1649.3 95.7 1649.9 96.5C1650.5 97.3 1650.6 97.4 1651.0 97.8C1651.4 98.2 1651.7 98.5 1652.1 99.0C1652.5 99.4 1653.1 100.0 1653.6 100.5C1654.0 100.9 1654.3 101.2 1654.7 101.6C1655.0 102.0 1655.2 102.2 1655.8 102.9C1656.4 103.7 1657.5 105.0 1658.4 106.2C1659.2 107.3 1660.3 109.1 1660.9 110.0C1661.5 110.9 1661.7 111.1 1662.0 111.5C1662.4 112.0 1662.7 112.3 1663.1 112.8C1663.6 113.2 1664.2 113.8 1664.6 114.3C1665.0 114.7 1665.3 114.9 1665.7 115.2C1666.1 115.5 1666.2 115.6 1666.8 115.9C1667.4 116.2 1669.0 117.0 1669.4 117.2M1605.0 83.2C1605.6 82.7 1607.9 81.2 1608.9 80.6C1609.8 80.0 1610.0 79.9 1610.5 79.6C1611.1 79.3 1611.3 79.3 1612.2 78.9C1613.1 78.6 1614.2 78.2 1616.0 77.6C1617.9 77.1 1620.6 76.4 1623.4 75.8C1626.2 75.2 1629.9 74.6 1632.6 74.0C1635.3 73.3 1638.4 72.2 1639.9 71.8C1641.4 71.3 1641.1 71.4 1641.7 71.2C1642.3 70.9 1642.5 70.8 1643.5 70.4C1644.4 70.0 1646.7 68.9 1647.3 68.6M1605.0 80.4C1606.5 80.6 1611.5 81.0 1614.2 81.3C1616.9 81.6 1619.9 81.9 1621.4 82.0C1622.9 82.2 1622.7 82.1 1623.4 82.1C1624.1 82.1 1624.2 82.1 1625.4 82.0C1626.6 81.9 1629.4 81.7 1630.6 81.5C1631.8 81.4 1631.9 81.3 1632.6 81.2C1633.2 81.0 1633.6 80.9 1634.5 80.6C1635.4 80.3 1637.2 79.6 1638.1 79.3C1639.0 78.9 1639.3 78.7 1639.8 78.4C1640.4 78.0 1640.8 77.7 1641.3 77.2C1641.9 76.7 1642.6 75.9 1643.2 75.3C1643.7 74.8 1644.1 74.4 1644.6 74.0C1645.0 73.6 1645.4 73.3 1645.9 72.9C1646.5 72.4 1647.3 71.8 1647.8 71.4C1648.3 71.0 1648.7 70.7 1649.1 70.4C1649.5 70.2 1649.6 70.1 1650.3 69.8C1650.9 69.5 1652.4 68.8 1652.8 68.6M1607.8 70.3C1608.8 70.4 1611.9 70.9 1614.2 71.2C1616.5 71.5 1619.9 71.8 1621.4 71.9C1622.9 72.1 1622.7 72.1 1623.3 72.2C1623.9 72.3 1624.4 72.5 1625.1 72.7C1625.7 72.9 1626.6 73.2 1627.3 73.4C1627.9 73.6 1628.4 73.8 1628.9 74.0C1629.5 74.3 1629.9 74.5 1630.6 74.8C1631.2 75.1 1632.2 75.6 1632.8 75.9C1633.4 76.2 1633.9 76.5 1634.4 76.8C1634.9 77.1 1635.3 77.4 1635.8 77.8C1636.4 78.2 1637.2 78.9 1637.7 79.3C1638.2 79.7 1638.5 80.0 1638.8 80.3C1639.2 80.7 1639.2 80.8 1639.6 81.2C1639.9 81.7 1640.7 82.8 1640.9 83.2M1605.0 120.9C1605.6 121.3 1607.9 122.9 1608.9 123.5C1609.8 124.1 1610.0 124.2 1610.5 124.5C1611.1 124.8 1611.5 125.1 1612.2 125.4C1612.8 125.7 1613.7 126.2 1614.4 126.5C1615.0 126.8 1615.5 127.0 1616.1 127.2C1616.7 127.5 1617.1 127.6 1618.0 127.8C1618.9 128.0 1620.6 128.5 1621.5 128.7C1622.4 128.9 1622.8 129.0 1623.4 129.1C1624.1 129.2 1623.9 129.2 1625.4 129.4C1626.9 129.5 1630.5 129.8 1632.6 130.1C1634.7 130.4 1637.2 130.8 1638.1 131.0M1649.2 132.8C1649.9 131.9 1652.5 128.3 1653.5 127.1C1654.4 125.9 1654.3 126.0 1654.7 125.5C1655.2 125.0 1655.4 124.8 1656.1 124.1C1656.8 123.4 1658.1 122.0 1658.8 121.4C1659.5 120.7 1659.7 120.5 1660.3 120.0C1660.8 119.6 1661.2 119.3 1661.9 118.9C1662.5 118.4 1663.4 117.8 1664.1 117.4C1664.7 117.0 1665.2 116.7 1665.7 116.4C1666.3 116.1 1666.7 116.0 1667.4 115.7C1668.0 115.5 1668.9 115.2 1669.6 115.0C1670.2 114.8 1670.7 114.6 1671.2 114.5C1671.8 114.4 1672.0 114.3 1672.9 114.2C1673.8 114.0 1675.5 113.7 1676.8 113.5C1678.0 113.3 1679.8 113.1 1680.4 113.1M1667.6 132.8C1668.2 131.8 1670.2 128.1 1671.2 126.4C1672.3 124.7 1673.2 123.4 1673.8 122.5C1674.4 121.6 1674.5 121.5 1674.9 121.0C1675.3 120.6 1675.6 120.2 1676.0 119.8C1676.5 119.3 1677.1 118.7 1677.5 118.3C1677.9 117.9 1678.2 117.6 1678.5 117.3C1678.9 117.1 1679.0 117.0 1679.4 116.6C1679.9 116.3 1681.0 115.6 1681.4 115.4M1681.4 152.1C1687.0 152.1 1709.7 152.1 1715.4 152.1M1681.4 152.1C1680.3 151.8 1676.9 150.5 1674.9 149.8C1672.9 149.1 1671.0 148.5 1669.4 148.0C1667.8 147.5 1666.5 147.0 1665.5 146.7C1664.6 146.4 1664.4 146.4 1663.8 146.2C1663.2 146.1 1663.1 146.1 1661.9 145.9C1660.7 145.7 1658.3 145.5 1656.5 145.2C1654.7 145.0 1651.9 144.5 1651.0 144.3M1680.4 170.5C1686.3 170.5 1709.6 170.5 1715.4 170.5M1680.4 170.5C1679.8 170.8 1677.5 171.8 1676.6 172.1C1675.7 172.5 1675.5 172.6 1674.9 172.7C1674.4 172.8 1673.9 172.8 1673.3 172.8C1672.6 172.9 1671.7 172.9 1671.1 172.8C1670.4 172.8 1669.9 172.8 1669.3 172.7C1668.7 172.6 1668.3 172.6 1667.5 172.4C1666.6 172.1 1664.9 171.7 1664.0 171.5C1663.1 171.2 1662.7 171.1 1662.1 170.9C1661.4 170.7 1661.1 170.6 1660.2 170.3C1659.2 170.0 1657.5 169.3 1656.6 168.9C1655.6 168.6 1655.3 168.5 1654.7 168.2C1654.1 167.9 1653.8 167.8 1652.9 167.3C1652.0 166.9 1650.0 165.9 1649.1 165.5C1648.2 165.0 1647.9 164.9 1647.3 164.6C1646.7 164.4 1646.3 164.3 1645.4 164.0C1644.5 163.7 1642.8 163.1 1641.9 162.9C1641.0 162.6 1640.6 162.5 1639.9 162.3C1639.3 162.2 1638.9 162.1 1638.0 161.9C1637.1 161.7 1635.5 161.4 1634.6 161.2C1633.7 161.1 1633.3 161.0 1632.6 160.9C1631.9 160.9 1631.5 160.8 1630.6 160.8C1629.7 160.7 1628.1 160.6 1627.2 160.5C1626.3 160.5 1625.9 160.5 1625.3 160.6C1624.6 160.6 1624.1 160.7 1623.3 160.8C1622.6 161.0 1621.5 161.2 1620.7 161.4C1620.0 161.6 1619.5 161.7 1618.9 162.0C1618.4 162.4 1618.2 162.4 1617.4 163.2C1616.5 164.0 1614.6 166.0 1613.8 166.8C1612.9 167.7 1612.9 167.8 1612.4 168.3C1612.0 168.8 1612.2 168.5 1611.3 169.9C1610.3 171.3 1607.6 175.4 1606.8 176.5M1605.0 152.6C1606.5 152.6 1611.1 152.6 1614.2 152.6C1617.3 152.6 1620.3 152.7 1623.4 152.6C1626.5 152.5 1629.2 152.3 1632.6 152.1C1636.0 152.0 1640.6 151.7 1643.6 151.7C1646.7 151.7 1649.3 151.9 1650.8 152.0C1652.4 152.1 1652.2 152.1 1652.8 152.3C1653.5 152.4 1653.8 152.5 1654.7 152.7C1655.7 153.0 1657.4 153.5 1658.3 153.8C1659.2 154.2 1659.5 154.3 1660.1 154.6C1660.7 154.9 1660.6 154.7 1661.8 155.6C1663.0 156.5 1665.9 158.7 1667.6 160.0C1669.2 161.2 1670.7 162.5 1671.5 163.3C1672.4 164.0 1672.5 164.1 1672.9 164.5C1673.3 164.9 1673.4 165.0 1673.9 165.7C1674.4 166.3 1675.5 167.8 1675.8 168.2M1605.0 136.0C1606.5 136.0 1611.5 136.0 1614.2 136.0C1616.9 136.0 1619.9 136.1 1621.4 136.0C1622.9 136.0 1622.7 136.0 1623.4 135.9C1624.0 135.8 1624.4 135.8 1625.3 135.6C1626.2 135.3 1627.9 134.9 1628.8 134.7C1629.7 134.4 1630.1 134.3 1630.6 134.1C1631.2 133.9 1631.3 133.8 1632.1 133.4C1632.9 132.9 1634.3 132.1 1635.4 131.4C1636.4 130.8 1637.8 130.0 1638.6 129.5C1639.3 129.0 1639.5 128.9 1639.9 128.6C1640.3 128.3 1640.4 128.2 1641.1 127.6C1641.7 127.0 1643.2 125.4 1643.6 125.0M1609.6 125.0C1610.1 125.3 1612.0 126.5 1612.8 126.9C1613.6 127.4 1613.8 127.4 1614.3 127.7C1614.9 127.9 1614.7 127.8 1616.2 128.2C1617.7 128.5 1621.0 129.1 1623.4 129.6C1625.8 130.1 1629.1 130.7 1630.6 131.0C1632.2 131.4 1631.9 131.4 1632.5 131.6C1633.1 131.9 1633.2 132.0 1634.2 132.6C1635.2 133.3 1637.4 135.0 1638.4 135.8C1639.3 136.5 1639.4 136.6 1639.9 137.0C1640.4 137.4 1640.6 137.6 1641.3 138.3C1642.1 139.1 1644.0 141.0 1644.6 141.6M1655.6 125.0C1654.8 126.2 1652.4 130.0 1651.0 132.4C1649.6 134.7 1648.1 137.5 1647.4 138.9C1646.6 140.3 1646.7 140.0 1646.4 140.6C1646.0 141.2 1646.0 141.2 1645.2 142.3C1644.5 143.3 1643.1 145.2 1641.8 147.1C1640.5 149.0 1638.5 151.6 1637.2 153.5C1635.9 155.4 1634.6 157.3 1633.8 158.3C1633.0 159.4 1632.9 159.4 1632.4 159.8C1632.0 160.2 1632.0 160.2 1630.8 160.9C1629.6 161.5 1626.4 163.0 1625.2 163.7C1624.0 164.3 1624.0 164.3 1623.4 164.6C1622.9 165.0 1623.0 164.8 1621.8 165.7C1620.5 166.6 1617.1 169.0 1615.8 169.9C1614.6 170.7 1614.8 170.6 1614.2 171.0C1613.7 171.5 1613.9 171.2 1612.7 172.3C1611.5 173.4 1607.8 176.6 1606.8 177.4M1671.2 125.0C1670.6 126.2 1668.8 129.8 1667.6 132.4C1666.3 135.0 1665.1 137.9 1663.9 140.6C1662.7 143.4 1661.3 146.6 1660.2 148.9C1659.1 151.2 1658.0 153.3 1657.4 154.5C1656.8 155.7 1656.8 155.7 1656.5 156.2C1656.1 156.8 1656.3 156.6 1655.4 157.9C1654.5 159.3 1652.7 162.1 1651.0 164.6C1649.3 167.0 1647.0 170.5 1645.5 172.8C1643.9 175.1 1643.3 176.2 1641.8 178.4C1640.3 180.5 1638.1 183.4 1636.3 185.7C1634.4 188.0 1632.3 190.5 1630.8 192.2C1629.2 193.8 1627.7 195.2 1627.1 195.8M1678.6 152.6C1678.0 153.8 1676.1 157.4 1674.9 160.0C1673.7 162.6 1672.5 165.5 1671.2 168.2C1670.0 171.0 1668.8 173.8 1667.6 176.5C1666.3 179.3 1665.0 182.0 1663.9 184.8C1662.8 187.6 1661.6 191.7 1661.1 193.1M1605.0 184.8C1605.7 185.4 1608.1 187.4 1609.0 188.1C1609.9 188.9 1610.0 189.0 1610.5 189.4C1611.1 189.8 1611.5 190.1 1612.2 190.5C1612.8 190.9 1613.7 191.6 1614.4 192.0C1615.0 192.4 1615.5 192.6 1616.1 192.9C1616.7 193.1 1617.1 193.2 1618.0 193.3C1618.9 193.5 1620.5 193.6 1621.4 193.7C1622.3 193.9 1622.7 193.9 1623.3 193.9C1623.9 194.0 1624.1 194.0 1625.1 194.0C1626.0 194.0 1628.3 194.0 1628.9 194.0M1605.0 186.1C1605.8 186.7 1608.7 189.2 1609.8 190.0C1610.8 190.9 1610.8 190.8 1611.4 191.2C1611.9 191.5 1612.2 191.7 1613.1 192.1C1614.1 192.5 1615.9 193.3 1616.8 193.7C1617.8 194.0 1618.1 194.1 1618.7 194.3C1619.3 194.5 1619.8 194.5 1620.7 194.6C1621.6 194.7 1623.1 194.8 1624.0 194.8C1624.9 194.9 1625.4 194.9 1626.0 194.8C1626.6 194.7 1627.1 194.5 1627.9 194.2C1628.6 193.9 1629.8 193.5 1630.5 193.1C1631.2 192.8 1631.7 192.6 1632.3 192.2C1632.8 191.9 1633.3 191.6 1633.9 191.1C1634.5 190.6 1635.4 189.9 1636.0 189.4C1636.6 188.9 1637.0 188.6 1637.4 188.2C1637.9 187.9 1638.0 187.7 1638.5 187.2C1639.1 186.7 1640.4 185.4 1640.8 185.0M1607.1 245.5C1608.2 245.7 1612.1 246.4 1613.6 246.7C1615.0 246.9 1614.9 246.9 1615.5 247.0C1616.2 247.0 1616.4 247.0 1617.5 247.0C1618.6 247.1 1620.9 247.1 1621.9 247.0C1623.0 247.0 1623.3 247.0 1623.9 246.9C1624.6 246.8 1625.1 246.6 1625.8 246.4C1626.6 246.2 1627.6 245.8 1628.3 245.6C1629.1 245.3 1629.6 245.1 1630.2 244.8C1630.7 244.5 1631.0 244.3 1631.8 243.7C1632.6 243.0 1634.2 241.6 1635.0 241.0C1635.8 240.3 1636.0 240.1 1636.4 239.6C1636.9 239.1 1636.7 239.4 1637.6 238.0C1638.5 236.6 1640.2 234.0 1641.8 231.3C1643.4 228.6 1645.5 224.8 1647.1 221.8C1648.6 218.8 1649.7 216.5 1651.3 213.4C1652.8 210.2 1655.0 206.4 1656.5 202.9C1658.1 199.4 1659.5 195.3 1660.7 192.4C1662.0 189.4 1663.4 186.2 1663.9 185.0M1605.0 566.2C1606.1 565.3 1610.0 562.0 1611.3 560.9C1612.7 559.9 1612.4 560.1 1613.0 559.8C1613.6 559.5 1613.4 559.5 1614.8 559.1C1616.2 558.7 1620.0 557.6 1621.5 557.3C1622.9 556.9 1622.8 557.0 1623.4 557.0C1624.1 557.0 1623.9 556.9 1625.4 557.2C1626.8 557.4 1630.5 558.2 1632.0 558.6C1633.4 558.9 1633.2 558.9 1633.8 559.2C1634.4 559.4 1633.8 559.0 1635.6 560.1C1637.3 561.3 1641.2 563.9 1644.4 566.2C1647.7 568.6 1651.4 571.7 1654.9 574.1C1658.4 576.5 1662.2 578.7 1665.5 580.7C1668.7 582.7 1672.5 585.1 1674.3 586.2C1676.0 587.3 1675.4 586.9 1675.8 587.3C1676.3 587.7 1676.5 587.8 1677.2 588.4C1677.8 589.1 1679.5 590.7 1679.9 591.2M1679.9 592.2C1679.0 591.7 1676.6 590.3 1674.7 588.9C1672.7 587.6 1669.2 585.1 1668.1 584.3M1679.9 592.2C1678.8 593.4 1675.5 596.9 1673.3 599.5C1671.1 602.0 1668.7 605.0 1666.8 607.3C1664.8 609.7 1662.6 612.4 1661.5 613.7C1660.4 615.0 1660.6 614.7 1660.1 615.1C1659.6 615.6 1659.5 615.7 1658.6 616.4C1657.8 617.1 1655.6 618.7 1654.9 619.2M1679.9 642.8C1686.0 642.8 1710.6 642.8 1716.7 642.8M1605.0 602.1C1607.2 602.0 1614.3 601.5 1618.1 601.4C1622.0 601.3 1626.0 601.4 1628.0 601.4C1629.9 601.5 1629.3 601.5 1629.9 601.7C1630.5 601.8 1631.0 602.0 1631.8 602.3C1632.6 602.7 1634.0 603.4 1634.8 603.8C1635.5 604.2 1635.9 604.4 1636.5 604.8C1637.0 605.2 1636.8 604.9 1638.1 606.0C1639.4 607.1 1642.1 609.3 1644.4 611.3C1646.8 613.3 1649.7 615.7 1652.3 617.9C1654.9 620.0 1657.6 622.2 1660.2 624.4C1662.8 626.6 1665.7 628.8 1668.1 631.0C1670.5 633.2 1672.7 635.6 1674.7 637.6C1676.6 639.5 1679.0 642.0 1679.9 642.8M1605.0 620.5C1606.3 620.5 1610.2 620.5 1612.9 620.5C1615.6 620.4 1619.6 620.3 1621.4 620.3C1623.2 620.2 1622.7 620.3 1623.4 620.3C1624.0 620.4 1624.4 620.4 1625.4 620.6C1626.3 620.8 1628.3 621.2 1629.3 621.4C1630.3 621.6 1630.6 621.7 1631.2 621.9C1631.9 622.1 1632.1 622.2 1633.1 622.7C1634.1 623.2 1636.4 624.3 1637.4 624.8C1638.4 625.4 1638.6 625.5 1639.1 625.8C1639.7 626.2 1639.6 626.2 1640.7 627.0C1641.8 627.9 1644.5 630.1 1645.5 631.0C1646.6 631.9 1646.5 631.9 1646.9 632.4C1647.4 632.9 1647.0 632.3 1648.1 634.0C1649.2 635.7 1651.8 639.6 1653.6 642.8C1655.4 646.0 1657.3 650.1 1658.9 653.3C1660.5 656.5 1662.4 660.3 1663.2 662.1C1664.1 663.8 1663.8 663.3 1664.1 663.9C1664.4 664.5 1664.2 664.0 1664.8 665.7C1665.5 667.5 1667.1 671.4 1668.1 674.4C1669.1 677.3 1670.3 682.0 1670.7 683.6M1605.0 637.6C1606.0 637.7 1609.6 638.3 1610.9 638.6C1612.2 638.8 1612.2 638.8 1612.9 638.8C1613.6 638.9 1613.5 638.9 1614.9 639.0C1616.3 639.1 1620.0 639.3 1621.4 639.4C1622.8 639.5 1622.7 639.5 1623.4 639.4C1624.1 639.4 1624.0 639.5 1625.4 639.3C1626.8 639.1 1630.5 638.7 1631.9 638.5C1633.3 638.3 1633.2 638.2 1633.8 638.0C1634.5 637.8 1634.6 637.8 1635.6 637.2C1636.7 636.7 1639.1 635.2 1640.1 634.6C1641.1 634.0 1641.2 633.9 1641.8 633.6C1642.3 633.2 1642.5 633.0 1643.4 632.4C1644.2 631.7 1646.0 630.3 1646.8 629.6C1647.7 629.0 1647.9 628.9 1648.5 628.6C1649.1 628.3 1649.6 628.2 1650.3 628.0C1651.1 627.8 1652.2 627.6 1653.0 627.4C1653.7 627.3 1654.3 627.3 1654.9 627.3C1655.6 627.3 1655.6 627.3 1656.9 627.6C1658.1 627.9 1661.0 628.8 1662.2 629.1C1663.4 629.5 1663.5 629.5 1664.1 629.8C1664.7 630.1 1664.6 630.0 1665.9 630.7C1667.1 631.4 1670.4 633.2 1671.6 633.9C1672.8 634.7 1672.7 634.7 1673.2 635.1C1673.7 635.5 1673.5 635.2 1674.6 636.5C1675.7 637.8 1679.0 641.8 1679.9 642.8M1605.0 631.0C1605.9 630.1 1609.0 626.9 1610.2 625.8C1611.3 624.8 1611.1 625.0 1611.7 624.6C1612.3 624.3 1612.7 624.1 1613.5 623.9C1614.2 623.6 1615.4 623.2 1616.2 623.0C1617.0 622.8 1617.5 622.7 1618.2 622.6C1618.8 622.5 1618.7 622.4 1620.1 622.3C1621.6 622.2 1625.2 622.0 1626.7 621.9C1628.1 621.9 1628.0 621.9 1628.6 622.0C1629.3 622.0 1629.4 622.0 1630.6 622.3C1631.8 622.7 1634.7 623.5 1635.9 623.9C1637.1 624.2 1637.2 624.3 1637.8 624.5C1638.5 624.7 1638.2 624.6 1639.7 625.2C1641.2 625.9 1645.8 627.8 1647.1 628.4M1647.1 683.6C1648.4 682.0 1652.3 677.4 1654.9 674.4C1657.6 671.3 1660.4 668.0 1662.8 665.2C1665.2 662.4 1668.1 659.0 1669.4 657.5C1670.7 655.9 1670.3 656.5 1670.7 655.9C1671.1 655.4 1671.1 655.3 1671.8 654.3C1672.5 653.3 1674.2 650.8 1674.9 649.7C1675.6 648.7 1675.6 648.7 1676.0 648.2C1676.4 647.7 1676.5 647.6 1677.2 646.9C1677.8 646.2 1679.5 644.6 1679.9 644.1M1660.2 634.9C1660.9 636.2 1663.6 640.9 1664.5 642.4C1665.3 643.9 1665.1 643.6 1665.4 644.2C1665.7 644.8 1665.4 644.0 1666.3 646.0C1667.2 647.9 1669.2 652.8 1670.7 656.0C1672.2 659.1 1674.2 662.9 1675.1 664.7C1675.9 666.4 1675.7 665.9 1675.9 666.5C1676.2 667.1 1676.1 666.9 1676.7 668.4C1677.2 669.8 1678.7 673.7 1679.2 675.1C1679.7 676.6 1679.7 676.4 1679.8 677.0C1680.0 677.7 1680.1 677.9 1680.3 679.0C1680.5 680.0 1681.1 682.8 1681.2 683.6" stroke="#4169e1" stroke-width="2.5" stroke-dasharray="7 3.5"/><path d="M1680.4 112.6C1686.3 112.6 1709.6 112.6 1715.4 112.6M1679.9 592.2C1686.0 592.2 1710.6 592.2 1716.7 592.2" stroke="#4169e1" stroke-width="2.5"/></g><clipPath id="cc3"><rect x="1712.0" y="67.8" width="86.8" height="614.4000000000001"/></clipPath><g clip-path="url(#cc3)" fill="none" stroke-linejoin="round"><path d="M1744.5 86.8C1745.2 86.2 1747.7 84.3 1749.1 83.2C1750.5 82.0 1752.2 80.6 1753.1 79.8C1754.0 79.1 1754.1 79.0 1754.5 78.5C1755.0 78.0 1755.3 77.7 1755.9 77.0C1756.4 76.4 1757.4 75.2 1757.9 74.6C1758.5 73.9 1758.7 73.6 1759.1 73.1C1759.5 72.6 1759.6 72.4 1760.2 71.6C1760.7 70.8 1762.0 68.8 1762.4 68.3M1819.0 98.8C1818.1 99.0 1814.8 99.9 1813.6 100.2C1812.4 100.4 1812.3 100.5 1811.6 100.6C1811.0 100.7 1810.8 100.7 1809.7 100.8C1808.5 101.0 1805.6 101.3 1804.4 101.4C1803.2 101.5 1803.1 101.5 1802.4 101.5C1801.8 101.5 1802.3 101.5 1800.4 101.5C1798.6 101.4 1794.4 101.2 1791.4 101.1C1788.4 101.0 1784.9 100.8 1782.2 100.6C1779.5 100.4 1776.5 100.1 1775.0 99.9C1773.5 99.7 1773.7 99.8 1773.0 99.6C1772.4 99.5 1772.0 99.4 1771.1 99.1C1770.2 98.9 1768.5 98.3 1767.6 98.0C1766.6 97.7 1766.3 97.6 1765.7 97.4C1765.0 97.1 1765.0 97.1 1763.8 96.6C1762.6 96.1 1760.4 95.2 1758.3 94.2C1756.1 93.2 1752.9 91.6 1750.9 90.5C1748.9 89.5 1747.3 88.5 1746.2 88.0C1745.2 87.4 1745.0 87.4 1744.4 87.3C1743.8 87.1 1748.5 87.1 1742.5 87.0C1736.5 87.0 1714.3 87.0 1708.6 87.0M1819.0 101.6C1817.5 101.6 1812.9 101.5 1809.8 101.6C1806.7 101.6 1803.7 101.8 1800.6 101.7C1797.5 101.7 1794.5 101.6 1791.4 101.4C1788.3 101.2 1784.9 100.9 1782.2 100.6C1779.5 100.4 1776.5 100.2 1775.0 100.1C1773.5 100.0 1773.7 100.0 1773.2 100.0C1772.7 100.0 1772.4 100.1 1771.9 100.1C1771.4 100.2 1770.9 100.3 1770.4 100.4C1770.0 100.5 1769.6 100.6 1769.2 100.8C1768.7 101.0 1768.3 101.2 1767.7 101.5C1767.0 101.8 1766.1 102.2 1765.5 102.6C1764.8 102.9 1764.4 103.2 1763.8 103.5C1763.3 103.9 1762.9 104.1 1762.3 104.7C1761.6 105.2 1760.5 106.2 1759.8 106.7C1759.2 107.3 1758.8 107.6 1758.3 108.1C1757.9 108.5 1757.9 108.5 1757.0 109.5C1756.1 110.6 1754.2 112.5 1752.8 114.4C1751.3 116.3 1749.4 119.3 1748.2 120.9C1747.0 122.5 1746.2 123.4 1745.6 124.1C1744.9 124.8 1744.8 124.9 1744.3 125.1C1743.7 125.4 1748.4 125.4 1742.5 125.5C1736.5 125.5 1714.3 125.5 1708.6 125.5M1819.0 119.0C1818.3 118.5 1816.0 116.5 1815.0 115.7C1814.1 115.0 1814.0 114.9 1813.4 114.6C1812.8 114.3 1812.5 114.2 1811.6 113.8C1810.7 113.5 1808.9 113.0 1808.0 112.7C1807.1 112.5 1806.7 112.4 1806.1 112.3C1805.4 112.2 1805.0 112.2 1804.1 112.1C1803.2 112.1 1801.6 112.1 1800.8 112.1C1799.9 112.2 1799.5 112.2 1798.8 112.3C1798.2 112.4 1797.8 112.6 1797.1 112.8C1796.4 113.1 1795.5 113.5 1794.9 113.7C1794.3 114.0 1793.8 114.3 1793.3 114.6C1792.8 115.0 1792.4 115.3 1791.9 115.8C1791.3 116.3 1790.5 117.1 1790.0 117.7C1789.5 118.2 1789.1 118.6 1788.7 119.1C1788.3 119.6 1788.2 119.8 1787.5 120.7C1786.9 121.6 1785.9 123.1 1785.0 124.6C1784.1 126.0 1783.0 127.8 1782.2 129.2C1781.4 130.5 1780.7 132.2 1780.4 132.8M1743.6 126.4C1744.5 127.7 1747.2 131.7 1749.1 134.2C1750.9 136.7 1752.8 139.0 1754.6 141.6C1756.4 144.2 1758.3 147.1 1760.1 149.8C1762.0 152.6 1763.8 155.5 1765.6 158.1C1767.5 160.7 1769.5 163.4 1771.2 165.5C1772.8 167.5 1774.5 169.4 1775.4 170.4C1776.3 171.4 1776.2 171.3 1776.6 171.7C1777.0 172.0 1777.2 172.1 1777.8 172.5C1778.4 172.8 1779.9 173.5 1780.4 173.8M1743.6 160.9C1737.7 160.9 1714.4 160.9 1708.6 160.9M1743.6 160.9C1744.6 160.6 1747.9 159.7 1750.0 159.0C1752.1 158.4 1754.5 157.8 1756.4 157.2C1758.4 156.5 1760.7 155.6 1761.9 155.1C1763.1 154.7 1763.2 154.6 1763.7 154.3C1764.3 154.0 1764.8 153.7 1765.5 153.3C1766.1 152.9 1767.0 152.3 1767.7 151.9C1768.3 151.4 1768.7 151.1 1769.2 150.6C1769.6 150.2 1769.8 150.0 1770.4 149.1C1771.1 148.2 1772.0 147.0 1773.0 145.2C1774.0 143.5 1775.5 140.9 1776.7 138.8C1777.9 136.7 1779.1 134.7 1780.4 132.4C1781.6 130.1 1783.4 126.2 1784.0 125.0M1743.6 161.3C1744.3 161.7 1747.1 163.1 1748.2 163.7C1749.3 164.2 1749.4 164.3 1750.0 164.6C1750.5 165.0 1750.8 165.2 1751.6 165.7C1752.4 166.3 1754.0 167.4 1754.8 168.0C1755.6 168.6 1755.9 168.7 1756.5 169.1C1757.1 169.4 1757.3 169.6 1758.2 170.1C1759.2 170.5 1761.1 171.5 1762.0 171.9C1762.9 172.4 1763.2 172.5 1763.8 172.7C1764.5 172.9 1764.6 173.0 1765.8 173.2C1767.0 173.5 1769.8 174.1 1771.0 174.3C1772.2 174.5 1772.4 174.5 1773.0 174.5C1773.7 174.5 1774.1 174.5 1775.0 174.4C1775.9 174.3 1777.5 174.1 1778.4 174.0C1779.3 173.9 1779.7 173.8 1780.3 173.6C1781.0 173.5 1781.4 173.3 1782.2 173.0C1783.0 172.7 1784.2 172.1 1785.0 171.8C1785.7 171.4 1786.2 171.2 1786.8 170.9C1787.4 170.7 1787.7 170.4 1788.5 170.0C1789.3 169.6 1790.7 168.7 1791.5 168.3C1792.3 167.9 1792.7 167.7 1793.3 167.5C1793.9 167.2 1794.3 167.1 1795.2 166.9C1796.1 166.8 1797.7 166.5 1798.6 166.3C1799.5 166.1 1799.9 166.1 1800.6 166.0C1801.3 165.9 1801.1 165.9 1802.6 165.8C1804.1 165.8 1807.1 165.7 1809.8 165.5C1812.5 165.3 1817.5 164.7 1819.0 164.6M1819.0 168.2C1818.6 168.9 1817.1 171.2 1816.4 172.1C1815.8 173.0 1815.7 173.2 1815.2 173.7C1814.8 174.2 1814.6 174.5 1813.9 175.2C1813.2 175.9 1811.9 177.2 1811.2 177.9C1810.5 178.5 1810.2 178.8 1809.7 179.1C1809.2 179.5 1808.7 179.7 1808.0 180.1C1807.2 180.4 1806.0 181.0 1805.2 181.2C1804.4 181.5 1804.0 181.7 1803.3 181.8C1802.7 182.0 1802.2 182.0 1801.4 182.0C1800.5 182.1 1798.9 182.1 1798.0 182.0C1797.1 182.0 1796.7 182.0 1796.0 181.9C1795.4 181.7 1795.0 181.6 1794.1 181.3C1793.2 181.0 1791.4 180.3 1790.5 180.0C1789.6 179.6 1789.3 179.5 1788.7 179.2C1788.1 178.9 1788.0 178.9 1786.9 178.3C1785.8 177.7 1783.6 176.4 1782.2 175.6C1780.8 174.8 1779.1 174.1 1778.5 173.8M1819.0 210.8C1817.6 210.1 1812.1 207.6 1810.3 206.9C1808.5 206.1 1809.1 206.4 1808.4 206.2C1807.8 206.0 1808.2 206.0 1806.5 205.8C1804.7 205.6 1800.8 205.1 1798.0 205.0C1795.1 204.8 1791.2 205.0 1789.5 205.0C1787.7 204.9 1788.1 204.9 1787.5 204.8C1786.9 204.6 1787.1 204.8 1785.7 204.1C1784.3 203.4 1781.1 201.7 1779.0 200.8C1777.0 199.8 1774.7 198.9 1773.5 198.4C1772.3 197.9 1772.3 198.0 1771.7 197.9C1771.0 197.8 1770.5 197.9 1769.8 197.9C1769.0 198.0 1768.0 198.2 1767.3 198.4C1766.5 198.5 1766.0 198.7 1765.5 198.9C1764.9 199.2 1764.8 199.3 1764.0 200.1C1763.1 200.9 1761.6 202.3 1760.1 203.9C1758.6 205.5 1756.2 208.6 1755.1 209.8C1754.0 211.0 1754.2 210.8 1753.7 211.2C1753.3 211.7 1753.0 211.9 1752.3 212.6C1751.5 213.2 1749.8 214.6 1749.0 215.3C1748.2 215.9 1748.0 216.1 1747.6 216.4C1747.1 216.7 1746.7 216.9 1746.2 217.2C1745.7 217.5 1745.1 217.8 1744.5 218.0C1744.0 218.2 1743.6 218.4 1743.1 218.5C1742.6 218.6 1747.0 218.6 1741.3 218.7C1735.5 218.7 1714.0 218.7 1708.6 218.7M1819.0 210.2C1817.6 210.0 1812.2 208.9 1810.4 208.5C1808.7 208.2 1809.1 208.3 1808.5 208.3C1807.8 208.2 1807.9 208.2 1806.5 208.2C1805.1 208.3 1801.4 208.5 1800.0 208.6C1798.5 208.6 1798.6 208.6 1798.0 208.5C1797.3 208.5 1797.5 208.5 1796.0 208.2C1794.6 207.8 1790.8 206.8 1789.4 206.5C1788.0 206.2 1788.1 206.3 1787.4 206.2C1786.8 206.2 1786.6 206.2 1785.5 206.4C1784.4 206.6 1782.1 207.0 1781.0 207.2C1779.9 207.5 1779.7 207.5 1779.1 207.7C1778.5 208.0 1778.5 207.9 1777.2 208.5C1776.0 209.1 1773.8 210.1 1771.7 211.3C1769.5 212.5 1766.6 214.2 1764.3 215.5C1762.0 216.8 1759.1 218.1 1757.7 218.8C1756.3 219.5 1756.5 219.3 1755.9 219.5C1755.3 219.7 1754.7 219.8 1754.0 219.9C1753.3 220.0 1752.2 220.0 1751.5 220.1C1750.7 220.1 1750.2 220.1 1749.6 220.1C1749.0 220.0 1748.8 220.0 1747.7 219.8C1746.6 219.5 1744.0 218.8 1743.3 218.7M1819.0 512.3C1818.0 511.8 1814.2 509.9 1812.9 509.3C1811.6 508.7 1811.7 508.7 1811.1 508.5C1810.4 508.3 1810.4 508.3 1809.2 508.0C1808.0 507.7 1805.1 507.1 1803.9 506.8C1802.7 506.6 1802.6 506.6 1801.9 506.6C1801.3 506.6 1801.2 506.6 1800.0 506.8C1798.8 507.1 1795.9 507.7 1794.7 508.0C1793.5 508.3 1793.4 508.3 1792.9 508.6C1792.3 509.0 1792.4 508.8 1791.3 509.8C1790.2 510.9 1787.3 513.8 1786.2 514.9C1785.2 516.0 1785.3 515.8 1784.9 516.3C1784.4 516.8 1785.0 516.1 1783.6 517.9C1782.3 519.6 1779.4 523.3 1776.9 526.8C1774.5 530.3 1771.7 534.9 1769.1 538.6C1766.4 542.4 1763.8 545.9 1761.2 549.1C1758.5 552.4 1755.7 555.7 1753.3 558.3C1750.9 561.0 1748.1 563.5 1746.8 564.8C1745.5 566.1 1745.9 565.7 1745.4 565.9C1744.9 566.2 1744.4 566.3 1743.8 566.5C1743.2 566.6 1742.4 566.7 1741.7 566.8C1741.1 566.9 1740.6 566.9 1740.0 567.0C1739.4 567.0 1743.6 567.0 1738.1 567.0C1732.7 567.0 1712.4 567.0 1707.3 567.0M1745.4 567.8C1744.8 567.9 1742.6 568.2 1741.7 568.3C1740.8 568.4 1740.6 568.4 1740.0 568.4C1739.4 568.4 1743.6 568.5 1738.1 568.5C1732.7 568.5 1712.4 568.5 1707.3 568.5M1819.0 568.9C1817.6 568.7 1812.2 568.0 1810.5 567.8C1808.7 567.6 1809.1 567.6 1808.5 567.6C1807.8 567.6 1807.9 567.6 1806.5 567.5C1805.1 567.5 1801.4 567.5 1800.0 567.5C1798.6 567.6 1798.6 567.6 1798.0 567.7C1797.3 567.7 1797.8 567.6 1796.0 568.0C1794.3 568.4 1790.2 569.4 1787.5 570.2C1784.7 571.0 1781.9 572.0 1779.6 572.8C1777.3 573.6 1774.9 574.4 1773.6 574.8C1772.3 575.2 1772.3 575.1 1771.7 575.2C1771.0 575.2 1770.7 575.2 1769.7 575.1C1768.7 575.0 1766.8 574.6 1765.8 574.4C1764.8 574.3 1764.5 574.2 1763.8 574.0C1763.2 573.8 1763.3 573.9 1762.0 573.3C1760.6 572.8 1757.9 571.6 1755.9 570.8C1753.9 570.1 1751.2 569.2 1749.9 568.8C1748.6 568.4 1748.7 568.4 1748.1 568.3C1747.5 568.2 1747.3 568.1 1746.5 568.0C1745.6 567.9 1743.4 567.6 1742.8 567.5M1795.3 591.2C1794.3 590.3 1790.3 587.0 1789.0 585.9C1787.7 584.8 1787.9 585.1 1787.4 584.7C1786.8 584.4 1786.7 584.3 1785.7 583.7C1784.7 583.2 1782.4 582.1 1781.4 581.6C1780.3 581.1 1780.2 581.0 1779.5 580.8C1778.9 580.6 1778.9 580.5 1777.6 580.2C1776.3 579.9 1773.7 579.2 1771.7 578.7C1769.7 578.2 1767.1 577.6 1765.7 577.2C1764.4 576.9 1764.5 576.9 1763.8 576.6C1763.2 576.4 1763.3 576.5 1762.0 575.8C1760.7 575.2 1758.2 574.0 1755.9 572.8C1753.6 571.6 1749.3 569.5 1748.0 568.9M1783.5 591.2C1782.7 590.3 1779.5 587.1 1778.4 586.0C1777.3 585.0 1777.4 585.1 1776.9 584.7C1776.4 584.3 1776.3 584.2 1775.3 583.5C1774.3 582.8 1771.8 581.2 1770.7 580.5C1769.7 579.8 1769.6 579.8 1769.0 579.4C1768.5 579.1 1768.6 579.1 1767.3 578.5C1766.0 577.8 1763.2 576.4 1761.2 575.4C1759.1 574.4 1756.4 573.0 1755.1 572.4C1753.8 571.7 1753.9 571.8 1753.3 571.5C1752.7 571.3 1752.7 571.3 1751.4 570.8C1750.1 570.3 1746.4 569.0 1745.4 568.6M1748.0 647.3C1741.2 647.3 1714.1 647.3 1707.3 647.3M1748.0 648.9C1741.2 648.9 1714.1 648.9 1707.3 648.9M1819.0 590.3C1816.8 590.1 1809.9 589.6 1805.9 589.6C1801.8 589.6 1796.9 590.0 1794.7 590.2C1792.5 590.3 1793.4 590.3 1792.7 590.4C1792.1 590.5 1791.8 590.5 1790.8 590.7C1789.8 591.0 1787.7 591.5 1786.8 591.7C1785.8 592.0 1785.5 592.1 1785.0 592.5C1784.4 592.8 1784.6 592.6 1783.5 593.7C1782.4 594.8 1779.4 598.1 1778.3 599.3C1777.2 600.5 1777.4 600.3 1777.0 600.8C1776.6 601.4 1777.0 600.7 1775.9 602.5C1774.8 604.2 1772.0 608.6 1770.4 611.3C1768.7 614.0 1767.0 617.2 1766.1 618.7C1765.2 620.3 1765.5 619.9 1765.2 620.5C1764.9 621.1 1764.9 621.1 1764.3 622.3C1763.8 623.5 1762.5 626.6 1762.0 627.8C1761.4 629.1 1761.4 629.1 1761.1 629.6C1760.8 630.2 1760.9 630.0 1760.1 631.3C1759.2 632.7 1757.5 635.4 1755.9 637.6C1754.3 639.7 1752.1 642.4 1750.7 644.1C1749.2 645.9 1747.9 647.4 1747.4 648.1M1782.2 591.6C1781.4 590.9 1778.2 588.4 1777.2 587.6C1776.1 586.7 1776.2 586.8 1775.9 586.5C1775.6 586.2 1775.5 586.1 1775.2 585.7C1775.0 585.4 1774.5 584.6 1774.3 584.3M1794.0 600.8C1792.9 601.9 1789.9 604.9 1787.5 607.3C1785.0 609.8 1782.4 612.4 1779.6 615.2C1776.7 618.1 1773.2 621.6 1770.4 624.4C1767.5 627.3 1764.9 629.9 1762.5 632.3C1760.1 634.7 1758.1 636.7 1755.9 638.9C1753.7 641.1 1750.4 644.4 1749.3 645.5M1819.0 658.6C1816.8 658.6 1810.2 658.7 1805.9 658.6C1801.5 658.5 1797.1 658.3 1792.7 657.9C1788.3 657.6 1784.0 657.2 1779.6 656.6C1775.2 656.1 1770.0 655.3 1766.4 654.7C1762.8 654.1 1759.6 653.4 1757.9 653.1C1756.1 652.7 1756.6 652.8 1756.0 652.6C1755.4 652.5 1755.2 652.4 1754.3 652.1C1753.4 651.8 1751.3 650.9 1750.7 650.7M1819.0 671.7C1818.0 671.0 1814.1 668.4 1812.8 667.6C1811.5 666.7 1811.6 666.9 1811.0 666.7C1810.4 666.4 1810.9 666.5 1809.1 666.1C1807.4 665.8 1803.0 665.0 1800.6 664.5C1798.2 664.0 1795.9 663.4 1794.7 663.0C1793.4 662.7 1793.4 662.6 1792.8 662.3C1792.3 662.0 1792.6 662.4 1791.3 661.1C1790.0 659.9 1787.0 656.8 1784.8 654.7C1782.7 652.5 1779.7 649.5 1778.4 648.2C1777.0 646.9 1777.4 647.3 1776.9 646.9C1776.3 646.5 1776.2 646.4 1775.2 645.8C1774.2 645.1 1771.8 643.7 1770.8 643.2C1769.7 642.6 1769.6 642.6 1769.0 642.4C1768.4 642.2 1768.0 642.1 1767.1 642.0C1766.1 641.9 1764.1 641.7 1763.2 641.7C1762.2 641.6 1761.8 641.6 1761.2 641.7C1760.5 641.8 1760.0 641.9 1759.3 642.1C1758.5 642.3 1757.3 642.7 1756.5 642.9C1755.8 643.2 1755.3 643.3 1754.7 643.6C1754.1 643.8 1753.9 643.9 1753.0 644.5C1752.1 645.0 1750.0 646.4 1749.3 646.8M1829.5 594.9C1828.6 594.5 1825.1 593.1 1823.8 592.6C1822.6 592.1 1822.6 592.1 1822.0 591.9C1821.3 591.8 1821.8 591.8 1820.0 591.6C1818.2 591.4 1814.9 590.9 1811.4 590.7C1807.9 590.5 1802.0 590.5 1798.8 590.5C1795.6 590.5 1793.8 590.8 1792.4 590.9C1791.0 591.0 1791.1 591.0 1790.4 591.1C1789.8 591.2 1789.6 591.2 1788.5 591.5C1787.5 591.7 1784.8 592.4 1784.1 592.6M1837.7 591.5C1836.6 592.1 1832.5 594.1 1831.1 594.8C1829.7 595.5 1829.9 595.4 1829.3 595.6C1828.6 595.9 1828.3 596.0 1827.4 596.3C1826.5 596.5 1824.8 597.0 1823.9 597.2C1823.0 597.5 1822.6 597.6 1822.0 597.7C1821.3 597.9 1821.4 597.9 1820.0 598.0C1818.6 598.2 1814.8 598.7 1813.4 598.9C1811.9 599.0 1812.1 599.0 1811.4 599.0C1810.7 599.1 1810.8 599.1 1809.4 599.1C1808.0 599.1 1804.3 599.1 1802.9 599.1C1801.5 599.1 1801.6 599.1 1800.9 599.0C1800.3 598.9 1799.7 598.7 1799.0 598.6C1798.3 598.4 1797.2 598.1 1796.5 597.8C1795.8 597.6 1795.2 597.5 1794.6 597.2C1794.0 597.0 1793.8 597.0 1792.8 596.5C1791.7 596.1 1789.7 595.4 1788.3 594.7C1786.9 594.0 1784.8 593.0 1784.1 592.6" stroke="#ff7d42" stroke-width="2.5"/><path d="M1743.6 70.7C1737.7 70.7 1714.4 70.7 1708.6 70.7M1743.6 70.7C1744.2 71.4 1746.7 73.6 1747.6 74.4C1748.5 75.3 1748.6 75.4 1749.0 75.9C1749.5 76.4 1749.6 76.4 1750.3 77.4C1751.0 78.3 1752.7 80.6 1753.4 81.6C1754.1 82.5 1754.2 82.6 1754.6 83.2C1754.9 83.7 1755.1 84.1 1755.6 84.9C1756.1 85.7 1756.8 87.1 1757.3 87.9C1757.7 88.6 1758.0 89.0 1758.3 89.5C1758.7 90.0 1759.0 90.4 1759.4 91.0C1759.8 91.5 1760.4 92.3 1760.9 92.8C1761.3 93.4 1761.6 93.8 1761.9 94.3C1762.2 94.8 1762.4 95.3 1762.8 96.0C1763.1 96.8 1763.6 98.1 1763.9 98.8C1764.3 99.5 1764.5 99.9 1764.7 100.4C1765.0 100.8 1765.2 101.1 1765.6 101.5C1765.9 101.8 1766.3 102.2 1766.7 102.6C1767.0 102.9 1767.2 103.2 1767.6 103.5C1767.9 103.9 1768.2 104.3 1768.6 104.8C1769.0 105.3 1769.6 106.1 1770.1 106.6C1770.5 107.2 1770.8 107.6 1771.1 108.1C1771.5 108.6 1771.5 108.7 1772.2 109.7C1772.8 110.8 1773.8 112.6 1774.8 114.4C1775.9 116.3 1777.5 119.2 1778.5 120.9C1779.6 122.6 1780.5 123.8 1781.1 124.7C1781.7 125.7 1781.8 125.9 1782.1 126.4C1782.4 127.0 1782.5 127.2 1783.0 128.2C1783.5 129.3 1784.6 132.1 1785.0 132.8M1750.9 68.6C1751.5 69.7 1753.6 73.2 1754.6 74.9C1755.6 76.6 1756.6 77.8 1757.2 78.7C1757.8 79.7 1757.9 79.8 1758.1 80.4C1758.4 81.0 1758.6 81.4 1758.8 82.1C1759.1 82.7 1759.4 83.6 1759.6 84.3C1759.8 84.9 1759.9 85.3 1759.9 85.8C1760.0 86.2 1760.0 86.4 1759.8 87.0C1759.7 87.7 1759.3 89.2 1759.2 89.6M1763.8 68.6C1763.2 69.7 1761.2 73.2 1760.1 74.9C1759.1 76.6 1758.1 77.8 1757.5 78.7C1756.9 79.7 1756.8 79.9 1756.5 80.4C1756.2 81.0 1756.3 80.7 1755.7 82.3C1755.1 83.8 1753.9 86.8 1752.8 89.6C1751.7 92.4 1750.3 95.9 1749.1 98.8C1747.9 101.7 1746.3 104.8 1745.4 107.1C1744.5 109.4 1743.9 111.7 1743.6 112.6M1784.0 83.2C1783.4 84.1 1781.6 87.0 1780.4 88.7C1779.1 90.4 1777.7 92.0 1776.7 93.3C1775.6 94.6 1774.7 95.7 1774.1 96.5C1773.5 97.3 1773.4 97.4 1773.0 97.8C1772.6 98.2 1772.3 98.5 1771.9 99.0C1771.5 99.4 1770.9 100.0 1770.4 100.5C1770.0 100.9 1769.7 101.2 1769.3 101.6C1769.0 102.0 1768.8 102.2 1768.2 102.9C1767.6 103.7 1766.5 105.0 1765.6 106.2C1764.8 107.3 1763.7 109.1 1763.1 110.0C1762.5 110.9 1762.3 111.1 1762.0 111.5C1761.6 112.0 1761.3 112.3 1760.9 112.8C1760.4 113.2 1759.8 113.8 1759.4 114.3C1759.0 114.7 1758.7 114.9 1758.3 115.2C1757.9 115.5 1757.8 115.6 1757.2 115.9C1756.6 116.2 1755.0 117.0 1754.6 117.2M1819.0 83.2C1818.4 82.7 1816.1 81.2 1815.1 80.6C1814.2 80.0 1814.0 79.9 1813.5 79.6C1812.9 79.3 1812.7 79.3 1811.8 78.9C1810.9 78.6 1809.8 78.2 1808.0 77.6C1806.1 77.1 1803.4 76.4 1800.6 75.8C1797.8 75.2 1794.1 74.6 1791.4 74.0C1788.7 73.3 1785.6 72.2 1784.1 71.8C1782.6 71.3 1782.9 71.4 1782.3 71.2C1781.7 70.9 1781.5 70.8 1780.5 70.4C1779.6 70.0 1777.3 68.9 1776.7 68.6M1819.0 80.4C1817.5 80.6 1812.5 81.0 1809.8 81.3C1807.1 81.6 1804.1 81.9 1802.6 82.0C1801.1 82.2 1801.3 82.1 1800.6 82.1C1799.9 82.1 1799.8 82.1 1798.6 82.0C1797.4 81.9 1794.6 81.7 1793.4 81.5C1792.2 81.4 1792.1 81.3 1791.4 81.2C1790.8 81.0 1790.4 80.9 1789.5 80.6C1788.6 80.3 1786.8 79.6 1785.9 79.3C1785.0 78.9 1784.7 78.7 1784.2 78.4C1783.6 78.0 1783.2 77.7 1782.7 77.2C1782.1 76.7 1781.4 75.9 1780.8 75.3C1780.3 74.8 1779.9 74.4 1779.4 74.0C1779.0 73.6 1778.6 73.3 1778.1 72.9C1777.5 72.4 1776.7 71.8 1776.2 71.4C1775.7 71.0 1775.3 70.7 1774.9 70.4C1774.5 70.2 1774.4 70.1 1773.7 69.8C1773.1 69.5 1771.6 68.8 1771.2 68.6M1816.2 70.3C1815.2 70.4 1812.1 70.9 1809.8 71.2C1807.5 71.5 1804.1 71.8 1802.6 71.9C1801.1 72.1 1801.3 72.1 1800.7 72.2C1800.1 72.3 1799.6 72.5 1798.9 72.7C1798.3 72.9 1797.4 73.2 1796.7 73.4C1796.1 73.6 1795.6 73.8 1795.1 74.0C1794.5 74.3 1794.1 74.5 1793.4 74.8C1792.8 75.1 1791.8 75.6 1791.2 75.9C1790.6 76.2 1790.1 76.5 1789.6 76.8C1789.1 77.1 1788.7 77.4 1788.2 77.8C1787.6 78.2 1786.8 78.9 1786.3 79.3C1785.8 79.7 1785.5 80.0 1785.2 80.3C1784.8 80.7 1784.8 80.8 1784.4 81.2C1784.1 81.7 1783.3 82.8 1783.1 83.2M1819.0 120.9C1818.4 121.3 1816.1 122.9 1815.1 123.5C1814.2 124.1 1814.0 124.2 1813.5 124.5C1812.9 124.8 1812.5 125.1 1811.8 125.4C1811.2 125.7 1810.3 126.2 1809.6 126.5C1809.0 126.8 1808.5 127.0 1807.9 127.2C1807.3 127.5 1806.9 127.6 1806.0 127.8C1805.1 128.0 1803.4 128.5 1802.5 128.7C1801.6 128.9 1801.2 129.0 1800.6 129.1C1799.9 129.2 1800.1 129.2 1798.6 129.4C1797.1 129.5 1793.5 129.8 1791.4 130.1C1789.3 130.4 1786.8 130.8 1785.9 131.0M1774.8 132.8C1774.1 131.9 1771.5 128.3 1770.5 127.1C1769.6 125.9 1769.7 126.0 1769.3 125.5C1768.8 125.0 1768.6 124.8 1767.9 124.1C1767.2 123.4 1765.9 122.0 1765.2 121.4C1764.5 120.7 1764.3 120.5 1763.7 120.0C1763.2 119.6 1762.8 119.3 1762.1 118.9C1761.5 118.4 1760.6 117.8 1759.9 117.4C1759.3 117.0 1758.8 116.7 1758.3 116.4C1757.7 116.1 1757.3 116.0 1756.6 115.7C1756.0 115.5 1755.1 115.2 1754.4 115.0C1753.8 114.8 1753.3 114.6 1752.8 114.5C1752.2 114.4 1752.0 114.3 1751.1 114.2C1750.2 114.0 1748.5 113.7 1747.2 113.5C1746.0 113.3 1744.2 113.1 1743.6 113.1M1756.4 132.8C1755.8 131.8 1753.8 128.1 1752.8 126.4C1751.7 124.7 1750.8 123.4 1750.2 122.5C1749.6 121.6 1749.5 121.5 1749.1 121.0C1748.7 120.6 1748.4 120.2 1748.0 119.8C1747.5 119.3 1746.9 118.7 1746.5 118.3C1746.1 117.9 1745.8 117.6 1745.5 117.3C1745.1 117.1 1745.0 117.0 1744.6 116.6C1744.1 116.3 1743.0 115.6 1742.6 115.4M1742.6 152.1C1737.0 152.1 1714.3 152.1 1708.6 152.1M1742.6 152.1C1743.7 151.8 1747.1 150.5 1749.1 149.8C1751.1 149.1 1753.0 148.5 1754.6 148.0C1756.2 147.5 1757.5 147.0 1758.5 146.7C1759.4 146.4 1759.6 146.4 1760.2 146.2C1760.8 146.1 1760.9 146.1 1762.1 145.9C1763.3 145.7 1765.7 145.5 1767.5 145.2C1769.3 145.0 1772.1 144.5 1773.0 144.3M1743.6 170.5C1737.7 170.5 1714.4 170.5 1708.6 170.5M1743.6 170.5C1744.2 170.8 1746.5 171.8 1747.4 172.1C1748.3 172.5 1748.5 172.6 1749.1 172.7C1749.6 172.8 1750.1 172.8 1750.7 172.8C1751.4 172.9 1752.3 172.9 1752.9 172.8C1753.6 172.8 1754.1 172.8 1754.7 172.7C1755.3 172.6 1755.7 172.6 1756.5 172.4C1757.4 172.1 1759.1 171.7 1760.0 171.5C1760.9 171.2 1761.3 171.1 1761.9 170.9C1762.6 170.7 1762.9 170.6 1763.8 170.3C1764.8 170.0 1766.5 169.3 1767.4 168.9C1768.4 168.6 1768.7 168.5 1769.3 168.2C1769.9 167.9 1770.2 167.8 1771.1 167.3C1772.0 166.9 1774.0 165.9 1774.9 165.5C1775.8 165.0 1776.1 164.9 1776.7 164.6C1777.3 164.4 1777.7 164.3 1778.6 164.0C1779.5 163.7 1781.2 163.1 1782.1 162.9C1783.0 162.6 1783.4 162.5 1784.1 162.3C1784.7 162.2 1785.1 162.1 1786.0 161.9C1786.9 161.7 1788.5 161.4 1789.4 161.2C1790.3 161.1 1790.7 161.0 1791.4 160.9C1792.1 160.9 1792.5 160.8 1793.4 160.8C1794.3 160.7 1795.9 160.6 1796.8 160.5C1797.7 160.5 1798.1 160.5 1798.7 160.6C1799.4 160.6 1799.9 160.7 1800.7 160.8C1801.4 161.0 1802.5 161.2 1803.3 161.4C1804.0 161.6 1804.5 161.7 1805.1 162.0C1805.6 162.4 1805.8 162.4 1806.6 163.2C1807.5 164.0 1809.4 166.0 1810.2 166.8C1811.1 167.7 1811.1 167.8 1811.6 168.3C1812.0 168.8 1811.8 168.5 1812.7 169.9C1813.7 171.3 1816.4 175.4 1817.2 176.5M1819.0 152.6C1817.5 152.6 1812.9 152.6 1809.8 152.6C1806.7 152.6 1803.7 152.7 1800.6 152.6C1797.5 152.5 1794.8 152.3 1791.4 152.1C1788.0 152.0 1783.4 151.7 1780.4 151.7C1777.3 151.7 1774.7 151.9 1773.2 152.0C1771.6 152.1 1771.8 152.1 1771.2 152.3C1770.5 152.4 1770.2 152.5 1769.3 152.7C1768.3 153.0 1766.6 153.5 1765.7 153.8C1764.8 154.2 1764.5 154.3 1763.9 154.6C1763.3 154.9 1763.4 154.7 1762.2 155.6C1761.0 156.5 1758.1 158.7 1756.4 160.0C1754.8 161.2 1753.3 162.5 1752.5 163.3C1751.6 164.0 1751.5 164.1 1751.1 164.5C1750.7 164.9 1750.6 165.0 1750.1 165.7C1749.6 166.3 1748.5 167.8 1748.2 168.2M1819.0 136.0C1817.5 136.0 1812.5 136.0 1809.8 136.0C1807.1 136.0 1804.1 136.1 1802.6 136.0C1801.1 136.0 1801.3 136.0 1800.6 135.9C1800.0 135.8 1799.6 135.8 1798.7 135.6C1797.8 135.3 1796.1 134.9 1795.2 134.7C1794.3 134.4 1793.9 134.3 1793.4 134.1C1792.8 133.9 1792.7 133.8 1791.9 133.4C1791.1 132.9 1789.7 132.1 1788.6 131.4C1787.6 130.8 1786.2 130.0 1785.4 129.5C1784.7 129.0 1784.5 128.9 1784.1 128.6C1783.7 128.3 1783.6 128.2 1782.9 127.6C1782.3 127.0 1780.8 125.4 1780.4 125.0M1814.4 125.0C1813.9 125.3 1812.0 126.5 1811.2 126.9C1810.4 127.4 1810.2 127.4 1809.7 127.7C1809.1 127.9 1809.3 127.8 1807.8 128.2C1806.3 128.5 1803.0 129.1 1800.6 129.6C1798.2 130.1 1794.9 130.7 1793.4 131.0C1791.8 131.4 1792.1 131.4 1791.5 131.6C1790.9 131.9 1790.8 132.0 1789.8 132.6C1788.8 133.3 1786.6 135.0 1785.6 135.8C1784.7 136.5 1784.6 136.6 1784.1 137.0C1783.6 137.4 1783.4 137.6 1782.7 138.3C1781.9 139.1 1780.0 141.0 1779.4 141.6M1768.4 125.0C1769.2 126.2 1771.6 130.0 1773.0 132.4C1774.4 134.7 1775.9 137.5 1776.6 138.9C1777.4 140.3 1777.3 140.0 1777.6 140.6C1778.0 141.2 1778.0 141.2 1778.8 142.3C1779.5 143.3 1780.9 145.2 1782.2 147.1C1783.5 149.0 1785.5 151.6 1786.8 153.5C1788.1 155.4 1789.4 157.3 1790.2 158.3C1791.0 159.4 1791.1 159.4 1791.6 159.8C1792.0 160.2 1792.0 160.2 1793.2 160.9C1794.4 161.5 1797.6 163.0 1798.8 163.7C1800.0 164.3 1800.0 164.3 1800.6 164.6C1801.1 165.0 1801.0 164.8 1802.2 165.7C1803.5 166.6 1806.9 169.0 1808.2 169.9C1809.4 170.7 1809.2 170.6 1809.8 171.0C1810.3 171.5 1810.1 171.2 1811.3 172.3C1812.5 173.4 1816.2 176.6 1817.2 177.4M1752.8 125.0C1753.4 126.2 1755.2 129.8 1756.4 132.4C1757.7 135.0 1758.9 137.9 1760.1 140.6C1761.3 143.4 1762.7 146.6 1763.8 148.9C1764.9 151.2 1766.0 153.3 1766.6 154.5C1767.2 155.7 1767.2 155.7 1767.5 156.2C1767.9 156.8 1767.7 156.6 1768.6 157.9C1769.5 159.3 1771.3 162.1 1773.0 164.6C1774.7 167.0 1777.0 170.5 1778.5 172.8C1780.1 175.1 1780.7 176.2 1782.2 178.4C1783.7 180.5 1785.9 183.4 1787.7 185.7C1789.6 188.0 1791.7 190.5 1793.2 192.2C1794.8 193.8 1796.3 195.2 1796.9 195.8M1745.4 152.6C1746.0 153.8 1747.9 157.4 1749.1 160.0C1750.3 162.6 1751.5 165.5 1752.8 168.2C1754.0 171.0 1755.2 173.8 1756.4 176.5C1757.7 179.3 1759.0 182.0 1760.1 184.8C1761.2 187.6 1762.4 191.7 1762.9 193.1M1819.0 184.8C1818.3 185.4 1815.9 187.4 1815.0 188.1C1814.1 188.9 1814.0 189.0 1813.5 189.4C1812.9 189.8 1812.5 190.1 1811.8 190.5C1811.2 190.9 1810.3 191.6 1809.6 192.0C1809.0 192.4 1808.5 192.6 1807.9 192.9C1807.3 193.1 1806.9 193.2 1806.0 193.3C1805.1 193.5 1803.5 193.6 1802.6 193.7C1801.7 193.9 1801.3 193.9 1800.7 193.9C1800.1 194.0 1799.9 194.0 1798.9 194.0C1798.0 194.0 1795.7 194.0 1795.1 194.0M1819.0 186.1C1818.2 186.7 1815.3 189.2 1814.2 190.0C1813.2 190.9 1813.2 190.8 1812.6 191.2C1812.1 191.5 1811.8 191.7 1810.9 192.1C1809.9 192.5 1808.1 193.3 1807.2 193.7C1806.2 194.0 1805.9 194.1 1805.3 194.3C1804.7 194.5 1804.2 194.5 1803.3 194.6C1802.4 194.7 1800.9 194.8 1800.0 194.8C1799.1 194.9 1798.6 194.9 1798.0 194.8C1797.4 194.7 1796.9 194.5 1796.1 194.2C1795.4 193.9 1794.2 193.5 1793.5 193.1C1792.8 192.8 1792.3 192.6 1791.7 192.2C1791.2 191.9 1790.7 191.6 1790.1 191.1C1789.5 190.6 1788.6 189.9 1788.0 189.4C1787.4 188.9 1787.0 188.6 1786.6 188.2C1786.1 187.9 1786.0 187.7 1785.5 187.2C1784.9 186.7 1783.6 185.4 1783.2 185.0M1816.9 245.5C1815.8 245.7 1811.9 246.4 1810.4 246.7C1809.0 246.9 1809.1 246.9 1808.5 247.0C1807.8 247.0 1807.6 247.0 1806.5 247.0C1805.4 247.1 1803.1 247.1 1802.1 247.0C1801.0 247.0 1800.7 247.0 1800.1 246.9C1799.4 246.8 1798.9 246.6 1798.2 246.4C1797.4 246.2 1796.4 245.8 1795.7 245.6C1794.9 245.3 1794.4 245.1 1793.8 244.8C1793.3 244.5 1793.0 244.3 1792.2 243.7C1791.4 243.0 1789.8 241.6 1789.0 241.0C1788.2 240.3 1788.0 240.1 1787.6 239.6C1787.1 239.1 1787.3 239.4 1786.4 238.0C1785.5 236.6 1783.8 234.0 1782.2 231.3C1780.6 228.6 1778.5 224.8 1776.9 221.8C1775.4 218.8 1774.3 216.5 1772.7 213.4C1771.2 210.2 1769.0 206.4 1767.5 202.9C1765.9 199.4 1764.5 195.3 1763.3 192.4C1762.0 189.4 1760.6 186.2 1760.1 185.0M1819.0 566.2C1817.9 565.3 1814.0 562.0 1812.7 560.9C1811.3 559.9 1811.6 560.1 1811.0 559.8C1810.4 559.5 1810.6 559.5 1809.2 559.1C1807.8 558.7 1804.0 557.6 1802.5 557.3C1801.1 556.9 1801.2 557.0 1800.6 557.0C1799.9 557.0 1800.1 556.9 1798.6 557.2C1797.2 557.4 1793.5 558.2 1792.0 558.6C1790.6 558.9 1790.8 558.9 1790.2 559.2C1789.6 559.4 1790.2 559.0 1788.4 560.1C1786.7 561.3 1782.8 563.9 1779.6 566.2C1776.3 568.6 1772.6 571.7 1769.1 574.1C1765.6 576.5 1761.8 578.7 1758.5 580.7C1755.3 582.7 1751.5 585.1 1749.7 586.2C1748.0 587.3 1748.6 586.9 1748.2 587.3C1747.7 587.7 1747.5 587.8 1746.8 588.4C1746.2 589.1 1744.5 590.7 1744.1 591.2M1744.1 592.2C1745.0 591.7 1747.4 590.3 1749.3 588.9C1751.3 587.6 1754.8 585.1 1755.9 584.3M1744.1 592.2C1745.2 593.4 1748.5 596.9 1750.7 599.5C1752.9 602.0 1755.3 605.0 1757.2 607.3C1759.2 609.7 1761.4 612.4 1762.5 613.7C1763.6 615.0 1763.4 614.7 1763.9 615.1C1764.4 615.6 1764.5 615.7 1765.4 616.4C1766.2 617.1 1768.4 618.7 1769.1 619.2M1744.1 642.8C1738.0 642.8 1713.4 642.8 1707.3 642.8M1819.0 602.1C1816.8 602.0 1809.7 601.5 1805.9 601.4C1802.0 601.3 1798.0 601.4 1796.0 601.4C1794.1 601.5 1794.7 601.5 1794.1 601.7C1793.5 601.8 1793.0 602.0 1792.2 602.3C1791.4 602.7 1790.0 603.4 1789.2 603.8C1788.5 604.2 1788.1 604.4 1787.5 604.8C1787.0 605.2 1787.2 604.9 1785.9 606.0C1784.6 607.1 1781.9 609.3 1779.6 611.3C1777.2 613.3 1774.3 615.7 1771.7 617.9C1769.1 620.0 1766.4 622.2 1763.8 624.4C1761.2 626.6 1758.3 628.8 1755.9 631.0C1753.5 633.2 1751.3 635.6 1749.3 637.6C1747.4 639.5 1745.0 642.0 1744.1 642.8M1819.0 620.5C1817.7 620.5 1813.8 620.5 1811.1 620.5C1808.4 620.4 1804.4 620.3 1802.6 620.3C1800.8 620.2 1801.3 620.3 1800.6 620.3C1800.0 620.4 1799.6 620.4 1798.6 620.6C1797.7 620.8 1795.7 621.2 1794.7 621.4C1793.7 621.6 1793.4 621.7 1792.8 621.9C1792.1 622.1 1791.9 622.2 1790.9 622.7C1789.9 623.2 1787.6 624.3 1786.6 624.8C1785.6 625.4 1785.4 625.5 1784.9 625.8C1784.3 626.2 1784.4 626.2 1783.3 627.0C1782.2 627.9 1779.5 630.1 1778.5 631.0C1777.4 631.9 1777.5 631.9 1777.1 632.4C1776.6 632.9 1777.0 632.3 1775.9 634.0C1774.8 635.7 1772.2 639.6 1770.4 642.8C1768.6 646.0 1766.7 650.1 1765.1 653.3C1763.5 656.5 1761.6 660.3 1760.8 662.1C1759.9 663.8 1760.2 663.3 1759.9 663.9C1759.6 664.5 1759.8 664.0 1759.2 665.7C1758.5 667.5 1756.9 671.4 1755.9 674.4C1754.9 677.3 1753.7 682.0 1753.3 683.6M1819.0 637.6C1818.0 637.7 1814.4 638.3 1813.1 638.6C1811.8 638.8 1811.8 638.8 1811.1 638.8C1810.4 638.9 1810.5 638.9 1809.1 639.0C1807.7 639.1 1804.0 639.3 1802.6 639.4C1801.2 639.5 1801.3 639.5 1800.6 639.4C1799.9 639.4 1800.0 639.5 1798.6 639.3C1797.2 639.1 1793.5 638.7 1792.1 638.5C1790.7 638.3 1790.8 638.2 1790.2 638.0C1789.5 637.8 1789.4 637.8 1788.4 637.2C1787.3 636.7 1784.9 635.2 1783.9 634.6C1782.9 634.0 1782.8 633.9 1782.2 633.6C1781.7 633.2 1781.5 633.0 1780.6 632.4C1779.8 631.7 1778.0 630.3 1777.2 629.6C1776.3 629.0 1776.1 628.9 1775.5 628.6C1774.9 628.3 1774.4 628.2 1773.7 628.0C1772.9 627.8 1771.8 627.6 1771.0 627.4C1770.3 627.3 1769.7 627.3 1769.1 627.3C1768.4 627.3 1768.4 627.3 1767.1 627.6C1765.9 627.9 1763.0 628.8 1761.8 629.1C1760.6 629.5 1760.5 629.5 1759.9 629.8C1759.3 630.1 1759.4 630.0 1758.1 630.7C1756.9 631.4 1753.6 633.2 1752.4 633.9C1751.2 634.7 1751.3 634.7 1750.8 635.1C1750.3 635.5 1750.5 635.2 1749.4 636.5C1748.3 637.8 1745.0 641.8 1744.1 642.8M1819.0 631.0C1818.1 630.1 1815.0 626.9 1813.8 625.8C1812.7 624.8 1812.9 625.0 1812.3 624.6C1811.7 624.3 1811.3 624.1 1810.5 623.9C1809.8 623.6 1808.6 623.2 1807.8 623.0C1807.0 622.8 1806.5 622.7 1805.8 622.6C1805.2 622.5 1805.3 622.4 1803.9 622.3C1802.4 622.2 1798.8 622.0 1797.3 621.9C1795.9 621.9 1796.0 621.9 1795.4 622.0C1794.7 622.0 1794.6 622.0 1793.4 622.3C1792.2 622.7 1789.3 623.5 1788.1 623.9C1786.9 624.2 1786.8 624.3 1786.2 624.5C1785.5 624.7 1785.8 624.6 1784.3 625.2C1782.8 625.9 1778.2 627.8 1776.9 628.4M1776.9 683.6C1775.6 682.0 1771.7 677.4 1769.1 674.4C1766.4 671.3 1763.6 668.0 1761.2 665.2C1758.8 662.4 1755.9 659.0 1754.6 657.5C1753.3 655.9 1753.7 656.5 1753.3 655.9C1752.9 655.4 1752.9 655.3 1752.2 654.3C1751.5 653.3 1749.8 650.8 1749.1 649.7C1748.4 648.7 1748.4 648.7 1748.0 648.2C1747.6 647.7 1747.5 647.6 1746.8 646.9C1746.2 646.2 1744.5 644.6 1744.1 644.1M1763.8 634.9C1763.1 636.2 1760.4 640.9 1759.5 642.4C1758.7 643.9 1758.9 643.6 1758.6 644.2C1758.3 644.8 1758.6 644.0 1757.7 646.0C1756.8 647.9 1754.8 652.8 1753.3 656.0C1751.8 659.1 1749.8 662.9 1748.9 664.7C1748.1 666.4 1748.3 665.9 1748.1 666.5C1747.8 667.1 1747.9 666.9 1747.3 668.4C1746.8 669.8 1745.3 673.7 1744.8 675.1C1744.3 676.6 1744.3 676.4 1744.2 677.0C1744.0 677.7 1743.9 677.9 1743.7 679.0C1743.5 680.0 1742.9 682.8 1742.8 683.6" stroke="#4169e1" stroke-width="2.5" stroke-dasharray="7 3.5"/><path d="M1743.6 112.6C1737.7 112.6 1714.4 112.6 1708.6 112.6M1744.1 592.2C1738.0 592.2 1713.4 592.2 1707.3 592.2" stroke="#4169e1" stroke-width="2.5"/></g>
<clipPath id="pcc"><rect x="1798.8" y="67.8" width="173.8" height="614.4000000000001"/></clipPath>
<g clip-path="url(#pcc)" fill="none" stroke-width="2.6" stroke-linejoin="round">
<path d="M1842.2 66.3C1843.0 67.2 1845.7 70.7 1846.7 71.9C1847.6 73.1 1847.5 72.9 1848.0 73.4C1848.5 73.8 1847.9 73.4 1849.5 74.6C1851.2 75.9 1856.2 79.6 1857.8 80.8C1859.4 82.1 1858.8 81.7 1859.2 82.2C1859.7 82.6 1859.4 82.1 1860.4 83.7C1861.5 85.3 1864.6 90.2 1865.5 91.8C1866.4 93.4 1866.0 92.9 1865.9 93.4C1865.9 93.9 1866.0 93.9 1865.1 94.9C1864.3 95.9 1861.8 98.3 1860.8 99.2C1859.8 100.1 1859.8 100.1 1859.3 100.5C1858.7 100.8 1860.5 100.2 1857.5 101.3C1854.5 102.4 1844.2 106.0 1841.2 107.1C1838.2 108.2 1840.0 107.6 1839.4 107.9C1838.8 108.2 1838.8 108.2 1837.7 108.9C1836.5 109.7 1833.5 111.6 1832.4 112.4C1831.4 113.2 1831.6 113.2 1831.5 113.6C1831.4 114.1 1831.6 114.4 1832.0 115.1C1832.4 115.8 1833.4 117.0 1833.9 117.6C1834.3 118.3 1834.5 118.7 1834.5 119.2C1834.5 119.8 1834.3 120.2 1833.9 120.8C1833.4 121.5 1832.5 122.7 1832.0 123.4C1831.5 124.1 1831.2 124.4 1830.8 125.0C1830.5 125.5 1830.2 126.0 1829.9 126.7C1829.6 127.3 1829.0 128.3 1828.8 129.0C1828.5 129.6 1828.4 130.1 1828.5 130.5C1828.7 131.0 1828.5 131.0 1829.6 131.8C1830.6 132.6 1833.7 134.6 1834.8 135.3C1836.0 136.1 1835.9 136.0 1836.5 136.3C1837.1 136.6 1836.3 136.3 1838.3 137.2C1840.4 138.0 1847.0 140.5 1848.9 141.4C1850.9 142.3 1849.9 141.9 1850.0 142.3C1850.0 142.7 1850.0 142.9 1849.4 143.6C1848.8 144.2 1847.2 145.7 1846.5 146.4C1845.8 147.2 1845.5 147.4 1845.0 147.8C1844.5 148.2 1845.1 147.8 1843.5 149.1C1841.8 150.3 1836.8 154.0 1835.2 155.2C1833.6 156.5 1834.2 156.1 1833.8 156.6C1833.4 157.1 1833.5 156.9 1832.8 158.3C1832.2 159.6 1830.6 163.3 1830.1 164.6C1829.6 166.0 1829.8 165.8 1830.0 166.3C1830.1 166.7 1830.2 166.9 1831.0 167.5C1831.8 168.1 1833.9 169.2 1834.8 169.7C1835.7 170.3 1835.9 170.4 1836.5 170.6C1837.1 170.9 1835.1 170.3 1838.4 171.3C1841.7 172.3 1851.2 174.8 1856.5 176.5C1861.8 178.2 1867.8 180.5 1870.4 181.5C1873.0 182.5 1871.6 182.1 1872.1 182.5C1872.6 182.8 1872.6 182.8 1873.4 183.9C1874.2 185.0 1876.1 188.0 1876.9 189.1C1877.6 190.3 1877.5 190.3 1877.8 190.9C1878.0 191.5 1877.9 190.4 1878.3 192.8C1878.6 195.1 1879.6 200.5 1880.0 205.1C1880.4 209.7 1880.6 217.4 1880.7 220.3C1880.9 223.1 1880.8 221.6 1880.8 222.3C1880.8 222.9 1880.8 222.4 1880.7 224.3C1880.6 226.2 1880.3 230.6 1880.0 233.7C1879.7 236.9 1879.2 241.3 1879.0 243.2C1878.9 245.1 1879.0 244.5 1879.0 245.1C1879.1 245.7 1879.2 246.2 1879.4 246.9C1879.6 247.6 1880.0 248.5 1880.2 249.2C1880.5 249.8 1880.7 250.3 1880.9 250.9C1881.2 251.5 1881.4 251.9 1881.7 252.6C1882.0 253.3 1882.5 254.2 1882.8 254.9C1883.2 255.6 1883.4 256.0 1883.6 256.6C1883.9 257.2 1884.0 257.4 1884.3 258.3C1884.7 259.3 1885.5 261.7 1885.7 262.3" stroke="#808080"/>
<path d="M1905.2 66.3C1905.9 67.2 1908.7 70.7 1909.6 71.9C1910.6 73.1 1910.4 73.0 1910.7 73.5C1911.0 74.1 1911.0 73.8 1911.4 75.4C1911.8 77.0 1912.8 81.4 1913.3 83.0C1913.7 84.5 1913.7 84.2 1914.0 84.8C1914.3 85.3 1914.0 85.1 1915.2 86.3C1916.3 87.5 1919.7 90.9 1920.9 92.1C1922.1 93.3 1921.9 93.0 1922.4 93.4C1922.9 93.8 1922.9 93.8 1924.0 94.6C1925.2 95.4 1928.3 97.3 1929.3 98.1C1930.3 98.9 1930.1 98.8 1930.1 99.2C1930.0 99.5 1930.9 99.1 1929.1 100.1C1927.4 101.1 1923.2 103.3 1919.5 104.9C1915.8 106.6 1909.4 108.9 1907.0 109.9C1904.7 110.9 1905.9 110.5 1905.6 111.0C1905.2 111.4 1905.1 111.2 1904.8 112.6C1904.5 114.0 1904.1 117.0 1903.7 119.2C1903.4 121.4 1902.9 124.4 1902.6 125.9C1902.4 127.3 1902.4 127.1 1902.1 127.7C1901.9 128.4 1901.9 128.3 1901.2 129.5C1900.5 130.7 1898.4 133.6 1897.7 134.7C1897.0 135.9 1897.1 135.9 1897.0 136.5C1896.9 137.1 1896.7 136.8 1897.1 138.4C1897.4 139.9 1898.5 144.4 1899.0 145.9C1899.4 147.5 1899.4 147.1 1899.8 147.6C1900.2 148.1 1899.4 147.8 1901.2 148.8C1903.1 149.8 1906.9 151.8 1910.9 153.6C1914.9 155.3 1921.5 157.8 1925.2 159.3C1929.0 160.8 1931.9 162.1 1933.4 162.8C1934.9 163.5 1934.3 163.3 1934.3 163.6C1934.3 163.9 1934.6 163.8 1933.4 164.4C1932.2 165.0 1928.4 166.5 1927.0 167.1C1925.7 167.7 1925.8 167.6 1925.2 167.8C1924.6 168.1 1926.3 167.6 1923.3 168.4C1920.3 169.3 1910.1 172.2 1907.1 173.1C1904.1 173.9 1905.8 173.5 1905.2 173.7C1904.6 173.9 1905.0 173.7 1903.4 174.5C1901.8 175.3 1897.1 177.6 1895.5 178.4C1893.9 179.3 1894.4 179.1 1893.9 179.6C1893.5 180.0 1893.4 180.0 1892.8 181.1C1892.2 182.2 1890.8 185.0 1890.3 186.1C1889.8 187.3 1889.9 187.3 1889.8 188.0C1889.8 188.6 1889.8 188.7 1890.1 189.8C1890.4 190.9 1891.2 193.5 1891.7 194.6C1892.1 195.7 1892.2 195.8 1892.6 196.3C1893.0 196.8 1891.8 196.2 1894.0 197.5C1896.3 198.8 1903.9 202.9 1906.3 204.1C1908.6 205.4 1907.5 204.8 1908.1 205.0C1908.7 205.3 1907.4 204.9 1909.9 205.7C1912.5 206.6 1920.8 209.3 1923.3 210.2C1925.8 211.1 1924.6 210.6 1925.2 210.9C1925.8 211.2 1925.6 211.0 1926.9 211.8C1928.3 212.6 1932.3 214.8 1933.5 215.6C1934.7 216.3 1934.4 216.2 1934.4 216.6C1934.4 216.9 1934.7 216.8 1933.5 217.5C1932.3 218.3 1928.3 220.5 1926.9 221.3C1925.6 222.0 1925.8 221.9 1925.1 222.1C1924.5 222.3 1926.6 222.1 1923.2 222.6C1919.9 223.1 1910.2 224.3 1905.2 225.1C1900.1 226.0 1895.2 227.1 1892.8 227.6C1890.5 228.1 1891.6 228.0 1891.1 228.3C1890.7 228.7 1890.4 229.1 1890.0 229.7C1889.6 230.3 1889.2 231.3 1888.9 232.0C1888.5 232.7 1888.3 233.2 1888.2 233.8C1888.0 234.4 1888.0 233.8 1887.8 235.7C1887.5 237.6 1886.9 241.2 1886.6 245.2C1886.3 249.1 1886.1 257.1 1886.0 259.5" stroke="#808080"/>
<path d="M1860.8 66.3C1861.0 67.6 1861.7 72.7 1862.0 74.3C1862.2 76.0 1862.2 75.6 1862.5 76.2C1862.8 76.8 1862.6 76.7 1863.5 77.8C1864.5 79.0 1867.2 82.2 1868.1 83.4C1869.1 84.5 1868.9 84.4 1869.3 85.0C1869.7 85.5 1869.7 85.6 1870.3 86.7C1870.9 87.8 1872.3 90.6 1872.8 91.7C1873.3 92.8 1873.3 92.9 1873.3 93.5C1873.4 94.1 1873.4 94.3 1873.1 95.4C1872.7 96.5 1871.9 99.1 1871.5 100.2C1871.0 101.2 1870.9 101.4 1870.5 101.8C1870.1 102.3 1870.6 102.1 1869.0 103.0C1867.5 103.8 1862.7 106.1 1861.2 106.9C1859.6 107.7 1860.0 107.6 1859.6 108.0C1859.2 108.5 1859.1 108.5 1858.5 109.6C1857.9 110.7 1856.5 113.5 1856.0 114.6C1855.5 115.7 1855.5 115.8 1855.4 116.4C1855.3 116.9 1855.4 117.4 1855.5 118.1C1855.6 118.8 1856.0 119.7 1856.1 120.4C1856.2 121.1 1856.3 121.5 1856.3 122.1C1856.2 122.8 1856.2 122.9 1855.9 124.0C1855.6 125.1 1854.6 127.7 1854.3 128.8C1854.0 129.9 1854.0 130.0 1854.2 130.6C1854.3 131.1 1854.2 131.1 1855.1 132.1C1855.9 133.1 1857.9 135.0 1859.4 136.4C1860.8 137.8 1862.8 139.8 1863.7 140.7C1864.5 141.7 1864.4 141.7 1864.5 142.2C1864.5 142.7 1864.8 142.4 1864.0 143.8C1863.1 145.2 1860.9 148.4 1859.4 150.7C1857.8 153.0 1855.7 156.2 1854.8 157.6C1853.8 159.1 1854.1 158.8 1853.8 159.4C1853.6 160.0 1853.5 160.2 1853.3 161.3C1853.1 162.4 1852.7 164.8 1852.6 165.9C1852.4 167.0 1852.4 167.2 1852.5 167.8C1852.6 168.4 1852.8 168.9 1853.1 169.6C1853.4 170.3 1853.9 171.3 1854.2 171.9C1854.6 172.5 1854.9 173.0 1855.3 173.4C1855.8 173.8 1854.8 173.4 1856.9 174.4C1859.0 175.4 1864.5 177.7 1868.0 179.3C1871.4 181.0 1875.8 183.2 1877.6 184.2C1879.5 185.2 1878.7 184.9 1879.1 185.3C1879.5 185.8 1879.4 185.5 1879.9 187.0C1880.3 188.5 1881.4 193.0 1881.8 194.6C1882.2 196.2 1882.1 195.9 1882.2 196.5C1882.3 197.2 1882.2 196.1 1882.4 198.5C1882.5 200.9 1882.6 205.9 1882.8 210.8C1883.1 215.7 1883.4 222.3 1883.7 228.0C1884.0 233.7 1884.2 239.9 1884.6 245.2C1884.9 250.4 1885.5 257.1 1885.7 259.5" stroke="#ff0000"/>
<path d="M1896.6 66.3C1896.8 67.6 1897.5 72.7 1897.7 74.3C1898.0 76.0 1898.0 75.6 1898.2 76.3C1898.4 76.9 1898.4 77.0 1898.9 78.1C1899.5 79.2 1900.8 82.0 1901.4 83.1C1902.0 84.2 1902.0 84.3 1902.4 84.8C1902.8 85.4 1902.6 85.2 1903.6 86.4C1904.6 87.6 1907.3 90.8 1908.2 91.9C1909.1 93.1 1908.9 93.0 1909.1 93.6C1909.2 94.2 1909.3 94.4 1909.1 95.5C1909.0 96.5 1908.6 99.0 1908.4 100.1C1908.1 101.2 1908.0 101.3 1907.7 101.9C1907.4 102.4 1907.5 102.4 1906.4 103.2C1905.3 104.0 1902.2 105.9 1901.1 106.7C1900.0 107.5 1900.1 107.5 1899.7 108.0C1899.3 108.5 1899.2 108.6 1898.8 109.7C1898.4 110.8 1897.5 113.4 1897.2 114.5C1896.9 115.6 1896.9 115.7 1896.9 116.3C1896.8 116.9 1896.9 117.4 1897.0 118.1C1897.1 118.8 1897.5 119.7 1897.6 120.4C1897.7 121.1 1897.8 121.5 1897.8 122.1C1897.7 122.8 1897.7 122.9 1897.4 124.0C1897.1 125.1 1896.2 127.7 1895.8 128.8C1895.4 129.9 1895.3 130.0 1895.1 130.7C1894.8 131.3 1894.8 131.3 1894.3 132.5C1893.7 133.6 1892.3 136.3 1891.8 137.5C1891.3 138.6 1891.3 138.7 1891.2 139.3C1891.2 139.9 1891.2 140.1 1891.5 141.2C1891.8 142.3 1892.7 144.9 1893.1 146.0C1893.5 147.0 1893.6 147.2 1894.0 147.7C1894.3 148.2 1893.7 147.8 1895.4 149.0C1897.0 150.2 1900.9 153.0 1903.7 155.0C1906.5 157.0 1910.6 159.8 1912.1 161.0C1913.7 162.2 1912.9 161.8 1912.9 162.2C1912.9 162.5 1913.1 162.5 1912.1 163.3C1911.1 164.1 1908.0 166.0 1906.8 166.8C1905.7 167.5 1905.7 167.5 1905.1 167.8C1904.6 168.2 1905.0 168.0 1903.4 168.8C1901.8 169.6 1897.1 171.9 1895.5 172.7C1893.9 173.6 1894.4 173.4 1893.9 173.8C1893.4 174.2 1893.1 174.6 1892.5 175.2C1892.0 175.9 1891.1 177.0 1890.6 177.7C1890.2 178.4 1889.9 178.8 1889.6 179.4C1889.4 180.0 1889.3 180.2 1889.1 181.3C1888.9 182.4 1888.5 184.9 1888.3 186.0C1888.2 187.1 1888.2 187.3 1888.2 187.9C1888.3 188.6 1888.3 188.7 1888.6 189.8C1889.0 190.9 1889.8 193.5 1890.2 194.6C1890.6 195.7 1890.7 195.8 1891.1 196.4C1891.4 196.9 1891.1 196.7 1892.3 197.9C1893.4 199.1 1896.8 202.5 1898.0 203.7C1899.2 204.9 1899.0 204.6 1899.5 205.0C1900.1 205.4 1899.6 205.2 1901.2 206.0C1902.8 206.8 1907.5 209.1 1909.1 209.9C1910.7 210.8 1910.3 210.6 1910.8 211.0C1911.3 211.3 1911.6 211.5 1912.3 212.2C1913.0 212.9 1914.6 214.4 1915.2 215.1C1915.8 215.8 1915.9 216.1 1915.9 216.5C1915.9 217.0 1916.1 216.8 1915.1 217.8C1914.0 218.8 1910.8 221.5 1909.6 222.4C1908.4 223.4 1908.5 223.2 1907.9 223.5C1907.4 223.8 1908.2 223.6 1906.1 224.3C1904.1 224.9 1897.7 226.8 1895.6 227.4C1893.6 228.1 1894.4 227.9 1893.8 228.2C1893.2 228.5 1892.8 228.7 1892.1 229.2C1891.4 229.7 1890.2 230.5 1889.6 231.1C1889.0 231.6 1888.6 232.0 1888.3 232.5C1888.0 233.0 1888.1 232.2 1887.8 234.3C1887.5 236.4 1886.9 241.0 1886.6 245.2C1886.3 249.4 1886.1 257.1 1886.0 259.5" stroke="#ff0000"/>
<path d="M1879.4 66.3C1879.5 68.1 1879.8 75.0 1879.9 77.2C1880.0 79.3 1880.0 78.5 1880.0 79.2C1880.1 79.8 1880.1 79.6 1880.3 81.2C1880.5 82.7 1881.2 87.1 1881.4 88.6C1881.6 90.2 1881.6 90.0 1881.6 90.6C1881.6 91.3 1881.7 90.2 1881.6 92.6C1881.5 95.0 1881.1 100.8 1880.8 104.9C1880.6 109.0 1880.2 114.9 1880.1 117.2C1880.0 119.6 1880.1 118.6 1880.1 119.2C1880.1 119.9 1880.0 119.2 1880.2 121.2C1880.5 123.3 1881.2 129.5 1881.5 131.6C1881.7 133.6 1881.6 132.9 1881.6 133.6C1881.6 134.2 1881.7 133.2 1881.5 135.5C1881.2 137.9 1880.4 143.8 1880.0 147.9C1879.6 152.0 1879.2 157.8 1879.0 160.2C1878.8 162.6 1878.9 161.5 1879.0 162.2C1879.0 162.8 1879.1 163.0 1879.3 164.1C1879.5 165.2 1880.1 167.7 1880.4 168.8C1880.7 169.9 1880.7 170.1 1880.9 170.7C1881.1 171.3 1881.2 171.8 1881.4 172.5C1881.7 173.2 1882.0 174.1 1882.2 174.8C1882.5 175.4 1882.6 175.9 1882.8 176.5C1882.9 177.2 1882.8 176.1 1883.1 178.5C1883.4 180.8 1884.2 185.4 1884.6 190.8C1884.9 196.2 1885.0 203.7 1885.1 210.8C1885.2 218.0 1885.1 226.1 1885.1 233.7C1885.2 241.4 1885.4 252.8 1885.4 256.6" stroke="#0000ff"/>
<path d="M1890.3 66.3C1890.4 68.4 1890.5 75.1 1890.9 79.2C1891.2 83.2 1891.9 87.1 1892.3 90.6C1892.7 94.1 1893.3 98.2 1893.5 100.1C1893.7 102.0 1893.6 101.4 1893.5 102.1C1893.5 102.7 1893.6 102.4 1893.2 104.0C1892.9 105.6 1891.7 110.0 1891.3 111.6C1891.0 113.2 1891.0 112.9 1890.9 113.5C1890.8 114.2 1890.8 113.9 1890.6 115.5C1890.4 117.1 1889.9 121.4 1889.7 123.0C1889.5 124.6 1889.6 124.3 1889.6 125.0C1889.6 125.6 1889.5 125.4 1889.7 126.9C1889.9 128.5 1890.4 132.9 1890.6 134.4C1890.8 136.0 1890.7 135.8 1890.8 136.4C1890.8 137.1 1890.8 136.8 1890.8 138.4C1890.7 140.0 1890.4 144.3 1890.4 145.9C1890.3 147.4 1890.4 147.2 1890.5 147.8C1890.5 148.5 1890.4 148.2 1890.9 149.8C1891.3 151.4 1892.7 155.8 1893.1 157.4C1893.6 159.0 1893.5 158.7 1893.6 159.3C1893.7 159.9 1893.8 160.4 1893.9 161.0C1894.0 161.7 1894.1 162.6 1894.1 163.3C1894.1 164.0 1894.1 164.5 1894.0 165.0C1893.9 165.6 1893.6 166.1 1893.3 166.7C1892.9 167.4 1892.3 168.4 1891.9 169.0C1891.5 169.7 1891.3 170.2 1891.0 170.8C1890.8 171.4 1890.8 171.1 1890.5 172.7C1890.1 174.3 1889.3 178.7 1889.0 180.2C1888.7 181.8 1888.7 181.6 1888.6 182.2C1888.6 182.9 1888.6 182.6 1888.5 184.2C1888.4 185.8 1888.2 190.1 1888.1 191.7C1888.0 193.2 1888.1 193.0 1888.1 193.7C1888.1 194.3 1888.0 193.7 1888.2 195.6C1888.5 197.5 1889.0 201.9 1889.4 205.1C1889.8 208.3 1890.4 212.7 1890.6 214.6C1890.8 216.5 1890.7 215.9 1890.7 216.5C1890.7 217.2 1890.7 217.1 1890.5 218.5C1890.3 220.0 1889.9 222.9 1889.4 225.1C1889.0 227.3 1888.2 230.3 1887.9 231.8C1887.6 233.2 1887.6 233.1 1887.5 233.7C1887.4 234.4 1887.5 233.3 1887.3 235.7C1887.1 238.1 1886.5 244.5 1886.3 248.0C1886.1 251.5 1886.0 255.2 1886.0 256.6" stroke="#0000ff"/>
<path d="M1886.0 66.3C1886.0 79.9 1886.0 124.7 1886.0 147.9C1886.0 171.0 1885.9 187.0 1885.9 205.1C1885.8 223.2 1885.7 248.0 1885.7 256.6" stroke="#ff00ff" stroke-width="3.6"/>
<path d="M1885.8 489.4C1886.0 491.4 1886.6 496.7 1887.2 501.5C1887.7 506.4 1888.5 515.3 1888.8 518.4C1889.1 521.6 1889.0 519.7 1889.0 520.4C1889.0 521.1 1889.0 520.2 1889.0 522.4C1888.9 524.6 1888.6 530.9 1888.5 533.9C1888.4 536.8 1888.4 538.6 1888.5 540.0C1888.6 541.3 1888.6 541.2 1888.8 541.8C1889.0 542.4 1889.1 542.6 1889.8 543.5C1890.4 544.4 1891.9 546.3 1892.6 547.1C1893.4 547.9 1893.5 548.1 1894.1 548.4C1894.6 548.8 1892.7 548.3 1895.8 549.2C1898.9 550.2 1905.4 552.1 1912.7 554.1C1920.1 556.0 1932.1 558.9 1939.7 560.8C1947.2 562.7 1954.7 564.8 1957.9 565.7C1961.2 566.6 1959.0 566.1 1959.1 566.4C1959.2 566.7 1959.0 567.0 1958.7 567.4C1958.3 567.8 1957.6 568.6 1957.1 569.0C1956.6 569.5 1956.2 569.8 1955.7 570.0C1955.1 570.3 1957.6 569.8 1953.9 570.7C1950.2 571.5 1937.3 574.4 1933.6 575.2C1929.8 576.0 1932.3 575.5 1931.6 575.7C1931.0 575.9 1931.7 575.6 1929.7 576.4C1927.8 577.1 1921.9 579.4 1920.0 580.3C1918.1 581.1 1918.8 580.9 1918.4 581.3C1918.0 581.7 1917.9 581.8 1917.4 582.9C1916.9 583.9 1916.1 586.3 1915.4 587.7C1914.8 589.2 1914.0 590.6 1913.6 591.5C1913.1 592.4 1913.0 592.6 1912.6 593.1C1912.2 593.6 1912.0 593.9 1911.3 594.5C1910.7 595.2 1909.4 596.5 1908.8 597.1C1908.1 597.7 1907.8 598.0 1907.3 598.4C1906.7 598.8 1907.1 598.6 1905.6 599.4C1904.1 600.2 1899.9 602.2 1898.4 603.0C1896.9 603.8 1897.2 603.6 1896.6 604.0C1896.1 604.4 1895.9 604.5 1895.0 605.2C1894.1 605.8 1892.2 607.3 1891.4 608.0C1890.6 608.8 1890.5 608.9 1890.3 609.5C1890.1 610.0 1890.0 609.8 1890.1 611.3C1890.2 612.7 1890.7 616.6 1890.9 618.1C1891.2 619.5 1891.2 619.4 1891.4 620.0C1891.5 620.6 1891.4 620.4 1892.1 621.9C1892.8 623.4 1894.9 627.6 1895.7 629.1C1896.5 630.5 1896.4 630.2 1896.8 630.6C1897.3 631.1 1895.7 630.4 1898.4 631.7C1901.0 633.1 1908.0 636.5 1912.7 638.9C1917.5 641.3 1924.5 644.7 1927.1 646.1C1929.8 647.5 1928.2 646.8 1928.6 647.3C1929.0 647.7 1929.1 647.9 1929.5 648.9C1929.9 649.9 1930.7 652.2 1931.0 653.2C1931.2 654.2 1931.3 654.4 1931.2 655.1C1931.2 655.7 1931.2 655.8 1930.7 656.9C1930.2 657.9 1928.9 660.3 1928.5 661.4C1928.0 662.4 1928.0 662.6 1927.9 663.2C1927.8 663.8 1927.8 664.1 1927.9 665.1C1928.0 666.1 1928.5 668.3 1928.6 669.3C1928.7 670.3 1928.6 670.5 1928.4 671.0C1928.2 671.5 1928.9 671.1 1927.2 672.3C1925.5 673.5 1921.9 675.9 1918.1 678.0C1914.4 680.0 1906.9 683.6 1904.7 684.7" stroke="#808080"/>
<path d="M1885.8 489.4C1885.6 492.3 1884.7 499.9 1884.5 506.9C1884.2 514.0 1884.5 527.4 1884.5 531.9C1884.5 536.4 1884.4 533.2 1884.4 533.9C1884.4 534.5 1884.4 534.4 1884.2 535.9C1884.0 537.3 1883.6 541.2 1883.4 542.7C1883.2 544.1 1883.2 544.0 1883.1 544.6C1882.9 545.3 1883.0 545.1 1882.6 546.6C1882.3 548.1 1881.3 552.0 1880.9 553.5C1880.5 555.0 1880.6 554.8 1880.5 555.4C1880.4 556.1 1880.4 555.6 1880.2 557.4C1879.9 559.2 1879.4 563.3 1879.1 566.2C1878.7 569.1 1878.3 573.2 1878.0 575.0C1877.7 576.7 1877.7 576.2 1877.4 576.8C1877.1 577.3 1877.1 577.3 1876.1 578.1C1875.1 578.8 1872.4 580.6 1871.3 581.2C1870.2 581.9 1870.2 581.9 1869.6 582.2C1869.0 582.5 1869.6 582.3 1867.7 582.9C1865.8 583.5 1860.0 585.2 1858.1 585.8C1856.2 586.4 1856.8 586.2 1856.2 586.5C1855.6 586.8 1855.3 586.9 1854.5 587.4C1853.6 587.9 1851.9 588.9 1851.2 589.4C1850.4 589.9 1850.3 590.1 1850.2 590.6C1850.1 591.0 1850.3 591.4 1850.6 592.0C1851.0 592.6 1851.8 593.6 1852.3 594.2C1852.8 594.8 1853.1 595.3 1853.6 595.7C1854.0 596.2 1853.9 596.2 1855.0 597.1C1856.1 598.0 1859.0 600.3 1860.0 601.3C1861.0 602.2 1860.9 602.2 1861.0 602.7C1861.1 603.2 1861.1 603.6 1860.8 604.4C1860.6 605.2 1860.0 606.7 1859.6 607.4C1859.2 608.2 1859.0 608.6 1858.6 609.1C1858.2 609.5 1858.5 609.4 1857.1 610.2C1855.6 611.0 1851.4 613.0 1849.9 613.8C1848.4 614.6 1848.7 614.4 1848.2 614.9C1847.7 615.3 1847.4 615.7 1846.9 616.3C1846.4 616.9 1845.7 617.8 1845.3 618.5C1844.8 619.1 1844.6 619.6 1844.4 620.2C1844.3 620.8 1844.3 621.0 1844.4 622.0C1844.5 623.0 1844.9 625.2 1845.1 626.2C1845.3 627.2 1845.3 627.5 1845.5 628.1C1845.6 628.8 1845.7 629.0 1846.0 630.0C1846.4 631.1 1847.1 633.3 1847.5 634.3C1847.9 635.3 1848.0 635.5 1848.4 636.0C1848.8 636.4 1848.1 636.2 1849.9 637.1C1851.6 638.1 1855.9 640.1 1858.9 641.6C1861.9 643.1 1866.1 645.2 1867.9 646.1C1869.6 647.0 1869.0 646.8 1869.5 647.2C1870.0 647.6 1870.0 647.6 1870.8 648.7C1871.5 649.7 1873.2 652.3 1873.9 653.4C1874.6 654.5 1874.6 654.6 1874.8 655.2C1875.0 655.8 1875.1 655.6 1875.3 657.1C1875.5 658.5 1876.0 662.4 1876.1 663.9C1876.3 665.3 1876.2 665.2 1876.1 665.8C1876.0 666.4 1876.0 666.6 1875.5 667.6C1875.0 668.7 1873.8 671.1 1873.2 672.2C1872.7 673.2 1872.6 673.3 1872.1 673.7C1871.6 674.1 1872.7 673.7 1870.5 674.7C1868.3 675.6 1862.6 677.7 1858.9 679.3C1855.1 681.0 1849.9 683.8 1848.1 684.7" stroke="#808080"/>
<path d="M1885.8 496.2C1885.9 500.2 1886.3 513.6 1886.3 520.4C1886.4 527.3 1886.3 534.1 1886.3 537.3C1886.4 540.4 1886.4 538.6 1886.4 539.2C1886.5 539.9 1886.5 539.7 1886.7 541.2C1887.0 542.7 1887.8 546.6 1888.1 548.1C1888.4 549.5 1888.4 549.4 1888.7 550.0C1888.9 550.6 1888.9 550.6 1889.6 551.7C1890.3 552.8 1892.1 555.4 1892.8 556.5C1893.5 557.5 1893.5 557.6 1893.8 558.1C1894.2 558.7 1894.3 558.9 1894.8 559.9C1895.3 560.9 1896.6 563.4 1897.0 564.4C1897.5 565.5 1897.5 565.6 1897.5 566.2C1897.6 566.8 1897.6 567.1 1897.3 568.1C1897.0 569.1 1896.2 571.4 1895.9 572.4C1895.5 573.4 1895.4 573.6 1895.2 574.2C1894.9 574.9 1894.9 575.0 1894.3 576.1C1893.8 577.1 1892.6 579.5 1892.1 580.6C1891.6 581.6 1891.5 581.8 1891.4 582.4C1891.2 583.0 1891.2 582.6 1890.9 584.3C1890.7 586.1 1890.2 590.2 1889.8 593.1C1889.5 596.1 1889.0 600.1 1888.7 601.9C1888.5 603.7 1888.6 603.2 1888.6 603.9C1888.5 604.6 1888.5 604.1 1888.5 605.9C1888.5 607.7 1888.3 610.9 1888.5 614.7C1888.7 618.5 1889.4 626.2 1889.7 628.8C1889.9 631.5 1889.8 630.2 1890.0 630.8C1890.1 631.5 1890.0 631.2 1890.6 632.7C1891.1 634.2 1892.6 638.3 1893.2 639.7C1893.7 641.2 1893.6 641.0 1893.8 641.6C1894.0 642.3 1894.0 642.1 1894.4 643.6C1894.8 645.0 1895.7 649.0 1896.1 650.5C1896.4 651.9 1896.4 651.7 1896.5 652.4C1896.5 653.1 1896.6 652.5 1896.6 654.4C1896.6 656.3 1896.6 662.0 1896.6 663.9C1896.6 665.8 1896.5 665.2 1896.4 665.8C1896.3 666.5 1896.3 666.7 1896.0 667.8C1895.6 668.8 1894.9 671.0 1894.5 672.0C1894.2 673.1 1894.1 673.3 1893.8 673.9C1893.6 674.5 1893.9 673.9 1893.0 675.7C1892.1 677.5 1889.3 683.2 1888.5 684.7" stroke="#ff0000"/>
<path d="M1885.8 544.6C1885.6 547.3 1885.0 553.6 1884.7 560.8C1884.5 568.0 1884.4 578.8 1884.2 587.7C1884.0 596.7 1883.6 605.7 1883.7 614.7C1883.7 623.7 1884.5 632.6 1884.7 641.6C1885.0 650.6 1885.1 661.4 1885.3 668.6C1885.4 675.7 1885.7 682.0 1885.8 684.7" stroke="#ff0000"/>
<path d="M1885.8 489.4C1886.2 492.3 1887.4 500.8 1888.0 506.9C1888.5 513.1 1888.8 522.9 1888.9 526.5C1889.1 530.1 1889.0 527.8 1889.0 528.5C1888.9 529.1 1889.0 529.0 1888.8 530.5C1888.7 531.9 1888.3 535.8 1888.2 537.3C1888.1 538.7 1888.1 538.6 1888.2 539.2C1888.3 539.9 1888.3 540.1 1888.7 541.1C1889.1 542.2 1890.0 544.5 1890.5 545.5C1890.9 546.5 1891.0 546.7 1891.4 547.2C1891.8 547.7 1891.3 547.4 1892.8 548.5C1894.3 549.7 1898.8 553.1 1900.4 554.2C1901.9 555.4 1901.4 555.0 1902.0 555.4C1902.6 555.7 1901.7 555.3 1903.7 556.4C1905.6 557.6 1911.8 561.3 1913.7 562.5C1915.7 563.7 1914.9 563.2 1915.4 563.5C1916.0 563.9 1916.4 564.2 1917.0 564.7C1917.7 565.2 1918.7 565.9 1919.2 566.3C1919.7 566.8 1920.0 567.2 1920.1 567.6C1920.1 568.0 1919.9 568.3 1919.4 569.0C1918.9 569.6 1917.5 570.9 1916.9 571.5C1916.2 572.2 1915.9 572.4 1915.3 572.8C1914.8 573.2 1915.1 573.1 1913.6 573.8C1912.2 574.6 1907.9 576.6 1906.5 577.4C1905.0 578.2 1905.3 578.1 1904.9 578.5C1904.4 579.0 1904.2 579.2 1903.6 580.0C1903.1 580.8 1902.1 582.5 1901.7 583.3C1901.2 584.2 1901.0 584.5 1900.8 585.1C1900.6 585.7 1900.6 585.6 1900.4 587.0C1900.2 588.5 1899.7 592.4 1899.5 593.8C1899.3 595.3 1899.3 595.1 1899.1 595.7C1898.8 596.4 1898.8 596.4 1898.2 597.5C1897.5 598.6 1895.7 601.2 1895.0 602.2C1894.3 603.3 1894.3 603.4 1894.0 604.0C1893.7 604.5 1893.6 604.7 1893.1 605.8C1892.7 606.8 1891.8 609.1 1891.4 610.1C1891.0 611.2 1891.0 611.4 1890.9 612.0C1890.8 612.7 1890.7 612.5 1890.8 614.0C1890.8 615.4 1891.0 619.3 1891.1 620.8C1891.2 622.2 1891.2 622.1 1891.3 622.7C1891.5 623.4 1891.4 623.1 1891.9 624.6C1892.4 626.1 1894.0 630.2 1894.5 631.7C1895.1 633.1 1895.0 632.9 1895.4 633.5C1895.7 634.0 1895.6 634.0 1896.5 635.1C1897.4 636.2 1899.8 639.0 1900.7 640.1C1901.6 641.2 1901.5 641.1 1901.9 641.7C1902.2 642.2 1902.3 642.4 1902.9 643.4C1903.4 644.4 1904.6 646.9 1905.1 647.9C1905.6 649.0 1905.6 649.1 1905.7 649.7C1905.7 650.4 1905.8 650.2 1905.5 651.6C1905.2 653.1 1904.1 657.1 1903.8 658.5C1903.5 660.0 1903.5 659.8 1903.4 660.5C1903.4 661.1 1903.3 661.0 1903.3 662.5C1903.3 663.9 1903.4 667.8 1903.3 669.2C1903.3 670.7 1903.2 670.5 1903.0 671.1C1902.8 671.7 1903.1 671.4 1902.0 672.8C1901.0 674.1 1898.2 677.3 1896.6 679.3C1895.0 681.3 1893.2 683.8 1892.5 684.7" stroke="#0000ff"/>
<path d="M1886.3 533.9C1886.3 534.9 1886.0 538.6 1885.9 540.0C1885.8 541.3 1885.8 541.3 1885.7 541.9C1885.7 542.6 1885.9 541.7 1885.4 543.9C1885.0 546.2 1883.9 551.6 1883.1 555.4C1882.3 559.3 1881.3 564.7 1880.8 566.9C1880.4 569.2 1880.5 568.2 1880.4 568.9C1880.2 569.5 1880.1 569.8 1879.8 570.8C1879.5 571.8 1878.7 574.1 1878.4 575.1C1878.0 576.1 1877.9 576.3 1877.5 576.8C1877.2 577.4 1877.2 577.5 1876.3 578.4C1875.4 579.3 1873.7 581.0 1872.3 582.4C1871.0 583.7 1869.2 585.4 1868.4 586.3C1867.6 587.2 1867.6 587.3 1867.5 587.8C1867.4 588.3 1867.5 588.7 1867.8 589.4C1868.0 590.0 1868.5 590.9 1868.8 591.5C1869.2 592.1 1869.4 592.6 1869.7 593.1C1870.0 593.7 1870.1 593.7 1870.8 594.8C1871.5 595.9 1873.3 598.5 1873.9 599.5C1874.6 600.6 1874.5 600.7 1874.6 601.3C1874.7 601.9 1874.7 602.1 1874.4 603.1C1874.1 604.1 1873.3 606.4 1873.0 607.4C1872.6 608.4 1872.5 608.6 1872.2 609.2C1871.9 609.8 1871.9 609.7 1871.1 610.8C1870.2 611.9 1867.8 614.7 1866.9 615.8C1866.0 616.9 1866.1 616.9 1865.9 617.5C1865.6 618.1 1865.6 617.9 1865.4 619.4C1865.1 620.8 1864.7 624.7 1864.5 626.2C1864.4 627.6 1864.4 627.5 1864.5 628.1C1864.6 628.8 1864.4 628.5 1865.0 630.0C1865.5 631.5 1867.0 635.6 1867.6 637.0C1868.2 638.5 1868.1 638.3 1868.4 638.8C1868.8 639.4 1868.7 639.4 1869.6 640.5C1870.5 641.6 1872.9 644.4 1873.8 645.5C1874.6 646.6 1874.6 646.5 1874.9 647.1C1875.3 647.6 1875.4 647.8 1875.9 648.8C1876.5 649.8 1877.7 652.2 1878.2 653.3C1878.7 654.4 1878.7 654.5 1878.9 655.1C1879.0 655.8 1879.0 655.2 1879.1 657.1C1879.1 659.0 1879.1 664.6 1879.1 666.6C1879.0 668.5 1879.0 667.9 1878.9 668.5C1878.7 669.1 1878.7 669.3 1878.2 670.3C1877.7 671.4 1876.5 673.8 1875.9 674.8C1875.4 675.9 1875.3 676.0 1875.0 676.6C1874.6 677.2 1874.8 676.9 1873.9 678.3C1873.0 679.6 1870.4 683.6 1869.6 684.7" stroke="#0000ff"/>
<path d="M1885.8 544.6C1885.8 556.3 1885.8 591.3 1885.8 614.7C1885.8 638.0 1885.8 673.0 1885.8 684.7" stroke="#ff00ff" stroke-width="2.4"/>
</g>
<line x1="1452.5" y1="470.5" x2="1798.8" y2="470.5" stroke="#111" stroke-width="1.6" stroke-dasharray="5.3 10.6" stroke-dashoffset="0"/>
<rect x="1452.5" y="67.8" width="520.1" height="614.4000000000001" fill="none" stroke="#222" stroke-width="2.1"/>
<line x1="1798.8" y1="67.8" x2="1798.8" y2="682.2" stroke="#222" stroke-width="2.1"/>
<path d="M1452.5 682.20h9M1798.8 682.20h-9M1452.5 594.43h9M1798.8 594.43h-9M1452.5 506.66h9M1798.8 506.66h-9M1452.5 418.89h9M1798.8 418.89h-9M1452.5 331.11h9M1798.8 331.11h-9M1452.5 243.34h9M1798.8 243.34h-9M1452.5 155.57h9M1798.8 155.57h-9M1452.5 67.80h9M1798.8 67.80h-9M1504.20 682.2v-9M1504.20 67.8v9M1563.00 682.2v-9M1563.00 67.8v9M1621.80 682.2v-9M1621.80 67.8v9M1681.00 682.2v-9M1681.00 67.8v9M1740.00 682.2v-9M1740.00 67.8v9M1839.12 682.2v-9M1839.12 67.8v9M1885.70 682.2v-9M1885.70 67.8v9M1932.28 682.2v-9M1932.28 67.8v9" stroke="#222" stroke-width="1.4" fill="none"/>
<text x="1436.8" y="691.0" font-size="26" text-anchor="end">−1</text>
<text x="1436.8" y="603.2" font-size="26" text-anchor="end">−0.5</text>
<text x="1436.8" y="515.5" font-size="26" text-anchor="end">0</text>
<text x="1436.8" y="427.7" font-size="26" text-anchor="end">0.5</text>
<text x="1436.8" y="339.9" font-size="26" text-anchor="end">1</text>
<text x="1436.8" y="252.1" font-size="26" text-anchor="end">1.5</text>
<text x="1436.8" y="164.4" font-size="26" text-anchor="end">2</text>
<text x="1436.8" y="76.6" font-size="26" text-anchor="end">2.5</text>
<text x="1452.5" y="717" font-size="26" text-anchor="middle">L</text>
<text x="1504.2" y="717" font-size="26" text-anchor="middle">M</text>
<text x="1563.0" y="717" font-size="26" text-anchor="middle">A</text>
<text x="1621.8" y="717" font-size="28" text-anchor="middle" style="font-family:'Liberation Serif',serif">Γ</text>
<text x="1681.0" y="717" font-size="26" text-anchor="middle">Y</text>
<text x="1740.0" y="717" font-size="26" text-anchor="middle">V</text>
<text x="1798.8" y="717" font-size="28" text-anchor="middle" style="font-family:'Liberation Serif',serif">Γ</text>
<text x="1839.1" y="717" font-size="26" text-anchor="middle">−15</text>
<text x="1885.7" y="717" font-size="26" text-anchor="middle">0</text>
<text x="1932.3" y="717" font-size="26" text-anchor="middle">15</text>
<text x="1625.7" y="757" font-size="26" text-anchor="middle">K−Points</text>
<text x="1885.7" y="757" font-size="26" text-anchor="middle">PDOS</text>
<text transform="translate(1355.0,373.5) rotate(-90)" font-size="26" text-anchor="middle"><tspan font-style="italic">E</tspan> (eV)</text>
<text transform="translate(1331.5,36.6) scale(1.05,1)" font-size="43" font-weight="bold">c</text>
<text transform="translate(1577.9,43.7) scale(0.93,1)" font-size="35" font-style="italic">ε</text>
<text x="1594.0" y="55.2" font-size="20.3" font-style="italic">y</text>
<text x="1612.7" y="42.2" font-size="35.5">= 8% (FM)</text>
<text transform="translate(1884.0,320.1) scale(1.02,1)" font-size="24" text-anchor="end">Total</text>
<line x1="1899.8" y1="311.9" x2="1917.8" y2="311.9" stroke="#808080" stroke-width="2.8"/>
<text transform="translate(1884.0,342.4) scale(0.966,1)" font-size="24" text-anchor="end">Cr (4s)</text>
<line x1="1899.8" y1="334.2" x2="1917.8" y2="334.2" stroke="#00ff00" stroke-width="2.8"/>
<text transform="translate(1884.0,364.7) scale(0.964,1)" font-size="24" text-anchor="end">Cr (3d)</text>
<line x1="1899.8" y1="356.5" x2="1917.8" y2="356.5" stroke="#ff0000" stroke-width="2.8"/>
<text transform="translate(1884.0,387.0) scale(0.951,1)" font-size="24" text-anchor="end">S (3p)</text>
<line x1="1899.8" y1="378.8" x2="1917.8" y2="378.8" stroke="#0000ff" stroke-width="2.8"/>
<text transform="translate(1884.0,409.3) scale(0.966,1)" font-size="24" text-anchor="end">P (3p)</text>
<line x1="1899.8" y1="401.1" x2="1917.8" y2="401.1" stroke="#ff00ff" stroke-width="2.8"/>
</g></svg></div></body></html>
